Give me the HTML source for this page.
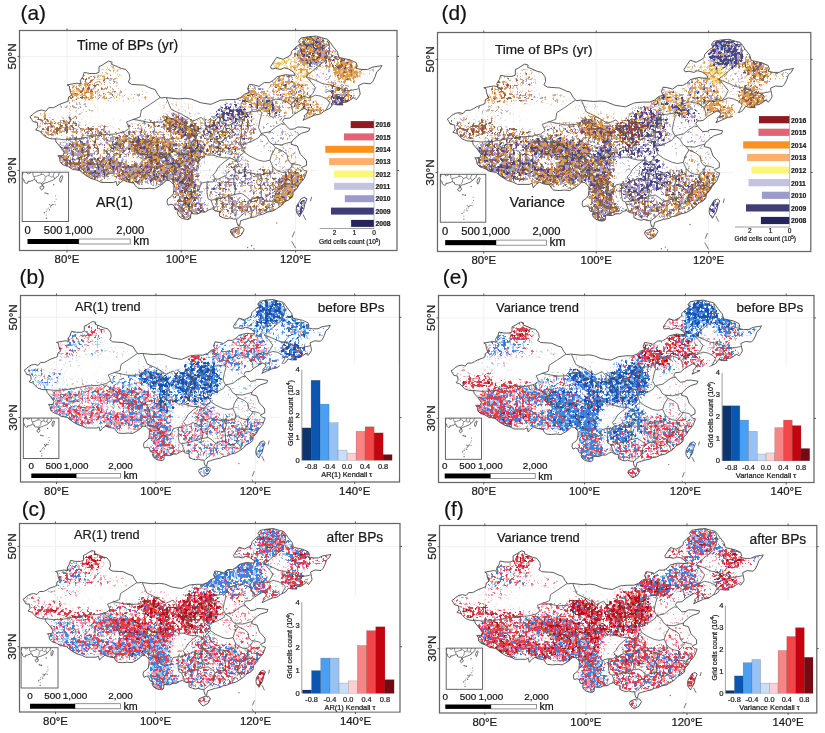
<!DOCTYPE html><html><head><meta charset="utf-8"><style>html,body{margin:0;padding:0;background:#fff;}svg{display:block} text{stroke:#1a1a1a;stroke-width:0.22px;}</style></head><body>
<svg width="825" height="733" viewBox="0 0 825 733" font-family="'Liberation Sans', Arial, sans-serif">
<rect width="825" height="733" fill="#fff"/>
<g id="panel-a">
<line x1="67.0" y1="30.5" x2="67.0" y2="250.5" stroke="#f1f1f1" stroke-width="1"/>
<line x1="181.3" y1="30.5" x2="181.3" y2="250.5" stroke="#f1f1f1" stroke-width="1"/>
<line x1="295.6" y1="30.5" x2="295.6" y2="250.5" stroke="#f1f1f1" stroke-width="1"/>
<line x1="19.5" y1="170.5" x2="397.0" y2="170.5" stroke="#f1f1f1" stroke-width="1"/>
<line x1="19.5" y1="56.4" x2="397.0" y2="56.4" stroke="#f1f1f1" stroke-width="1"/>
<clipPath id="clip-a"><path d="M29.9,116.6L32.1,115.2L34.4,112.9L37.9,110.9L41.9,110.0L45.9,111.2L48.7,107.7L53.3,107.7L56.7,106.0L59.6,104.3L65.9,102.0L68.1,100.9L68.7,96.9L71.6,95.2L69.9,90.1L69.3,86.1L67.0,84.9L76.7,83.2L81.3,83.8L80.1,80.9L83.0,76.4L84.1,72.4L89.9,73.5L95.6,73.5L99.0,72.4L99.0,66.7L102.4,65.0L105.9,62.7L108.7,61.1L112.1,62.1L111.6,64.4L116.1,66.1L121.3,68.4L125.9,69.5L129.3,74.1L129.9,78.6L128.2,82.1L131.6,84.4L140.2,84.9L144.2,85.2L151.0,88.3L155.0,89.5L157.9,94.6L160.7,98.0L165.3,97.5L178.4,98.9L185.9,98.3L191.6,99.2L200.2,102.6L207.0,103.8L211.0,104.3L220.2,100.3L228.2,99.5L235.6,99.5L240.7,97.5L244.7,94.1L249.3,92.3L247.6,88.9L249.3,84.4L253.9,84.9L259.0,86.4L264.2,82.6L269.3,82.6L273.3,80.4L276.7,76.9L280.7,75.8L285.9,74.7L289.9,75.2L295.0,75.2L293.9,72.4L288.7,69.0L284.2,67.8L280.7,69.5L275.6,68.4L271.6,69.0L270.5,66.7L273.9,61.5L276.7,57.3L283.0,59.3L287.6,57.0L291.0,54.7L291.6,51.3L295.6,47.3L300.2,43.8L298.5,41.6L300.7,38.1L308.7,36.7L316.2,36.1L323.0,38.1L327.6,39.3L330.5,42.7L332.7,46.1L337.3,51.8L339.0,57.5L344.7,58.7L349.9,59.8L356.2,62.7L357.3,66.1L356.2,68.4L361.3,69.5L367.6,69.5L372.2,67.2L379.0,66.1L381.9,65.5L379.6,69.5L376.8,71.8L375.0,76.9L372.8,81.5L370.5,83.8L363.6,83.2L358.5,85.5L359.6,90.6L360.2,94.1L358.5,96.9L356.2,99.8L353.9,97.5L350.5,99.8L347.0,102.0L341.9,102.6L343.0,104.9L337.3,104.9L333.3,103.8L329.9,108.3L324.2,111.2L320.2,114.0L314.5,115.2L308.2,118.0L303.0,120.3L304.7,117.4L304.2,115.7L307.0,113.5L308.2,110.6L304.2,108.3L300.2,110.6L294.5,114.0L289.9,118.0L284.2,118.6L282.5,121.4L285.3,124.9L289.9,129.4L294.5,128.9L297.3,127.1L302.5,127.1L309.9,128.3L308.7,131.1L301.3,133.4L297.9,135.7L292.2,140.8L291.0,144.3L297.3,146.0L300.2,154.0L303.6,157.4L306.5,160.8L306.5,165.4L301.3,167.6L304.2,170.5L307.0,171.1L304.2,178.5L301.9,181.3L299.0,184.8L296.7,188.8L293.3,192.2L292.7,196.7L289.3,199.6L284.7,201.9L281.9,205.3L276.7,208.7L272.7,211.0L267.6,212.1L262.5,214.4L258.5,215.0L255.6,216.7L249.9,217.9L244.2,219.6L240.7,220.7L239.6,225.8L237.9,225.3L236.7,221.8L236.7,219.0L233.3,219.0L229.9,217.9L227.0,218.7L223.6,217.9L219.6,216.1L219.6,211.6L215.6,211.0L212.2,208.7L208.7,209.9L205.3,212.1L201.3,212.1L197.9,213.9L193.9,213.9L191.0,213.3L190.4,218.4L188.2,219.6L184.2,219.0L181.3,217.9L178.4,215.6L177.3,212.7L178.4,210.4L175.0,209.3L173.9,205.3L171.0,204.2L168.2,205.3L167.0,202.4L167.6,199.0L171.0,196.7L173.3,193.9L173.9,189.3L173.9,184.8L171.6,182.5L169.9,180.8L166.4,180.2L163.6,183.1L159.6,185.9L154.4,188.8L149.3,188.2L143.6,188.8L137.9,188.2L135.6,185.9L133.9,183.1L127.6,181.9L123.6,180.2L119.6,183.1L117.3,185.9L116.1,181.3L113.3,182.5L107.0,182.5L101.3,182.5L96.7,180.2L91.0,178.5L85.3,175.1L79.6,170.5L74.4,169.4L72.7,169.4L68.1,166.5L63.0,164.8L60.1,161.9L59.6,157.9L57.9,155.7L63.0,155.7L64.1,152.2L61.3,148.3L59.6,146.0L56.1,142.0L55.6,139.1L49.9,138.6L45.3,136.8L41.9,133.4L39.6,131.1L35.6,130.0L37.9,127.1L37.3,122.6L32.7,121.4L31.6,119.2L29.9,116.6ZM301.3,198.5L304.7,197.3L307.0,199.0L304.7,204.7L303.6,209.9L300.7,214.4L299.6,216.7L296.7,212.7L296.2,209.9L296.7,205.9L299.6,201.3ZM230.4,232.1L233.9,236.7L236.2,237.8L241.3,235.0L244.2,229.8L241.9,227.0L238.4,227.0L234.4,228.1L231.0,229.8Z"/></clipPath>
<clipPath id="fclip-a"><rect x="19.5" y="30.5" width="377.5" height="220.0"/></clipPath>
<g clip-path="url(#fclip-a)">
<g clip-path="url(#clip-a)">
<filter id="f1" x="19.5" y="30.5" width="377.5" height="220.0" filterUnits="userSpaceOnUse" color-interpolation-filters="sRGB"><feGaussianBlur in="SourceAlpha" stdDeviation="2.5" result="b"/><feTurbulence type="fractalNoise" baseFrequency="0.32" numOctaves="2" seed="31" result="n"/><feComponentTransfer in="n" result="u"><feFuncA type="table" tableValues="0.000 0.000 0.000 0.000 0.003 0.014 0.048 0.110 0.207 0.331 0.494 0.673 0.802 0.889 0.951 0.984 0.996 0.999 1.000 1.000 1.000"/></feComponentTransfer><feColorMatrix in="u" type="matrix" values="0 0 0 0 0 0 0 0 0 0 0 0 0 0 0 0 0 0 1 0" result="ua"/><feComponentTransfer in="b" result="bm"><feFuncA type="linear" slope="25" intercept="0"/></feComponentTransfer><feComposite in="b" in2="ua" operator="arithmetic" k2="8" k3="-8" k4="0.5" result="m0"/><feComposite in="m0" in2="bm" operator="in" result="m"/><feFlood flood-color="#a3a1d1"/><feComposite in2="m" operator="in"/><feGaussianBlur stdDeviation="0.6"/></filter>
<g filter="url(#f1)">
<ellipse cx="109.9" cy="73.5" rx="11.8" ry="7.9" transform="rotate(-30 109.9 73.5)" fill-opacity="0.071"/>
<ellipse cx="107.0" cy="94.6" rx="16.4" ry="4.6" transform="rotate(0 107.0 94.6)" fill-opacity="0.058"/>
<ellipse cx="135.6" cy="96.3" rx="16.4" ry="5.9" transform="rotate(0 135.6 96.3)" fill-opacity="0.058"/>
<ellipse cx="104.1" cy="83.2" rx="16.4" ry="6.6" transform="rotate(0 104.1 83.2)" fill-opacity="0.045"/>
<ellipse cx="75.6" cy="106.6" rx="23.0" ry="4.6" transform="rotate(10 75.6 106.6)" fill-opacity="0.09"/>
<ellipse cx="87.0" cy="119.2" rx="39.4" ry="10.5" transform="rotate(0 87.0 119.2)" fill-opacity="0.014"/>
<ellipse cx="58.4" cy="127.7" rx="19.7" ry="5.9" transform="rotate(-25 58.4 127.7)" fill-opacity="0.214"/>
<ellipse cx="98.4" cy="131.7" rx="23.0" ry="3.9" transform="rotate(0 98.4 131.7)" fill-opacity="0.092"/>
<ellipse cx="41.3" cy="120.3" rx="9.9" ry="7.9" transform="rotate(0 41.3 120.3)" fill-opacity="0.071"/>
<ellipse cx="75.6" cy="156.2" rx="17.1" ry="17.7" transform="rotate(0 75.6 156.2)" fill-opacity="0.598"/>
<ellipse cx="101.3" cy="144.8" rx="23.0" ry="9.8" transform="rotate(0 101.3 144.8)" fill-opacity="0.194"/>
<ellipse cx="129.9" cy="144.8" rx="19.7" ry="9.8" transform="rotate(0 129.9 144.8)" fill-opacity="0.477"/>
<ellipse cx="101.3" cy="167.6" rx="23.0" ry="9.8" transform="rotate(-15 101.3 167.6)" fill-opacity="0.802"/>
<ellipse cx="132.7" cy="173.4" rx="16.4" ry="9.8" transform="rotate(0 132.7 173.4)" fill-opacity="0.74"/>
<ellipse cx="158.4" cy="167.6" rx="16.4" ry="16.4" transform="rotate(0 158.4 167.6)" fill-opacity="0.796"/>
<ellipse cx="147.0" cy="128.9" rx="19.7" ry="7.9" transform="rotate(0 147.0 128.9)" fill-opacity="0.078"/>
<ellipse cx="155.6" cy="147.7" rx="23.0" ry="10.5" transform="rotate(0 155.6 147.7)" fill-opacity="0.68"/>
<ellipse cx="181.3" cy="127.7" rx="19.7" ry="9.8" transform="rotate(20 181.3 127.7)" fill-opacity="0.463"/>
<ellipse cx="192.7" cy="150.5" rx="11.8" ry="11.8" transform="rotate(0 192.7 150.5)" fill-opacity="0.698"/>
<ellipse cx="184.2" cy="170.5" rx="13.1" ry="16.4" transform="rotate(0 184.2 170.5)" fill-opacity="0.796"/>
<ellipse cx="181.3" cy="110.6" rx="26.3" ry="7.9" transform="rotate(20 181.3 110.6)" fill-opacity="0.029"/>
<ellipse cx="215.6" cy="130.6" rx="13.1" ry="13.1" transform="rotate(0 215.6 130.6)" fill-opacity="0.338"/>
<ellipse cx="241.3" cy="127.7" rx="13.1" ry="16.4" transform="rotate(0 241.3 127.7)" fill-opacity="0.258"/>
<ellipse cx="232.7" cy="113.5" rx="16.4" ry="7.9" transform="rotate(0 232.7 113.5)" fill-opacity="0.534"/>
<ellipse cx="255.6" cy="99.2" rx="23.0" ry="9.8" transform="rotate(20 255.6 99.2)" fill-opacity="0.453"/>
<ellipse cx="289.9" cy="90.6" rx="19.7" ry="13.1" transform="rotate(30 289.9 90.6)" fill-opacity="0.282"/>
<ellipse cx="312.7" cy="50.7" rx="16.4" ry="14.4" transform="rotate(0 312.7 50.7)" fill-opacity="0.6"/>
<ellipse cx="338.5" cy="62.1" rx="11.8" ry="9.8" transform="rotate(0 338.5 62.1)" fill-opacity="0.17"/>
<ellipse cx="321.3" cy="79.2" rx="13.1" ry="13.1" transform="rotate(0 321.3 79.2)" fill-opacity="0.086"/>
<ellipse cx="340.2" cy="96.3" rx="15.1" ry="10.5" transform="rotate(40 340.2 96.3)" fill-opacity="0.299"/>
<ellipse cx="272.7" cy="110.6" rx="13.1" ry="6.6" transform="rotate(20 272.7 110.6)" fill-opacity="0.235"/>
<ellipse cx="272.7" cy="136.3" rx="16.4" ry="19.7" transform="rotate(0 272.7 136.3)" fill-opacity="0.069"/>
<ellipse cx="289.9" cy="134.6" rx="11.8" ry="7.2" transform="rotate(0 289.9 134.6)" fill-opacity="0.072"/>
<ellipse cx="224.2" cy="148.8" rx="19.7" ry="5.2" transform="rotate(0 224.2 148.8)" fill-opacity="0.407"/>
<ellipse cx="212.7" cy="170.5" rx="13.1" ry="13.1" transform="rotate(30 212.7 170.5)" fill-opacity="0.028"/>
<ellipse cx="238.4" cy="173.4" rx="13.1" ry="16.4" transform="rotate(0 238.4 173.4)" fill-opacity="0.261"/>
<ellipse cx="284.2" cy="159.1" rx="13.1" ry="13.1" transform="rotate(0 284.2 159.1)" fill-opacity="0.089"/>
<ellipse cx="264.2" cy="184.8" rx="16.4" ry="16.4" transform="rotate(0 264.2 184.8)" fill-opacity="0.224"/>
<ellipse cx="288.7" cy="187.6" rx="11.8" ry="19.7" transform="rotate(35 288.7 187.6)" fill-opacity="0.573"/>
<ellipse cx="220.2" cy="188.8" rx="13.1" ry="10.5" transform="rotate(0 220.2 188.8)" fill-opacity="0.275"/>
<ellipse cx="187.0" cy="190.5" rx="13.1" ry="13.1" transform="rotate(0 187.0 190.5)" fill-opacity="0.509"/>
<ellipse cx="189.9" cy="209.3" rx="16.4" ry="10.5" transform="rotate(0 189.9 209.3)" fill-opacity="0.534"/>
<ellipse cx="229.9" cy="205.9" rx="16.4" ry="9.8" transform="rotate(0 229.9 205.9)" fill-opacity="0.364"/>
<ellipse cx="258.5" cy="207.6" rx="16.4" ry="8.5" transform="rotate(0 258.5 207.6)" fill-opacity="0.353"/>
<ellipse cx="236.7" cy="232.1" rx="6.6" ry="5.2" transform="rotate(0 236.7 232.1)" fill-opacity="0.462"/>
<ellipse cx="301.3" cy="206.4" rx="3.9" ry="9.8" transform="rotate(15 301.3 206.4)" fill-opacity="0.471"/>
<ellipse cx="369.9" cy="70.7" rx="9.9" ry="5.2" transform="rotate(0 369.9 70.7)" fill-opacity="0.043"/>
<ellipse cx="78.4" cy="129.4" rx="34.3" ry="3.4" transform="rotate(5.0 78.4 129.4)" fill-opacity="0.198"/>
<ellipse cx="339.0" cy="100.3" rx="5.7" ry="4.0" transform="rotate(-30.0 339.0 100.3)" fill-opacity="0.573"/>
</g>
<filter id="f2" x="19.5" y="30.5" width="377.5" height="220.0" filterUnits="userSpaceOnUse" color-interpolation-filters="sRGB"><feGaussianBlur in="SourceAlpha" stdDeviation="2.5" result="b"/><feTurbulence type="fractalNoise" baseFrequency="0.32" numOctaves="2" seed="17" result="n"/><feComponentTransfer in="n" result="u"><feFuncA type="table" tableValues="0.000 0.000 0.000 0.000 0.003 0.014 0.048 0.110 0.207 0.331 0.494 0.673 0.802 0.889 0.951 0.984 0.996 0.999 1.000 1.000 1.000"/></feComponentTransfer><feColorMatrix in="u" type="matrix" values="0 0 0 0 0 0 0 0 0 0 0 0 0 0 0 0 0 0 1 0" result="ua"/><feComponentTransfer in="b" result="bm"><feFuncA type="linear" slope="25" intercept="0"/></feComponentTransfer><feComposite in="b" in2="ua" operator="arithmetic" k2="8" k3="-8" k4="0.5" result="m0"/><feComposite in="m0" in2="bm" operator="in" result="m"/><feFlood flood-color="#ece08a"/><feComposite in2="m" operator="in"/><feGaussianBlur stdDeviation="0.6"/></filter>
<g filter="url(#f2)">
<ellipse cx="109.9" cy="73.5" rx="11.8" ry="7.9" transform="rotate(-30 109.9 73.5)" fill-opacity="0.096"/>
<ellipse cx="284.2" cy="65.0" rx="11.8" ry="9.8" transform="rotate(0 284.2 65.0)" fill-opacity="0.381"/>
<ellipse cx="301.3" cy="70.7" rx="9.9" ry="11.8" transform="rotate(0 301.3 70.7)" fill-opacity="0.316"/>
</g>
<filter id="f3" x="19.5" y="30.5" width="377.5" height="220.0" filterUnits="userSpaceOnUse" color-interpolation-filters="sRGB"><feGaussianBlur in="SourceAlpha" stdDeviation="2.5" result="b"/><feTurbulence type="fractalNoise" baseFrequency="0.32" numOctaves="2" seed="10" result="n"/><feComponentTransfer in="n" result="u"><feFuncA type="table" tableValues="0.000 0.000 0.000 0.000 0.003 0.014 0.048 0.110 0.207 0.331 0.494 0.673 0.802 0.889 0.951 0.984 0.996 0.999 1.000 1.000 1.000"/></feComponentTransfer><feColorMatrix in="u" type="matrix" values="0 0 0 0 0 0 0 0 0 0 0 0 0 0 0 0 0 0 1 0" result="ua"/><feComponentTransfer in="b" result="bm"><feFuncA type="linear" slope="25" intercept="0"/></feComponentTransfer><feComposite in="b" in2="ua" operator="arithmetic" k2="8" k3="-8" k4="0.5" result="m0"/><feComposite in="m0" in2="bm" operator="in" result="m"/><feFlood flood-color="#f5bf88"/><feComposite in2="m" operator="in"/><feGaussianBlur stdDeviation="0.6"/></filter>
<g filter="url(#f3)">
<ellipse cx="81.3" cy="93.5" rx="16.4" ry="5.9" transform="rotate(0 81.3 93.5)" fill-opacity="0.282"/>
<ellipse cx="255.6" cy="99.2" rx="23.0" ry="9.8" transform="rotate(20 255.6 99.2)" fill-opacity="0.274"/>
<ellipse cx="289.9" cy="90.6" rx="19.7" ry="13.1" transform="rotate(30 289.9 90.6)" fill-opacity="0.22"/>
<ellipse cx="284.2" cy="65.0" rx="11.8" ry="9.8" transform="rotate(0 284.2 65.0)" fill-opacity="0.222"/>
<ellipse cx="347.0" cy="71.2" rx="12.5" ry="9.2" transform="rotate(0 347.0 71.2)" fill-opacity="0.74"/>
<ellipse cx="307.0" cy="107.7" rx="16.4" ry="8.5" transform="rotate(20 307.0 107.7)" fill-opacity="0.267"/>
<ellipse cx="301.3" cy="70.7" rx="9.9" ry="11.8" transform="rotate(0 301.3 70.7)" fill-opacity="0.174"/>
</g>
<filter id="f4" x="19.5" y="30.5" width="377.5" height="220.0" filterUnits="userSpaceOnUse" color-interpolation-filters="sRGB"><feGaussianBlur in="SourceAlpha" stdDeviation="2.5" result="b"/><feTurbulence type="fractalNoise" baseFrequency="0.32" numOctaves="2" seed="3" result="n"/><feComponentTransfer in="n" result="u"><feFuncA type="table" tableValues="0.000 0.000 0.000 0.000 0.003 0.014 0.048 0.110 0.207 0.331 0.494 0.673 0.802 0.889 0.951 0.984 0.996 0.999 1.000 1.000 1.000"/></feComponentTransfer><feColorMatrix in="u" type="matrix" values="0 0 0 0 0 0 0 0 0 0 0 0 0 0 0 0 0 0 1 0" result="ua"/><feComponentTransfer in="b" result="bm"><feFuncA type="linear" slope="25" intercept="0"/></feComponentTransfer><feComposite in="b" in2="ua" operator="arithmetic" k2="8" k3="-8" k4="0.5" result="m0"/><feComposite in="m0" in2="bm" operator="in" result="m"/><feFlood flood-color="#e09a4c"/><feComposite in2="m" operator="in"/><feGaussianBlur stdDeviation="0.6"/></filter>
<g filter="url(#f4)">
<ellipse cx="109.9" cy="73.5" rx="11.8" ry="7.9" transform="rotate(-30 109.9 73.5)" fill-opacity="0.074"/>
<ellipse cx="87.0" cy="82.1" rx="9.9" ry="6.6" transform="rotate(0 87.0 82.1)" fill-opacity="0.224"/>
<ellipse cx="81.3" cy="93.5" rx="16.4" ry="5.9" transform="rotate(0 81.3 93.5)" fill-opacity="0.413"/>
<ellipse cx="107.0" cy="94.6" rx="16.4" ry="4.6" transform="rotate(0 107.0 94.6)" fill-opacity="0.163"/>
<ellipse cx="135.6" cy="96.3" rx="16.4" ry="5.9" transform="rotate(0 135.6 96.3)" fill-opacity="0.055"/>
<ellipse cx="104.1" cy="83.2" rx="16.4" ry="6.6" transform="rotate(0 104.1 83.2)" fill-opacity="0.043"/>
<ellipse cx="75.6" cy="106.6" rx="23.0" ry="4.6" transform="rotate(10 75.6 106.6)" fill-opacity="0.043"/>
<ellipse cx="58.4" cy="127.7" rx="19.7" ry="5.9" transform="rotate(-25 58.4 127.7)" fill-opacity="0.286"/>
<ellipse cx="98.4" cy="131.7" rx="23.0" ry="3.9" transform="rotate(0 98.4 131.7)" fill-opacity="0.128"/>
<ellipse cx="41.3" cy="120.3" rx="9.9" ry="7.9" transform="rotate(0 41.3 120.3)" fill-opacity="0.124"/>
<ellipse cx="75.6" cy="156.2" rx="17.1" ry="17.7" transform="rotate(0 75.6 156.2)" fill-opacity="0.295"/>
<ellipse cx="101.3" cy="144.8" rx="23.0" ry="9.8" transform="rotate(0 101.3 144.8)" fill-opacity="0.135"/>
<ellipse cx="129.9" cy="144.8" rx="19.7" ry="9.8" transform="rotate(0 129.9 144.8)" fill-opacity="0.323"/>
<ellipse cx="101.3" cy="167.6" rx="23.0" ry="9.8" transform="rotate(-15 101.3 167.6)" fill-opacity="0.368"/>
<ellipse cx="132.7" cy="173.4" rx="16.4" ry="9.8" transform="rotate(0 132.7 173.4)" fill-opacity="0.52"/>
<ellipse cx="158.4" cy="167.6" rx="16.4" ry="16.4" transform="rotate(0 158.4 167.6)" fill-opacity="0.374"/>
<ellipse cx="147.0" cy="128.9" rx="19.7" ry="7.9" transform="rotate(0 147.0 128.9)" fill-opacity="0.135"/>
<ellipse cx="155.6" cy="147.7" rx="23.0" ry="10.5" transform="rotate(0 155.6 147.7)" fill-opacity="0.63"/>
<ellipse cx="181.3" cy="127.7" rx="19.7" ry="9.8" transform="rotate(20 181.3 127.7)" fill-opacity="0.735"/>
<ellipse cx="192.7" cy="150.5" rx="11.8" ry="11.8" transform="rotate(0 192.7 150.5)" fill-opacity="0.561"/>
<ellipse cx="184.2" cy="170.5" rx="13.1" ry="16.4" transform="rotate(0 184.2 170.5)" fill-opacity="0.374"/>
<ellipse cx="181.3" cy="110.6" rx="26.3" ry="7.9" transform="rotate(20 181.3 110.6)" fill-opacity="0.041"/>
<ellipse cx="215.6" cy="130.6" rx="13.1" ry="13.1" transform="rotate(0 215.6 130.6)" fill-opacity="0.297"/>
<ellipse cx="241.3" cy="127.7" rx="13.1" ry="16.4" transform="rotate(0 241.3 127.7)" fill-opacity="0.205"/>
<ellipse cx="232.7" cy="113.5" rx="16.4" ry="7.9" transform="rotate(0 232.7 113.5)" fill-opacity="0.118"/>
<ellipse cx="255.6" cy="99.2" rx="23.0" ry="9.8" transform="rotate(20 255.6 99.2)" fill-opacity="0.434"/>
<ellipse cx="289.9" cy="90.6" rx="19.7" ry="13.1" transform="rotate(30 289.9 90.6)" fill-opacity="0.326"/>
<ellipse cx="284.2" cy="65.0" rx="11.8" ry="9.8" transform="rotate(0 284.2 65.0)" fill-opacity="0.069"/>
<ellipse cx="312.7" cy="50.7" rx="16.4" ry="14.4" transform="rotate(0 312.7 50.7)" fill-opacity="0.692"/>
<ellipse cx="338.5" cy="62.1" rx="11.8" ry="9.8" transform="rotate(0 338.5 62.1)" fill-opacity="0.459"/>
<ellipse cx="321.3" cy="79.2" rx="13.1" ry="13.1" transform="rotate(0 321.3 79.2)" fill-opacity="0.041"/>
<ellipse cx="347.0" cy="71.2" rx="12.5" ry="9.2" transform="rotate(0 347.0 71.2)" fill-opacity="0.689"/>
<ellipse cx="340.2" cy="96.3" rx="15.1" ry="10.5" transform="rotate(40 340.2 96.3)" fill-opacity="0.35"/>
<ellipse cx="307.0" cy="107.7" rx="16.4" ry="8.5" transform="rotate(20 307.0 107.7)" fill-opacity="0.4"/>
<ellipse cx="272.7" cy="110.6" rx="13.1" ry="6.6" transform="rotate(20 272.7 110.6)" fill-opacity="0.261"/>
<ellipse cx="289.9" cy="134.6" rx="11.8" ry="7.2" transform="rotate(0 289.9 134.6)" fill-opacity="0.041"/>
<ellipse cx="224.2" cy="148.8" rx="19.7" ry="5.2" transform="rotate(0 224.2 148.8)" fill-opacity="0.379"/>
<ellipse cx="238.4" cy="173.4" rx="13.1" ry="16.4" transform="rotate(0 238.4 173.4)" fill-opacity="0.08"/>
<ellipse cx="284.2" cy="159.1" rx="13.1" ry="13.1" transform="rotate(0 284.2 159.1)" fill-opacity="0.069"/>
<ellipse cx="264.2" cy="184.8" rx="16.4" ry="16.4" transform="rotate(0 264.2 184.8)" fill-opacity="0.13"/>
<ellipse cx="288.7" cy="187.6" rx="11.8" ry="19.7" transform="rotate(35 288.7 187.6)" fill-opacity="0.632"/>
<ellipse cx="220.2" cy="188.8" rx="13.1" ry="10.5" transform="rotate(0 220.2 188.8)" fill-opacity="0.084"/>
<ellipse cx="187.0" cy="190.5" rx="13.1" ry="13.1" transform="rotate(0 187.0 190.5)" fill-opacity="0.337"/>
<ellipse cx="189.9" cy="209.3" rx="16.4" ry="10.5" transform="rotate(0 189.9 209.3)" fill-opacity="0.211"/>
<ellipse cx="229.9" cy="205.9" rx="16.4" ry="9.8" transform="rotate(0 229.9 205.9)" fill-opacity="0.139"/>
<ellipse cx="258.5" cy="207.6" rx="16.4" ry="8.5" transform="rotate(0 258.5 207.6)" fill-opacity="0.261"/>
<ellipse cx="236.7" cy="232.1" rx="6.6" ry="5.2" transform="rotate(0 236.7 232.1)" fill-opacity="0.381"/>
<ellipse cx="301.3" cy="70.7" rx="9.9" ry="11.8" transform="rotate(0 301.3 70.7)" fill-opacity="0.207"/>
<ellipse cx="78.4" cy="129.4" rx="34.3" ry="3.4" transform="rotate(5.0 78.4 129.4)" fill-opacity="0.229"/>
</g>
<filter id="f5" x="19.5" y="30.5" width="377.5" height="220.0" filterUnits="userSpaceOnUse" color-interpolation-filters="sRGB"><feGaussianBlur in="SourceAlpha" stdDeviation="2.5" result="b"/><feTurbulence type="fractalNoise" baseFrequency="0.32" numOctaves="2" seed="45" result="n"/><feComponentTransfer in="n" result="u"><feFuncA type="table" tableValues="0.000 0.000 0.000 0.000 0.003 0.014 0.048 0.110 0.207 0.331 0.494 0.673 0.802 0.889 0.951 0.984 0.996 0.999 1.000 1.000 1.000"/></feComponentTransfer><feColorMatrix in="u" type="matrix" values="0 0 0 0 0 0 0 0 0 0 0 0 0 0 0 0 0 0 1 0" result="ua"/><feComponentTransfer in="b" result="bm"><feFuncA type="linear" slope="25" intercept="0"/></feComponentTransfer><feComposite in="b" in2="ua" operator="arithmetic" k2="8" k3="-8" k4="0.5" result="m0"/><feComposite in="m0" in2="bm" operator="in" result="m"/><feFlood flood-color="#e07a85"/><feComposite in2="m" operator="in"/><feGaussianBlur stdDeviation="0.6"/></filter>
<g filter="url(#f5)">
<ellipse cx="107.0" cy="94.6" rx="16.4" ry="4.6" transform="rotate(0 107.0 94.6)" fill-opacity="0.047"/>
</g>
<filter id="f6" x="19.5" y="30.5" width="377.5" height="220.0" filterUnits="userSpaceOnUse" color-interpolation-filters="sRGB"><feGaussianBlur in="SourceAlpha" stdDeviation="2.5" result="b"/><feTurbulence type="fractalNoise" baseFrequency="0.32" numOctaves="2" seed="52" result="n"/><feComponentTransfer in="n" result="u"><feFuncA type="table" tableValues="0.000 0.000 0.000 0.000 0.003 0.014 0.048 0.110 0.207 0.331 0.494 0.673 0.802 0.889 0.951 0.984 0.996 0.999 1.000 1.000 1.000"/></feComponentTransfer><feColorMatrix in="u" type="matrix" values="0 0 0 0 0 0 0 0 0 0 0 0 0 0 0 0 0 0 1 0" result="ua"/><feComponentTransfer in="b" result="bm"><feFuncA type="linear" slope="25" intercept="0"/></feComponentTransfer><feComposite in="b" in2="ua" operator="arithmetic" k2="8" k3="-8" k4="0.5" result="m0"/><feComposite in="m0" in2="bm" operator="in" result="m"/><feFlood flood-color="#8f6450"/><feComposite in2="m" operator="in"/><feGaussianBlur stdDeviation="0.6"/></filter>
<g filter="url(#f6)">
<ellipse cx="109.9" cy="73.5" rx="11.8" ry="7.9" transform="rotate(-30 109.9 73.5)" fill-opacity="0.069"/>
<ellipse cx="87.0" cy="82.1" rx="9.9" ry="6.6" transform="rotate(0 87.0 82.1)" fill-opacity="0.219"/>
<ellipse cx="81.3" cy="93.5" rx="16.4" ry="5.9" transform="rotate(0 81.3 93.5)" fill-opacity="0.166"/>
<ellipse cx="107.0" cy="94.6" rx="16.4" ry="4.6" transform="rotate(0 107.0 94.6)" fill-opacity="0.11"/>
<ellipse cx="104.1" cy="83.2" rx="16.4" ry="6.6" transform="rotate(0 104.1 83.2)" fill-opacity="0.041"/>
<ellipse cx="75.6" cy="106.6" rx="23.0" ry="4.6" transform="rotate(10 75.6 106.6)" fill-opacity="0.041"/>
<ellipse cx="58.4" cy="127.7" rx="19.7" ry="5.9" transform="rotate(-25 58.4 127.7)" fill-opacity="0.276"/>
<ellipse cx="98.4" cy="131.7" rx="23.0" ry="3.9" transform="rotate(0 98.4 131.7)" fill-opacity="0.138"/>
<ellipse cx="41.3" cy="120.3" rx="9.9" ry="7.9" transform="rotate(0 41.3 120.3)" fill-opacity="0.11"/>
<ellipse cx="75.6" cy="156.2" rx="17.1" ry="17.7" transform="rotate(0 75.6 156.2)" fill-opacity="0.296"/>
<ellipse cx="101.3" cy="144.8" rx="23.0" ry="9.8" transform="rotate(0 101.3 144.8)" fill-opacity="0.144"/>
<ellipse cx="129.9" cy="144.8" rx="19.7" ry="9.8" transform="rotate(0 129.9 144.8)" fill-opacity="0.279"/>
<ellipse cx="101.3" cy="167.6" rx="23.0" ry="9.8" transform="rotate(-15 101.3 167.6)" fill-opacity="0.336"/>
<ellipse cx="132.7" cy="173.4" rx="16.4" ry="9.8" transform="rotate(0 132.7 173.4)" fill-opacity="0.372"/>
<ellipse cx="158.4" cy="167.6" rx="16.4" ry="16.4" transform="rotate(0 158.4 167.6)" fill-opacity="0.384"/>
<ellipse cx="147.0" cy="128.9" rx="19.7" ry="7.9" transform="rotate(0 147.0 128.9)" fill-opacity="0.144"/>
<ellipse cx="155.6" cy="147.7" rx="23.0" ry="10.5" transform="rotate(0 155.6 147.7)" fill-opacity="0.344"/>
<ellipse cx="181.3" cy="127.7" rx="19.7" ry="9.8" transform="rotate(20 181.3 127.7)" fill-opacity="0.424"/>
<ellipse cx="192.7" cy="150.5" rx="11.8" ry="11.8" transform="rotate(0 192.7 150.5)" fill-opacity="0.338"/>
<ellipse cx="184.2" cy="170.5" rx="13.1" ry="16.4" transform="rotate(0 184.2 170.5)" fill-opacity="0.384"/>
<ellipse cx="215.6" cy="130.6" rx="13.1" ry="13.1" transform="rotate(0 215.6 130.6)" fill-opacity="0.192"/>
<ellipse cx="241.3" cy="127.7" rx="13.1" ry="16.4" transform="rotate(0 241.3 127.7)" fill-opacity="0.12"/>
<ellipse cx="312.7" cy="50.7" rx="16.4" ry="14.4" transform="rotate(0 312.7 50.7)" fill-opacity="0.293"/>
<ellipse cx="338.5" cy="62.1" rx="11.8" ry="9.8" transform="rotate(0 338.5 62.1)" fill-opacity="0.155"/>
<ellipse cx="347.0" cy="71.2" rx="12.5" ry="9.2" transform="rotate(0 347.0 71.2)" fill-opacity="0.133"/>
<ellipse cx="340.2" cy="96.3" rx="15.1" ry="10.5" transform="rotate(40 340.2 96.3)" fill-opacity="0.226"/>
<ellipse cx="307.0" cy="107.7" rx="16.4" ry="8.5" transform="rotate(20 307.0 107.7)" fill-opacity="0.074"/>
<ellipse cx="272.7" cy="110.6" rx="13.1" ry="6.6" transform="rotate(20 272.7 110.6)" fill-opacity="0.08"/>
<ellipse cx="224.2" cy="148.8" rx="19.7" ry="5.2" transform="rotate(0 224.2 148.8)" fill-opacity="0.24"/>
<ellipse cx="238.4" cy="173.4" rx="13.1" ry="16.4" transform="rotate(0 238.4 173.4)" fill-opacity="0.074"/>
<ellipse cx="264.2" cy="184.8" rx="16.4" ry="16.4" transform="rotate(0 264.2 184.8)" fill-opacity="0.115"/>
<ellipse cx="288.7" cy="187.6" rx="11.8" ry="19.7" transform="rotate(35 288.7 187.6)" fill-opacity="0.296"/>
<ellipse cx="220.2" cy="188.8" rx="13.1" ry="10.5" transform="rotate(0 220.2 188.8)" fill-opacity="0.119"/>
<ellipse cx="187.0" cy="190.5" rx="13.1" ry="13.1" transform="rotate(0 187.0 190.5)" fill-opacity="0.31"/>
<ellipse cx="189.9" cy="209.3" rx="16.4" ry="10.5" transform="rotate(0 189.9 209.3)" fill-opacity="0.296"/>
<ellipse cx="229.9" cy="205.9" rx="16.4" ry="9.8" transform="rotate(0 229.9 205.9)" fill-opacity="0.207"/>
<ellipse cx="258.5" cy="207.6" rx="16.4" ry="8.5" transform="rotate(0 258.5 207.6)" fill-opacity="0.207"/>
<ellipse cx="236.7" cy="232.1" rx="6.6" ry="5.2" transform="rotate(0 236.7 232.1)" fill-opacity="0.276"/>
<ellipse cx="369.9" cy="70.7" rx="9.9" ry="5.2" transform="rotate(0 369.9 70.7)" fill-opacity="0.041"/>
<ellipse cx="78.4" cy="129.4" rx="34.3" ry="3.4" transform="rotate(5.0 78.4 129.4)" fill-opacity="0.276"/>
</g>
<filter id="f7" x="19.5" y="30.5" width="377.5" height="220.0" filterUnits="userSpaceOnUse" color-interpolation-filters="sRGB"><feGaussianBlur in="SourceAlpha" stdDeviation="2.5" result="b"/><feTurbulence type="fractalNoise" baseFrequency="0.32" numOctaves="2" seed="38" result="n"/><feComponentTransfer in="n" result="u"><feFuncA type="table" tableValues="0.000 0.000 0.000 0.000 0.003 0.014 0.048 0.110 0.207 0.331 0.494 0.673 0.802 0.889 0.951 0.984 0.996 0.999 1.000 1.000 1.000"/></feComponentTransfer><feColorMatrix in="u" type="matrix" values="0 0 0 0 0 0 0 0 0 0 0 0 0 0 0 0 0 0 1 0" result="ua"/><feComponentTransfer in="b" result="bm"><feFuncA type="linear" slope="25" intercept="0"/></feComponentTransfer><feComposite in="b" in2="ua" operator="arithmetic" k2="8" k3="-8" k4="0.5" result="m0"/><feComposite in="m0" in2="bm" operator="in" result="m"/><feFlood flood-color="#a03c3c"/><feComposite in2="m" operator="in"/><feGaussianBlur stdDeviation="0.6"/></filter>
<g filter="url(#f7)">
<ellipse cx="87.0" cy="82.1" rx="9.9" ry="6.6" transform="rotate(0 87.0 82.1)" fill-opacity="0.055"/>
</g>
<filter id="f8" x="19.5" y="30.5" width="377.5" height="220.0" filterUnits="userSpaceOnUse" color-interpolation-filters="sRGB"><feGaussianBlur in="SourceAlpha" stdDeviation="2.5" result="b"/><feTurbulence type="fractalNoise" baseFrequency="0.32" numOctaves="2" seed="24" result="n"/><feComponentTransfer in="n" result="u"><feFuncA type="table" tableValues="0.000 0.000 0.000 0.000 0.003 0.014 0.048 0.110 0.207 0.331 0.494 0.673 0.802 0.889 0.951 0.984 0.996 0.999 1.000 1.000 1.000"/></feComponentTransfer><feColorMatrix in="u" type="matrix" values="0 0 0 0 0 0 0 0 0 0 0 0 0 0 0 0 0 0 1 0" result="ua"/><feComponentTransfer in="b" result="bm"><feFuncA type="linear" slope="25" intercept="0"/></feComponentTransfer><feComposite in="b" in2="ua" operator="arithmetic" k2="8" k3="-8" k4="0.5" result="m0"/><feComposite in="m0" in2="bm" operator="in" result="m"/><feFlood flood-color="#46458e"/><feComposite in2="m" operator="in"/><feGaussianBlur stdDeviation="0.6"/></filter>
<g filter="url(#f8)">
<ellipse cx="75.6" cy="156.2" rx="17.1" ry="17.7" transform="rotate(0 75.6 156.2)" fill-opacity="0.069"/>
<ellipse cx="101.3" cy="144.8" rx="23.0" ry="9.8" transform="rotate(0 101.3 144.8)" fill-opacity="0.041"/>
<ellipse cx="129.9" cy="144.8" rx="19.7" ry="9.8" transform="rotate(0 129.9 144.8)" fill-opacity="0.11"/>
<ellipse cx="101.3" cy="167.6" rx="23.0" ry="9.8" transform="rotate(-15 101.3 167.6)" fill-opacity="0.155"/>
<ellipse cx="132.7" cy="173.4" rx="16.4" ry="9.8" transform="rotate(0 132.7 173.4)" fill-opacity="0.106"/>
<ellipse cx="158.4" cy="167.6" rx="16.4" ry="16.4" transform="rotate(0 158.4 167.6)" fill-opacity="0.109"/>
<ellipse cx="147.0" cy="128.9" rx="19.7" ry="7.9" transform="rotate(0 147.0 128.9)" fill-opacity="0.041"/>
<ellipse cx="155.6" cy="147.7" rx="23.0" ry="10.5" transform="rotate(0 155.6 147.7)" fill-opacity="0.099"/>
<ellipse cx="181.3" cy="127.7" rx="19.7" ry="9.8" transform="rotate(20 181.3 127.7)" fill-opacity="0.145"/>
<ellipse cx="192.7" cy="150.5" rx="11.8" ry="11.8" transform="rotate(0 192.7 150.5)" fill-opacity="0.202"/>
<ellipse cx="184.2" cy="170.5" rx="13.1" ry="16.4" transform="rotate(0 184.2 170.5)" fill-opacity="0.109"/>
<ellipse cx="215.6" cy="130.6" rx="13.1" ry="13.1" transform="rotate(0 215.6 130.6)" fill-opacity="0.138"/>
<ellipse cx="241.3" cy="127.7" rx="13.1" ry="16.4" transform="rotate(0 241.3 127.7)" fill-opacity="0.083"/>
<ellipse cx="232.7" cy="113.5" rx="16.4" ry="7.9" transform="rotate(0 232.7 113.5)" fill-opacity="0.414"/>
<ellipse cx="255.6" cy="99.2" rx="23.0" ry="9.8" transform="rotate(20 255.6 99.2)" fill-opacity="0.11"/>
<ellipse cx="289.9" cy="90.6" rx="19.7" ry="13.1" transform="rotate(30 289.9 90.6)" fill-opacity="0.069"/>
<ellipse cx="312.7" cy="50.7" rx="16.4" ry="14.4" transform="rotate(0 312.7 50.7)" fill-opacity="0.196"/>
<ellipse cx="338.5" cy="62.1" rx="11.8" ry="9.8" transform="rotate(0 338.5 62.1)" fill-opacity="0.11"/>
<ellipse cx="340.2" cy="96.3" rx="15.1" ry="10.5" transform="rotate(40 340.2 96.3)" fill-opacity="0.083"/>
<ellipse cx="307.0" cy="107.7" rx="16.4" ry="8.5" transform="rotate(20 307.0 107.7)" fill-opacity="0.069"/>
<ellipse cx="272.7" cy="110.6" rx="13.1" ry="6.6" transform="rotate(20 272.7 110.6)" fill-opacity="0.138"/>
<ellipse cx="224.2" cy="148.8" rx="19.7" ry="5.2" transform="rotate(0 224.2 148.8)" fill-opacity="0.138"/>
<ellipse cx="238.4" cy="173.4" rx="13.1" ry="16.4" transform="rotate(0 238.4 173.4)" fill-opacity="0.069"/>
<ellipse cx="264.2" cy="184.8" rx="16.4" ry="16.4" transform="rotate(0 264.2 184.8)" fill-opacity="0.041"/>
<ellipse cx="288.7" cy="187.6" rx="11.8" ry="19.7" transform="rotate(35 288.7 187.6)" fill-opacity="0.069"/>
<ellipse cx="220.2" cy="188.8" rx="13.1" ry="10.5" transform="rotate(0 220.2 188.8)" fill-opacity="0.069"/>
<ellipse cx="187.0" cy="190.5" rx="13.1" ry="13.1" transform="rotate(0 187.0 190.5)" fill-opacity="0.11"/>
<ellipse cx="189.9" cy="209.3" rx="16.4" ry="10.5" transform="rotate(0 189.9 209.3)" fill-opacity="0.069"/>
<ellipse cx="301.3" cy="206.4" rx="3.9" ry="9.8" transform="rotate(15 301.3 206.4)" fill-opacity="0.414"/>
<ellipse cx="339.0" cy="100.3" rx="5.7" ry="4.0" transform="rotate(-30.0 339.0 100.3)" fill-opacity="0.759"/>
</g>
</g>
<path d="M54.4,138.6L64.1,139.7L76.1,139.1L89.9,136.8L103.0,134.6L115.6,134.0L124.7,131.7L129.3,128.3L126.4,122.0L140.2,116.9L141.3,110.0L149.3,104.9L160.2,97.5M123.6,133.4L128.7,137.4L134.4,140.3L138.4,144.3L136.7,150.0L140.2,154.5L147.0,154.5L152.7,154.0L158.4,156.2L164.2,157.4L168.7,154.0M168.7,154.0L172.7,159.1L175.0,167.6L174.4,173.4L173.3,178.5L173.3,180.8M168.7,154.0L173.9,151.1L181.3,154.5L188.2,154.5L191.6,150.0L194.4,151.1M132.7,119.2L149.9,122.6L161.3,122.0L168.7,118.0L174.4,119.2L179.6,123.7L187.0,126.0L195.6,130.6L197.3,134.6L195.6,139.1L191.6,142.0L190.4,146.5L194.4,151.1M166.4,98.0L171.3,109.5L181.3,114.0L193.1,121.1L201.3,117.4L205.3,122.0L205.9,127.7M205.9,128.3L211.0,127.1L214.4,121.4L218.4,116.9L220.2,118.0L221.3,122.6L224.7,125.4L223.0,130.0L218.4,132.3L220.2,137.4L216.7,140.8L213.3,138.0L212.2,133.4L207.6,130.6L205.9,128.3M224.7,125.4L229.9,124.9L238.4,119.2L243.0,116.9L245.3,116.3L247.6,112.3L252.7,111.7L260.2,110.6L263.0,108.3L264.2,103.2L269.9,101.5L275.6,99.2L281.3,99.8L287.0,102.0L291.0,104.9L295.6,99.2L304.2,96.3L308.7,98.0L312.7,93.5L315.6,87.8L311.0,82.1L305.9,76.4L312.7,70.7L318.5,66.1L325.3,60.4L328.2,54.7L329.9,47.8L327.6,40.4M245.3,116.3L242.5,122.0L241.3,127.7L241.3,136.3L240.2,142.0L240.7,144.3M260.2,110.6L261.9,113.5L260.2,119.2L258.5,127.7L261.3,133.4L259.0,137.4L252.7,140.8L247.0,143.1L240.7,144.3M224.7,125.4L227.0,130.6L230.4,134.6L224.2,139.7L218.4,143.1L218.4,150.5L213.3,155.1M213.3,155.1L207.0,155.1L201.3,150.5L194.4,151.1M213.3,155.1L218.4,156.8L224.2,157.9L229.9,157.9L236.2,160.8L239.6,156.2L244.2,152.2L241.9,146.5L240.7,144.3M244.2,152.2L249.9,156.2L258.5,160.2L264.2,161.4L269.9,160.2L271.6,154.5L275.6,147.7L272.7,144.3L269.3,142.0L266.5,136.8L261.3,133.4M261.3,133.4L269.9,131.7L275.6,127.1L281.3,123.7L284.2,124.3M272.7,144.3L281.3,144.8L287.0,143.1L291.6,142.0M275.6,147.7L283.0,151.1L287.0,154.5L288.2,160.2L291.0,163.7L293.3,163.7L298.5,164.8L301.3,165.9M269.9,160.2L272.7,166.5L276.7,170.5L281.3,172.2L285.9,172.8L289.9,168.8L293.3,163.7M285.9,172.8L287.0,178.5L284.2,183.6L280.2,187.6L275.6,193.3L273.9,199.0L271.6,201.3M284.2,183.6L292.7,184.2L298.5,185.9M273.9,199.0L277.3,201.3L279.6,207.0M271.6,201.3L265.9,201.3L261.3,197.3L255.6,197.9L249.9,200.2M261.3,197.3L261.3,190.5L260.2,184.8L262.5,179.1L260.2,175.1L252.7,173.4L244.2,171.6L238.4,173.4L235.6,171.6M260.2,175.1L267.0,173.4L272.7,171.6L272.7,166.5M235.6,171.6L233.9,167.6L238.4,163.7L236.2,160.8M229.9,157.9L224.2,161.9L218.4,167.1L215.6,172.2L212.7,175.1L215.6,179.1L218.4,179.1L224.2,176.2L229.9,179.1L233.9,178.5L235.6,171.6M173.3,179.1L178.4,181.9L184.2,183.1L187.0,190.5L192.7,192.2L198.4,190.5L201.3,183.1L207.0,181.9L212.7,181.9L215.6,179.1M207.0,181.9L207.0,193.3L208.2,199.0L211.0,200.2L212.7,204.7L214.4,209.3M211.0,200.2L218.4,199.0L224.2,197.3L229.9,196.2L234.4,194.5L235.6,188.8L233.9,184.2L233.9,178.5M234.4,194.5L241.3,193.3L245.9,196.2L249.9,200.2L247.0,204.7L247.6,210.4L241.9,215.0L237.3,219.0M308.7,98.0L315.6,95.2L321.3,96.3L327.0,99.2L329.9,102.6L325.9,110.0M305.9,76.4L315.6,80.4L323.0,83.8L329.9,84.9L338.5,87.8L344.2,90.6L349.9,90.6L358.5,88.9M291.0,104.9L292.7,110.6L292.7,114.0" fill="none" stroke="#555" stroke-width="0.85" stroke-linejoin="round"/>
<path d="M29.9,116.6L32.1,115.2L34.4,112.9L37.9,110.9L41.9,110.0L45.9,111.2L48.7,107.7L53.3,107.7L56.7,106.0L59.6,104.3L65.9,102.0L68.1,100.9L68.7,96.9L71.6,95.2L69.9,90.1L69.3,86.1L67.0,84.9L76.7,83.2L81.3,83.8L80.1,80.9L83.0,76.4L84.1,72.4L89.9,73.5L95.6,73.5L99.0,72.4L99.0,66.7L102.4,65.0L105.9,62.7L108.7,61.1L112.1,62.1L111.6,64.4L116.1,66.1L121.3,68.4L125.9,69.5L129.3,74.1L129.9,78.6L128.2,82.1L131.6,84.4L140.2,84.9L144.2,85.2L151.0,88.3L155.0,89.5L157.9,94.6L160.7,98.0L165.3,97.5L178.4,98.9L185.9,98.3L191.6,99.2L200.2,102.6L207.0,103.8L211.0,104.3L220.2,100.3L228.2,99.5L235.6,99.5L240.7,97.5L244.7,94.1L249.3,92.3L247.6,88.9L249.3,84.4L253.9,84.9L259.0,86.4L264.2,82.6L269.3,82.6L273.3,80.4L276.7,76.9L280.7,75.8L285.9,74.7L289.9,75.2L295.0,75.2L293.9,72.4L288.7,69.0L284.2,67.8L280.7,69.5L275.6,68.4L271.6,69.0L270.5,66.7L273.9,61.5L276.7,57.3L283.0,59.3L287.6,57.0L291.0,54.7L291.6,51.3L295.6,47.3L300.2,43.8L298.5,41.6L300.7,38.1L308.7,36.7L316.2,36.1L323.0,38.1L327.6,39.3L330.5,42.7L332.7,46.1L337.3,51.8L339.0,57.5L344.7,58.7L349.9,59.8L356.2,62.7L357.3,66.1L356.2,68.4L361.3,69.5L367.6,69.5L372.2,67.2L379.0,66.1L381.9,65.5L379.6,69.5L376.8,71.8L375.0,76.9L372.8,81.5L370.5,83.8L363.6,83.2L358.5,85.5L359.6,90.6L360.2,94.1L358.5,96.9L356.2,99.8L353.9,97.5L350.5,99.8L347.0,102.0L341.9,102.6L343.0,104.9L337.3,104.9L333.3,103.8L329.9,108.3L324.2,111.2L320.2,114.0L314.5,115.2L308.2,118.0L303.0,120.3L304.7,117.4L304.2,115.7L307.0,113.5L308.2,110.6L304.2,108.3L300.2,110.6L294.5,114.0L289.9,118.0L284.2,118.6L282.5,121.4L285.3,124.9L289.9,129.4L294.5,128.9L297.3,127.1L302.5,127.1L309.9,128.3L308.7,131.1L301.3,133.4L297.9,135.7L292.2,140.8L291.0,144.3L297.3,146.0L300.2,154.0L303.6,157.4L306.5,160.8L306.5,165.4L301.3,167.6L304.2,170.5L307.0,171.1L304.2,178.5L301.9,181.3L299.0,184.8L296.7,188.8L293.3,192.2L292.7,196.7L289.3,199.6L284.7,201.9L281.9,205.3L276.7,208.7L272.7,211.0L267.6,212.1L262.5,214.4L258.5,215.0L255.6,216.7L249.9,217.9L244.2,219.6L240.7,220.7L239.6,225.8L237.9,225.3L236.7,221.8L236.7,219.0L233.3,219.0L229.9,217.9L227.0,218.7L223.6,217.9L219.6,216.1L219.6,211.6L215.6,211.0L212.2,208.7L208.7,209.9L205.3,212.1L201.3,212.1L197.9,213.9L193.9,213.9L191.0,213.3L190.4,218.4L188.2,219.6L184.2,219.0L181.3,217.9L178.4,215.6L177.3,212.7L178.4,210.4L175.0,209.3L173.9,205.3L171.0,204.2L168.2,205.3L167.0,202.4L167.6,199.0L171.0,196.7L173.3,193.9L173.9,189.3L173.9,184.8L171.6,182.5L169.9,180.8L166.4,180.2L163.6,183.1L159.6,185.9L154.4,188.8L149.3,188.2L143.6,188.8L137.9,188.2L135.6,185.9L133.9,183.1L127.6,181.9L123.6,180.2L119.6,183.1L117.3,185.9L116.1,181.3L113.3,182.5L107.0,182.5L101.3,182.5L96.7,180.2L91.0,178.5L85.3,175.1L79.6,170.5L74.4,169.4L72.7,169.4L68.1,166.5L63.0,164.8L60.1,161.9L59.6,157.9L57.9,155.7L63.0,155.7L64.1,152.2L61.3,148.3L59.6,146.0L56.1,142.0L55.6,139.1L49.9,138.6L45.3,136.8L41.9,133.4L39.6,131.1L35.6,130.0L37.9,127.1L37.3,122.6L32.7,121.4L31.6,119.2L29.9,116.6ZM301.3,198.5L304.7,197.3L307.0,199.0L304.7,204.7L303.6,209.9L300.7,214.4L299.6,216.7L296.7,212.7L296.2,209.9L296.7,205.9L299.6,201.3ZM230.4,232.1L233.9,236.7L236.2,237.8L241.3,235.0L244.2,229.8L241.9,227.0L238.4,227.0L234.4,228.1L231.0,229.8Z" fill="none" stroke="#4a4a4a" stroke-width="0.9"/>
<path d="M291.6,241.2L295.6,248.1M303.0,214.4L305.9,220.1M292.2,237.2L294.5,231.5M310.5,201.3L311.6,196.7" fill="none" stroke="#666" stroke-width="0.9"/>
<circle cx="247.6" cy="247.5" r="0.7" fill="#777"/>
<circle cx="251.6" cy="245.8" r="0.7" fill="#777"/>
<circle cx="253.9" cy="248.7" r="0.7" fill="#777"/>
<circle cx="249.3" cy="250.4" r="0.7" fill="#777"/>
<circle cx="276.7" cy="223.0" r="0.7" fill="#777"/>
</g>
<rect x="22.2" y="172.2" width="46.39999999999999" height="49.30000000000001" fill="#fff" stroke="#555" stroke-width="0.9"/>
<clipPath id="iclip-a"><rect x="22.2" y="172.2" width="46.39999999999999" height="49.30000000000001"/></clipPath>
<g clip-path="url(#iclip-a)" fill="none" stroke="#444" stroke-width="0.6">
<path d="M-20.4,147.2L-19.7,146.7L-19.0,145.9L-18.0,145.2L-16.8,144.9L-15.6,145.3L-14.7,144.1L-13.4,144.1L-12.3,143.5L-11.5,142.9L-9.6,142.1L-8.9,141.7L-8.7,140.3L-7.9,139.7L-8.4,137.9L-8.6,136.5L-9.2,136.1L-6.3,135.5L-5.0,135.7L-5.3,134.7L-4.4,133.1L-4.1,131.7L-2.4,132.1L-0.7,132.1L0.4,131.7L0.4,129.7L1.4,129.1L2.4,128.3L3.3,127.8L4.3,128.1L4.2,128.9L5.5,129.5L7.1,130.3L8.5,130.7L9.5,132.3L9.7,133.9L9.1,135.1L10.2,135.9L12.7,136.1L14.0,136.2L16.0,137.3L17.2,137.7L18.1,139.5L18.9,140.7L20.3,140.5L24.3,141.0L26.5,140.8L28.2,141.1L30.8,142.3L32.9,142.7L34.1,142.9L36.8,141.5L39.2,141.2L41.4,141.2L43.0,140.5L44.2,139.3L45.6,138.7L45.1,137.5L45.6,135.9L46.9,136.1L48.5,136.6L50.0,135.3L51.6,135.3L52.8,134.5L53.8,133.3L55.0,132.9L56.6,132.5L57.8,132.7L59.3,132.7L59.0,131.7L57.4,130.5L56.1,130.1L55.0,130.7L53.5,130.3L52.3,130.5L51.9,129.7L53.0,127.9L53.8,126.4L55.7,127.1L57.1,126.3L58.1,125.5L58.3,124.3L59.5,122.9L60.9,121.7L60.4,120.9L61.0,119.7L63.4,119.2L65.7,119.0L67.7,119.7L69.1,120.1L70.0,121.3L70.7,122.5L72.0,124.5L72.6,126.5L74.3,126.9L75.8,127.3L77.7,128.3L78.1,129.5L77.7,130.3L79.3,130.7L81.1,130.7L82.5,129.9L84.6,129.5L85.4,129.3L84.8,130.7L83.9,131.5L83.4,133.3L82.7,134.9L82.0,135.7L79.9,135.5L78.4,136.3L78.7,138.1L78.9,139.3L78.4,140.3L77.7,141.3L77.0,140.5L76.0,141.3L75.0,142.1L73.4,142.3L73.8,143.1L72.0,143.1L70.8,142.7L69.8,144.3L68.1,145.3L66.9,146.3L65.2,146.7L63.3,147.8L61.7,148.6L62.2,147.5L62.1,146.9L62.9,146.1L63.3,145.1L62.1,144.3L60.9,145.1L59.1,146.3L57.8,147.8L56.1,148.0L55.5,149.0L56.4,150.2L57.8,151.8L59.1,151.6L60.0,151.0L61.6,151.0L63.8,151.4L63.4,152.4L61.2,153.2L60.2,154.0L58.5,155.8L58.1,157.0L60.0,157.6L60.9,160.4L61.9,161.6L62.8,162.8L62.8,164.4L61.2,165.2L62.1,166.2L62.9,166.4L62.1,169.0L61.4,170.0L60.5,171.2L59.8,172.6L58.8,173.8L58.6,175.4L57.6,176.4L56.2,177.2L55.4,178.4L53.8,179.6L52.6,180.4L51.1,180.8L49.5,181.6L48.3,181.8L47.5,182.4L45.7,182.8L44.0,183.4L43.0,183.8L42.7,185.6L42.1,185.4L41.8,184.2L41.8,183.2L40.8,183.2L39.7,182.8L38.9,183.1L37.8,182.8L36.6,182.2L36.6,180.6L35.4,180.4L34.4,179.6L33.4,180.0L32.3,180.8L31.1,180.8L30.1,181.4L28.9,181.4L28.0,181.2L27.9,183.0L27.2,183.4L26.0,183.2L25.1,182.8L24.3,182.0L23.9,181.0L24.3,180.2L23.2,179.8L22.9,178.4L22.0,178.0L21.2,178.4L20.8,177.4L21.0,176.2L22.0,175.4L22.7,174.4L22.9,172.8L22.9,171.2L22.2,170.4L21.7,169.8L20.7,169.6L19.8,170.6L18.6,171.6L17.0,172.6L15.5,172.4L13.8,172.6L12.1,172.4L11.4,171.6L10.9,170.6L9.0,170.2L7.8,169.6L6.6,170.6L5.9,171.6L5.5,170.0L4.7,170.4L2.8,170.4L1.1,170.4L-0.3,169.6L-2.0,169.0L-3.7,167.8L-5.5,166.2L-7.0,165.8L-7.5,165.8L-8.9,164.8L-10.5,164.2L-11.3,163.2L-11.5,161.8L-12.0,161.0L-10.5,161.0L-10.1,159.8L-11.0,158.4L-11.5,157.6L-12.5,156.2L-12.7,155.2L-14.4,155.0L-15.8,154.4L-16.8,153.2L-17.5,152.4L-18.7,152.0L-18.0,151.0L-18.2,149.4L-19.6,149.0L-19.9,148.2L-20.4,147.2ZM61.2,176.0L62.2,175.6L62.9,176.2L62.2,178.2L61.9,180.0L61.0,181.6L60.7,182.4L59.8,181.0L59.7,180.0L59.8,178.6L60.7,177.0ZM39.9,187.8L40.9,189.4L41.6,189.8L43.2,188.8L44.0,187.0L43.3,186.0L42.3,186.0L41.1,186.4L40.1,187.0Z" stroke-width="0.8"/>
<path d="M-13.0,155.0L-10.1,155.4L-6.5,155.2L-2.4,154.4L1.6,153.6L5.4,153.4L8.1,152.6L9.5,151.4L8.6,149.2L12.7,147.3L13.1,144.9L15.5,143.1L18.8,140.5M7.8,153.2L9.3,154.6L11.0,155.6L12.2,157.0L11.7,159.0L12.7,160.6L14.8,160.6L16.5,160.4L18.2,161.2L20.0,161.6L21.3,160.4M21.3,160.4L22.5,162.2L23.2,165.2L23.1,167.2L22.7,169.0L22.7,169.8M21.3,160.4L22.9,159.4L25.1,160.6L27.2,160.6L28.2,159.0L29.1,159.4M10.5,148.2L15.7,149.4L19.1,149.2L21.3,147.8L23.1,148.2L24.6,149.8L26.8,150.6L29.4,152.2L29.9,153.6L29.4,155.2L28.2,156.2L27.9,157.8L29.1,159.4M20.7,140.7L22.1,144.7L25.1,146.3L28.7,148.8L31.1,147.5L32.3,149.2L32.5,151.2M32.5,151.4L34.1,151.0L35.1,149.0L36.3,147.3L36.8,147.8L37.2,149.4L38.2,150.4L37.7,152.0L36.3,152.8L36.8,154.6L35.8,155.8L34.7,154.8L34.4,153.2L33.0,152.2L32.5,151.4M38.2,150.4L39.7,150.2L42.3,148.2L43.7,147.3L44.4,147.1L45.1,145.7L46.6,145.5L48.8,145.1L49.7,144.3L50.0,142.5L51.8,141.9L53.5,141.1L55.2,141.3L56.9,142.1L58.1,143.1L59.5,141.1L62.1,140.1L63.4,140.7L64.6,139.1L65.5,137.1L64.1,135.1L62.6,133.1L64.6,131.1L66.4,129.5L68.4,127.5L69.3,125.5L69.8,123.1L69.1,120.5M44.4,147.1L43.5,149.2L43.2,151.2L43.2,154.2L42.8,156.2L43.0,157.0M48.8,145.1L49.4,146.1L48.8,148.2L48.3,151.2L49.2,153.2L48.5,154.6L46.6,155.8L44.9,156.6L43.0,157.0M38.2,150.4L38.9,152.2L39.9,153.6L38.0,155.4L36.3,156.6L36.3,159.2L34.7,160.8M34.7,160.8L32.9,160.8L31.1,159.2L29.1,159.4M34.7,160.8L36.3,161.4L38.0,161.8L39.7,161.8L41.6,162.8L42.7,161.2L44.0,159.8L43.3,157.8L43.0,157.0M44.0,159.8L45.7,161.2L48.3,162.6L50.0,163.0L51.8,162.6L52.3,160.6L53.5,158.2L52.6,157.0L51.6,156.2L50.7,154.4L49.2,153.2M49.2,153.2L51.8,152.6L53.5,151.0L55.2,149.8L56.1,150.0M52.6,157.0L55.2,157.2L56.9,156.6L58.3,156.2M53.5,158.2L55.7,159.4L56.9,160.6L57.3,162.6L58.1,163.8L58.8,163.8L60.4,164.2L61.2,164.6M51.8,162.6L52.6,164.8L53.8,166.2L55.2,166.8L56.6,167.0L57.8,165.6L58.8,163.8M56.6,167.0L56.9,169.0L56.1,170.8L54.9,172.2L53.5,174.2L53.0,176.2L52.3,177.0M56.1,170.8L58.6,171.0L60.4,171.6M53.0,176.2L54.0,177.0L54.7,179.0M52.3,177.0L50.6,177.0L49.2,175.6L47.5,175.8L45.7,176.6M49.2,175.6L49.2,173.2L48.8,171.2L49.5,169.2L48.8,167.8L46.6,167.2L44.0,166.6L42.3,167.2L41.4,166.6M48.8,167.8L50.9,167.2L52.6,166.6L52.6,164.8M41.4,166.6L40.9,165.2L42.3,163.8L41.6,162.8M39.7,161.8L38.0,163.2L36.3,165.0L35.4,166.8L34.6,167.8L35.4,169.2L36.3,169.2L38.0,168.2L39.7,169.2L40.9,169.0L41.4,166.6M22.7,169.2L24.3,170.2L26.0,170.6L26.8,173.2L28.6,173.8L30.3,173.2L31.1,170.6L32.9,170.2L34.6,170.2L35.4,169.2M32.9,170.2L32.9,174.2L33.2,176.2L34.1,176.6L34.6,178.2L35.1,179.8M34.1,176.6L36.3,176.2L38.0,175.6L39.7,175.2L41.1,174.6L41.4,172.6L40.9,171.0L40.9,169.0M41.1,174.6L43.2,174.2L44.5,175.2L45.7,176.6L44.9,178.2L45.1,180.2L43.3,181.8L42.0,183.2M63.4,140.7L65.5,139.7L67.2,140.1L68.9,141.1L69.8,142.3L68.6,144.9M62.6,133.1L65.5,134.5L67.7,135.7L69.8,136.1L72.4,137.1L74.1,138.1L75.8,138.1L78.4,137.5M58.1,143.1L58.6,145.1L58.6,146.3" stroke-width="0.6"/>
<circle cx="45.1" cy="193.0" r="0.7" fill="#666" stroke="none"/>
<circle cx="46.3" cy="193.4" r="0.6" fill="#666" stroke="none"/>
<circle cx="47.8" cy="193.8" r="0.8" fill="#666" stroke="none"/>
<circle cx="53.8" cy="184.8" r="0.7" fill="#666" stroke="none"/>
<circle cx="55.7" cy="195.8" r="0.5" fill="#666" stroke="none"/>
<circle cx="49.7" cy="204.7" r="0.6" fill="#666" stroke="none"/>
<circle cx="51.4" cy="205.5" r="0.8" fill="#666" stroke="none"/>
<circle cx="52.6" cy="204.3" r="0.6" fill="#666" stroke="none"/>
<circle cx="53.6" cy="204.5" r="0.5" fill="#666" stroke="none"/>
<circle cx="50.6" cy="206.9" r="0.6" fill="#666" stroke="none"/>
<circle cx="48.8" cy="207.9" r="0.5" fill="#666" stroke="none"/>
<circle cx="49.5" cy="209.7" r="0.6" fill="#666" stroke="none"/>
<circle cx="47.1" cy="209.1" r="0.5" fill="#666" stroke="none"/>
<circle cx="46.3" cy="211.1" r="0.6" fill="#666" stroke="none"/>
<circle cx="44.4" cy="212.7" r="0.7" fill="#666" stroke="none"/>
<circle cx="54.7" cy="201.7" r="0.5" fill="#666" stroke="none"/>
<circle cx="56.1" cy="199.3" r="0.5" fill="#666" stroke="none"/>
<circle cx="55.4" cy="204.7" r="0.5" fill="#666" stroke="none"/>
<circle cx="46.3" cy="218.3" r="0.7" fill="#666" stroke="none"/>
<circle cx="46.3" cy="215.1" r="0.5" fill="#666" stroke="none"/>
</g>
<rect x="78.8" y="239.0" width="51.39999999999999" height="5.0" fill="#fff" stroke="#666" stroke-width="0.7"/>
<rect x="27.5" y="239.0" width="51.3" height="5.0" fill="#000"/>
<text x="27.5" y="234.1" font-size="11.2" text-anchor="middle" fill="#111">0</text>
<text x="53.1" y="234.1" font-size="11.2" text-anchor="middle" fill="#111">500</text>
<text x="78.8" y="234.1" font-size="11.2" text-anchor="middle" fill="#111">1,000</text>
<text x="130.2" y="234.1" font-size="11.2" text-anchor="middle" fill="#111">2,000</text>
<text x="133.2" y="245.2" font-size="12.0" fill="#111">km</text>
<rect x="19.5" y="30.5" width="377.5" height="220.0" fill="none" stroke="#666" stroke-width="1.25"/>
<line x1="67.0" y1="250.5" x2="67.0" y2="252.5" stroke="#5a5a5a"/>
<line x1="67.0" y1="30.5" x2="67.0" y2="28.5" stroke="#5a5a5a"/>
<text x="67.0" y="263.1" font-size="11.4" text-anchor="middle" fill="#1a1a1a">80°E</text>
<line x1="181.3" y1="250.5" x2="181.3" y2="252.5" stroke="#5a5a5a"/>
<line x1="181.3" y1="30.5" x2="181.3" y2="28.5" stroke="#5a5a5a"/>
<text x="181.3" y="263.1" font-size="11.4" text-anchor="middle" fill="#1a1a1a">100°E</text>
<line x1="295.6" y1="250.5" x2="295.6" y2="252.5" stroke="#5a5a5a"/>
<line x1="295.6" y1="30.5" x2="295.6" y2="28.5" stroke="#5a5a5a"/>
<text x="295.6" y="263.1" font-size="11.4" text-anchor="middle" fill="#1a1a1a">120°E</text>
<line x1="19.5" y1="170.5" x2="17.5" y2="170.5" stroke="#5a5a5a"/>
<line x1="397.0" y1="170.5" x2="399.0" y2="170.5" stroke="#5a5a5a"/>
<text transform="translate(15.5,170.5) rotate(-90)" font-size="11.8" text-anchor="middle" fill="#1a1a1a">30°N</text>
<line x1="19.5" y1="56.4" x2="17.5" y2="56.4" stroke="#5a5a5a"/>
<line x1="397.0" y1="56.4" x2="399.0" y2="56.4" stroke="#5a5a5a"/>
<text transform="translate(15.5,56.4) rotate(-90)" font-size="11.8" text-anchor="middle" fill="#1a1a1a">50°N</text>
<text x="20.6" y="19.6" font-size="20.8" fill="#111">(a)</text>
<text x="77.0" y="50.0" font-size="14.1" fill="#1a1a1a">Time of BPs (yr)</text>
<text x="96.0" y="207.4" font-size="14.2" fill="#1a1a1a">AR(1)</text>
<rect x="317.6" y="118.1" width="74.4" height="129.1" fill="#fff"/>
<rect x="350.7" y="121.1" width="23.3" height="7.0" fill="#8e1a22"/>
<text x="375.5" y="127.3" font-size="6.8" font-weight="bold" fill="#222">2016</text>
<rect x="344.0" y="133.4" width="30.0" height="7.0" fill="#e06675"/>
<text x="375.5" y="139.6" font-size="6.8" font-weight="bold" fill="#222">2015</text>
<rect x="325.3" y="145.8" width="48.7" height="7.0" fill="#f9921f"/>
<text x="375.5" y="152.0" font-size="6.8" font-weight="bold" fill="#222">2014</text>
<rect x="329.1" y="158.1" width="44.9" height="7.0" fill="#fbb06e"/>
<text x="375.5" y="164.3" font-size="6.8" font-weight="bold" fill="#222">2013</text>
<rect x="334.1" y="170.5" width="39.9" height="7.0" fill="#fbf77c"/>
<text x="375.5" y="176.7" font-size="6.8" font-weight="bold" fill="#222">2012</text>
<rect x="334.1" y="182.8" width="39.9" height="7.0" fill="#c3c2df"/>
<text x="375.5" y="189.0" font-size="6.8" font-weight="bold" fill="#222">2011</text>
<rect x="344.8" y="195.2" width="29.2" height="7.0" fill="#9d9bcb"/>
<text x="375.5" y="201.4" font-size="6.8" font-weight="bold" fill="#222">2010</text>
<rect x="331.0" y="207.6" width="43.0" height="7.0" fill="#3e3d76"/>
<text x="375.5" y="213.8" font-size="6.8" font-weight="bold" fill="#222">2009</text>
<rect x="351.1" y="219.9" width="22.9" height="7.0" fill="#25245e"/>
<text x="375.5" y="226.1" font-size="6.8" font-weight="bold" fill="#222">2008</text>
<line x1="374.0" y1="119.1" x2="374.0" y2="228.5" stroke="#999" stroke-width="0.6"/>
<line x1="319.6" y1="228.5" x2="374.0" y2="228.5" stroke="#777" stroke-width="0.7"/>
<text x="334.5" y="234.8" font-size="6.5" text-anchor="middle" fill="#222">2</text>
<text x="354.3" y="234.8" font-size="6.5" text-anchor="middle" fill="#222">1</text>
<text x="374.0" y="234.8" font-size="6.5" text-anchor="middle" fill="#222">0</text>
<text x="349.8" y="244.2" font-size="6.6" text-anchor="middle" fill="#222">Grid cells count (10<tspan font-size="4.5" dy="-2.5">5</tspan><tspan dy="2.5">)</tspan></text>
</g>
<g id="panel-d">
<line x1="483.8" y1="32.5" x2="483.8" y2="251.5" stroke="#f1f1f1" stroke-width="1"/>
<line x1="596.2" y1="32.5" x2="596.2" y2="251.5" stroke="#f1f1f1" stroke-width="1"/>
<line x1="708.6" y1="32.5" x2="708.6" y2="251.5" stroke="#f1f1f1" stroke-width="1"/>
<line x1="437.5" y1="172.5" x2="810.8" y2="172.5" stroke="#f1f1f1" stroke-width="1"/>
<line x1="437.5" y1="59.4" x2="810.8" y2="59.4" stroke="#f1f1f1" stroke-width="1"/>
<clipPath id="clip-d"><path d="M447.3,119.1L449.5,117.6L451.8,115.4L455.1,113.4L459.1,112.6L463.0,113.7L465.8,110.3L470.3,110.3L473.7,108.6L476.5,106.9L482.7,104.6L484.9,103.5L485.5,99.6L488.3,97.9L486.6,92.8L486.0,88.8L483.8,87.7L493.4,86.0L497.9,86.5L496.7,83.7L499.5,79.2L500.7,75.2L506.3,76.4L511.9,76.4L515.3,75.2L515.3,69.6L518.6,67.9L522.0,65.6L524.8,64.1L528.2,65.1L527.6,67.3L532.1,69.0L537.2,71.3L541.7,72.4L545.1,76.9L545.6,81.5L543.9,84.8L547.3,87.1L555.7,87.7L559.7,88.0L566.4,91.1L570.3,92.2L573.2,97.3L576.0,100.7L580.5,100.1L593.4,101.5L600.7,101.0L606.3,101.8L614.7,105.2L621.5,106.3L625.4,106.9L634.4,102.9L642.3,102.1L649.6,102.1L654.6,100.1L658.6,96.7L663.1,95.0L661.4,91.6L663.1,87.1L667.6,87.7L672.6,89.1L677.7,85.4L682.7,85.4L686.7,83.2L690.1,79.8L694.0,78.6L699.0,77.5L703.0,78.1L708.0,78.1L706.9,75.2L701.9,71.8L697.4,70.7L694.0,72.4L688.9,71.3L685.0,71.8L683.9,69.6L687.2,64.5L690.1,60.2L696.2,62.2L700.7,60.0L704.1,57.7L704.7,54.3L708.6,50.4L713.1,47.0L711.4,44.7L713.7,41.3L721.5,39.9L728.8,39.3L735.6,41.3L740.1,42.4L742.9,45.8L745.1,49.2L749.6,54.9L751.3,60.5L756.9,61.7L762.0,62.8L768.2,65.6L769.3,69.0L768.2,71.3L773.2,72.4L779.4,72.4L783.9,70.1L790.7,69.0L793.5,68.4L791.2,72.4L788.4,74.7L786.7,79.8L784.5,84.3L782.2,86.5L775.5,86.0L770.4,88.2L771.5,93.3L772.1,96.7L770.4,99.6L768.2,102.4L765.9,100.1L762.6,102.4L759.2,104.6L754.1,105.2L755.2,107.5L749.6,107.5L745.7,106.3L742.3,110.9L736.7,113.7L732.8,116.5L727.1,117.6L721.0,120.5L715.9,122.7L717.6,119.9L717.0,118.2L719.8,115.9L721.0,113.1L717.0,110.9L713.1,113.1L707.5,116.5L703.0,120.5L697.4,121.0L695.7,123.9L698.5,127.3L703.0,131.8L707.5,131.2L710.3,129.5L715.3,129.5L722.6,130.7L721.5,133.5L714.2,135.7L710.8,138.0L705.2,143.1L704.1,146.5L710.3,148.2L713.1,156.1L716.5,159.5L719.3,162.9L719.3,167.4L714.2,169.7L717.0,172.5L719.8,173.1L717.0,180.4L714.8,183.2L712.0,186.6L709.7,190.6L706.4,194.0L705.8,198.5L702.4,201.3L697.9,203.6L695.1,207.0L690.1,210.4L686.1,212.7L681.1,213.8L676.0,216.0L672.1,216.6L669.3,218.3L663.6,219.4L658.0,221.1L654.6,222.3L653.5,227.4L651.8,226.8L650.7,223.4L650.7,220.6L647.3,220.6L644.0,219.4L641.2,220.3L637.8,219.4L633.9,217.7L633.9,213.2L629.9,212.7L626.5,210.4L623.2,211.5L619.8,213.8L615.9,213.8L612.5,215.5L608.6,215.5L605.8,214.9L605.2,220.0L602.9,221.1L599.0,220.6L596.2,219.4L593.4,217.2L592.3,214.3L593.4,212.1L590.0,211.0L588.9,207.0L586.1,205.9L583.3,207.0L582.1,204.2L582.7,200.8L586.1,198.5L588.3,195.7L588.9,191.2L588.9,186.6L586.6,184.4L585.0,182.7L581.6,182.1L578.8,184.9L574.8,187.8L569.8,190.6L564.7,190.0L559.1,190.6L553.5,190.0L551.2,187.8L549.6,184.9L543.4,183.8L539.4,182.1L535.5,184.9L533.3,187.8L532.1,183.2L529.3,184.4L523.1,184.4L517.5,184.4L513.0,182.1L507.4,180.4L501.8,177.0L496.2,172.5L491.1,171.4L489.4,171.4L484.9,168.5L479.9,166.8L477.1,164.0L476.5,160.1L474.8,157.8L479.9,157.8L481.0,154.4L478.2,150.4L476.5,148.2L473.1,144.2L472.6,141.4L466.9,140.8L462.4,139.1L459.1,135.7L456.8,133.5L452.9,132.3L455.1,129.5L454.6,125.0L450.1,123.9L449.0,121.6L447.3,119.1ZM714.2,200.2L717.6,199.1L719.8,200.8L717.6,206.4L716.5,211.5L713.7,216.0L712.5,218.3L709.7,214.3L709.2,211.5L709.7,207.6L712.5,203.0ZM644.5,233.6L647.9,238.1L650.2,239.2L655.2,236.4L658.0,231.3L655.8,228.5L652.4,228.5L648.5,229.6L645.1,231.3Z"/></clipPath>
<clipPath id="fclip-d"><rect x="437.5" y="32.5" width="373.3" height="219.0"/></clipPath>
<g clip-path="url(#fclip-d)">
<g clip-path="url(#clip-d)">
<filter id="f9" x="437.5" y="32.5" width="373.29999999999995" height="219.0" filterUnits="userSpaceOnUse" color-interpolation-filters="sRGB"><feGaussianBlur in="SourceAlpha" stdDeviation="2.5" result="b"/><feTurbulence type="fractalNoise" baseFrequency="0.32" numOctaves="2" seed="31" result="n"/><feComponentTransfer in="n" result="u"><feFuncA type="table" tableValues="0.000 0.000 0.000 0.000 0.003 0.014 0.048 0.110 0.207 0.331 0.494 0.673 0.802 0.889 0.951 0.984 0.996 0.999 1.000 1.000 1.000"/></feComponentTransfer><feColorMatrix in="u" type="matrix" values="0 0 0 0 0 0 0 0 0 0 0 0 0 0 0 0 0 0 1 0" result="ua"/><feComponentTransfer in="b" result="bm"><feFuncA type="linear" slope="25" intercept="0"/></feComponentTransfer><feComposite in="b" in2="ua" operator="arithmetic" k2="8" k3="-8" k4="0.5" result="m0"/><feComposite in="m0" in2="bm" operator="in" result="m"/><feFlood flood-color="#a3a1d1"/><feComposite in2="m" operator="in"/><feGaussianBlur stdDeviation="0.6"/></filter>
<g filter="url(#f9)">
<ellipse cx="526.0" cy="76.4" rx="11.6" ry="7.8" transform="rotate(-30 526.0 76.4)" fill-opacity="0.071"/>
<ellipse cx="523.1" cy="97.3" rx="16.2" ry="4.6" transform="rotate(0 523.1 97.3)" fill-opacity="0.057"/>
<ellipse cx="551.2" cy="99.0" rx="16.2" ry="5.9" transform="rotate(0 551.2 99.0)" fill-opacity="0.059"/>
<ellipse cx="520.3" cy="86.0" rx="16.2" ry="6.5" transform="rotate(0 520.3 86.0)" fill-opacity="0.046"/>
<ellipse cx="492.2" cy="109.2" rx="22.6" ry="4.6" transform="rotate(10 492.2 109.2)" fill-opacity="0.092"/>
<ellipse cx="503.5" cy="121.6" rx="38.8" ry="10.4" transform="rotate(0 503.5 121.6)" fill-opacity="0.014"/>
<ellipse cx="475.4" cy="130.1" rx="19.4" ry="5.9" transform="rotate(-25 475.4 130.1)" fill-opacity="0.174"/>
<ellipse cx="514.7" cy="134.0" rx="22.6" ry="3.9" transform="rotate(0 514.7 134.0)" fill-opacity="0.087"/>
<ellipse cx="458.5" cy="122.7" rx="9.7" ry="7.8" transform="rotate(0 458.5 122.7)" fill-opacity="0.07"/>
<ellipse cx="492.2" cy="158.4" rx="16.8" ry="17.6" transform="rotate(0 492.2 158.4)" fill-opacity="0.568"/>
<ellipse cx="517.5" cy="147.1" rx="22.6" ry="9.8" transform="rotate(0 517.5 147.1)" fill-opacity="0.241"/>
<ellipse cx="545.6" cy="147.1" rx="19.4" ry="9.8" transform="rotate(0 545.6 147.1)" fill-opacity="0.689"/>
<ellipse cx="517.5" cy="169.7" rx="22.6" ry="9.8" transform="rotate(-15 517.5 169.7)" fill-opacity="0.766"/>
<ellipse cx="548.4" cy="175.3" rx="16.2" ry="9.8" transform="rotate(0 548.4 175.3)" fill-opacity="0.655"/>
<ellipse cx="573.7" cy="169.7" rx="16.2" ry="16.3" transform="rotate(0 573.7 169.7)" fill-opacity="0.737"/>
<ellipse cx="562.5" cy="131.2" rx="19.4" ry="7.8" transform="rotate(0 562.5 131.2)" fill-opacity="0.078"/>
<ellipse cx="570.9" cy="149.9" rx="22.6" ry="10.4" transform="rotate(0 570.9 149.9)" fill-opacity="0.649"/>
<ellipse cx="596.2" cy="130.1" rx="19.4" ry="9.8" transform="rotate(20 596.2 130.1)" fill-opacity="0.476"/>
<ellipse cx="607.4" cy="152.7" rx="11.6" ry="11.7" transform="rotate(0 607.4 152.7)" fill-opacity="0.68"/>
<ellipse cx="599.0" cy="172.5" rx="12.9" ry="16.3" transform="rotate(0 599.0 172.5)" fill-opacity="0.746"/>
<ellipse cx="596.2" cy="113.1" rx="25.9" ry="7.8" transform="rotate(20 596.2 113.1)" fill-opacity="0.029"/>
<ellipse cx="655.2" cy="130.1" rx="12.9" ry="16.3" transform="rotate(0 655.2 130.1)" fill-opacity="0.483"/>
<ellipse cx="646.8" cy="115.9" rx="16.2" ry="7.8" transform="rotate(0 646.8 115.9)" fill-opacity="0.412"/>
<ellipse cx="669.3" cy="101.8" rx="22.6" ry="9.8" transform="rotate(20 669.3 101.8)" fill-opacity="0.467"/>
<ellipse cx="703.0" cy="93.3" rx="19.4" ry="13.0" transform="rotate(30 703.0 93.3)" fill-opacity="0.275"/>
<ellipse cx="697.4" cy="67.9" rx="11.6" ry="9.8" transform="rotate(0 697.4 67.9)" fill-opacity="0.096"/>
<ellipse cx="725.5" cy="53.7" rx="16.2" ry="14.3" transform="rotate(0 725.5 53.7)" fill-opacity="0.784"/>
<ellipse cx="733.9" cy="82.0" rx="12.9" ry="13.0" transform="rotate(0 733.9 82.0)" fill-opacity="0.073"/>
<ellipse cx="686.1" cy="113.1" rx="12.9" ry="6.5" transform="rotate(20 686.1 113.1)" fill-opacity="0.29"/>
<ellipse cx="686.1" cy="138.6" rx="16.2" ry="19.5" transform="rotate(0 686.1 138.6)" fill-opacity="0.056"/>
<ellipse cx="703.0" cy="136.9" rx="11.6" ry="7.2" transform="rotate(0 703.0 136.9)" fill-opacity="0.058"/>
<ellipse cx="638.4" cy="151.0" rx="19.4" ry="5.2" transform="rotate(0 638.4 151.0)" fill-opacity="0.52"/>
<ellipse cx="627.1" cy="172.5" rx="12.9" ry="13.0" transform="rotate(30 627.1 172.5)" fill-opacity="0.042"/>
<ellipse cx="652.4" cy="175.3" rx="12.9" ry="16.3" transform="rotate(0 652.4 175.3)" fill-opacity="0.483"/>
<ellipse cx="697.4" cy="161.2" rx="12.9" ry="13.0" transform="rotate(0 697.4 161.2)" fill-opacity="0.09"/>
<ellipse cx="677.7" cy="186.6" rx="16.2" ry="16.3" transform="rotate(0 677.7 186.6)" fill-opacity="0.38"/>
<ellipse cx="701.9" cy="189.5" rx="11.6" ry="19.5" transform="rotate(35 701.9 189.5)" fill-opacity="0.467"/>
<ellipse cx="634.4" cy="190.6" rx="12.9" ry="10.4" transform="rotate(0 634.4 190.6)" fill-opacity="0.549"/>
<ellipse cx="601.8" cy="192.3" rx="12.9" ry="13.0" transform="rotate(0 601.8 192.3)" fill-opacity="0.651"/>
<ellipse cx="604.6" cy="211.0" rx="16.2" ry="10.4" transform="rotate(0 604.6 211.0)" fill-opacity="0.568"/>
<ellipse cx="644.0" cy="207.6" rx="16.2" ry="9.8" transform="rotate(0 644.0 207.6)" fill-opacity="0.39"/>
<ellipse cx="672.1" cy="209.3" rx="16.2" ry="8.5" transform="rotate(0 672.1 209.3)" fill-opacity="0.39"/>
<ellipse cx="650.7" cy="233.6" rx="6.5" ry="5.2" transform="rotate(0 650.7 233.6)" fill-opacity="0.477"/>
<ellipse cx="714.2" cy="208.1" rx="3.9" ry="9.8" transform="rotate(15 714.2 208.1)" fill-opacity="0.483"/>
<ellipse cx="781.7" cy="73.5" rx="9.7" ry="5.2" transform="rotate(0 781.7 73.5)" fill-opacity="0.098"/>
<ellipse cx="495.0" cy="131.8" rx="33.7" ry="3.4" transform="rotate(5.0 495.0 131.8)" fill-opacity="0.16"/>
</g>
<filter id="f10" x="437.5" y="32.5" width="373.29999999999995" height="219.0" filterUnits="userSpaceOnUse" color-interpolation-filters="sRGB"><feGaussianBlur in="SourceAlpha" stdDeviation="2.5" result="b"/><feTurbulence type="fractalNoise" baseFrequency="0.32" numOctaves="2" seed="17" result="n"/><feComponentTransfer in="n" result="u"><feFuncA type="table" tableValues="0.000 0.000 0.000 0.000 0.003 0.014 0.048 0.110 0.207 0.331 0.494 0.673 0.802 0.889 0.951 0.984 0.996 0.999 1.000 1.000 1.000"/></feComponentTransfer><feColorMatrix in="u" type="matrix" values="0 0 0 0 0 0 0 0 0 0 0 0 0 0 0 0 0 0 1 0" result="ua"/><feComponentTransfer in="b" result="bm"><feFuncA type="linear" slope="25" intercept="0"/></feComponentTransfer><feComposite in="b" in2="ua" operator="arithmetic" k2="8" k3="-8" k4="0.5" result="m0"/><feComposite in="m0" in2="bm" operator="in" result="m"/><feFlood flood-color="#ece08a"/><feComposite in2="m" operator="in"/><feGaussianBlur stdDeviation="0.6"/></filter>
<g filter="url(#f10)">
<ellipse cx="526.0" cy="76.4" rx="11.6" ry="7.8" transform="rotate(-30 526.0 76.4)" fill-opacity="0.081"/>
<ellipse cx="669.3" cy="101.8" rx="22.6" ry="9.8" transform="rotate(20 669.3 101.8)" fill-opacity="0.318"/>
<ellipse cx="697.4" cy="67.9" rx="11.6" ry="9.8" transform="rotate(0 697.4 67.9)" fill-opacity="0.074"/>
<ellipse cx="714.2" cy="73.5" rx="9.7" ry="11.7" transform="rotate(0 714.2 73.5)" fill-opacity="0.603"/>
</g>
<filter id="f11" x="437.5" y="32.5" width="373.29999999999995" height="219.0" filterUnits="userSpaceOnUse" color-interpolation-filters="sRGB"><feGaussianBlur in="SourceAlpha" stdDeviation="2.5" result="b"/><feTurbulence type="fractalNoise" baseFrequency="0.32" numOctaves="2" seed="10" result="n"/><feComponentTransfer in="n" result="u"><feFuncA type="table" tableValues="0.000 0.000 0.000 0.000 0.003 0.014 0.048 0.110 0.207 0.331 0.494 0.673 0.802 0.889 0.951 0.984 0.996 0.999 1.000 1.000 1.000"/></feComponentTransfer><feColorMatrix in="u" type="matrix" values="0 0 0 0 0 0 0 0 0 0 0 0 0 0 0 0 0 0 1 0" result="ua"/><feComponentTransfer in="b" result="bm"><feFuncA type="linear" slope="25" intercept="0"/></feComponentTransfer><feComposite in="b" in2="ua" operator="arithmetic" k2="8" k3="-8" k4="0.5" result="m0"/><feComposite in="m0" in2="bm" operator="in" result="m"/><feFlood flood-color="#f5bf88"/><feComposite in2="m" operator="in"/><feGaussianBlur stdDeviation="0.6"/></filter>
<g filter="url(#f11)">
<ellipse cx="497.9" cy="96.2" rx="16.2" ry="5.9" transform="rotate(0 497.9 96.2)" fill-opacity="0.184"/>
<ellipse cx="669.3" cy="101.8" rx="22.6" ry="9.8" transform="rotate(20 669.3 101.8)" fill-opacity="0.241"/>
<ellipse cx="703.0" cy="93.3" rx="19.4" ry="13.0" transform="rotate(30 703.0 93.3)" fill-opacity="0.215"/>
<ellipse cx="750.8" cy="65.1" rx="11.6" ry="9.8" transform="rotate(0 750.8 65.1)" fill-opacity="0.189"/>
<ellipse cx="759.2" cy="74.1" rx="12.3" ry="9.1" transform="rotate(0 759.2 74.1)" fill-opacity="0.378"/>
<ellipse cx="752.4" cy="99.0" rx="14.9" ry="10.4" transform="rotate(40 752.4 99.0)" fill-opacity="0.487"/>
<ellipse cx="719.8" cy="110.3" rx="16.2" ry="8.5" transform="rotate(20 719.8 110.3)" fill-opacity="0.318"/>
<ellipse cx="714.2" cy="73.5" rx="9.7" ry="11.7" transform="rotate(0 714.2 73.5)" fill-opacity="0.194"/>
</g>
<filter id="f12" x="437.5" y="32.5" width="373.29999999999995" height="219.0" filterUnits="userSpaceOnUse" color-interpolation-filters="sRGB"><feGaussianBlur in="SourceAlpha" stdDeviation="2.5" result="b"/><feTurbulence type="fractalNoise" baseFrequency="0.32" numOctaves="2" seed="3" result="n"/><feComponentTransfer in="n" result="u"><feFuncA type="table" tableValues="0.000 0.000 0.000 0.000 0.003 0.014 0.048 0.110 0.207 0.331 0.494 0.673 0.802 0.889 0.951 0.984 0.996 0.999 1.000 1.000 1.000"/></feComponentTransfer><feColorMatrix in="u" type="matrix" values="0 0 0 0 0 0 0 0 0 0 0 0 0 0 0 0 0 0 1 0" result="ua"/><feComponentTransfer in="b" result="bm"><feFuncA type="linear" slope="25" intercept="0"/></feComponentTransfer><feComposite in="b" in2="ua" operator="arithmetic" k2="8" k3="-8" k4="0.5" result="m0"/><feComposite in="m0" in2="bm" operator="in" result="m"/><feFlood flood-color="#e09a4c"/><feComposite in2="m" operator="in"/><feGaussianBlur stdDeviation="0.6"/></filter>
<g filter="url(#f12)">
<ellipse cx="526.0" cy="76.4" rx="11.6" ry="7.8" transform="rotate(-30 526.0 76.4)" fill-opacity="0.075"/>
<ellipse cx="503.5" cy="84.8" rx="9.7" ry="6.5" transform="rotate(0 503.5 84.8)" fill-opacity="0.18"/>
<ellipse cx="497.9" cy="96.2" rx="16.2" ry="5.9" transform="rotate(0 497.9 96.2)" fill-opacity="0.293"/>
<ellipse cx="523.1" cy="97.3" rx="16.2" ry="4.6" transform="rotate(0 523.1 97.3)" fill-opacity="0.132"/>
<ellipse cx="551.2" cy="99.0" rx="16.2" ry="5.9" transform="rotate(0 551.2 99.0)" fill-opacity="0.056"/>
<ellipse cx="520.3" cy="86.0" rx="16.2" ry="6.5" transform="rotate(0 520.3 86.0)" fill-opacity="0.044"/>
<ellipse cx="492.2" cy="109.2" rx="22.6" ry="4.6" transform="rotate(10 492.2 109.2)" fill-opacity="0.044"/>
<ellipse cx="475.4" cy="130.1" rx="19.4" ry="5.9" transform="rotate(-25 475.4 130.1)" fill-opacity="0.258"/>
<ellipse cx="514.7" cy="134.0" rx="22.6" ry="3.9" transform="rotate(0 514.7 134.0)" fill-opacity="0.095"/>
<ellipse cx="458.5" cy="122.7" rx="9.7" ry="7.8" transform="rotate(0 458.5 122.7)" fill-opacity="0.095"/>
<ellipse cx="492.2" cy="158.4" rx="16.8" ry="17.6" transform="rotate(0 492.2 158.4)" fill-opacity="0.362"/>
<ellipse cx="517.5" cy="147.1" rx="22.6" ry="9.8" transform="rotate(0 517.5 147.1)" fill-opacity="0.194"/>
<ellipse cx="545.6" cy="147.1" rx="19.4" ry="9.8" transform="rotate(0 545.6 147.1)" fill-opacity="0.534"/>
<ellipse cx="517.5" cy="169.7" rx="22.6" ry="9.8" transform="rotate(-15 517.5 169.7)" fill-opacity="0.39"/>
<ellipse cx="548.4" cy="175.3" rx="16.2" ry="9.8" transform="rotate(0 548.4 175.3)" fill-opacity="0.621"/>
<ellipse cx="573.7" cy="169.7" rx="16.2" ry="16.3" transform="rotate(0 573.7 169.7)" fill-opacity="0.469"/>
<ellipse cx="562.5" cy="131.2" rx="19.4" ry="7.8" transform="rotate(0 562.5 131.2)" fill-opacity="0.135"/>
<ellipse cx="570.9" cy="149.9" rx="22.6" ry="10.4" transform="rotate(0 570.9 149.9)" fill-opacity="0.619"/>
<ellipse cx="596.2" cy="130.1" rx="19.4" ry="9.8" transform="rotate(20 596.2 130.1)" fill-opacity="0.769"/>
<ellipse cx="607.4" cy="152.7" rx="11.6" ry="11.7" transform="rotate(0 607.4 152.7)" fill-opacity="0.254"/>
<ellipse cx="599.0" cy="172.5" rx="12.9" ry="16.3" transform="rotate(0 599.0 172.5)" fill-opacity="0.427"/>
<ellipse cx="596.2" cy="113.1" rx="25.9" ry="7.8" transform="rotate(20 596.2 113.1)" fill-opacity="0.042"/>
<ellipse cx="629.9" cy="132.9" rx="12.9" ry="13.0" transform="rotate(0 629.9 132.9)" fill-opacity="0.34"/>
<ellipse cx="655.2" cy="130.1" rx="12.9" ry="16.3" transform="rotate(0 655.2 130.1)" fill-opacity="0.108"/>
<ellipse cx="646.8" cy="115.9" rx="16.2" ry="7.8" transform="rotate(0 646.8 115.9)" fill-opacity="0.215"/>
<ellipse cx="669.3" cy="101.8" rx="22.6" ry="9.8" transform="rotate(20 669.3 101.8)" fill-opacity="0.326"/>
<ellipse cx="703.0" cy="93.3" rx="19.4" ry="13.0" transform="rotate(30 703.0 93.3)" fill-opacity="0.301"/>
<ellipse cx="697.4" cy="67.9" rx="11.6" ry="9.8" transform="rotate(0 697.4 67.9)" fill-opacity="0.056"/>
<ellipse cx="725.5" cy="53.7" rx="16.2" ry="14.3" transform="rotate(0 725.5 53.7)" fill-opacity="0.239"/>
<ellipse cx="750.8" cy="65.1" rx="11.6" ry="9.8" transform="rotate(0 750.8 65.1)" fill-opacity="0.486"/>
<ellipse cx="733.9" cy="82.0" rx="12.9" ry="13.0" transform="rotate(0 733.9 82.0)" fill-opacity="0.042"/>
<ellipse cx="759.2" cy="74.1" rx="12.3" ry="9.1" transform="rotate(0 759.2 74.1)" fill-opacity="0.532"/>
<ellipse cx="752.4" cy="99.0" rx="14.9" ry="10.4" transform="rotate(40 752.4 99.0)" fill-opacity="0.773"/>
<ellipse cx="719.8" cy="110.3" rx="16.2" ry="8.5" transform="rotate(20 719.8 110.3)" fill-opacity="0.488"/>
<ellipse cx="686.1" cy="113.1" rx="12.9" ry="6.5" transform="rotate(20 686.1 113.1)" fill-opacity="0.194"/>
<ellipse cx="703.0" cy="136.9" rx="11.6" ry="7.2" transform="rotate(0 703.0 136.9)" fill-opacity="0.042"/>
<ellipse cx="697.4" cy="161.2" rx="12.9" ry="13.0" transform="rotate(0 697.4 161.2)" fill-opacity="0.07"/>
<ellipse cx="677.7" cy="186.6" rx="16.2" ry="16.3" transform="rotate(0 677.7 186.6)" fill-opacity="0.233"/>
<ellipse cx="701.9" cy="189.5" rx="11.6" ry="19.5" transform="rotate(35 701.9 189.5)" fill-opacity="0.538"/>
<ellipse cx="634.4" cy="190.6" rx="12.9" ry="10.4" transform="rotate(0 634.4 190.6)" fill-opacity="0.121"/>
<ellipse cx="601.8" cy="192.3" rx="12.9" ry="13.0" transform="rotate(0 601.8 192.3)" fill-opacity="0.494"/>
<ellipse cx="604.6" cy="211.0" rx="16.2" ry="10.4" transform="rotate(0 604.6 211.0)" fill-opacity="0.312"/>
<ellipse cx="644.0" cy="207.6" rx="16.2" ry="9.8" transform="rotate(0 644.0 207.6)" fill-opacity="0.206"/>
<ellipse cx="672.1" cy="209.3" rx="16.2" ry="8.5" transform="rotate(0 672.1 209.3)" fill-opacity="0.281"/>
<ellipse cx="650.7" cy="233.6" rx="6.5" ry="5.2" transform="rotate(0 650.7 233.6)" fill-opacity="0.389"/>
<ellipse cx="781.7" cy="73.5" rx="9.7" ry="5.2" transform="rotate(0 781.7 73.5)" fill-opacity="0.075"/>
<ellipse cx="714.2" cy="73.5" rx="9.7" ry="11.7" transform="rotate(0 714.2 73.5)" fill-opacity="0.28"/>
<ellipse cx="628.8" cy="127.8" rx="23.6" ry="4.5" transform="rotate(-8.0 628.8 127.8)" fill-opacity="0.275"/>
<ellipse cx="495.0" cy="131.8" rx="33.7" ry="3.4" transform="rotate(5.0 495.0 131.8)" fill-opacity="0.211"/>
</g>
<filter id="f13" x="437.5" y="32.5" width="373.29999999999995" height="219.0" filterUnits="userSpaceOnUse" color-interpolation-filters="sRGB"><feGaussianBlur in="SourceAlpha" stdDeviation="2.5" result="b"/><feTurbulence type="fractalNoise" baseFrequency="0.32" numOctaves="2" seed="52" result="n"/><feComponentTransfer in="n" result="u"><feFuncA type="table" tableValues="0.000 0.000 0.000 0.000 0.003 0.014 0.048 0.110 0.207 0.331 0.494 0.673 0.802 0.889 0.951 0.984 0.996 0.999 1.000 1.000 1.000"/></feComponentTransfer><feColorMatrix in="u" type="matrix" values="0 0 0 0 0 0 0 0 0 0 0 0 0 0 0 0 0 0 1 0" result="ua"/><feComponentTransfer in="b" result="bm"><feFuncA type="linear" slope="25" intercept="0"/></feComponentTransfer><feComposite in="b" in2="ua" operator="arithmetic" k2="8" k3="-8" k4="0.5" result="m0"/><feComposite in="m0" in2="bm" operator="in" result="m"/><feFlood flood-color="#8f6450"/><feComposite in2="m" operator="in"/><feGaussianBlur stdDeviation="0.6"/></filter>
<g filter="url(#f13)">
<ellipse cx="526.0" cy="76.4" rx="11.6" ry="7.8" transform="rotate(-30 526.0 76.4)" fill-opacity="0.07"/>
<ellipse cx="503.5" cy="84.8" rx="9.7" ry="6.5" transform="rotate(0 503.5 84.8)" fill-opacity="0.178"/>
<ellipse cx="497.9" cy="96.2" rx="16.2" ry="5.9" transform="rotate(0 497.9 96.2)" fill-opacity="0.14"/>
<ellipse cx="523.1" cy="97.3" rx="16.2" ry="4.6" transform="rotate(0 523.1 97.3)" fill-opacity="0.117"/>
<ellipse cx="520.3" cy="86.0" rx="16.2" ry="6.5" transform="rotate(0 520.3 86.0)" fill-opacity="0.042"/>
<ellipse cx="492.2" cy="109.2" rx="22.6" ry="4.6" transform="rotate(10 492.2 109.2)" fill-opacity="0.042"/>
<ellipse cx="475.4" cy="130.1" rx="19.4" ry="5.9" transform="rotate(-25 475.4 130.1)" fill-opacity="0.301"/>
<ellipse cx="514.7" cy="134.0" rx="22.6" ry="3.9" transform="rotate(0 514.7 134.0)" fill-opacity="0.112"/>
<ellipse cx="458.5" cy="122.7" rx="9.7" ry="7.8" transform="rotate(0 458.5 122.7)" fill-opacity="0.112"/>
<ellipse cx="492.2" cy="158.4" rx="16.8" ry="17.6" transform="rotate(0 492.2 158.4)" fill-opacity="0.326"/>
<ellipse cx="517.5" cy="147.1" rx="22.6" ry="9.8" transform="rotate(0 517.5 147.1)" fill-opacity="0.189"/>
<ellipse cx="545.6" cy="147.1" rx="19.4" ry="9.8" transform="rotate(0 545.6 147.1)" fill-opacity="0.37"/>
<ellipse cx="517.5" cy="169.7" rx="22.6" ry="9.8" transform="rotate(-15 517.5 169.7)" fill-opacity="0.342"/>
<ellipse cx="548.4" cy="175.3" rx="16.2" ry="9.8" transform="rotate(0 548.4 175.3)" fill-opacity="0.383"/>
<ellipse cx="573.7" cy="169.7" rx="16.2" ry="16.3" transform="rotate(0 573.7 169.7)" fill-opacity="0.439"/>
<ellipse cx="562.5" cy="131.2" rx="19.4" ry="7.8" transform="rotate(0 562.5 131.2)" fill-opacity="0.119"/>
<ellipse cx="570.9" cy="149.9" rx="22.6" ry="10.4" transform="rotate(0 570.9 149.9)" fill-opacity="0.382"/>
<ellipse cx="596.2" cy="130.1" rx="19.4" ry="9.8" transform="rotate(20 596.2 130.1)" fill-opacity="0.355"/>
<ellipse cx="607.4" cy="152.7" rx="11.6" ry="11.7" transform="rotate(0 607.4 152.7)" fill-opacity="0.233"/>
<ellipse cx="599.0" cy="172.5" rx="12.9" ry="16.3" transform="rotate(0 599.0 172.5)" fill-opacity="0.461"/>
<ellipse cx="629.9" cy="132.9" rx="12.9" ry="13.0" transform="rotate(0 629.9 132.9)" fill-opacity="0.338"/>
<ellipse cx="655.2" cy="130.1" rx="12.9" ry="16.3" transform="rotate(0 655.2 130.1)" fill-opacity="0.097"/>
<ellipse cx="750.8" cy="65.1" rx="11.6" ry="9.8" transform="rotate(0 750.8 65.1)" fill-opacity="0.226"/>
<ellipse cx="759.2" cy="74.1" rx="12.3" ry="9.1" transform="rotate(0 759.2 74.1)" fill-opacity="0.21"/>
<ellipse cx="752.4" cy="99.0" rx="14.9" ry="10.4" transform="rotate(40 752.4 99.0)" fill-opacity="0.356"/>
<ellipse cx="719.8" cy="110.3" rx="16.2" ry="8.5" transform="rotate(20 719.8 110.3)" fill-opacity="0.075"/>
<ellipse cx="686.1" cy="113.1" rx="12.9" ry="6.5" transform="rotate(20 686.1 113.1)" fill-opacity="0.089"/>
<ellipse cx="638.4" cy="151.0" rx="19.4" ry="5.2" transform="rotate(0 638.4 151.0)" fill-opacity="0.172"/>
<ellipse cx="652.4" cy="175.3" rx="12.9" ry="16.3" transform="rotate(0 652.4 175.3)" fill-opacity="0.108"/>
<ellipse cx="677.7" cy="186.6" rx="16.2" ry="16.3" transform="rotate(0 677.7 186.6)" fill-opacity="0.189"/>
<ellipse cx="701.9" cy="189.5" rx="11.6" ry="19.5" transform="rotate(35 701.9 189.5)" fill-opacity="0.301"/>
<ellipse cx="634.4" cy="190.6" rx="12.9" ry="10.4" transform="rotate(0 634.4 190.6)" fill-opacity="0.194"/>
<ellipse cx="601.8" cy="192.3" rx="12.9" ry="13.0" transform="rotate(0 601.8 192.3)" fill-opacity="0.452"/>
<ellipse cx="604.6" cy="211.0" rx="16.2" ry="10.4" transform="rotate(0 604.6 211.0)" fill-opacity="0.438"/>
<ellipse cx="644.0" cy="207.6" rx="16.2" ry="9.8" transform="rotate(0 644.0 207.6)" fill-opacity="0.271"/>
<ellipse cx="672.1" cy="209.3" rx="16.2" ry="8.5" transform="rotate(0 672.1 209.3)" fill-opacity="0.252"/>
<ellipse cx="650.7" cy="233.6" rx="6.5" ry="5.2" transform="rotate(0 650.7 233.6)" fill-opacity="0.28"/>
<ellipse cx="781.7" cy="73.5" rx="9.7" ry="5.2" transform="rotate(0 781.7 73.5)" fill-opacity="0.07"/>
<ellipse cx="628.8" cy="127.8" rx="23.6" ry="4.5" transform="rotate(-8.0 628.8 127.8)" fill-opacity="0.292"/>
<ellipse cx="495.0" cy="131.8" rx="33.7" ry="3.4" transform="rotate(5.0 495.0 131.8)" fill-opacity="0.297"/>
</g>
<filter id="f14" x="437.5" y="32.5" width="373.29999999999995" height="219.0" filterUnits="userSpaceOnUse" color-interpolation-filters="sRGB"><feGaussianBlur in="SourceAlpha" stdDeviation="2.5" result="b"/><feTurbulence type="fractalNoise" baseFrequency="0.32" numOctaves="2" seed="38" result="n"/><feComponentTransfer in="n" result="u"><feFuncA type="table" tableValues="0.000 0.000 0.000 0.000 0.003 0.014 0.048 0.110 0.207 0.331 0.494 0.673 0.802 0.889 0.951 0.984 0.996 0.999 1.000 1.000 1.000"/></feComponentTransfer><feColorMatrix in="u" type="matrix" values="0 0 0 0 0 0 0 0 0 0 0 0 0 0 0 0 0 0 1 0" result="ua"/><feComponentTransfer in="b" result="bm"><feFuncA type="linear" slope="25" intercept="0"/></feComponentTransfer><feComposite in="b" in2="ua" operator="arithmetic" k2="8" k3="-8" k4="0.5" result="m0"/><feComposite in="m0" in2="bm" operator="in" result="m"/><feFlood flood-color="#a03c3c"/><feComposite in2="m" operator="in"/><feGaussianBlur stdDeviation="0.6"/></filter>
<g filter="url(#f14)">
<ellipse cx="503.5" cy="84.8" rx="9.7" ry="6.5" transform="rotate(0 503.5 84.8)" fill-opacity="0.056"/>
<ellipse cx="523.1" cy="97.3" rx="16.2" ry="4.6" transform="rotate(0 523.1 97.3)" fill-opacity="0.042"/>
<ellipse cx="475.4" cy="130.1" rx="19.4" ry="5.9" transform="rotate(-25 475.4 130.1)" fill-opacity="0.07"/>
<ellipse cx="629.9" cy="132.9" rx="12.9" ry="13.0" transform="rotate(0 629.9 132.9)" fill-opacity="0.252"/>
<ellipse cx="646.8" cy="115.9" rx="16.2" ry="7.8" transform="rotate(0 646.8 115.9)" fill-opacity="0.097"/>
<ellipse cx="628.8" cy="127.8" rx="23.6" ry="4.5" transform="rotate(-8.0 628.8 127.8)" fill-opacity="0.28"/>
<ellipse cx="495.0" cy="131.8" rx="33.7" ry="3.4" transform="rotate(5.0 495.0 131.8)" fill-opacity="0.056"/>
</g>
<filter id="f15" x="437.5" y="32.5" width="373.29999999999995" height="219.0" filterUnits="userSpaceOnUse" color-interpolation-filters="sRGB"><feGaussianBlur in="SourceAlpha" stdDeviation="2.5" result="b"/><feTurbulence type="fractalNoise" baseFrequency="0.32" numOctaves="2" seed="24" result="n"/><feComponentTransfer in="n" result="u"><feFuncA type="table" tableValues="0.000 0.000 0.000 0.000 0.003 0.014 0.048 0.110 0.207 0.331 0.494 0.673 0.802 0.889 0.951 0.984 0.996 0.999 1.000 1.000 1.000"/></feComponentTransfer><feColorMatrix in="u" type="matrix" values="0 0 0 0 0 0 0 0 0 0 0 0 0 0 0 0 0 0 1 0" result="ua"/><feComponentTransfer in="b" result="bm"><feFuncA type="linear" slope="25" intercept="0"/></feComponentTransfer><feComposite in="b" in2="ua" operator="arithmetic" k2="8" k3="-8" k4="0.5" result="m0"/><feComposite in="m0" in2="bm" operator="in" result="m"/><feFlood flood-color="#46458e"/><feComposite in2="m" operator="in"/><feGaussianBlur stdDeviation="0.6"/></filter>
<g filter="url(#f15)">
<ellipse cx="492.2" cy="158.4" rx="16.8" ry="17.6" transform="rotate(0 492.2 158.4)" fill-opacity="0.14"/>
<ellipse cx="517.5" cy="147.1" rx="22.6" ry="9.8" transform="rotate(0 517.5 147.1)" fill-opacity="0.112"/>
<ellipse cx="545.6" cy="147.1" rx="19.4" ry="9.8" transform="rotate(0 545.6 147.1)" fill-opacity="0.168"/>
<ellipse cx="517.5" cy="169.7" rx="22.6" ry="9.8" transform="rotate(-15 517.5 169.7)" fill-opacity="0.255"/>
<ellipse cx="548.4" cy="175.3" rx="16.2" ry="9.8" transform="rotate(0 548.4 175.3)" fill-opacity="0.133"/>
<ellipse cx="573.7" cy="169.7" rx="16.2" ry="16.3" transform="rotate(0 573.7 169.7)" fill-opacity="0.105"/>
<ellipse cx="562.5" cy="131.2" rx="19.4" ry="7.8" transform="rotate(0 562.5 131.2)" fill-opacity="0.056"/>
<ellipse cx="570.9" cy="149.9" rx="22.6" ry="10.4" transform="rotate(0 570.9 149.9)" fill-opacity="0.155"/>
<ellipse cx="596.2" cy="130.1" rx="19.4" ry="9.8" transform="rotate(20 596.2 130.1)" fill-opacity="0.102"/>
<ellipse cx="607.4" cy="152.7" rx="11.6" ry="11.7" transform="rotate(0 607.4 152.7)" fill-opacity="0.28"/>
<ellipse cx="599.0" cy="172.5" rx="12.9" ry="16.3" transform="rotate(0 599.0 172.5)" fill-opacity="0.109"/>
<ellipse cx="629.9" cy="132.9" rx="12.9" ry="13.0" transform="rotate(0 629.9 132.9)" fill-opacity="0.168"/>
<ellipse cx="655.2" cy="130.1" rx="12.9" ry="16.3" transform="rotate(0 655.2 130.1)" fill-opacity="0.28"/>
<ellipse cx="646.8" cy="115.9" rx="16.2" ry="7.8" transform="rotate(0 646.8 115.9)" fill-opacity="0.28"/>
<ellipse cx="669.3" cy="101.8" rx="22.6" ry="9.8" transform="rotate(20 669.3 101.8)" fill-opacity="0.14"/>
<ellipse cx="703.0" cy="93.3" rx="19.4" ry="13.0" transform="rotate(30 703.0 93.3)" fill-opacity="0.07"/>
<ellipse cx="725.5" cy="53.7" rx="16.2" ry="14.3" transform="rotate(0 725.5 53.7)" fill-opacity="0.573"/>
<ellipse cx="750.8" cy="65.1" rx="11.6" ry="9.8" transform="rotate(0 750.8 65.1)" fill-opacity="0.07"/>
<ellipse cx="752.4" cy="99.0" rx="14.9" ry="10.4" transform="rotate(40 752.4 99.0)" fill-opacity="0.066"/>
<ellipse cx="719.8" cy="110.3" rx="16.2" ry="8.5" transform="rotate(20 719.8 110.3)" fill-opacity="0.07"/>
<ellipse cx="686.1" cy="113.1" rx="12.9" ry="6.5" transform="rotate(20 686.1 113.1)" fill-opacity="0.21"/>
<ellipse cx="638.4" cy="151.0" rx="19.4" ry="5.2" transform="rotate(0 638.4 151.0)" fill-opacity="0.35"/>
<ellipse cx="652.4" cy="175.3" rx="12.9" ry="16.3" transform="rotate(0 652.4 175.3)" fill-opacity="0.35"/>
<ellipse cx="677.7" cy="186.6" rx="16.2" ry="16.3" transform="rotate(0 677.7 186.6)" fill-opacity="0.112"/>
<ellipse cx="701.9" cy="189.5" rx="11.6" ry="19.5" transform="rotate(35 701.9 189.5)" fill-opacity="0.07"/>
<ellipse cx="634.4" cy="190.6" rx="12.9" ry="10.4" transform="rotate(0 634.4 190.6)" fill-opacity="0.28"/>
<ellipse cx="601.8" cy="192.3" rx="12.9" ry="13.0" transform="rotate(0 601.8 192.3)" fill-opacity="0.07"/>
<ellipse cx="604.6" cy="211.0" rx="16.2" ry="10.4" transform="rotate(0 604.6 211.0)" fill-opacity="0.042"/>
<ellipse cx="644.0" cy="207.6" rx="16.2" ry="9.8" transform="rotate(0 644.0 207.6)" fill-opacity="0.07"/>
<ellipse cx="714.2" cy="208.1" rx="3.9" ry="9.8" transform="rotate(15 714.2 208.1)" fill-opacity="0.42"/>
</g>
</g>
<path d="M471.4,140.8L481.0,142.0L492.8,141.4L506.3,139.1L519.2,136.9L531.6,136.3L540.6,134.0L545.1,130.7L542.2,124.4L555.7,119.3L556.9,112.6L564.7,107.5L575.4,100.1M539.4,135.7L544.5,139.7L550.1,142.5L554.0,146.5L552.4,152.1L555.7,156.7L562.5,156.7L568.1,156.1L573.7,158.4L579.3,159.5L583.8,156.1M583.8,156.1L587.8,161.2L590.0,169.7L589.5,175.3L588.3,180.4L588.3,182.7M583.8,156.1L588.9,153.3L596.2,156.7L602.9,156.7L606.3,152.1L609.1,153.3M548.4,121.6L565.3,125.0L576.5,124.4L583.8,120.5L589.5,121.6L594.5,126.1L601.8,128.4L610.2,132.9L611.9,136.9L610.2,141.4L606.3,144.2L605.2,148.7L609.1,153.3M581.6,100.7L586.4,112.0L596.2,116.5L607.8,123.5L615.9,119.9L619.8,124.4L620.4,130.1M620.4,130.7L625.4,129.5L628.8,123.9L632.7,119.3L634.4,120.5L635.5,125.0L638.9,127.8L637.2,132.3L632.7,134.6L634.4,139.7L631.0,143.1L627.7,140.3L626.5,135.7L622.1,132.9L620.4,130.7M638.9,127.8L644.0,127.3L652.4,121.6L656.9,119.3L659.1,118.8L661.4,114.8L666.5,114.3L673.8,113.1L676.6,110.9L677.7,105.8L683.3,104.1L688.9,101.8L694.5,102.4L700.2,104.6L704.1,107.5L708.6,101.8L717.0,99.0L721.5,100.7L725.5,96.2L728.3,90.5L723.8,84.8L718.7,79.2L725.5,73.5L731.1,69.0L737.8,63.4L740.6,57.7L742.3,50.9L740.1,43.6M659.1,118.8L656.3,124.4L655.2,130.1L655.2,138.6L654.1,144.2L654.6,146.5M673.8,113.1L675.4,115.9L673.8,121.6L672.1,130.1L674.9,135.7L672.6,139.7L666.5,143.1L660.8,145.4L654.6,146.5M638.9,127.8L641.2,132.9L644.5,136.9L638.4,142.0L632.7,145.4L632.7,152.7L627.7,157.2M627.7,157.2L621.5,157.2L615.9,152.7L609.1,153.3M627.7,157.2L632.7,158.9L638.4,160.1L644.0,160.1L650.2,162.9L653.5,158.4L658.0,154.4L655.8,148.7L654.6,146.5M658.0,154.4L663.6,158.4L672.1,162.3L677.7,163.5L683.3,162.3L685.0,156.7L688.9,149.9L686.1,146.5L682.7,144.2L679.9,139.1L674.9,135.7M674.9,135.7L683.3,134.0L688.9,129.5L694.5,126.1L697.4,126.7M686.1,146.5L694.5,147.1L700.2,145.4L704.7,144.2M688.9,149.9L696.2,153.3L700.2,156.7L701.3,162.3L704.1,165.7L706.4,165.7L711.4,166.8L714.2,168.0M683.3,162.3L686.1,168.5L690.1,172.5L694.5,174.2L699.0,174.8L703.0,170.8L706.4,165.7M699.0,174.8L700.2,180.4L697.4,185.5L693.4,189.5L688.9,195.1L687.2,200.8L685.0,203.0M697.4,185.5L705.8,186.1L711.4,187.8M687.2,200.8L690.6,203.0L692.9,208.7M685.0,203.0L679.4,203.0L674.9,199.1L669.3,199.6L663.6,201.9M674.9,199.1L674.9,192.3L673.8,186.6L676.0,181.0L673.8,177.0L666.5,175.3L658.0,173.6L652.4,175.3L649.6,173.6M673.8,177.0L680.5,175.3L686.1,173.6L686.1,168.5M649.6,173.6L647.9,169.7L652.4,165.7L650.2,162.9M644.0,160.1L638.4,164.0L632.7,169.1L629.9,174.2L627.1,177.0L629.9,181.0L632.7,181.0L638.4,178.2L644.0,181.0L647.9,180.4L649.6,173.6M588.3,181.0L593.4,183.8L599.0,184.9L601.8,192.3L607.4,194.0L613.1,192.3L615.9,184.9L621.5,183.8L627.1,183.8L629.9,181.0M621.5,183.8L621.5,195.1L622.6,200.8L625.4,201.9L627.1,206.4L628.8,211.0M625.4,201.9L632.7,200.8L638.4,199.1L644.0,197.9L648.5,196.3L649.6,190.6L647.9,186.1L647.9,180.4M648.5,196.3L655.2,195.1L659.7,197.9L663.6,201.9L660.8,206.4L661.4,212.1L655.8,216.6L651.3,220.6M721.5,100.7L728.3,97.9L733.9,99.0L739.5,101.8L742.3,105.2L738.4,112.6M718.7,79.2L728.3,83.2L735.6,86.5L742.3,87.7L750.8,90.5L756.4,93.3L762.0,93.3L770.4,91.6M704.1,107.5L705.8,113.1L705.8,116.5" fill="none" stroke="#555" stroke-width="0.85" stroke-linejoin="round"/>
<path d="M447.3,119.1L449.5,117.6L451.8,115.4L455.1,113.4L459.1,112.6L463.0,113.7L465.8,110.3L470.3,110.3L473.7,108.6L476.5,106.9L482.7,104.6L484.9,103.5L485.5,99.6L488.3,97.9L486.6,92.8L486.0,88.8L483.8,87.7L493.4,86.0L497.9,86.5L496.7,83.7L499.5,79.2L500.7,75.2L506.3,76.4L511.9,76.4L515.3,75.2L515.3,69.6L518.6,67.9L522.0,65.6L524.8,64.1L528.2,65.1L527.6,67.3L532.1,69.0L537.2,71.3L541.7,72.4L545.1,76.9L545.6,81.5L543.9,84.8L547.3,87.1L555.7,87.7L559.7,88.0L566.4,91.1L570.3,92.2L573.2,97.3L576.0,100.7L580.5,100.1L593.4,101.5L600.7,101.0L606.3,101.8L614.7,105.2L621.5,106.3L625.4,106.9L634.4,102.9L642.3,102.1L649.6,102.1L654.6,100.1L658.6,96.7L663.1,95.0L661.4,91.6L663.1,87.1L667.6,87.7L672.6,89.1L677.7,85.4L682.7,85.4L686.7,83.2L690.1,79.8L694.0,78.6L699.0,77.5L703.0,78.1L708.0,78.1L706.9,75.2L701.9,71.8L697.4,70.7L694.0,72.4L688.9,71.3L685.0,71.8L683.9,69.6L687.2,64.5L690.1,60.2L696.2,62.2L700.7,60.0L704.1,57.7L704.7,54.3L708.6,50.4L713.1,47.0L711.4,44.7L713.7,41.3L721.5,39.9L728.8,39.3L735.6,41.3L740.1,42.4L742.9,45.8L745.1,49.2L749.6,54.9L751.3,60.5L756.9,61.7L762.0,62.8L768.2,65.6L769.3,69.0L768.2,71.3L773.2,72.4L779.4,72.4L783.9,70.1L790.7,69.0L793.5,68.4L791.2,72.4L788.4,74.7L786.7,79.8L784.5,84.3L782.2,86.5L775.5,86.0L770.4,88.2L771.5,93.3L772.1,96.7L770.4,99.6L768.2,102.4L765.9,100.1L762.6,102.4L759.2,104.6L754.1,105.2L755.2,107.5L749.6,107.5L745.7,106.3L742.3,110.9L736.7,113.7L732.8,116.5L727.1,117.6L721.0,120.5L715.9,122.7L717.6,119.9L717.0,118.2L719.8,115.9L721.0,113.1L717.0,110.9L713.1,113.1L707.5,116.5L703.0,120.5L697.4,121.0L695.7,123.9L698.5,127.3L703.0,131.8L707.5,131.2L710.3,129.5L715.3,129.5L722.6,130.7L721.5,133.5L714.2,135.7L710.8,138.0L705.2,143.1L704.1,146.5L710.3,148.2L713.1,156.1L716.5,159.5L719.3,162.9L719.3,167.4L714.2,169.7L717.0,172.5L719.8,173.1L717.0,180.4L714.8,183.2L712.0,186.6L709.7,190.6L706.4,194.0L705.8,198.5L702.4,201.3L697.9,203.6L695.1,207.0L690.1,210.4L686.1,212.7L681.1,213.8L676.0,216.0L672.1,216.6L669.3,218.3L663.6,219.4L658.0,221.1L654.6,222.3L653.5,227.4L651.8,226.8L650.7,223.4L650.7,220.6L647.3,220.6L644.0,219.4L641.2,220.3L637.8,219.4L633.9,217.7L633.9,213.2L629.9,212.7L626.5,210.4L623.2,211.5L619.8,213.8L615.9,213.8L612.5,215.5L608.6,215.5L605.8,214.9L605.2,220.0L602.9,221.1L599.0,220.6L596.2,219.4L593.4,217.2L592.3,214.3L593.4,212.1L590.0,211.0L588.9,207.0L586.1,205.9L583.3,207.0L582.1,204.2L582.7,200.8L586.1,198.5L588.3,195.7L588.9,191.2L588.9,186.6L586.6,184.4L585.0,182.7L581.6,182.1L578.8,184.9L574.8,187.8L569.8,190.6L564.7,190.0L559.1,190.6L553.5,190.0L551.2,187.8L549.6,184.9L543.4,183.8L539.4,182.1L535.5,184.9L533.3,187.8L532.1,183.2L529.3,184.4L523.1,184.4L517.5,184.4L513.0,182.1L507.4,180.4L501.8,177.0L496.2,172.5L491.1,171.4L489.4,171.4L484.9,168.5L479.9,166.8L477.1,164.0L476.5,160.1L474.8,157.8L479.9,157.8L481.0,154.4L478.2,150.4L476.5,148.2L473.1,144.2L472.6,141.4L466.9,140.8L462.4,139.1L459.1,135.7L456.8,133.5L452.9,132.3L455.1,129.5L454.6,125.0L450.1,123.9L449.0,121.6L447.3,119.1ZM714.2,200.2L717.6,199.1L719.8,200.8L717.6,206.4L716.5,211.5L713.7,216.0L712.5,218.3L709.7,214.3L709.2,211.5L709.7,207.6L712.5,203.0ZM644.5,233.6L647.9,238.1L650.2,239.2L655.2,236.4L658.0,231.3L655.8,228.5L652.4,228.5L648.5,229.6L645.1,231.3Z" fill="none" stroke="#4a4a4a" stroke-width="0.9"/>
<path d="M704.7,242.6L708.6,249.4M715.9,216.0L718.7,221.7M705.2,238.7L707.5,233.0M723.2,203.0L724.3,198.5" fill="none" stroke="#666" stroke-width="0.9"/>
<circle cx="661.4" cy="248.8" r="0.7" fill="#777"/>
<circle cx="665.3" cy="247.1" r="0.7" fill="#777"/>
<circle cx="667.6" cy="250.0" r="0.7" fill="#777"/>
<circle cx="663.1" cy="251.7" r="0.7" fill="#777"/>
<circle cx="690.1" cy="224.5" r="0.7" fill="#777"/>
</g>
<rect x="440.3" y="174.3" width="45.5" height="47.89999999999998" fill="#fff" stroke="#555" stroke-width="0.9"/>
<clipPath id="iclip-d"><rect x="440.3" y="174.3" width="45.5" height="47.89999999999998"/></clipPath>
<g clip-path="url(#iclip-d)" fill="none" stroke="#444" stroke-width="0.6">
<path d="M398.5,150.1L399.2,149.6L399.9,148.8L400.9,148.1L402.0,147.8L403.2,148.2L404.1,147.0L405.4,147.0L406.4,146.5L407.3,145.9L409.1,145.1L409.8,144.7L410.0,143.3L410.8,142.8L410.3,141.0L410.1,139.6L409.5,139.3L412.3,138.7L413.7,138.9L413.3,137.9L414.2,136.3L414.5,135.0L416.2,135.4L417.9,135.4L418.9,135.0L418.9,133.0L419.9,132.4L420.9,131.7L421.8,131.1L422.8,131.5L422.6,132.2L424.0,132.8L425.5,133.6L426.8,134.0L427.8,135.6L428.0,137.1L427.5,138.3L428.5,139.1L431.0,139.3L432.2,139.3L434.2,140.4L435.4,140.8L436.3,142.6L437.1,143.7L438.4,143.5L442.3,144.0L444.5,143.8L446.2,144.1L448.7,145.3L450.7,145.7L451.9,145.9L454.6,144.5L457.0,144.2L459.2,144.2L460.7,143.5L461.9,142.4L463.2,141.8L462.7,140.6L463.2,139.1L464.6,139.3L466.1,139.7L467.6,138.5L469.1,138.5L470.3,137.7L471.3,136.5L472.5,136.1L474.0,135.7L475.2,135.9L476.7,135.9L476.4,135.0L474.8,133.8L473.5,133.4L472.5,134.0L471.0,133.6L469.8,133.8L469.5,133.0L470.5,131.3L471.3,129.8L473.2,130.5L474.5,129.7L475.5,128.9L475.7,127.8L476.9,126.4L478.2,125.2L477.7,124.5L478.4,123.3L480.7,122.8L482.9,122.6L485.0,123.3L486.3,123.7L487.1,124.8L487.8,126.0L489.2,128.0L489.7,129.9L491.4,130.3L492.9,130.7L494.7,131.7L495.1,132.8L494.7,133.6L496.2,134.0L498.1,134.0L499.5,133.2L501.5,132.8L502.3,132.6L501.6,134.0L500.8,134.8L500.3,136.5L499.6,138.1L498.9,138.9L496.9,138.7L495.4,139.4L495.7,141.2L495.9,142.4L495.4,143.3L494.7,144.3L494.1,143.5L493.0,144.3L492.0,145.1L490.5,145.3L490.9,146.1L489.2,146.1L488.0,145.7L487.0,147.2L485.3,148.2L484.1,149.2L482.4,149.6L480.6,150.5L479.1,151.3L479.6,150.4L479.4,149.8L480.2,149.0L480.6,148.0L479.4,147.2L478.2,148.0L476.5,149.2L475.2,150.5L473.5,150.7L473.0,151.7L473.8,152.9L475.2,154.4L476.5,154.2L477.4,153.7L478.9,153.7L481.1,154.0L480.7,155.0L478.6,155.8L477.5,156.6L475.9,158.3L475.5,159.5L477.4,160.1L478.2,162.8L479.2,164.0L480.1,165.1L480.1,166.7L478.6,167.5L479.4,168.5L480.2,168.7L479.4,171.2L478.7,172.2L477.9,173.3L477.2,174.7L476.2,175.9L476.0,177.4L475.0,178.4L473.7,179.2L472.8,180.3L471.3,181.5L470.1,182.3L468.6,182.7L467.1,183.5L465.9,183.6L465.1,184.2L463.4,184.6L461.7,185.2L460.7,185.6L460.4,187.3L459.8,187.2L459.5,186.0L459.5,185.0L458.5,185.0L457.5,184.6L456.6,184.9L455.6,184.6L454.5,184.0L454.5,182.5L453.3,182.3L452.3,181.5L451.3,181.9L450.2,182.7L449.1,182.7L448.1,183.3L446.9,183.3L446.0,183.1L445.9,184.8L445.2,185.2L444.0,185.0L443.2,184.6L442.3,183.8L442.0,182.9L442.3,182.1L441.3,181.7L441.0,180.3L440.1,179.9L439.3,180.3L439.0,179.4L439.1,178.2L440.1,177.4L440.8,176.4L441.0,174.9L441.0,173.3L440.3,172.5L439.8,172.0L438.8,171.8L437.9,172.7L436.8,173.7L435.2,174.7L433.7,174.5L432.0,174.7L430.4,174.5L429.7,173.7L429.2,172.7L427.3,172.4L426.1,171.8L425.0,172.7L424.3,173.7L424.0,172.2L423.1,172.5L421.3,172.5L419.6,172.5L418.2,171.8L416.5,171.2L414.9,170.0L413.2,168.5L411.7,168.1L411.1,168.1L409.8,167.1L408.3,166.5L407.4,165.5L407.3,164.2L406.8,163.4L408.3,163.4L408.6,162.2L407.8,160.9L407.3,160.1L406.3,158.7L406.1,157.7L404.4,157.6L403.1,157.0L402.0,155.8L401.4,155.0L400.2,154.6L400.9,153.7L400.7,152.1L399.4,151.7L399.0,150.9L398.5,150.1ZM478.6,178.0L479.6,177.6L480.2,178.2L479.6,180.1L479.2,181.9L478.4,183.5L478.0,184.2L477.2,182.9L477.0,181.9L477.2,180.5L478.0,179.0ZM457.7,189.5L458.7,191.0L459.3,191.4L460.9,190.5L461.7,188.7L461.0,187.7L460.0,187.7L458.8,188.1L457.8,188.7Z" stroke-width="0.8"/>
<path d="M405.8,157.6L408.6,157.9L412.2,157.7L416.2,157.0L420.1,156.2L423.8,156.0L426.5,155.2L427.8,154.0L427.0,151.9L431.0,150.2L431.4,147.8L433.7,146.1L436.9,143.5M426.1,155.8L427.7,157.2L429.3,158.1L430.5,159.5L430.0,161.4L431.0,163.0L433.1,163.0L434.7,162.8L436.4,163.6L438.1,164.0L439.5,162.8M439.5,162.8L440.6,164.6L441.3,167.5L441.1,169.4L440.8,171.2L440.8,172.0M439.5,162.8L441.0,161.8L443.2,163.0L445.2,163.0L446.2,161.4L447.0,161.8M428.8,150.9L433.9,152.1L437.3,151.9L439.5,150.5L441.1,150.9L442.7,152.5L444.9,153.3L447.4,154.8L447.9,156.2L447.4,157.7L446.2,158.7L445.9,160.3L447.0,161.8M438.8,143.7L440.2,147.6L443.2,149.2L446.6,151.6L449.1,150.4L450.2,151.9L450.4,153.9M450.4,154.0L451.9,153.7L452.9,151.7L454.1,150.2L454.6,150.5L455.0,152.1L456.0,153.1L455.5,154.6L454.1,155.4L454.6,157.2L453.6,158.3L452.6,157.4L452.3,155.8L450.9,154.8L450.4,154.0M456.0,153.1L457.5,152.9L460.0,150.9L461.4,150.2L462.0,150.0L462.7,148.6L464.2,148.4L466.4,148.0L467.3,147.2L467.6,145.5L469.3,144.9L471.0,144.1L472.7,144.3L474.3,145.1L475.5,146.1L476.9,144.1L479.4,143.1L480.7,143.7L481.9,142.2L482.8,140.2L481.4,138.3L479.9,136.3L481.9,134.4L483.6,132.8L485.6,130.9L486.5,128.9L487.0,126.6L486.3,124.1M462.0,150.0L461.2,151.9L460.9,153.9L460.9,156.8L460.5,158.7L460.7,159.5M466.4,148.0L466.9,149.0L466.4,150.9L465.9,153.9L466.8,155.8L466.1,157.2L464.2,158.3L462.5,159.1L460.7,159.5M456.0,153.1L456.6,154.8L457.7,156.2L455.8,157.9L454.1,159.1L454.1,161.6L452.6,163.2M452.6,163.2L450.7,163.2L449.1,161.6L447.0,161.8M452.6,163.2L454.1,163.8L455.8,164.2L457.5,164.2L459.3,165.1L460.4,163.6L461.7,162.2L461.0,160.3L460.7,159.5M461.7,162.2L463.4,163.6L465.9,165.0L467.6,165.3L469.3,165.0L469.8,163.0L471.0,160.7L470.1,159.5L469.1,158.7L468.3,157.0L466.8,155.8M466.8,155.8L469.3,155.2L471.0,153.7L472.7,152.5L473.5,152.7M470.1,159.5L472.7,159.7L474.3,159.1L475.7,158.7M471.0,160.7L473.2,161.8L474.3,163.0L474.7,165.0L475.5,166.1L476.2,166.1L477.7,166.5L478.6,166.9M469.3,165.0L470.1,167.1L471.3,168.5L472.7,169.0L474.0,169.2L475.2,167.9L476.2,166.1M474.0,169.2L474.3,171.2L473.5,172.9L472.3,174.3L471.0,176.2L470.5,178.2L469.8,179.0M473.5,172.9L476.0,173.1L477.7,173.7M470.5,178.2L471.5,179.0L472.2,180.9M469.8,179.0L468.1,179.0L466.8,177.6L465.1,177.8L463.4,178.6M466.8,177.6L466.8,175.3L466.4,173.3L467.1,171.4L466.4,170.0L464.2,169.4L461.7,168.8L460.0,169.4L459.2,168.8M466.4,170.0L468.4,169.4L470.1,168.8L470.1,167.1M459.2,168.8L458.7,167.5L460.0,166.1L459.3,165.1M457.5,164.2L455.8,165.5L454.1,167.3L453.3,169.0L452.4,170.0L453.3,171.4L454.1,171.4L455.8,170.4L457.5,171.4L458.7,171.2L459.2,168.8M440.8,171.4L442.3,172.4L444.0,172.7L444.9,175.3L446.5,175.9L448.2,175.3L449.1,172.7L450.7,172.4L452.4,172.4L453.3,171.4M450.7,172.4L450.7,176.2L451.1,178.2L451.9,178.6L452.4,180.1L452.9,181.7M451.9,178.6L454.1,178.2L455.8,177.6L457.5,177.2L458.8,176.6L459.2,174.7L458.7,173.1L458.7,171.2M458.8,176.6L460.9,176.2L462.2,177.2L463.4,178.6L462.5,180.1L462.7,182.1L461.0,183.6L459.7,185.0M480.7,143.7L482.8,142.8L484.5,143.1L486.1,144.1L487.0,145.3L485.8,147.8M479.9,136.3L482.8,137.7L485.0,138.9L487.0,139.3L489.5,140.2L491.2,141.2L492.9,141.2L495.4,140.6M475.5,146.1L476.0,148.0L476.0,149.2" stroke-width="0.6"/>
<circle cx="462.7" cy="194.6" r="0.7" fill="#666" stroke="none"/>
<circle cx="463.9" cy="194.9" r="0.6" fill="#666" stroke="none"/>
<circle cx="465.4" cy="195.3" r="0.8" fill="#666" stroke="none"/>
<circle cx="471.3" cy="186.6" r="0.7" fill="#666" stroke="none"/>
<circle cx="473.2" cy="197.3" r="0.5" fill="#666" stroke="none"/>
<circle cx="467.3" cy="205.8" r="0.6" fill="#666" stroke="none"/>
<circle cx="468.9" cy="206.6" r="0.8" fill="#666" stroke="none"/>
<circle cx="470.1" cy="205.5" r="0.6" fill="#666" stroke="none"/>
<circle cx="471.1" cy="205.6" r="0.5" fill="#666" stroke="none"/>
<circle cx="468.1" cy="208.0" r="0.6" fill="#666" stroke="none"/>
<circle cx="466.4" cy="209.0" r="0.5" fill="#666" stroke="none"/>
<circle cx="467.1" cy="210.7" r="0.6" fill="#666" stroke="none"/>
<circle cx="464.7" cy="210.1" r="0.5" fill="#666" stroke="none"/>
<circle cx="463.9" cy="212.1" r="0.6" fill="#666" stroke="none"/>
<circle cx="462.0" cy="213.6" r="0.7" fill="#666" stroke="none"/>
<circle cx="472.2" cy="202.9" r="0.5" fill="#666" stroke="none"/>
<circle cx="473.5" cy="200.6" r="0.5" fill="#666" stroke="none"/>
<circle cx="472.8" cy="205.8" r="0.5" fill="#666" stroke="none"/>
<circle cx="463.9" cy="219.1" r="0.7" fill="#666" stroke="none"/>
<circle cx="463.9" cy="216.0" r="0.5" fill="#666" stroke="none"/>
</g>
<rect x="496.0" y="240.1" width="50.39999999999998" height="5.099999999999994" fill="#fff" stroke="#666" stroke-width="0.7"/>
<rect x="445.2" y="240.1" width="50.80000000000001" height="5.099999999999994" fill="#000"/>
<text x="445.2" y="235.2" font-size="11.2" text-anchor="middle" fill="#111">0</text>
<text x="470.6" y="235.2" font-size="11.2" text-anchor="middle" fill="#111">500</text>
<text x="496.0" y="235.2" font-size="11.2" text-anchor="middle" fill="#111">1,000</text>
<text x="546.4" y="235.2" font-size="11.2" text-anchor="middle" fill="#111">2,000</text>
<text x="549.4" y="246.4" font-size="12.0" fill="#111">km</text>
<rect x="437.5" y="32.5" width="373.3" height="219.0" fill="none" stroke="#666" stroke-width="1.25"/>
<line x1="483.8" y1="251.5" x2="483.8" y2="253.5" stroke="#5a5a5a"/>
<line x1="483.8" y1="32.5" x2="483.8" y2="30.5" stroke="#5a5a5a"/>
<text x="483.8" y="264.1" font-size="11.4" text-anchor="middle" fill="#1a1a1a">80°E</text>
<line x1="596.2" y1="251.5" x2="596.2" y2="253.5" stroke="#5a5a5a"/>
<line x1="596.2" y1="32.5" x2="596.2" y2="30.5" stroke="#5a5a5a"/>
<text x="596.2" y="264.1" font-size="11.4" text-anchor="middle" fill="#1a1a1a">100°E</text>
<line x1="708.6" y1="251.5" x2="708.6" y2="253.5" stroke="#5a5a5a"/>
<line x1="708.6" y1="32.5" x2="708.6" y2="30.5" stroke="#5a5a5a"/>
<text x="708.6" y="264.1" font-size="11.4" text-anchor="middle" fill="#1a1a1a">120°E</text>
<line x1="437.5" y1="172.5" x2="435.5" y2="172.5" stroke="#5a5a5a"/>
<line x1="810.8" y1="172.5" x2="812.8" y2="172.5" stroke="#5a5a5a"/>
<text transform="translate(433.5,172.5) rotate(-90)" font-size="11.8" text-anchor="middle" fill="#1a1a1a">30°N</text>
<line x1="437.5" y1="59.4" x2="435.5" y2="59.4" stroke="#5a5a5a"/>
<line x1="810.8" y1="59.4" x2="812.8" y2="59.4" stroke="#5a5a5a"/>
<text transform="translate(433.5,59.4) rotate(-90)" font-size="11.8" text-anchor="middle" fill="#1a1a1a">50°N</text>
<text x="441.5" y="19.6" font-size="20.8" fill="#111">(d)</text>
<text x="494.9" y="53.8" font-size="13.6" fill="#1a1a1a">Time of BPs (yr)</text>
<text x="509.5" y="207.0" font-size="14.3" fill="#1a1a1a">Variance</text>
<rect x="733.0" y="113.1" width="74.6" height="130.9" fill="#fff"/>
<rect x="759.0" y="116.1" width="30.6" height="7.2" fill="#8e1a22"/>
<text x="791.1" y="122.5" font-size="6.8" font-weight="bold" fill="#222">2016</text>
<rect x="758.4" y="128.7" width="31.2" height="7.2" fill="#e06675"/>
<text x="791.1" y="135.1" font-size="6.8" font-weight="bold" fill="#222">2015</text>
<rect x="743.2" y="141.3" width="46.4" height="7.2" fill="#f9921f"/>
<text x="791.1" y="147.7" font-size="6.8" font-weight="bold" fill="#222">2014</text>
<rect x="747.0" y="153.9" width="42.6" height="7.2" fill="#fbb06e"/>
<text x="791.1" y="160.3" font-size="6.8" font-weight="bold" fill="#222">2013</text>
<rect x="751.4" y="166.5" width="38.2" height="7.2" fill="#fbf77c"/>
<text x="791.1" y="172.9" font-size="6.8" font-weight="bold" fill="#222">2012</text>
<rect x="748.5" y="179.1" width="41.1" height="7.2" fill="#c3c2df"/>
<text x="791.1" y="185.5" font-size="6.8" font-weight="bold" fill="#222">2011</text>
<rect x="761.9" y="191.7" width="27.7" height="7.2" fill="#9d9bcb"/>
<text x="791.1" y="198.1" font-size="6.8" font-weight="bold" fill="#222">2010</text>
<rect x="746.0" y="204.3" width="43.6" height="7.2" fill="#3e3d76"/>
<text x="791.1" y="210.7" font-size="6.8" font-weight="bold" fill="#222">2009</text>
<rect x="760.9" y="216.9" width="28.7" height="7.2" fill="#25245e"/>
<text x="791.1" y="223.3" font-size="6.8" font-weight="bold" fill="#222">2008</text>
<line x1="789.6" y1="114.1" x2="789.6" y2="227.0" stroke="#999" stroke-width="0.6"/>
<line x1="735.0" y1="227.0" x2="789.6" y2="227.0" stroke="#777" stroke-width="0.7"/>
<text x="749.8" y="233.3" font-size="6.5" text-anchor="middle" fill="#222">2</text>
<text x="770.5" y="233.3" font-size="6.5" text-anchor="middle" fill="#222">1</text>
<text x="789.6" y="233.3" font-size="6.5" text-anchor="middle" fill="#222">0</text>
<text x="765.3" y="241.0" font-size="6.6" text-anchor="middle" fill="#222">Grid cells count (10<tspan font-size="4.5" dy="-2.5">5</tspan><tspan dy="2.5">)</tspan></text>
</g>
<g id="panel-b">
<line x1="56.5" y1="295.5" x2="56.5" y2="482.0" stroke="#f1f1f1" stroke-width="1"/>
<line x1="155.9" y1="295.5" x2="155.9" y2="482.0" stroke="#f1f1f1" stroke-width="1"/>
<line x1="255.3" y1="295.5" x2="255.3" y2="482.0" stroke="#f1f1f1" stroke-width="1"/>
<line x1="354.7" y1="295.5" x2="354.7" y2="482.0" stroke="#f1f1f1" stroke-width="1"/>
<line x1="20.5" y1="417.5" x2="399.5" y2="417.5" stroke="#f1f1f1" stroke-width="1"/>
<line x1="20.5" y1="317.3" x2="399.5" y2="317.3" stroke="#f1f1f1" stroke-width="1"/>
<clipPath id="clip-b"><path d="M24.2,370.2L26.2,368.9L28.2,366.9L31.2,365.1L34.6,364.4L38.1,365.4L40.6,362.4L44.6,362.4L47.6,360.9L50.0,359.4L55.5,357.4L57.5,356.4L58.0,352.9L60.5,351.4L59.0,346.9L58.5,343.4L56.5,342.4L64.9,340.8L68.9,341.3L67.9,338.8L70.4,334.8L71.4,331.3L76.4,332.3L81.3,332.3L84.3,331.3L84.3,326.3L87.3,324.8L90.3,322.8L92.8,321.5L95.8,322.3L95.3,324.3L99.2,325.8L103.7,327.8L107.7,328.8L110.7,332.8L111.2,336.8L109.7,339.8L112.7,341.8L120.1,342.4L123.6,342.6L129.6,345.4L133.0,346.4L135.5,350.9L138.0,353.9L142.0,353.4L153.4,354.6L159.9,354.1L164.8,354.9L172.3,357.9L178.3,358.9L181.7,359.4L189.7,355.9L196.7,355.1L203.1,355.1L207.6,353.4L211.1,350.4L215.0,348.9L213.6,345.9L215.0,341.8L219.0,342.4L223.5,343.6L228.0,340.3L232.4,340.3L235.9,338.3L238.9,335.3L242.4,334.3L246.9,333.3L250.3,333.8L254.8,333.8L253.8,331.3L249.3,328.3L245.4,327.3L242.4,328.8L237.9,327.8L234.4,328.3L233.4,326.3L236.4,321.8L238.9,318.1L244.4,319.8L248.3,317.8L251.3,315.8L251.8,312.8L255.3,309.3L259.3,306.3L257.8,304.3L259.8,301.3L266.7,300.0L273.2,299.5L279.2,301.3L283.1,302.3L285.6,305.3L287.6,308.3L291.6,313.3L293.1,318.3L298.0,319.3L302.5,320.3L308.0,322.8L309.0,325.8L308.0,327.8L312.5,328.8L317.9,328.8L321.9,326.8L327.9,325.8L330.3,325.3L328.4,328.8L325.9,330.8L324.4,335.3L322.4,339.3L320.4,341.3L314.4,340.8L310.0,342.9L311.0,347.4L311.5,350.4L310.0,352.9L308.0,355.4L306.0,353.4L303.0,355.4L300.0,357.4L295.6,357.9L296.6,359.9L291.6,359.9L288.1,358.9L285.1,362.9L280.1,365.4L276.7,367.9L271.7,368.9L266.2,371.4L261.8,373.4L263.3,370.9L262.8,369.4L265.2,367.4L266.2,364.9L262.8,362.9L259.3,364.9L254.3,367.9L250.3,371.4L245.4,371.9L243.9,374.4L246.4,377.4L250.3,381.4L254.3,380.9L256.8,379.4L261.3,379.4L267.7,380.4L266.7,382.9L260.3,384.9L257.3,386.9L252.3,391.4L251.3,394.5L256.8,396.0L259.3,403.0L262.3,406.0L264.7,409.0L264.7,413.0L260.3,415.0L262.8,417.5L265.2,418.0L262.8,424.5L260.8,427.0L258.3,430.0L256.3,433.5L253.3,436.5L252.8,440.5L249.8,443.1L245.9,445.1L243.4,448.1L238.9,451.1L235.4,453.1L230.9,454.1L226.5,456.1L223.0,456.6L220.5,458.1L215.5,459.1L210.6,460.6L207.6,461.6L206.6,466.1L205.1,465.6L204.1,462.6L204.1,460.1L201.1,460.1L198.1,459.1L195.7,459.8L192.7,459.1L189.2,457.6L189.2,453.6L185.7,453.1L182.7,451.1L179.8,452.1L176.8,454.1L173.3,454.1L170.3,455.6L166.8,455.6L164.3,455.1L163.9,459.6L161.9,460.6L158.4,460.1L155.9,459.1L153.4,457.1L152.4,454.6L153.4,452.6L150.4,451.6L149.4,448.1L147.0,447.1L144.5,448.1L143.5,445.6L144.0,442.6L147.0,440.5L148.9,438.0L149.4,434.0L149.4,430.0L147.5,428.0L146.0,426.5L143.0,426.0L140.5,428.5L137.0,431.0L132.5,433.5L128.1,433.0L123.1,433.5L118.1,433.0L116.1,431.0L114.6,428.5L109.2,427.5L105.7,426.0L102.2,428.5L100.2,431.0L99.2,427.0L96.8,428.0L91.3,428.0L86.3,428.0L82.3,426.0L77.4,424.5L72.4,421.5L67.4,417.5L63.0,416.5L61.5,416.5L57.5,414.0L53.0,412.5L50.5,410.0L50.0,406.5L48.5,404.5L53.0,404.5L54.0,401.5L51.5,398.0L50.0,396.0L47.1,392.4L46.6,389.9L41.6,389.4L37.6,387.9L34.6,384.9L32.6,382.9L29.2,381.9L31.2,379.4L30.7,375.4L26.7,374.4L25.7,372.4L24.2,370.2ZM260.3,442.0L263.3,441.0L265.2,442.6L263.3,447.6L262.3,452.1L259.8,456.1L258.8,458.1L256.3,454.6L255.8,452.1L256.3,448.6L258.8,444.6ZM198.6,471.6L201.6,475.6L203.6,476.6L208.1,474.1L210.6,469.6L208.6,467.1L205.6,467.1L202.1,468.1L199.1,469.6Z"/></clipPath>
<clipPath id="fclip-b"><rect x="20.5" y="295.5" width="379.0" height="186.5"/></clipPath>
<g clip-path="url(#fclip-b)">
<g clip-path="url(#clip-b)">
<filter id="f16" x="20.5" y="295.5" width="379.0" height="186.5" filterUnits="userSpaceOnUse" color-interpolation-filters="sRGB"><feGaussianBlur in="SourceAlpha" stdDeviation="2.5" result="b"/><feTurbulence type="fractalNoise" baseFrequency="0.32" numOctaves="2" seed="80" result="n"/><feComponentTransfer in="n" result="u"><feFuncA type="table" tableValues="0.000 0.000 0.000 0.000 0.003 0.014 0.048 0.110 0.207 0.331 0.494 0.673 0.802 0.889 0.951 0.984 0.996 0.999 1.000 1.000 1.000"/></feComponentTransfer><feColorMatrix in="u" type="matrix" values="0 0 0 0 0 0 0 0 0 0 0 0 0 0 0 0 0 0 1 0" result="ua"/><feComponentTransfer in="b" result="bm"><feFuncA type="linear" slope="25" intercept="0"/></feComponentTransfer><feComposite in="b" in2="ua" operator="arithmetic" k2="8" k3="-8" k4="0.5" result="m0"/><feComposite in="m0" in2="bm" operator="in" result="m"/><feFlood flood-color="#a2c4f0"/><feComposite in2="m" operator="in"/><feGaussianBlur stdDeviation="0.6"/></filter>
<g filter="url(#f16)">
<ellipse cx="73.9" cy="339.8" rx="8.6" ry="5.8" transform="rotate(0 73.9 339.8)" fill-opacity="0.236"/>
<ellipse cx="68.9" cy="349.9" rx="14.3" ry="5.2" transform="rotate(0 68.9 349.9)" fill-opacity="0.197"/>
<ellipse cx="91.3" cy="350.9" rx="14.3" ry="4.0" transform="rotate(0 91.3 350.9)" fill-opacity="0.077"/>
<ellipse cx="116.1" cy="352.4" rx="14.3" ry="5.2" transform="rotate(0 116.1 352.4)" fill-opacity="0.041"/>
<ellipse cx="88.8" cy="340.8" rx="14.3" ry="5.8" transform="rotate(0 88.8 340.8)" fill-opacity="0.072"/>
<ellipse cx="64.0" cy="361.4" rx="20.0" ry="4.0" transform="rotate(10 64.0 361.4)" fill-opacity="0.069"/>
<ellipse cx="73.9" cy="372.4" rx="34.3" ry="9.2" transform="rotate(0 73.9 372.4)" fill-opacity="0.013"/>
<ellipse cx="49.0" cy="379.9" rx="17.1" ry="5.2" transform="rotate(-25 49.0 379.9)" fill-opacity="0.208"/>
<ellipse cx="83.8" cy="383.4" rx="20.0" ry="3.5" transform="rotate(0 83.8 383.4)" fill-opacity="0.071"/>
<ellipse cx="34.1" cy="373.4" rx="8.6" ry="6.9" transform="rotate(0 34.1 373.4)" fill-opacity="0.17"/>
<ellipse cx="64.0" cy="405.0" rx="14.9" ry="15.6" transform="rotate(0 64.0 405.0)" fill-opacity="0.39"/>
<ellipse cx="86.3" cy="395.0" rx="20.0" ry="8.6" transform="rotate(0 86.3 395.0)" fill-opacity="0.214"/>
<ellipse cx="111.2" cy="395.0" rx="17.1" ry="8.6" transform="rotate(0 111.2 395.0)" fill-opacity="0.432"/>
<ellipse cx="86.3" cy="415.0" rx="20.0" ry="8.6" transform="rotate(-15 86.3 415.0)" fill-opacity="0.404"/>
<ellipse cx="113.7" cy="420.0" rx="14.3" ry="8.6" transform="rotate(0 113.7 420.0)" fill-opacity="0.404"/>
<ellipse cx="136.0" cy="415.0" rx="14.3" ry="14.4" transform="rotate(0 136.0 415.0)" fill-opacity="0.432"/>
<ellipse cx="126.1" cy="380.9" rx="17.1" ry="6.9" transform="rotate(0 126.1 380.9)" fill-opacity="0.179"/>
<ellipse cx="133.5" cy="397.5" rx="20.0" ry="9.2" transform="rotate(0 133.5 397.5)" fill-opacity="0.404"/>
<ellipse cx="155.9" cy="379.9" rx="17.1" ry="8.6" transform="rotate(20 155.9 379.9)" fill-opacity="0.645"/>
<ellipse cx="165.8" cy="400.0" rx="10.3" ry="10.4" transform="rotate(0 165.8 400.0)" fill-opacity="0.439"/>
<ellipse cx="158.4" cy="417.5" rx="11.4" ry="14.4" transform="rotate(0 158.4 417.5)" fill-opacity="0.466"/>
<ellipse cx="155.9" cy="364.9" rx="22.9" ry="6.9" transform="rotate(20 155.9 364.9)" fill-opacity="0.04"/>
<ellipse cx="185.7" cy="382.4" rx="11.4" ry="11.5" transform="rotate(0 185.7 382.4)" fill-opacity="0.635"/>
<ellipse cx="208.1" cy="379.9" rx="11.4" ry="14.4" transform="rotate(0 208.1 379.9)" fill-opacity="0.482"/>
<ellipse cx="200.6" cy="367.4" rx="14.3" ry="6.9" transform="rotate(0 200.6 367.4)" fill-opacity="0.325"/>
<ellipse cx="220.5" cy="354.9" rx="20.0" ry="8.6" transform="rotate(20 220.5 354.9)" fill-opacity="0.302"/>
<ellipse cx="250.3" cy="347.4" rx="17.1" ry="11.5" transform="rotate(30 250.3 347.4)" fill-opacity="0.305"/>
<ellipse cx="245.4" cy="324.8" rx="10.3" ry="8.6" transform="rotate(0 245.4 324.8)" fill-opacity="0.329"/>
<ellipse cx="270.2" cy="312.3" rx="14.3" ry="12.7" transform="rotate(0 270.2 312.3)" fill-opacity="0.689"/>
<ellipse cx="292.6" cy="322.3" rx="10.3" ry="8.6" transform="rotate(0 292.6 322.3)" fill-opacity="0.274"/>
<ellipse cx="277.7" cy="337.3" rx="11.4" ry="11.5" transform="rotate(0 277.7 337.3)" fill-opacity="0.111"/>
<ellipse cx="300.0" cy="330.3" rx="10.9" ry="8.1" transform="rotate(0 300.0 330.3)" fill-opacity="0.28"/>
<ellipse cx="294.1" cy="352.4" rx="13.1" ry="9.2" transform="rotate(40 294.1 352.4)" fill-opacity="0.317"/>
<ellipse cx="265.2" cy="362.4" rx="14.3" ry="7.5" transform="rotate(20 265.2 362.4)" fill-opacity="0.197"/>
<ellipse cx="235.4" cy="364.9" rx="11.4" ry="5.8" transform="rotate(20 235.4 364.9)" fill-opacity="0.19"/>
<ellipse cx="235.4" cy="387.4" rx="14.3" ry="17.3" transform="rotate(0 235.4 387.4)" fill-opacity="0.04"/>
<ellipse cx="250.3" cy="385.9" rx="10.3" ry="6.3" transform="rotate(0 250.3 385.9)" fill-opacity="0.054"/>
<ellipse cx="193.2" cy="398.5" rx="17.1" ry="4.6" transform="rotate(0 193.2 398.5)" fill-opacity="0.482"/>
<ellipse cx="183.2" cy="417.5" rx="11.4" ry="11.5" transform="rotate(30 183.2 417.5)" fill-opacity="0.027"/>
<ellipse cx="205.6" cy="420.0" rx="11.4" ry="14.4" transform="rotate(0 205.6 420.0)" fill-opacity="0.305"/>
<ellipse cx="245.4" cy="407.5" rx="11.4" ry="11.5" transform="rotate(0 245.4 407.5)" fill-opacity="0.07"/>
<ellipse cx="228.0" cy="430.0" rx="14.3" ry="14.4" transform="rotate(0 228.0 430.0)" fill-opacity="0.219"/>
<ellipse cx="249.3" cy="432.5" rx="10.3" ry="17.3" transform="rotate(35 249.3 432.5)" fill-opacity="0.294"/>
<ellipse cx="189.7" cy="433.5" rx="11.4" ry="9.2" transform="rotate(0 189.7 433.5)" fill-opacity="0.219"/>
<ellipse cx="160.9" cy="435.0" rx="11.4" ry="11.5" transform="rotate(0 160.9 435.0)" fill-opacity="0.482"/>
<ellipse cx="163.4" cy="451.6" rx="14.3" ry="9.2" transform="rotate(0 163.4 451.6)" fill-opacity="0.404"/>
<ellipse cx="198.1" cy="448.6" rx="14.3" ry="8.6" transform="rotate(0 198.1 448.6)" fill-opacity="0.201"/>
<ellipse cx="223.0" cy="450.1" rx="14.3" ry="7.5" transform="rotate(0 223.0 450.1)" fill-opacity="0.245"/>
<ellipse cx="204.1" cy="471.6" rx="5.7" ry="4.6" transform="rotate(0 204.1 471.6)" fill-opacity="0.368"/>
<ellipse cx="260.3" cy="449.1" rx="3.4" ry="8.6" transform="rotate(15 260.3 449.1)" fill-opacity="0.559"/>
<ellipse cx="319.9" cy="329.8" rx="8.6" ry="4.6" transform="rotate(0 319.9 329.8)" fill-opacity="0.122"/>
<ellipse cx="260.3" cy="329.8" rx="8.6" ry="10.4" transform="rotate(0 260.3 329.8)" fill-opacity="0.314"/>
</g>
<filter id="f17" x="20.5" y="295.5" width="379.0" height="186.5" filterUnits="userSpaceOnUse" color-interpolation-filters="sRGB"><feGaussianBlur in="SourceAlpha" stdDeviation="2.5" result="b"/><feTurbulence type="fractalNoise" baseFrequency="0.32" numOctaves="2" seed="87" result="n"/><feComponentTransfer in="n" result="u"><feFuncA type="table" tableValues="0.000 0.000 0.000 0.000 0.003 0.014 0.048 0.110 0.207 0.331 0.494 0.673 0.802 0.889 0.951 0.984 0.996 0.999 1.000 1.000 1.000"/></feComponentTransfer><feColorMatrix in="u" type="matrix" values="0 0 0 0 0 0 0 0 0 0 0 0 0 0 0 0 0 0 1 0" result="ua"/><feComponentTransfer in="b" result="bm"><feFuncA type="linear" slope="25" intercept="0"/></feComponentTransfer><feComposite in="b" in2="ua" operator="arithmetic" k2="8" k3="-8" k4="0.5" result="m0"/><feComposite in="m0" in2="bm" operator="in" result="m"/><feFlood flood-color="#f3909a"/><feComposite in2="m" operator="in"/><feGaussianBlur stdDeviation="0.6"/></filter>
<g filter="url(#f17)">
<ellipse cx="93.8" cy="332.3" rx="10.3" ry="6.9" transform="rotate(-30 93.8 332.3)" fill-opacity="0.197"/>
<ellipse cx="68.9" cy="349.9" rx="14.3" ry="5.2" transform="rotate(0 68.9 349.9)" fill-opacity="0.136"/>
<ellipse cx="91.3" cy="350.9" rx="14.3" ry="4.0" transform="rotate(0 91.3 350.9)" fill-opacity="0.085"/>
<ellipse cx="116.1" cy="352.4" rx="14.3" ry="5.2" transform="rotate(0 116.1 352.4)" fill-opacity="0.04"/>
<ellipse cx="88.8" cy="340.8" rx="14.3" ry="5.8" transform="rotate(0 88.8 340.8)" fill-opacity="0.041"/>
<ellipse cx="64.0" cy="361.4" rx="20.0" ry="4.0" transform="rotate(10 64.0 361.4)" fill-opacity="0.04"/>
<ellipse cx="49.0" cy="379.9" rx="17.1" ry="5.2" transform="rotate(-25 49.0 379.9)" fill-opacity="0.094"/>
<ellipse cx="83.8" cy="383.4" rx="20.0" ry="3.5" transform="rotate(0 83.8 383.4)" fill-opacity="0.066"/>
<ellipse cx="34.1" cy="373.4" rx="8.6" ry="6.9" transform="rotate(0 34.1 373.4)" fill-opacity="0.078"/>
<ellipse cx="64.0" cy="405.0" rx="14.9" ry="15.6" transform="rotate(0 64.0 405.0)" fill-opacity="0.448"/>
<ellipse cx="86.3" cy="395.0" rx="20.0" ry="8.6" transform="rotate(0 86.3 395.0)" fill-opacity="0.278"/>
<ellipse cx="111.2" cy="395.0" rx="17.1" ry="8.6" transform="rotate(0 111.2 395.0)" fill-opacity="0.474"/>
<ellipse cx="86.3" cy="415.0" rx="20.0" ry="8.6" transform="rotate(-15 86.3 415.0)" fill-opacity="0.502"/>
<ellipse cx="113.7" cy="420.0" rx="14.3" ry="8.6" transform="rotate(0 113.7 420.0)" fill-opacity="0.502"/>
<ellipse cx="136.0" cy="415.0" rx="14.3" ry="14.4" transform="rotate(0 136.0 415.0)" fill-opacity="0.393"/>
<ellipse cx="126.1" cy="380.9" rx="17.1" ry="6.9" transform="rotate(0 126.1 380.9)" fill-opacity="0.082"/>
<ellipse cx="133.5" cy="397.5" rx="20.0" ry="9.2" transform="rotate(0 133.5 397.5)" fill-opacity="0.377"/>
<ellipse cx="155.9" cy="379.9" rx="17.1" ry="8.6" transform="rotate(20 155.9 379.9)" fill-opacity="0.162"/>
<ellipse cx="165.8" cy="400.0" rx="10.3" ry="10.4" transform="rotate(0 165.8 400.0)" fill-opacity="0.26"/>
<ellipse cx="158.4" cy="417.5" rx="11.4" ry="14.4" transform="rotate(0 158.4 417.5)" fill-opacity="0.411"/>
<ellipse cx="220.5" cy="354.9" rx="20.0" ry="8.6" transform="rotate(20 220.5 354.9)" fill-opacity="0.168"/>
<ellipse cx="250.3" cy="347.4" rx="17.1" ry="11.5" transform="rotate(30 250.3 347.4)" fill-opacity="0.355"/>
<ellipse cx="300.0" cy="330.3" rx="10.9" ry="8.1" transform="rotate(0 300.0 330.3)" fill-opacity="0.123"/>
<ellipse cx="265.2" cy="362.4" rx="14.3" ry="7.5" transform="rotate(20 265.2 362.4)" fill-opacity="0.09"/>
<ellipse cx="235.4" cy="364.9" rx="11.4" ry="5.8" transform="rotate(20 235.4 364.9)" fill-opacity="0.087"/>
<ellipse cx="250.3" cy="385.9" rx="10.3" ry="6.3" transform="rotate(0 250.3 385.9)" fill-opacity="0.026"/>
<ellipse cx="193.2" cy="398.5" rx="17.1" ry="4.6" transform="rotate(0 193.2 398.5)" fill-opacity="0.194"/>
<ellipse cx="183.2" cy="417.5" rx="11.4" ry="11.5" transform="rotate(30 183.2 417.5)" fill-opacity="0.026"/>
<ellipse cx="205.6" cy="420.0" rx="11.4" ry="14.4" transform="rotate(0 205.6 420.0)" fill-opacity="0.355"/>
<ellipse cx="245.4" cy="407.5" rx="11.4" ry="11.5" transform="rotate(0 245.4 407.5)" fill-opacity="0.053"/>
<ellipse cx="228.0" cy="430.0" rx="14.3" ry="14.4" transform="rotate(0 228.0 430.0)" fill-opacity="0.208"/>
<ellipse cx="249.3" cy="432.5" rx="10.3" ry="17.3" transform="rotate(35 249.3 432.5)" fill-opacity="0.197"/>
<ellipse cx="189.7" cy="433.5" rx="11.4" ry="9.2" transform="rotate(0 189.7 433.5)" fill-opacity="0.208"/>
<ellipse cx="160.9" cy="435.0" rx="11.4" ry="11.5" transform="rotate(0 160.9 435.0)" fill-opacity="0.464"/>
<ellipse cx="163.4" cy="451.6" rx="14.3" ry="9.2" transform="rotate(0 163.4 451.6)" fill-opacity="0.421"/>
<ellipse cx="198.1" cy="448.6" rx="14.3" ry="8.6" transform="rotate(0 198.1 448.6)" fill-opacity="0.194"/>
<ellipse cx="223.0" cy="450.1" rx="14.3" ry="7.5" transform="rotate(0 223.0 450.1)" fill-opacity="0.269"/>
<ellipse cx="204.1" cy="471.6" rx="5.7" ry="4.6" transform="rotate(0 204.1 471.6)" fill-opacity="0.197"/>
</g>
<filter id="f18" x="20.5" y="295.5" width="379.0" height="186.5" filterUnits="userSpaceOnUse" color-interpolation-filters="sRGB"><feGaussianBlur in="SourceAlpha" stdDeviation="2.5" result="b"/><feTurbulence type="fractalNoise" baseFrequency="0.32" numOctaves="2" seed="73" result="n"/><feComponentTransfer in="n" result="u"><feFuncA type="table" tableValues="0.000 0.000 0.000 0.000 0.003 0.014 0.048 0.110 0.207 0.331 0.494 0.673 0.802 0.889 0.951 0.984 0.996 0.999 1.000 1.000 1.000"/></feComponentTransfer><feColorMatrix in="u" type="matrix" values="0 0 0 0 0 0 0 0 0 0 0 0 0 0 0 0 0 0 1 0" result="ua"/><feComponentTransfer in="b" result="bm"><feFuncA type="linear" slope="25" intercept="0"/></feComponentTransfer><feComposite in="b" in2="ua" operator="arithmetic" k2="8" k3="-8" k4="0.5" result="m0"/><feComposite in="m0" in2="bm" operator="in" result="m"/><feFlood flood-color="#3f84de"/><feComposite in2="m" operator="in"/><feGaussianBlur stdDeviation="0.6"/></filter>
<g filter="url(#f18)">
<ellipse cx="93.8" cy="332.3" rx="10.3" ry="6.9" transform="rotate(-30 93.8 332.3)" fill-opacity="0.09"/>
<ellipse cx="73.9" cy="339.8" rx="8.6" ry="5.8" transform="rotate(0 73.9 339.8)" fill-opacity="0.283"/>
<ellipse cx="68.9" cy="349.9" rx="14.3" ry="5.2" transform="rotate(0 68.9 349.9)" fill-opacity="0.17"/>
<ellipse cx="91.3" cy="350.9" rx="14.3" ry="4.0" transform="rotate(0 91.3 350.9)" fill-opacity="0.066"/>
<ellipse cx="88.8" cy="340.8" rx="14.3" ry="5.8" transform="rotate(0 88.8 340.8)" fill-opacity="0.04"/>
<ellipse cx="49.0" cy="379.9" rx="17.1" ry="5.2" transform="rotate(-25 49.0 379.9)" fill-opacity="0.158"/>
<ellipse cx="34.1" cy="373.4" rx="8.6" ry="6.9" transform="rotate(0 34.1 373.4)" fill-opacity="0.158"/>
<ellipse cx="64.0" cy="405.0" rx="14.9" ry="15.6" transform="rotate(0 64.0 405.0)" fill-opacity="0.152"/>
<ellipse cx="86.3" cy="395.0" rx="20.0" ry="8.6" transform="rotate(0 86.3 395.0)" fill-opacity="0.072"/>
<ellipse cx="111.2" cy="395.0" rx="17.1" ry="8.6" transform="rotate(0 111.2 395.0)" fill-opacity="0.132"/>
<ellipse cx="86.3" cy="415.0" rx="20.0" ry="8.6" transform="rotate(-15 86.3 415.0)" fill-opacity="0.139"/>
<ellipse cx="113.7" cy="420.0" rx="14.3" ry="8.6" transform="rotate(0 113.7 420.0)" fill-opacity="0.139"/>
<ellipse cx="136.0" cy="415.0" rx="14.3" ry="14.4" transform="rotate(0 136.0 415.0)" fill-opacity="0.304"/>
<ellipse cx="126.1" cy="380.9" rx="17.1" ry="6.9" transform="rotate(0 126.1 380.9)" fill-opacity="0.198"/>
<ellipse cx="133.5" cy="397.5" rx="20.0" ry="9.2" transform="rotate(0 133.5 397.5)" fill-opacity="0.312"/>
<ellipse cx="155.9" cy="379.9" rx="17.1" ry="8.6" transform="rotate(20 155.9 379.9)" fill-opacity="0.575"/>
<ellipse cx="165.8" cy="400.0" rx="10.3" ry="10.4" transform="rotate(0 165.8 400.0)" fill-opacity="0.448"/>
<ellipse cx="158.4" cy="417.5" rx="11.4" ry="14.4" transform="rotate(0 158.4 417.5)" fill-opacity="0.314"/>
<ellipse cx="185.7" cy="382.4" rx="11.4" ry="11.5" transform="rotate(0 185.7 382.4)" fill-opacity="0.613"/>
<ellipse cx="208.1" cy="379.9" rx="11.4" ry="14.4" transform="rotate(0 208.1 379.9)" fill-opacity="0.546"/>
<ellipse cx="200.6" cy="367.4" rx="14.3" ry="6.9" transform="rotate(0 200.6 367.4)" fill-opacity="0.394"/>
<ellipse cx="220.5" cy="354.9" rx="20.0" ry="8.6" transform="rotate(20 220.5 354.9)" fill-opacity="0.295"/>
<ellipse cx="250.3" cy="347.4" rx="17.1" ry="11.5" transform="rotate(30 250.3 347.4)" fill-opacity="0.165"/>
<ellipse cx="245.4" cy="324.8" rx="10.3" ry="8.6" transform="rotate(0 245.4 324.8)" fill-opacity="0.198"/>
<ellipse cx="270.2" cy="312.3" rx="14.3" ry="12.7" transform="rotate(0 270.2 312.3)" fill-opacity="0.589"/>
<ellipse cx="292.6" cy="322.3" rx="10.3" ry="8.6" transform="rotate(0 292.6 322.3)" fill-opacity="0.314"/>
<ellipse cx="277.7" cy="337.3" rx="11.4" ry="11.5" transform="rotate(0 277.7 337.3)" fill-opacity="0.053"/>
<ellipse cx="300.0" cy="330.3" rx="10.9" ry="8.1" transform="rotate(0 300.0 330.3)" fill-opacity="0.38"/>
<ellipse cx="294.1" cy="352.4" rx="13.1" ry="9.2" transform="rotate(40 294.1 352.4)" fill-opacity="0.559"/>
<ellipse cx="265.2" cy="362.4" rx="14.3" ry="7.5" transform="rotate(20 265.2 362.4)" fill-opacity="0.264"/>
<ellipse cx="235.4" cy="364.9" rx="11.4" ry="5.8" transform="rotate(20 235.4 364.9)" fill-opacity="0.238"/>
<ellipse cx="193.2" cy="398.5" rx="17.1" ry="4.6" transform="rotate(0 193.2 398.5)" fill-opacity="0.493"/>
<ellipse cx="205.6" cy="420.0" rx="11.4" ry="14.4" transform="rotate(0 205.6 420.0)" fill-opacity="0.228"/>
<ellipse cx="228.0" cy="430.0" rx="14.3" ry="14.4" transform="rotate(0 228.0 430.0)" fill-opacity="0.148"/>
<ellipse cx="249.3" cy="432.5" rx="10.3" ry="17.3" transform="rotate(35 249.3 432.5)" fill-opacity="0.283"/>
<ellipse cx="189.7" cy="433.5" rx="11.4" ry="9.2" transform="rotate(0 189.7 433.5)" fill-opacity="0.148"/>
<ellipse cx="160.9" cy="435.0" rx="11.4" ry="11.5" transform="rotate(0 160.9 435.0)" fill-opacity="0.279"/>
<ellipse cx="163.4" cy="451.6" rx="14.3" ry="9.2" transform="rotate(0 163.4 451.6)" fill-opacity="0.26"/>
<ellipse cx="198.1" cy="448.6" rx="14.3" ry="8.6" transform="rotate(0 198.1 448.6)" fill-opacity="0.115"/>
<ellipse cx="223.0" cy="450.1" rx="14.3" ry="7.5" transform="rotate(0 223.0 450.1)" fill-opacity="0.177"/>
<ellipse cx="204.1" cy="471.6" rx="5.7" ry="4.6" transform="rotate(0 204.1 471.6)" fill-opacity="0.33"/>
<ellipse cx="260.3" cy="449.1" rx="3.4" ry="8.6" transform="rotate(15 260.3 449.1)" fill-opacity="0.528"/>
<ellipse cx="319.9" cy="329.8" rx="8.6" ry="4.6" transform="rotate(0 319.9 329.8)" fill-opacity="0.132"/>
<ellipse cx="260.3" cy="329.8" rx="8.6" ry="10.4" transform="rotate(0 260.3 329.8)" fill-opacity="0.295"/>
</g>
<filter id="f19" x="20.5" y="295.5" width="379.0" height="186.5" filterUnits="userSpaceOnUse" color-interpolation-filters="sRGB"><feGaussianBlur in="SourceAlpha" stdDeviation="2.5" result="b"/><feTurbulence type="fractalNoise" baseFrequency="0.32" numOctaves="2" seed="94" result="n"/><feComponentTransfer in="n" result="u"><feFuncA type="table" tableValues="0.000 0.000 0.000 0.000 0.003 0.014 0.048 0.110 0.207 0.331 0.494 0.673 0.802 0.889 0.951 0.984 0.996 0.999 1.000 1.000 1.000"/></feComponentTransfer><feColorMatrix in="u" type="matrix" values="0 0 0 0 0 0 0 0 0 0 0 0 0 0 0 0 0 0 1 0" result="ua"/><feComponentTransfer in="b" result="bm"><feFuncA type="linear" slope="25" intercept="0"/></feComponentTransfer><feComposite in="b" in2="ua" operator="arithmetic" k2="8" k3="-8" k4="0.5" result="m0"/><feComposite in="m0" in2="bm" operator="in" result="m"/><feFlood flood-color="#e03c4a"/><feComposite in2="m" operator="in"/><feGaussianBlur stdDeviation="0.6"/></filter>
<g filter="url(#f19)">
<ellipse cx="93.8" cy="332.3" rx="10.3" ry="6.9" transform="rotate(-30 93.8 332.3)" fill-opacity="0.264"/>
<ellipse cx="73.9" cy="339.8" rx="8.6" ry="5.8" transform="rotate(0 73.9 339.8)" fill-opacity="0.066"/>
<ellipse cx="68.9" cy="349.9" rx="14.3" ry="5.2" transform="rotate(0 68.9 349.9)" fill-opacity="0.066"/>
<ellipse cx="64.0" cy="405.0" rx="14.9" ry="15.6" transform="rotate(0 64.0 405.0)" fill-opacity="0.132"/>
<ellipse cx="86.3" cy="395.0" rx="20.0" ry="8.6" transform="rotate(0 86.3 395.0)" fill-opacity="0.079"/>
<ellipse cx="111.2" cy="395.0" rx="17.1" ry="8.6" transform="rotate(0 111.2 395.0)" fill-opacity="0.198"/>
<ellipse cx="86.3" cy="415.0" rx="20.0" ry="8.6" transform="rotate(-15 86.3 415.0)" fill-opacity="0.238"/>
<ellipse cx="113.7" cy="420.0" rx="14.3" ry="8.6" transform="rotate(0 113.7 420.0)" fill-opacity="0.238"/>
<ellipse cx="136.0" cy="415.0" rx="14.3" ry="14.4" transform="rotate(0 136.0 415.0)" fill-opacity="0.132"/>
<ellipse cx="133.5" cy="397.5" rx="20.0" ry="9.2" transform="rotate(0 133.5 397.5)" fill-opacity="0.238"/>
<ellipse cx="158.4" cy="417.5" rx="11.4" ry="14.4" transform="rotate(0 158.4 417.5)" fill-opacity="0.158"/>
<ellipse cx="220.5" cy="354.9" rx="20.0" ry="8.6" transform="rotate(20 220.5 354.9)" fill-opacity="0.106"/>
<ellipse cx="250.3" cy="347.4" rx="17.1" ry="11.5" transform="rotate(30 250.3 347.4)" fill-opacity="0.198"/>
<ellipse cx="294.1" cy="352.4" rx="13.1" ry="9.2" transform="rotate(40 294.1 352.4)" fill-opacity="0.123"/>
<ellipse cx="205.6" cy="420.0" rx="11.4" ry="14.4" transform="rotate(0 205.6 420.0)" fill-opacity="0.132"/>
<ellipse cx="228.0" cy="430.0" rx="14.3" ry="14.4" transform="rotate(0 228.0 430.0)" fill-opacity="0.106"/>
<ellipse cx="249.3" cy="432.5" rx="10.3" ry="17.3" transform="rotate(35 249.3 432.5)" fill-opacity="0.066"/>
<ellipse cx="189.7" cy="433.5" rx="11.4" ry="9.2" transform="rotate(0 189.7 433.5)" fill-opacity="0.106"/>
<ellipse cx="160.9" cy="435.0" rx="11.4" ry="11.5" transform="rotate(0 160.9 435.0)" fill-opacity="0.29"/>
<ellipse cx="163.4" cy="451.6" rx="14.3" ry="9.2" transform="rotate(0 163.4 451.6)" fill-opacity="0.238"/>
<ellipse cx="198.1" cy="448.6" rx="14.3" ry="8.6" transform="rotate(0 198.1 448.6)" fill-opacity="0.079"/>
<ellipse cx="223.0" cy="450.1" rx="14.3" ry="7.5" transform="rotate(0 223.0 450.1)" fill-opacity="0.106"/>
<ellipse cx="196.7" cy="359.4" rx="8.0" ry="2.5" transform="rotate(-15.0 196.7 359.4)" fill-opacity="0.897"/>
</g>
<filter id="f20" x="20.5" y="295.5" width="379.0" height="186.5" filterUnits="userSpaceOnUse" color-interpolation-filters="sRGB"><feGaussianBlur in="SourceAlpha" stdDeviation="2.5" result="b"/><feTurbulence type="fractalNoise" baseFrequency="0.32" numOctaves="2" seed="66" result="n"/><feComponentTransfer in="n" result="u"><feFuncA type="table" tableValues="0.000 0.000 0.000 0.000 0.003 0.014 0.048 0.110 0.207 0.331 0.494 0.673 0.802 0.889 0.951 0.984 0.996 0.999 1.000 1.000 1.000"/></feComponentTransfer><feColorMatrix in="u" type="matrix" values="0 0 0 0 0 0 0 0 0 0 0 0 0 0 0 0 0 0 1 0" result="ua"/><feComponentTransfer in="b" result="bm"><feFuncA type="linear" slope="25" intercept="0"/></feComponentTransfer><feComposite in="b" in2="ua" operator="arithmetic" k2="8" k3="-8" k4="0.5" result="m0"/><feComposite in="m0" in2="bm" operator="in" result="m"/><feFlood flood-color="#1a52ac"/><feComposite in2="m" operator="in"/><feGaussianBlur stdDeviation="0.6"/></filter>
<g filter="url(#f20)">
<ellipse cx="155.9" cy="379.9" rx="17.1" ry="8.6" transform="rotate(20 155.9 379.9)" fill-opacity="0.446"/>
<ellipse cx="165.8" cy="400.0" rx="10.3" ry="10.4" transform="rotate(0 165.8 400.0)" fill-opacity="0.264"/>
<ellipse cx="185.7" cy="382.4" rx="11.4" ry="11.5" transform="rotate(0 185.7 382.4)" fill-opacity="0.462"/>
<ellipse cx="208.1" cy="379.9" rx="11.4" ry="14.4" transform="rotate(0 208.1 379.9)" fill-opacity="0.396"/>
<ellipse cx="200.6" cy="367.4" rx="14.3" ry="6.9" transform="rotate(0 200.6 367.4)" fill-opacity="0.33"/>
<ellipse cx="270.2" cy="312.3" rx="14.3" ry="12.7" transform="rotate(0 270.2 312.3)" fill-opacity="0.452"/>
<ellipse cx="292.6" cy="322.3" rx="10.3" ry="8.6" transform="rotate(0 292.6 322.3)" fill-opacity="0.158"/>
<ellipse cx="300.0" cy="330.3" rx="10.9" ry="8.1" transform="rotate(0 300.0 330.3)" fill-opacity="0.132"/>
<ellipse cx="294.1" cy="352.4" rx="13.1" ry="9.2" transform="rotate(40 294.1 352.4)" fill-opacity="0.462"/>
<ellipse cx="193.2" cy="398.5" rx="17.1" ry="4.6" transform="rotate(0 193.2 398.5)" fill-opacity="0.33"/>
<ellipse cx="260.3" cy="329.8" rx="8.6" ry="10.4" transform="rotate(0 260.3 329.8)" fill-opacity="0.106"/>
</g>
<filter id="f21" x="20.5" y="295.5" width="379.0" height="186.5" filterUnits="userSpaceOnUse" color-interpolation-filters="sRGB"><feGaussianBlur in="SourceAlpha" stdDeviation="2.5" result="b"/><feTurbulence type="fractalNoise" baseFrequency="0.32" numOctaves="2" seed="101" result="n"/><feComponentTransfer in="n" result="u"><feFuncA type="table" tableValues="0.000 0.000 0.000 0.000 0.003 0.014 0.048 0.110 0.207 0.331 0.494 0.673 0.802 0.889 0.951 0.984 0.996 0.999 1.000 1.000 1.000"/></feComponentTransfer><feColorMatrix in="u" type="matrix" values="0 0 0 0 0 0 0 0 0 0 0 0 0 0 0 0 0 0 1 0" result="ua"/><feComponentTransfer in="b" result="bm"><feFuncA type="linear" slope="25" intercept="0"/></feComponentTransfer><feComposite in="b" in2="ua" operator="arithmetic" k2="8" k3="-8" k4="0.5" result="m0"/><feComposite in="m0" in2="bm" operator="in" result="m"/><feFlood flood-color="#ae1222"/><feComposite in2="m" operator="in"/><feGaussianBlur stdDeviation="0.6"/></filter>
<g filter="url(#f21)">
<ellipse cx="196.7" cy="359.4" rx="8.0" ry="2.5" transform="rotate(-15.0 196.7 359.4)" fill-opacity="0.264"/>
</g>
</g>
<path d="M45.6,389.4L54.0,390.4L64.5,389.9L76.4,387.9L87.8,385.9L98.7,385.4L106.7,383.4L110.7,380.4L108.2,374.9L120.1,370.4L121.1,364.4L128.1,359.9L137.5,353.4M105.7,384.9L110.2,388.4L115.1,390.9L118.6,394.5L117.1,399.5L120.1,403.5L126.1,403.5L131.1,403.0L136.0,405.0L141.0,406.0L145.0,403.0M145.0,403.0L148.4,407.5L150.4,415.0L149.9,420.0L148.9,424.5L148.9,426.5M145.0,403.0L149.4,400.5L155.9,403.5L161.9,403.5L164.8,399.5L167.3,400.5M113.7,372.4L128.6,375.4L138.5,374.9L145.0,371.4L149.9,372.4L154.4,376.4L160.9,378.4L168.3,382.4L169.8,385.9L168.3,389.9L164.8,392.4L163.9,396.5L167.3,400.5M143.0,353.9L147.2,363.9L155.9,367.9L166.1,374.1L173.3,370.9L176.8,374.9L177.3,379.9M177.3,380.4L181.7,379.4L184.7,374.4L188.2,370.4L189.7,371.4L190.7,375.4L193.7,377.9L192.2,381.9L188.2,383.9L189.7,388.4L186.7,391.4L183.7,388.9L182.7,384.9L178.8,382.4L177.3,380.4M193.7,377.9L198.1,377.4L205.6,372.4L209.6,370.4L211.6,369.9L213.6,366.4L218.0,365.9L224.5,364.9L227.0,362.9L228.0,358.4L232.9,356.9L237.9,354.9L242.9,355.4L247.8,357.4L251.3,359.9L255.3,354.9L262.8,352.4L266.7,353.9L270.2,349.9L272.7,344.9L268.7,339.8L264.2,334.8L270.2,329.8L275.2,325.8L281.1,320.8L283.6,315.8L285.1,309.8L283.1,303.3M211.6,369.9L209.1,374.9L208.1,379.9L208.1,387.4L207.1,392.4L207.6,394.5M224.5,364.9L226.0,367.4L224.5,372.4L223.0,379.9L225.5,384.9L223.5,388.4L218.0,391.4L213.1,393.5L207.6,394.5M193.7,377.9L195.7,382.4L198.6,385.9L193.2,390.4L188.2,393.5L188.2,400.0L183.7,404.0M183.7,404.0L178.3,404.0L173.3,400.0L167.3,400.5M183.7,404.0L188.2,405.5L193.2,406.5L198.1,406.5L203.6,409.0L206.6,405.0L210.6,401.5L208.6,396.5L207.6,394.5M210.6,401.5L215.5,405.0L223.0,408.5L228.0,409.5L232.9,408.5L234.4,403.5L237.9,397.5L235.4,394.5L232.4,392.4L230.0,387.9L225.5,384.9M225.5,384.9L232.9,383.4L237.9,379.4L242.9,376.4L245.4,376.9M235.4,394.5L242.9,395.0L247.8,393.5L251.8,392.4M237.9,397.5L244.4,400.5L247.8,403.5L248.8,408.5L251.3,411.5L253.3,411.5L257.8,412.5L260.3,413.5M232.9,408.5L235.4,414.0L238.9,417.5L242.9,419.0L246.9,419.5L250.3,416.0L253.3,411.5M246.9,419.5L247.8,424.5L245.4,429.0L241.9,432.5L237.9,437.5L236.4,442.6L234.4,444.6M245.4,429.0L252.8,429.5L257.8,431.0M236.4,442.6L239.4,444.6L241.4,449.6M234.4,444.6L229.5,444.6L225.5,441.0L220.5,441.5L215.5,443.6M225.5,441.0L225.5,435.0L224.5,430.0L226.5,425.0L224.5,421.5L218.0,420.0L210.6,418.5L205.6,420.0L203.1,418.5M224.5,421.5L230.4,420.0L235.4,418.5L235.4,414.0M203.1,418.5L201.6,415.0L205.6,411.5L203.6,409.0M198.1,406.5L193.2,410.0L188.2,414.5L185.7,419.0L183.2,421.5L185.7,425.0L188.2,425.0L193.2,422.5L198.1,425.0L201.6,424.5L203.1,418.5M148.9,425.0L153.4,427.5L158.4,428.5L160.9,435.0L165.8,436.5L170.8,435.0L173.3,428.5L178.3,427.5L183.2,427.5L185.7,425.0M178.3,427.5L178.3,437.5L179.3,442.6L181.7,443.6L183.2,447.6L184.7,451.6M181.7,443.6L188.2,442.6L193.2,441.0L198.1,440.0L202.1,438.5L203.1,433.5L201.6,429.5L201.6,424.5M202.1,438.5L208.1,437.5L212.1,440.0L215.5,443.6L213.1,447.6L213.6,452.6L208.6,456.6L204.6,460.1M266.7,353.9L272.7,351.4L277.7,352.4L282.6,354.9L285.1,357.9L281.6,364.4M264.2,334.8L272.7,338.3L279.2,341.3L285.1,342.4L292.6,344.9L297.5,347.4L302.5,347.4L310.0,345.9M251.3,359.9L252.8,364.9L252.8,367.9" fill="none" stroke="#555" stroke-width="0.85" stroke-linejoin="round"/>
<path d="M24.2,370.2L26.2,368.9L28.2,366.9L31.2,365.1L34.6,364.4L38.1,365.4L40.6,362.4L44.6,362.4L47.6,360.9L50.0,359.4L55.5,357.4L57.5,356.4L58.0,352.9L60.5,351.4L59.0,346.9L58.5,343.4L56.5,342.4L64.9,340.8L68.9,341.3L67.9,338.8L70.4,334.8L71.4,331.3L76.4,332.3L81.3,332.3L84.3,331.3L84.3,326.3L87.3,324.8L90.3,322.8L92.8,321.5L95.8,322.3L95.3,324.3L99.2,325.8L103.7,327.8L107.7,328.8L110.7,332.8L111.2,336.8L109.7,339.8L112.7,341.8L120.1,342.4L123.6,342.6L129.6,345.4L133.0,346.4L135.5,350.9L138.0,353.9L142.0,353.4L153.4,354.6L159.9,354.1L164.8,354.9L172.3,357.9L178.3,358.9L181.7,359.4L189.7,355.9L196.7,355.1L203.1,355.1L207.6,353.4L211.1,350.4L215.0,348.9L213.6,345.9L215.0,341.8L219.0,342.4L223.5,343.6L228.0,340.3L232.4,340.3L235.9,338.3L238.9,335.3L242.4,334.3L246.9,333.3L250.3,333.8L254.8,333.8L253.8,331.3L249.3,328.3L245.4,327.3L242.4,328.8L237.9,327.8L234.4,328.3L233.4,326.3L236.4,321.8L238.9,318.1L244.4,319.8L248.3,317.8L251.3,315.8L251.8,312.8L255.3,309.3L259.3,306.3L257.8,304.3L259.8,301.3L266.7,300.0L273.2,299.5L279.2,301.3L283.1,302.3L285.6,305.3L287.6,308.3L291.6,313.3L293.1,318.3L298.0,319.3L302.5,320.3L308.0,322.8L309.0,325.8L308.0,327.8L312.5,328.8L317.9,328.8L321.9,326.8L327.9,325.8L330.3,325.3L328.4,328.8L325.9,330.8L324.4,335.3L322.4,339.3L320.4,341.3L314.4,340.8L310.0,342.9L311.0,347.4L311.5,350.4L310.0,352.9L308.0,355.4L306.0,353.4L303.0,355.4L300.0,357.4L295.6,357.9L296.6,359.9L291.6,359.9L288.1,358.9L285.1,362.9L280.1,365.4L276.7,367.9L271.7,368.9L266.2,371.4L261.8,373.4L263.3,370.9L262.8,369.4L265.2,367.4L266.2,364.9L262.8,362.9L259.3,364.9L254.3,367.9L250.3,371.4L245.4,371.9L243.9,374.4L246.4,377.4L250.3,381.4L254.3,380.9L256.8,379.4L261.3,379.4L267.7,380.4L266.7,382.9L260.3,384.9L257.3,386.9L252.3,391.4L251.3,394.5L256.8,396.0L259.3,403.0L262.3,406.0L264.7,409.0L264.7,413.0L260.3,415.0L262.8,417.5L265.2,418.0L262.8,424.5L260.8,427.0L258.3,430.0L256.3,433.5L253.3,436.5L252.8,440.5L249.8,443.1L245.9,445.1L243.4,448.1L238.9,451.1L235.4,453.1L230.9,454.1L226.5,456.1L223.0,456.6L220.5,458.1L215.5,459.1L210.6,460.6L207.6,461.6L206.6,466.1L205.1,465.6L204.1,462.6L204.1,460.1L201.1,460.1L198.1,459.1L195.7,459.8L192.7,459.1L189.2,457.6L189.2,453.6L185.7,453.1L182.7,451.1L179.8,452.1L176.8,454.1L173.3,454.1L170.3,455.6L166.8,455.6L164.3,455.1L163.9,459.6L161.9,460.6L158.4,460.1L155.9,459.1L153.4,457.1L152.4,454.6L153.4,452.6L150.4,451.6L149.4,448.1L147.0,447.1L144.5,448.1L143.5,445.6L144.0,442.6L147.0,440.5L148.9,438.0L149.4,434.0L149.4,430.0L147.5,428.0L146.0,426.5L143.0,426.0L140.5,428.5L137.0,431.0L132.5,433.5L128.1,433.0L123.1,433.5L118.1,433.0L116.1,431.0L114.6,428.5L109.2,427.5L105.7,426.0L102.2,428.5L100.2,431.0L99.2,427.0L96.8,428.0L91.3,428.0L86.3,428.0L82.3,426.0L77.4,424.5L72.4,421.5L67.4,417.5L63.0,416.5L61.5,416.5L57.5,414.0L53.0,412.5L50.5,410.0L50.0,406.5L48.5,404.5L53.0,404.5L54.0,401.5L51.5,398.0L50.0,396.0L47.1,392.4L46.6,389.9L41.6,389.4L37.6,387.9L34.6,384.9L32.6,382.9L29.2,381.9L31.2,379.4L30.7,375.4L26.7,374.4L25.7,372.4L24.2,370.2ZM260.3,442.0L263.3,441.0L265.2,442.6L263.3,447.6L262.3,452.1L259.8,456.1L258.8,458.1L256.3,454.6L255.8,452.1L256.3,448.6L258.8,444.6ZM198.6,471.6L201.6,475.6L203.6,476.6L208.1,474.1L210.6,469.6L208.6,467.1L205.6,467.1L202.1,468.1L199.1,469.6Z" fill="none" stroke="#4a4a4a" stroke-width="0.9"/>
<path d="M251.8,479.6L255.3,485.6M261.8,456.1L264.2,461.1M252.3,476.1L254.3,471.1M268.2,444.6L269.2,440.5" fill="none" stroke="#666" stroke-width="0.9"/>
<circle cx="213.6" cy="485.1" r="0.7" fill="#777"/>
<circle cx="217.0" cy="483.6" r="0.7" fill="#777"/>
<circle cx="219.0" cy="486.1" r="0.7" fill="#777"/>
<circle cx="215.0" cy="487.6" r="0.7" fill="#777"/>
<circle cx="238.9" cy="463.6" r="0.7" fill="#777"/>
</g>
<rect x="23.3" y="418.1" width="35.599999999999994" height="40.39999999999998" fill="#fff" stroke="#555" stroke-width="0.9"/>
<clipPath id="iclip-b"><rect x="23.3" y="418.1" width="35.599999999999994" height="40.39999999999998"/></clipPath>
<g clip-path="url(#iclip-b)" fill="none" stroke="#444" stroke-width="0.6">
<path d="M-9.4,397.7L-8.9,397.2L-8.3,396.6L-7.6,396.0L-6.6,395.8L-5.7,396.1L-5.0,395.1L-4.0,395.1L-3.2,394.6L-2.5,394.1L-1.1,393.5L-0.6,393.1L-0.4,392.0L0.2,391.5L-0.2,390.0L-0.3,388.9L-0.8,388.5L1.4,388.0L2.5,388.2L2.2,387.4L2.9,386.1L3.1,384.9L4.4,385.3L5.8,385.3L6.6,384.9L6.6,383.3L7.3,382.8L8.1,382.1L8.8,381.7L9.6,382.0L9.5,382.6L10.5,383.1L11.7,383.8L12.8,384.1L13.5,385.4L13.7,386.7L13.3,387.7L14.1,388.4L16.0,388.5L17.0,388.6L18.6,389.5L19.5,389.9L20.1,391.3L20.8,392.3L21.8,392.2L24.9,392.6L26.6,392.4L27.9,392.6L29.9,393.6L31.5,394.0L32.4,394.1L34.5,393.0L36.4,392.7L38.1,392.7L39.3,392.2L40.2,391.2L41.2,390.7L40.8,389.7L41.2,388.4L42.3,388.5L43.5,388.9L44.7,387.9L45.8,387.9L46.8,387.2L47.6,386.2L48.5,385.9L49.7,385.6L50.6,385.7L51.8,385.7L51.5,384.9L50.3,383.9L49.3,383.6L48.5,384.1L47.3,383.8L46.4,383.9L46.1,383.3L46.9,381.8L47.6,380.6L49.0,381.1L50.1,380.5L50.9,379.8L51.0,378.8L51.9,377.7L53.0,376.7L52.6,376.1L53.1,375.1L54.9,374.7L56.7,374.5L58.2,375.1L59.3,375.4L60.0,376.4L60.5,377.4L61.5,379.0L61.9,380.7L63.3,381.0L64.4,381.3L65.9,382.1L66.2,383.1L65.9,383.8L67.1,384.1L68.5,384.1L69.6,383.4L71.2,383.1L71.8,383.0L71.3,384.1L70.6,384.8L70.2,386.2L69.7,387.6L69.2,388.2L67.6,388.0L66.4,388.7L66.7,390.2L66.8,391.2L66.4,392.0L65.9,392.8L65.4,392.2L64.6,392.8L63.8,393.5L62.6,393.6L62.9,394.3L61.5,394.3L60.6,394.0L59.8,395.3L58.5,396.1L57.6,396.9L56.3,397.2L54.8,398.1L53.6,398.7L54.0,397.9L53.9,397.4L54.5,396.8L54.8,395.9L53.9,395.3L53.0,395.9L51.6,396.9L50.6,398.1L49.3,398.2L48.9,399.0L49.5,400.0L50.6,401.3L51.6,401.2L52.3,400.7L53.5,400.7L55.2,401.0L54.9,401.8L53.2,402.5L52.4,403.2L51.1,404.6L50.9,405.6L52.3,406.1L53.0,408.4L53.8,409.4L54.4,410.4L54.4,411.7L53.2,412.4L53.9,413.2L54.5,413.3L53.9,415.5L53.4,416.3L52.7,417.3L52.2,418.4L51.4,419.4L51.3,420.7L50.5,421.5L49.4,422.2L48.7,423.2L47.6,424.2L46.6,424.8L45.5,425.2L44.3,425.8L43.3,426.0L42.7,426.5L41.4,426.8L40.0,427.3L39.3,427.6L39.0,429.1L38.6,428.9L38.3,428.0L38.3,427.1L37.5,427.1L36.7,426.8L36.1,427.1L35.3,426.8L34.4,426.3L34.4,425.0L33.5,424.8L32.7,424.2L31.9,424.5L31.1,425.2L30.2,425.2L29.4,425.7L28.4,425.7L27.8,425.5L27.7,427.0L27.1,427.3L26.2,427.1L25.5,426.8L24.9,426.1L24.6,425.3L24.9,424.7L24.1,424.3L23.8,423.2L23.2,422.9L22.5,423.2L22.2,422.4L22.4,421.4L23.2,420.7L23.7,419.9L23.8,418.6L23.8,417.3L23.3,416.6L22.9,416.1L22.1,416.0L21.5,416.8L20.5,417.6L19.3,418.4L18.2,418.3L16.8,418.4L15.5,418.3L15.0,417.6L14.6,416.8L13.1,416.5L12.2,416.0L11.3,416.8L10.8,417.6L10.5,416.3L9.9,416.6L8.4,416.6L7.1,416.6L6.0,416.0L4.7,415.5L3.4,414.5L2.1,413.2L0.9,412.8L0.5,412.8L-0.6,412.0L-1.8,411.5L-2.4,410.7L-2.5,409.6L-2.9,408.9L-1.8,408.9L-1.5,407.9L-2.1,406.8L-2.5,406.1L-3.3,405.0L-3.5,404.1L-4.8,404.0L-5.8,403.5L-6.6,402.5L-7.2,401.8L-8.1,401.5L-7.6,400.7L-7.7,399.4L-8.7,399.0L-9.0,398.4L-9.4,397.7ZM53.2,421.2L54.0,420.9L54.5,421.4L54.0,423.0L53.8,424.5L53.1,425.8L52.8,426.5L52.2,425.3L52.0,424.5L52.2,423.4L52.8,422.0ZM36.9,430.9L37.7,432.2L38.2,432.6L39.4,431.7L40.0,430.3L39.5,429.4L38.7,429.4L37.8,429.8L37.0,430.3Z" stroke-width="0.8"/>
<path d="M-3.7,404.0L-1.5,404.3L1.3,404.1L4.4,403.5L7.5,402.8L10.4,402.7L12.5,402.0L13.5,401.0L12.9,399.2L16.0,397.7L16.3,395.8L18.2,394.3L20.7,392.2M12.2,402.5L13.4,403.6L14.7,404.5L15.7,405.6L15.3,407.3L16.0,408.6L17.6,408.6L18.9,408.4L20.3,409.1L21.6,409.4L22.6,408.4M22.6,408.4L23.6,409.9L24.1,412.4L24.0,414.0L23.7,415.5L23.7,416.1M22.6,408.4L23.8,407.6L25.5,408.6L27.1,408.6L27.9,407.3L28.6,407.6M14.3,398.4L18.3,399.4L20.9,399.2L22.6,398.1L24.0,398.4L25.1,399.7L26.9,400.4L28.8,401.7L29.2,402.8L28.8,404.1L27.9,405.0L27.7,406.3L28.6,407.6M22.1,392.3L23.2,395.6L25.5,396.9L28.3,399.0L30.2,397.9L31.1,399.2L31.2,400.9M31.2,401.0L32.4,400.7L33.2,399.0L34.1,397.7L34.5,398.1L34.8,399.4L35.6,400.2L35.2,401.5L34.1,402.2L34.5,403.6L33.7,404.6L32.9,403.8L32.7,402.5L31.6,401.7L31.2,401.0M35.6,400.2L36.7,400.0L38.7,398.4L39.8,397.7L40.3,397.6L40.8,396.4L42.0,396.3L43.7,395.9L44.4,395.3L44.7,393.8L46.0,393.3L47.3,392.6L48.6,392.8L49.9,393.5L50.9,394.3L51.9,392.6L53.9,391.8L54.9,392.3L55.9,391.0L56.5,389.4L55.5,387.7L54.3,386.1L55.9,384.4L57.2,383.1L58.8,381.5L59.4,379.8L59.8,377.9L59.3,375.7M40.3,397.6L39.6,399.2L39.4,400.9L39.4,403.3L39.1,405.0L39.3,405.6M43.7,395.9L44.1,396.8L43.7,398.4L43.3,400.9L44.0,402.5L43.5,403.6L42.0,404.6L40.7,405.3L39.3,405.6M35.6,400.2L36.1,401.7L36.9,402.8L35.4,404.3L34.1,405.3L34.1,407.4L32.9,408.7M32.9,408.7L31.5,408.7L30.2,407.4L28.6,407.6M32.9,408.7L34.1,409.2L35.4,409.6L36.7,409.6L38.2,410.4L39.0,409.1L40.0,407.9L39.5,406.3L39.3,405.6M40.0,407.9L41.4,409.1L43.3,410.2L44.7,410.5L46.0,410.2L46.4,408.6L47.3,406.6L46.6,405.6L45.8,405.0L45.2,403.5L44.0,402.5M44.0,402.5L46.0,402.0L47.3,400.7L48.6,399.7L49.3,399.9M46.6,405.6L48.6,405.8L49.9,405.3L51.0,405.0M47.3,406.6L49.0,407.6L49.9,408.6L50.2,410.2L50.9,411.2L51.4,411.2L52.6,411.5L53.2,411.9M46.0,410.2L46.6,412.0L47.6,413.2L48.6,413.7L49.7,413.8L50.6,412.7L51.4,411.2M49.7,413.8L49.9,415.5L49.3,417.0L48.4,418.1L47.3,419.7L46.9,421.4L46.4,422.0M49.3,417.0L51.3,417.1L52.6,417.6M46.9,421.4L47.7,422.0L48.2,423.7M46.4,422.0L45.1,422.0L44.0,420.9L42.7,421.1L41.4,421.7M44.0,420.9L44.0,418.9L43.7,417.3L44.3,415.6L43.7,414.5L42.0,414.0L40.0,413.5L38.7,414.0L38.1,413.5M43.7,414.5L45.3,414.0L46.6,413.5L46.6,412.0M38.1,413.5L37.7,412.4L38.7,411.2L38.2,410.4M36.7,409.6L35.4,410.7L34.1,412.2L33.5,413.7L32.8,414.5L33.5,415.6L34.1,415.6L35.4,414.8L36.7,415.6L37.7,415.5L38.1,413.5M23.7,415.6L24.9,416.5L26.2,416.8L26.9,418.9L28.2,419.4L29.5,418.9L30.2,416.8L31.5,416.5L32.8,416.5L33.5,415.6M31.5,416.5L31.5,419.7L31.7,421.4L32.4,421.7L32.8,423.0L33.2,424.3M32.4,421.7L34.1,421.4L35.4,420.9L36.7,420.6L37.8,420.1L38.1,418.4L37.7,417.1L37.7,415.5M37.8,420.1L39.4,419.7L40.4,420.6L41.4,421.7L40.7,423.0L40.8,424.7L39.5,426.0L38.5,427.1M54.9,392.3L56.5,391.5L57.8,391.8L59.2,392.6L59.8,393.6L58.9,395.8M54.3,386.1L56.5,387.2L58.2,388.2L59.8,388.5L61.8,389.4L63.1,390.2L64.4,390.2L66.4,389.7M50.9,394.3L51.3,395.9L51.3,396.9" stroke-width="0.6"/>
<circle cx="40.8" cy="435.2" r="0.7" fill="#666" stroke="none"/>
<circle cx="41.8" cy="435.5" r="0.6" fill="#666" stroke="none"/>
<circle cx="42.9" cy="435.8" r="0.8" fill="#666" stroke="none"/>
<circle cx="47.6" cy="428.4" r="0.7" fill="#666" stroke="none"/>
<circle cx="49.0" cy="437.5" r="0.5" fill="#666" stroke="none"/>
<circle cx="44.4" cy="444.7" r="0.6" fill="#666" stroke="none"/>
<circle cx="45.7" cy="445.4" r="0.8" fill="#666" stroke="none"/>
<circle cx="46.6" cy="444.4" r="0.6" fill="#666" stroke="none"/>
<circle cx="47.4" cy="444.5" r="0.5" fill="#666" stroke="none"/>
<circle cx="45.1" cy="446.5" r="0.6" fill="#666" stroke="none"/>
<circle cx="43.7" cy="447.3" r="0.5" fill="#666" stroke="none"/>
<circle cx="44.3" cy="448.8" r="0.6" fill="#666" stroke="none"/>
<circle cx="42.4" cy="448.3" r="0.5" fill="#666" stroke="none"/>
<circle cx="41.8" cy="450.0" r="0.6" fill="#666" stroke="none"/>
<circle cx="40.3" cy="451.3" r="0.7" fill="#666" stroke="none"/>
<circle cx="48.2" cy="442.2" r="0.5" fill="#666" stroke="none"/>
<circle cx="49.3" cy="440.3" r="0.5" fill="#666" stroke="none"/>
<circle cx="48.7" cy="444.7" r="0.5" fill="#666" stroke="none"/>
<circle cx="41.8" cy="455.9" r="0.7" fill="#666" stroke="none"/>
<circle cx="41.8" cy="453.2" r="0.5" fill="#666" stroke="none"/>
</g>
<rect x="76.2" y="473.5" width="44.3" height="4.5" fill="#fff" stroke="#666" stroke-width="0.7"/>
<rect x="31.3" y="473.5" width="44.900000000000006" height="4.5" fill="#000"/>
<text x="31.3" y="468.6" font-size="9.9" text-anchor="middle" fill="#111">0</text>
<text x="53.8" y="468.6" font-size="9.9" text-anchor="middle" fill="#111">500</text>
<text x="76.2" y="468.6" font-size="9.9" text-anchor="middle" fill="#111">1,000</text>
<text x="120.5" y="468.6" font-size="9.9" text-anchor="middle" fill="#111">2,000</text>
<text x="123.5" y="479.2" font-size="10.7" fill="#111">km</text>
<rect x="20.5" y="295.5" width="379.0" height="186.5" fill="none" stroke="#666" stroke-width="1.25"/>
<line x1="56.5" y1="482.0" x2="56.5" y2="484.0" stroke="#5a5a5a"/>
<line x1="56.5" y1="295.5" x2="56.5" y2="293.5" stroke="#5a5a5a"/>
<text x="56.5" y="494.6" font-size="11.4" text-anchor="middle" fill="#1a1a1a">80°E</text>
<line x1="155.9" y1="482.0" x2="155.9" y2="484.0" stroke="#5a5a5a"/>
<line x1="155.9" y1="295.5" x2="155.9" y2="293.5" stroke="#5a5a5a"/>
<text x="155.9" y="494.6" font-size="11.4" text-anchor="middle" fill="#1a1a1a">100°E</text>
<line x1="255.3" y1="482.0" x2="255.3" y2="484.0" stroke="#5a5a5a"/>
<line x1="255.3" y1="295.5" x2="255.3" y2="293.5" stroke="#5a5a5a"/>
<text x="255.3" y="494.6" font-size="11.4" text-anchor="middle" fill="#1a1a1a">120°E</text>
<line x1="354.7" y1="482.0" x2="354.7" y2="484.0" stroke="#5a5a5a"/>
<line x1="354.7" y1="295.5" x2="354.7" y2="293.5" stroke="#5a5a5a"/>
<text x="354.7" y="494.6" font-size="11.4" text-anchor="middle" fill="#1a1a1a">140°E</text>
<line x1="20.5" y1="417.5" x2="18.5" y2="417.5" stroke="#5a5a5a"/>
<line x1="399.5" y1="417.5" x2="401.5" y2="417.5" stroke="#5a5a5a"/>
<text transform="translate(16.5,417.5) rotate(-90)" font-size="11.8" text-anchor="middle" fill="#1a1a1a">30°N</text>
<line x1="20.5" y1="317.3" x2="18.5" y2="317.3" stroke="#5a5a5a"/>
<line x1="399.5" y1="317.3" x2="401.5" y2="317.3" stroke="#5a5a5a"/>
<text transform="translate(16.5,317.3) rotate(-90)" font-size="11.8" text-anchor="middle" fill="#1a1a1a">50°N</text>
<text x="19.6" y="283.8" font-size="20.8" fill="#111">(b)</text>
<text x="75.0" y="311.1" font-size="12.7" fill="#1a1a1a">AR(1) trend</text>
<text x="317.8" y="311.6" font-size="13.5" fill="#1a1a1a">before BPs</text>
<rect x="279.8" y="363.7" width="118.7" height="114.6" fill="#fff"/>
<rect x="302.10" y="427.9" width="9.00" height="32.4" fill="#0b3470" stroke="#333" stroke-opacity="0.35" stroke-width="0.5"/>
<rect x="311.10" y="380.3" width="9.00" height="80.0" fill="#0b56b0" stroke="#333" stroke-opacity="0.35" stroke-width="0.5"/>
<rect x="320.10" y="404.1" width="9.00" height="56.2" fill="#4a9ff2" stroke="#333" stroke-opacity="0.35" stroke-width="0.5"/>
<rect x="329.10" y="422.7" width="9.00" height="37.6" fill="#98c2f4" stroke="#333" stroke-opacity="0.35" stroke-width="0.5"/>
<rect x="338.10" y="450.1" width="9.00" height="10.2" fill="#c8ddf6" stroke="#333" stroke-opacity="0.35" stroke-width="0.5"/>
<rect x="347.10" y="453.1" width="9.00" height="7.2" fill="#fcd0d2" stroke="#333" stroke-opacity="0.35" stroke-width="0.5"/>
<rect x="356.10" y="431.3" width="9.00" height="29.0" fill="#f98486" stroke="#333" stroke-opacity="0.35" stroke-width="0.5"/>
<rect x="365.10" y="426.8" width="9.00" height="33.5" fill="#f34648" stroke="#333" stroke-opacity="0.35" stroke-width="0.5"/>
<rect x="374.10" y="432.9" width="9.00" height="27.4" fill="#c3040f" stroke="#333" stroke-opacity="0.35" stroke-width="0.5"/>
<rect x="383.10" y="454.6" width="9.00" height="5.7" fill="#760a12" stroke="#333" stroke-opacity="0.35" stroke-width="0.5"/>
<line x1="301.8" y1="369.7" x2="301.8" y2="460.3" stroke="#777" stroke-width="0.7"/>
<text x="299.8" y="462.9" font-size="7.6" text-anchor="end" fill="#222">0</text>
<text x="299.8" y="440.3" font-size="7.6" text-anchor="end" fill="#222">1</text>
<text x="299.8" y="417.6" font-size="7.6" text-anchor="end" fill="#222">2</text>
<text x="299.8" y="395.0" font-size="7.6" text-anchor="end" fill="#222">3</text>
<text x="299.8" y="372.3" font-size="7.6" text-anchor="end" fill="#222">4</text>
<text x="311.1" y="469.1" font-size="7.4" text-anchor="middle" fill="#222">-0.8</text>
<text x="329.1" y="469.1" font-size="7.4" text-anchor="middle" fill="#222">-0.4</text>
<text x="347.1" y="469.1" font-size="7.4" text-anchor="middle" fill="#222">0.0</text>
<text x="365.1" y="469.1" font-size="7.4" text-anchor="middle" fill="#222">0.4</text>
<text x="383.1" y="469.1" font-size="7.4" text-anchor="middle" fill="#222">0.8</text>
<text x="346.8" y="477.1" font-size="7.4" text-anchor="middle" fill="#222">AR(1) Kendall τ</text>
<text transform="translate(292.9,413.0) rotate(-90)" font-size="7.05" text-anchor="middle" fill="#222">Grid cells count (10<tspan font-size="5" dy="-2.5">4</tspan><tspan dy="2.5">)</tspan></text>
</g>
<g id="panel-e">
<line x1="483.8" y1="295.5" x2="483.8" y2="482.5" stroke="#f1f1f1" stroke-width="1"/>
<line x1="584.6" y1="295.5" x2="584.6" y2="482.5" stroke="#f1f1f1" stroke-width="1"/>
<line x1="685.4" y1="295.5" x2="685.4" y2="482.5" stroke="#f1f1f1" stroke-width="1"/>
<line x1="786.2" y1="295.5" x2="786.2" y2="482.5" stroke="#f1f1f1" stroke-width="1"/>
<line x1="438.5" y1="418.4" x2="814.0" y2="418.4" stroke="#f1f1f1" stroke-width="1"/>
<line x1="438.5" y1="317.9" x2="814.0" y2="317.9" stroke="#f1f1f1" stroke-width="1"/>
<clipPath id="clip-e"><path d="M451.0,370.9L453.1,369.7L455.1,367.6L458.1,365.9L461.6,365.1L465.2,366.1L467.7,363.1L471.7,363.1L474.7,361.6L477.2,360.1L482.8,358.1L484.8,357.1L485.3,353.6L487.8,352.1L486.3,347.5L485.8,344.0L483.8,343.0L492.4,341.5L496.4,342.0L495.4,339.5L497.9,335.5L498.9,332.0L504.0,333.0L509.0,333.0L512.0,332.0L512.0,326.9L515.0,325.4L518.1,323.4L520.6,322.1L523.6,322.9L523.1,324.9L527.1,326.4L531.7,328.5L535.7,329.5L538.7,333.5L539.2,337.5L537.7,340.5L540.8,342.5L548.3,343.0L551.8,343.3L557.9,346.0L561.4,347.0L563.9,351.6L566.5,354.6L570.5,354.1L582.1,355.3L588.6,354.8L593.7,355.6L601.2,358.6L607.3,359.6L610.8,360.1L618.9,356.6L625.9,355.8L632.5,355.8L637.0,354.1L640.5,351.1L644.6,349.6L643.1,346.5L644.6,342.5L648.6,343.0L653.1,344.3L657.7,341.0L662.2,341.0L665.7,339.0L668.8,336.0L672.3,335.0L676.8,334.0L680.4,334.5L684.9,334.5L683.9,332.0L679.4,329.0L675.3,327.9L672.3,329.5L667.8,328.5L664.2,329.0L663.2,326.9L666.2,322.4L668.8,318.7L674.3,320.4L678.3,318.4L681.4,316.4L681.9,313.4L685.4,309.9L689.4,306.8L687.9,304.8L689.9,301.8L697.0,300.6L703.5,300.1L709.6,301.8L713.6,302.8L716.1,305.8L718.2,308.9L722.2,313.9L723.7,318.9L728.7,319.9L733.3,320.9L738.8,323.4L739.8,326.4L738.8,328.5L743.4,329.5L748.9,329.5L752.9,327.4L759.0,326.4L761.5,325.9L759.5,329.5L757.0,331.5L755.5,336.0L753.4,340.0L751.4,342.0L745.4,341.5L740.8,343.5L741.8,348.0L742.4,351.1L740.8,353.6L738.8,356.1L736.8,354.1L733.8,356.1L730.8,358.1L726.2,358.6L727.2,360.6L722.2,360.6L718.7,359.6L715.6,363.6L710.6,366.1L707.1,368.7L702.0,369.7L696.5,372.2L692.0,374.2L693.5,371.7L693.0,370.2L695.5,368.1L696.5,365.6L693.0,363.6L689.4,365.6L684.4,368.7L680.4,372.2L675.3,372.7L673.8,375.2L676.3,378.2L680.4,382.2L684.4,381.7L686.9,380.2L691.4,380.2L698.0,381.2L697.0,383.7L690.4,385.7L687.4,387.7L682.4,392.3L681.4,395.3L686.9,396.8L689.4,403.8L692.5,406.8L695.0,409.9L695.0,413.9L690.4,415.9L693.0,418.4L695.5,418.9L693.0,425.4L690.9,427.9L688.4,431.0L686.4,434.5L683.4,437.5L682.9,441.5L679.9,444.0L675.8,446.0L673.3,449.1L668.8,452.1L665.2,454.1L660.7,455.1L656.2,457.1L652.6,457.6L650.1,459.1L645.1,460.1L640.0,461.6L637.0,462.6L636.0,467.1L634.5,466.6L633.5,463.6L633.5,461.1L630.5,461.1L627.4,460.1L624.9,460.9L621.9,460.1L618.4,458.6L618.4,454.6L614.8,454.1L611.8,452.1L608.8,453.1L605.8,455.1L602.2,455.1L599.2,456.6L595.7,456.6L593.2,456.1L592.7,460.6L590.6,461.6L587.1,461.1L584.6,460.1L582.1,458.1L581.1,455.6L582.1,453.6L579.1,452.6L578.0,449.1L575.5,448.0L573.0,449.1L572.0,446.5L572.5,443.5L575.5,441.5L577.5,439.0L578.0,435.0L578.0,431.0L576.0,429.0L574.5,427.4L571.5,426.9L569.0,429.5L565.4,432.0L560.9,434.5L556.4,434.0L551.3,434.5L546.3,434.0L544.3,432.0L542.8,429.5L537.2,428.4L533.7,426.9L530.2,429.5L528.2,432.0L527.1,427.9L524.6,429.0L519.1,429.0L514.0,429.0L510.0,426.9L505.0,425.4L499.9,422.4L494.9,418.4L490.4,417.4L488.8,417.4L484.8,414.9L480.3,413.4L477.8,410.9L477.2,407.3L475.7,405.3L480.3,405.3L481.3,402.3L478.8,398.8L477.2,396.8L474.2,393.3L473.7,390.8L468.7,390.3L464.6,388.8L461.6,385.7L459.6,383.7L456.1,382.7L458.1,380.2L457.6,376.2L453.6,375.2L452.6,373.2L451.0,370.9ZM690.4,443.0L693.5,442.0L695.5,443.5L693.5,448.5L692.5,453.1L689.9,457.1L688.9,459.1L686.4,455.6L685.9,453.1L686.4,449.6L688.9,445.5ZM627.9,472.7L631.0,476.7L633.0,477.7L637.5,475.2L640.0,470.7L638.0,468.1L635.0,468.1L631.5,469.2L628.4,470.7Z"/></clipPath>
<clipPath id="fclip-e"><rect x="438.5" y="295.5" width="375.5" height="187.0"/></clipPath>
<g clip-path="url(#fclip-e)">
<g clip-path="url(#clip-e)">
<filter id="f22" x="438.5" y="295.5" width="375.5" height="187.0" filterUnits="userSpaceOnUse" color-interpolation-filters="sRGB"><feGaussianBlur in="SourceAlpha" stdDeviation="2.5" result="b"/><feTurbulence type="fractalNoise" baseFrequency="0.32" numOctaves="2" seed="80" result="n"/><feComponentTransfer in="n" result="u"><feFuncA type="table" tableValues="0.000 0.000 0.000 0.000 0.003 0.014 0.048 0.110 0.207 0.331 0.494 0.673 0.802 0.889 0.951 0.984 0.996 0.999 1.000 1.000 1.000"/></feComponentTransfer><feColorMatrix in="u" type="matrix" values="0 0 0 0 0 0 0 0 0 0 0 0 0 0 0 0 0 0 1 0" result="ua"/><feComponentTransfer in="b" result="bm"><feFuncA type="linear" slope="25" intercept="0"/></feComponentTransfer><feComposite in="b" in2="ua" operator="arithmetic" k2="8" k3="-8" k4="0.5" result="m0"/><feComposite in="m0" in2="bm" operator="in" result="m"/><feFlood flood-color="#a2c4f0"/><feComposite in2="m" operator="in"/><feGaussianBlur stdDeviation="0.6"/></filter>
<g filter="url(#f22)">
<ellipse cx="501.4" cy="340.5" rx="8.7" ry="5.8" transform="rotate(0 501.4 340.5)" fill-opacity="0.385"/>
<ellipse cx="496.4" cy="350.6" rx="14.5" ry="5.2" transform="rotate(0 496.4 350.6)" fill-opacity="0.279"/>
<ellipse cx="519.1" cy="351.6" rx="14.5" ry="4.0" transform="rotate(0 519.1 351.6)" fill-opacity="0.118"/>
<ellipse cx="544.3" cy="353.1" rx="14.5" ry="5.2" transform="rotate(0 544.3 353.1)" fill-opacity="0.045"/>
<ellipse cx="516.6" cy="341.5" rx="14.5" ry="5.8" transform="rotate(0 516.6 341.5)" fill-opacity="0.138"/>
<ellipse cx="491.4" cy="362.1" rx="20.3" ry="4.0" transform="rotate(10 491.4 362.1)" fill-opacity="0.076"/>
<ellipse cx="501.4" cy="373.2" rx="34.8" ry="9.2" transform="rotate(0 501.4 373.2)" fill-opacity="0.014"/>
<ellipse cx="476.2" cy="380.7" rx="17.4" ry="5.2" transform="rotate(-25 476.2 380.7)" fill-opacity="0.109"/>
<ellipse cx="461.1" cy="374.2" rx="8.7" ry="6.9" transform="rotate(0 461.1 374.2)" fill-opacity="0.092"/>
<ellipse cx="491.4" cy="405.8" rx="15.1" ry="15.6" transform="rotate(0 491.4 405.8)" fill-opacity="0.621"/>
<ellipse cx="514.0" cy="395.8" rx="20.3" ry="8.7" transform="rotate(0 514.0 395.8)" fill-opacity="0.267"/>
<ellipse cx="539.2" cy="395.8" rx="17.4" ry="8.7" transform="rotate(0 539.2 395.8)" fill-opacity="0.546"/>
<ellipse cx="541.8" cy="420.9" rx="14.5" ry="8.7" transform="rotate(0 541.8 420.9)" fill-opacity="0.501"/>
<ellipse cx="564.4" cy="415.9" rx="14.5" ry="14.4" transform="rotate(0 564.4 415.9)" fill-opacity="0.71"/>
<ellipse cx="554.4" cy="381.7" rx="17.4" ry="6.9" transform="rotate(0 554.4 381.7)" fill-opacity="0.192"/>
<ellipse cx="561.9" cy="398.3" rx="20.3" ry="9.2" transform="rotate(0 561.9 398.3)" fill-opacity="0.572"/>
<ellipse cx="584.6" cy="380.7" rx="17.4" ry="8.7" transform="rotate(20 584.6 380.7)" fill-opacity="0.655"/>
<ellipse cx="594.7" cy="400.8" rx="10.4" ry="10.4" transform="rotate(0 594.7 400.8)" fill-opacity="0.671"/>
<ellipse cx="587.1" cy="418.4" rx="11.6" ry="14.4" transform="rotate(0 587.1 418.4)" fill-opacity="0.626"/>
<ellipse cx="584.6" cy="365.6" rx="23.2" ry="6.9" transform="rotate(20 584.6 365.6)" fill-opacity="0.043"/>
<ellipse cx="614.8" cy="383.2" rx="11.6" ry="11.6" transform="rotate(0 614.8 383.2)" fill-opacity="0.671"/>
<ellipse cx="637.5" cy="380.7" rx="11.6" ry="14.4" transform="rotate(0 637.5 380.7)" fill-opacity="0.671"/>
<ellipse cx="630.0" cy="368.1" rx="14.5" ry="6.9" transform="rotate(0 630.0 368.1)" fill-opacity="0.345"/>
<ellipse cx="675.3" cy="325.4" rx="10.4" ry="8.7" transform="rotate(0 675.3 325.4)" fill-opacity="0.123"/>
<ellipse cx="700.5" cy="312.9" rx="14.5" ry="12.7" transform="rotate(0 700.5 312.9)" fill-opacity="0.639"/>
<ellipse cx="723.2" cy="322.9" rx="10.4" ry="8.7" transform="rotate(0 723.2 322.9)" fill-opacity="0.417"/>
<ellipse cx="708.1" cy="338.0" rx="11.6" ry="11.6" transform="rotate(0 708.1 338.0)" fill-opacity="0.092"/>
<ellipse cx="730.8" cy="331.0" rx="11.0" ry="8.1" transform="rotate(0 730.8 331.0)" fill-opacity="0.294"/>
<ellipse cx="724.7" cy="353.1" rx="13.3" ry="9.2" transform="rotate(40 724.7 353.1)" fill-opacity="0.209"/>
<ellipse cx="665.2" cy="365.6" rx="11.6" ry="5.8" transform="rotate(20 665.2 365.6)" fill-opacity="0.154"/>
<ellipse cx="665.2" cy="388.2" rx="14.5" ry="17.3" transform="rotate(0 665.2 388.2)" fill-opacity="0.045"/>
<ellipse cx="622.4" cy="399.3" rx="17.4" ry="4.6" transform="rotate(0 622.4 399.3)" fill-opacity="0.671"/>
<ellipse cx="612.3" cy="418.4" rx="11.6" ry="11.6" transform="rotate(30 612.3 418.4)" fill-opacity="0.029"/>
<ellipse cx="635.0" cy="420.9" rx="11.6" ry="14.4" transform="rotate(0 635.0 420.9)" fill-opacity="0.345"/>
<ellipse cx="675.3" cy="408.3" rx="11.6" ry="11.6" transform="rotate(0 675.3 408.3)" fill-opacity="0.064"/>
<ellipse cx="657.7" cy="431.0" rx="14.5" ry="14.4" transform="rotate(0 657.7 431.0)" fill-opacity="0.297"/>
<ellipse cx="679.4" cy="433.5" rx="10.4" ry="17.3" transform="rotate(35 679.4 433.5)" fill-opacity="0.193"/>
<ellipse cx="618.9" cy="434.5" rx="11.6" ry="9.2" transform="rotate(0 618.9 434.5)" fill-opacity="0.527"/>
<ellipse cx="589.6" cy="436.0" rx="11.6" ry="11.6" transform="rotate(0 589.6 436.0)" fill-opacity="0.668"/>
<ellipse cx="592.2" cy="452.6" rx="14.5" ry="9.2" transform="rotate(0 592.2 452.6)" fill-opacity="0.572"/>
<ellipse cx="627.4" cy="449.6" rx="14.5" ry="8.7" transform="rotate(0 627.4 449.6)" fill-opacity="0.267"/>
<ellipse cx="690.4" cy="450.1" rx="3.5" ry="8.7" transform="rotate(15 690.4 450.1)" fill-opacity="0.69"/>
<ellipse cx="750.9" cy="330.5" rx="8.7" ry="4.6" transform="rotate(0 750.9 330.5)" fill-opacity="0.102"/>
<ellipse cx="690.4" cy="330.5" rx="8.7" ry="10.4" transform="rotate(0 690.4 330.5)" fill-opacity="0.345"/>
</g>
<filter id="f23" x="438.5" y="295.5" width="375.5" height="187.0" filterUnits="userSpaceOnUse" color-interpolation-filters="sRGB"><feGaussianBlur in="SourceAlpha" stdDeviation="2.5" result="b"/><feTurbulence type="fractalNoise" baseFrequency="0.32" numOctaves="2" seed="87" result="n"/><feComponentTransfer in="n" result="u"><feFuncA type="table" tableValues="0.000 0.000 0.000 0.000 0.003 0.014 0.048 0.110 0.207 0.331 0.494 0.673 0.802 0.889 0.951 0.984 0.996 0.999 1.000 1.000 1.000"/></feComponentTransfer><feColorMatrix in="u" type="matrix" values="0 0 0 0 0 0 0 0 0 0 0 0 0 0 0 0 0 0 1 0" result="ua"/><feComponentTransfer in="b" result="bm"><feFuncA type="linear" slope="25" intercept="0"/></feComponentTransfer><feComposite in="b" in2="ua" operator="arithmetic" k2="8" k3="-8" k4="0.5" result="m0"/><feComposite in="m0" in2="bm" operator="in" result="m"/><feFlood flood-color="#f3909a"/><feComposite in2="m" operator="in"/><feGaussianBlur stdDeviation="0.6"/></filter>
<g filter="url(#f23)">
<ellipse cx="521.6" cy="333.0" rx="10.4" ry="6.9" transform="rotate(-30 521.6 333.0)" fill-opacity="0.527"/>
<ellipse cx="496.4" cy="350.6" rx="14.5" ry="5.2" transform="rotate(0 496.4 350.6)" fill-opacity="0.104"/>
<ellipse cx="519.1" cy="351.6" rx="14.5" ry="4.0" transform="rotate(0 519.1 351.6)" fill-opacity="0.136"/>
<ellipse cx="544.3" cy="353.1" rx="14.5" ry="5.2" transform="rotate(0 544.3 353.1)" fill-opacity="0.043"/>
<ellipse cx="516.6" cy="341.5" rx="14.5" ry="5.8" transform="rotate(0 516.6 341.5)" fill-opacity="0.049"/>
<ellipse cx="491.4" cy="362.1" rx="20.3" ry="4.0" transform="rotate(10 491.4 362.1)" fill-opacity="0.043"/>
<ellipse cx="476.2" cy="380.7" rx="17.4" ry="5.2" transform="rotate(-25 476.2 380.7)" fill-opacity="0.148"/>
<ellipse cx="511.5" cy="384.2" rx="20.3" ry="3.5" transform="rotate(0 511.5 384.2)" fill-opacity="0.085"/>
<ellipse cx="461.1" cy="374.2" rx="8.7" ry="6.9" transform="rotate(0 461.1 374.2)" fill-opacity="0.058"/>
<ellipse cx="491.4" cy="405.8" rx="15.1" ry="15.6" transform="rotate(0 491.4 405.8)" fill-opacity="0.538"/>
<ellipse cx="514.0" cy="395.8" rx="20.3" ry="8.7" transform="rotate(0 514.0 395.8)" fill-opacity="0.286"/>
<ellipse cx="539.2" cy="395.8" rx="17.4" ry="8.7" transform="rotate(0 539.2 395.8)" fill-opacity="0.313"/>
<ellipse cx="514.0" cy="415.9" rx="20.3" ry="8.7" transform="rotate(-15 514.0 415.9)" fill-opacity="0.751"/>
<ellipse cx="541.8" cy="420.9" rx="14.5" ry="8.7" transform="rotate(0 541.8 420.9)" fill-opacity="0.375"/>
<ellipse cx="650.1" cy="355.6" rx="20.3" ry="8.7" transform="rotate(20 650.1 355.6)" fill-opacity="0.527"/>
<ellipse cx="680.4" cy="348.0" rx="17.4" ry="11.6" transform="rotate(30 680.4 348.0)" fill-opacity="0.323"/>
<ellipse cx="675.3" cy="325.4" rx="10.4" ry="8.7" transform="rotate(0 675.3 325.4)" fill-opacity="0.197"/>
<ellipse cx="708.1" cy="338.0" rx="11.6" ry="11.6" transform="rotate(0 708.1 338.0)" fill-opacity="0.058"/>
<ellipse cx="730.8" cy="331.0" rx="11.0" ry="8.1" transform="rotate(0 730.8 331.0)" fill-opacity="0.128"/>
<ellipse cx="724.7" cy="353.1" rx="13.3" ry="9.2" transform="rotate(40 724.7 353.1)" fill-opacity="0.294"/>
<ellipse cx="695.5" cy="363.1" rx="14.5" ry="7.5" transform="rotate(20 695.5 363.1)" fill-opacity="0.218"/>
<ellipse cx="665.2" cy="365.6" rx="11.6" ry="5.8" transform="rotate(20 665.2 365.6)" fill-opacity="0.088"/>
<ellipse cx="665.2" cy="388.2" rx="14.5" ry="17.3" transform="rotate(0 665.2 388.2)" fill-opacity="0.029"/>
<ellipse cx="680.4" cy="386.7" rx="10.4" ry="6.4" transform="rotate(0 680.4 386.7)" fill-opacity="0.058"/>
<ellipse cx="622.4" cy="399.3" rx="17.4" ry="4.6" transform="rotate(0 622.4 399.3)" fill-opacity="0.251"/>
<ellipse cx="635.0" cy="420.9" rx="11.6" ry="14.4" transform="rotate(0 635.0 420.9)" fill-opacity="0.147"/>
<ellipse cx="675.3" cy="408.3" rx="11.6" ry="11.6" transform="rotate(0 675.3 408.3)" fill-opacity="0.087"/>
<ellipse cx="657.7" cy="431.0" rx="14.5" ry="14.4" transform="rotate(0 657.7 431.0)" fill-opacity="0.357"/>
<ellipse cx="679.4" cy="433.5" rx="10.4" ry="17.3" transform="rotate(35 679.4 433.5)" fill-opacity="0.366"/>
<ellipse cx="589.6" cy="436.0" rx="11.6" ry="11.6" transform="rotate(0 589.6 436.0)" fill-opacity="0.25"/>
<ellipse cx="592.2" cy="452.6" rx="14.5" ry="9.2" transform="rotate(0 592.2 452.6)" fill-opacity="0.276"/>
<ellipse cx="627.4" cy="449.6" rx="14.5" ry="8.7" transform="rotate(0 627.4 449.6)" fill-opacity="0.286"/>
<ellipse cx="652.6" cy="451.1" rx="14.5" ry="7.5" transform="rotate(0 652.6 451.1)" fill-opacity="0.273"/>
<ellipse cx="633.5" cy="472.7" rx="5.8" ry="4.6" transform="rotate(0 633.5 472.7)" fill-opacity="0.294"/>
</g>
<filter id="f24" x="438.5" y="295.5" width="375.5" height="187.0" filterUnits="userSpaceOnUse" color-interpolation-filters="sRGB"><feGaussianBlur in="SourceAlpha" stdDeviation="2.5" result="b"/><feTurbulence type="fractalNoise" baseFrequency="0.32" numOctaves="2" seed="73" result="n"/><feComponentTransfer in="n" result="u"><feFuncA type="table" tableValues="0.000 0.000 0.000 0.000 0.003 0.014 0.048 0.110 0.207 0.331 0.494 0.673 0.802 0.889 0.951 0.984 0.996 0.999 1.000 1.000 1.000"/></feComponentTransfer><feColorMatrix in="u" type="matrix" values="0 0 0 0 0 0 0 0 0 0 0 0 0 0 0 0 0 0 1 0" result="ua"/><feComponentTransfer in="b" result="bm"><feFuncA type="linear" slope="25" intercept="0"/></feComponentTransfer><feComposite in="b" in2="ua" operator="arithmetic" k2="8" k3="-8" k4="0.5" result="m0"/><feComposite in="m0" in2="bm" operator="in" result="m"/><feFlood flood-color="#3f84de"/><feComposite in2="m" operator="in"/><feGaussianBlur stdDeviation="0.6"/></filter>
<g filter="url(#f24)">
<ellipse cx="501.4" cy="340.5" rx="8.7" ry="5.8" transform="rotate(0 501.4 340.5)" fill-opacity="0.391"/>
<ellipse cx="496.4" cy="350.6" rx="14.5" ry="5.2" transform="rotate(0 496.4 350.6)" fill-opacity="0.273"/>
<ellipse cx="519.1" cy="351.6" rx="14.5" ry="4.0" transform="rotate(0 519.1 351.6)" fill-opacity="0.064"/>
<ellipse cx="516.6" cy="341.5" rx="14.5" ry="5.8" transform="rotate(0 516.6 341.5)" fill-opacity="0.116"/>
<ellipse cx="491.4" cy="405.8" rx="15.1" ry="15.6" transform="rotate(0 491.4 405.8)" fill-opacity="0.301"/>
<ellipse cx="514.0" cy="395.8" rx="20.3" ry="8.7" transform="rotate(0 514.0 395.8)" fill-opacity="0.222"/>
<ellipse cx="539.2" cy="395.8" rx="17.4" ry="8.7" transform="rotate(0 539.2 395.8)" fill-opacity="0.408"/>
<ellipse cx="514.0" cy="415.9" rx="20.3" ry="8.7" transform="rotate(-15 514.0 415.9)" fill-opacity="0.429"/>
<ellipse cx="541.8" cy="420.9" rx="14.5" ry="8.7" transform="rotate(0 541.8 420.9)" fill-opacity="0.408"/>
<ellipse cx="564.4" cy="415.9" rx="14.5" ry="14.4" transform="rotate(0 564.4 415.9)" fill-opacity="0.674"/>
<ellipse cx="554.4" cy="381.7" rx="17.4" ry="6.9" transform="rotate(0 554.4 381.7)" fill-opacity="0.188"/>
<ellipse cx="561.9" cy="398.3" rx="20.3" ry="9.2" transform="rotate(0 561.9 398.3)" fill-opacity="0.589"/>
<ellipse cx="584.6" cy="380.7" rx="17.4" ry="8.7" transform="rotate(20 584.6 380.7)" fill-opacity="0.621"/>
<ellipse cx="594.7" cy="400.8" rx="10.4" ry="10.4" transform="rotate(0 594.7 400.8)" fill-opacity="0.627"/>
<ellipse cx="587.1" cy="418.4" rx="11.6" ry="14.4" transform="rotate(0 587.1 418.4)" fill-opacity="0.687"/>
<ellipse cx="614.8" cy="383.2" rx="11.6" ry="11.6" transform="rotate(0 614.8 383.2)" fill-opacity="0.627"/>
<ellipse cx="637.5" cy="380.7" rx="11.6" ry="14.4" transform="rotate(0 637.5 380.7)" fill-opacity="0.627"/>
<ellipse cx="630.0" cy="368.1" rx="14.5" ry="6.9" transform="rotate(0 630.0 368.1)" fill-opacity="0.408"/>
<ellipse cx="650.1" cy="355.6" rx="20.3" ry="8.7" transform="rotate(20 650.1 355.6)" fill-opacity="0.345"/>
<ellipse cx="680.4" cy="348.0" rx="17.4" ry="11.6" transform="rotate(30 680.4 348.0)" fill-opacity="0.205"/>
<ellipse cx="700.5" cy="312.9" rx="14.5" ry="12.7" transform="rotate(0 700.5 312.9)" fill-opacity="0.615"/>
<ellipse cx="723.2" cy="322.9" rx="10.4" ry="8.7" transform="rotate(0 723.2 322.9)" fill-opacity="0.556"/>
<ellipse cx="730.8" cy="331.0" rx="11.0" ry="8.1" transform="rotate(0 730.8 331.0)" fill-opacity="0.339"/>
<ellipse cx="724.7" cy="353.1" rx="13.3" ry="9.2" transform="rotate(40 724.7 353.1)" fill-opacity="0.306"/>
<ellipse cx="695.5" cy="363.1" rx="14.5" ry="7.5" transform="rotate(20 695.5 363.1)" fill-opacity="0.148"/>
<ellipse cx="665.2" cy="365.6" rx="11.6" ry="5.8" transform="rotate(20 665.2 365.6)" fill-opacity="0.174"/>
<ellipse cx="622.4" cy="399.3" rx="17.4" ry="4.6" transform="rotate(0 622.4 399.3)" fill-opacity="0.557"/>
<ellipse cx="635.0" cy="420.9" rx="11.6" ry="14.4" transform="rotate(0 635.0 420.9)" fill-opacity="0.424"/>
<ellipse cx="657.7" cy="431.0" rx="14.5" ry="14.4" transform="rotate(0 657.7 431.0)" fill-opacity="0.222"/>
<ellipse cx="679.4" cy="433.5" rx="10.4" ry="17.3" transform="rotate(35 679.4 433.5)" fill-opacity="0.196"/>
<ellipse cx="618.9" cy="434.5" rx="11.6" ry="9.2" transform="rotate(0 618.9 434.5)" fill-opacity="0.613"/>
<ellipse cx="589.6" cy="436.0" rx="11.6" ry="11.6" transform="rotate(0 589.6 436.0)" fill-opacity="0.594"/>
<ellipse cx="592.2" cy="452.6" rx="14.5" ry="9.2" transform="rotate(0 592.2 452.6)" fill-opacity="0.509"/>
<ellipse cx="627.4" cy="449.6" rx="14.5" ry="8.7" transform="rotate(0 627.4 449.6)" fill-opacity="0.263"/>
<ellipse cx="652.6" cy="451.1" rx="14.5" ry="7.5" transform="rotate(0 652.6 451.1)" fill-opacity="0.185"/>
<ellipse cx="633.5" cy="472.7" rx="5.8" ry="4.6" transform="rotate(0 633.5 472.7)" fill-opacity="0.128"/>
<ellipse cx="690.4" cy="450.1" rx="3.5" ry="8.7" transform="rotate(15 690.4 450.1)" fill-opacity="0.58"/>
<ellipse cx="750.9" cy="330.5" rx="8.7" ry="4.6" transform="rotate(0 750.9 330.5)" fill-opacity="0.145"/>
<ellipse cx="690.4" cy="330.5" rx="8.7" ry="10.4" transform="rotate(0 690.4 330.5)" fill-opacity="0.463"/>
</g>
<filter id="f25" x="438.5" y="295.5" width="375.5" height="187.0" filterUnits="userSpaceOnUse" color-interpolation-filters="sRGB"><feGaussianBlur in="SourceAlpha" stdDeviation="2.5" result="b"/><feTurbulence type="fractalNoise" baseFrequency="0.32" numOctaves="2" seed="94" result="n"/><feComponentTransfer in="n" result="u"><feFuncA type="table" tableValues="0.000 0.000 0.000 0.000 0.003 0.014 0.048 0.110 0.207 0.331 0.494 0.673 0.802 0.889 0.951 0.984 0.996 0.999 1.000 1.000 1.000"/></feComponentTransfer><feColorMatrix in="u" type="matrix" values="0 0 0 0 0 0 0 0 0 0 0 0 0 0 0 0 0 0 1 0" result="ua"/><feComponentTransfer in="b" result="bm"><feFuncA type="linear" slope="25" intercept="0"/></feComponentTransfer><feComposite in="b" in2="ua" operator="arithmetic" k2="8" k3="-8" k4="0.5" result="m0"/><feComposite in="m0" in2="bm" operator="in" result="m"/><feFlood flood-color="#e03c4a"/><feComposite in2="m" operator="in"/><feGaussianBlur stdDeviation="0.6"/></filter>
<g filter="url(#f25)">
<ellipse cx="521.6" cy="333.0" rx="10.4" ry="6.9" transform="rotate(-30 521.6 333.0)" fill-opacity="0.649"/>
<ellipse cx="496.4" cy="350.6" rx="14.5" ry="5.2" transform="rotate(0 496.4 350.6)" fill-opacity="0.043"/>
<ellipse cx="519.1" cy="351.6" rx="14.5" ry="4.0" transform="rotate(0 519.1 351.6)" fill-opacity="0.087"/>
<ellipse cx="476.2" cy="380.7" rx="17.4" ry="5.2" transform="rotate(-25 476.2 380.7)" fill-opacity="0.217"/>
<ellipse cx="511.5" cy="384.2" rx="20.3" ry="3.5" transform="rotate(0 511.5 384.2)" fill-opacity="0.145"/>
<ellipse cx="490.9" cy="384.7" rx="32.8" ry="1.8" transform="rotate(6.0 490.9 384.7)" fill-opacity="0.834"/>
<ellipse cx="491.4" cy="405.8" rx="15.1" ry="15.6" transform="rotate(0 491.4 405.8)" fill-opacity="0.429"/>
<ellipse cx="514.0" cy="395.8" rx="20.3" ry="8.7" transform="rotate(0 514.0 395.8)" fill-opacity="0.217"/>
<ellipse cx="539.2" cy="395.8" rx="17.4" ry="8.7" transform="rotate(0 539.2 395.8)" fill-opacity="0.217"/>
<ellipse cx="514.0" cy="415.9" rx="20.3" ry="8.7" transform="rotate(-15 514.0 415.9)" fill-opacity="0.445"/>
<ellipse cx="541.8" cy="420.9" rx="14.5" ry="8.7" transform="rotate(0 541.8 420.9)" fill-opacity="0.217"/>
<ellipse cx="564.4" cy="415.9" rx="14.5" ry="14.4" transform="rotate(0 564.4 415.9)" fill-opacity="0.134"/>
<ellipse cx="554.4" cy="381.7" rx="17.4" ry="6.9" transform="rotate(0 554.4 381.7)" fill-opacity="0.072"/>
<ellipse cx="561.9" cy="398.3" rx="20.3" ry="9.2" transform="rotate(0 561.9 398.3)" fill-opacity="0.136"/>
<ellipse cx="584.6" cy="380.7" rx="17.4" ry="8.7" transform="rotate(20 584.6 380.7)" fill-opacity="0.11"/>
<ellipse cx="594.7" cy="400.8" rx="10.4" ry="10.4" transform="rotate(0 594.7 400.8)" fill-opacity="0.111"/>
<ellipse cx="587.1" cy="418.4" rx="11.6" ry="14.4" transform="rotate(0 587.1 418.4)" fill-opacity="0.105"/>
<ellipse cx="637.5" cy="380.7" rx="11.6" ry="14.4" transform="rotate(0 637.5 380.7)" fill-opacity="0.111"/>
<ellipse cx="630.0" cy="368.1" rx="14.5" ry="6.9" transform="rotate(0 630.0 368.1)" fill-opacity="0.093"/>
<ellipse cx="650.1" cy="355.6" rx="20.3" ry="8.7" transform="rotate(20 650.1 355.6)" fill-opacity="0.463"/>
<ellipse cx="680.4" cy="348.0" rx="17.4" ry="11.6" transform="rotate(30 680.4 348.0)" fill-opacity="0.339"/>
<ellipse cx="675.3" cy="325.4" rx="10.4" ry="8.7" transform="rotate(0 675.3 325.4)" fill-opacity="0.116"/>
<ellipse cx="730.8" cy="331.0" rx="11.0" ry="8.1" transform="rotate(0 730.8 331.0)" fill-opacity="0.145"/>
<ellipse cx="724.7" cy="353.1" rx="13.3" ry="9.2" transform="rotate(40 724.7 353.1)" fill-opacity="0.29"/>
<ellipse cx="695.5" cy="363.1" rx="14.5" ry="7.5" transform="rotate(20 695.5 363.1)" fill-opacity="0.217"/>
<ellipse cx="657.7" cy="431.0" rx="14.5" ry="14.4" transform="rotate(0 657.7 431.0)" fill-opacity="0.217"/>
<ellipse cx="679.4" cy="433.5" rx="10.4" ry="17.3" transform="rotate(35 679.4 433.5)" fill-opacity="0.261"/>
<ellipse cx="618.9" cy="434.5" rx="11.6" ry="9.2" transform="rotate(0 618.9 434.5)" fill-opacity="0.093"/>
<ellipse cx="589.6" cy="436.0" rx="11.6" ry="11.6" transform="rotate(0 589.6 436.0)" fill-opacity="0.145"/>
<ellipse cx="592.2" cy="452.6" rx="14.5" ry="9.2" transform="rotate(0 592.2 452.6)" fill-opacity="0.145"/>
<ellipse cx="627.4" cy="449.6" rx="14.5" ry="8.7" transform="rotate(0 627.4 449.6)" fill-opacity="0.174"/>
<ellipse cx="652.6" cy="451.1" rx="14.5" ry="7.5" transform="rotate(0 652.6 451.1)" fill-opacity="0.217"/>
<ellipse cx="633.5" cy="472.7" rx="5.8" ry="4.6" transform="rotate(0 633.5 472.7)" fill-opacity="0.435"/>
</g>
<filter id="f26" x="438.5" y="295.5" width="375.5" height="187.0" filterUnits="userSpaceOnUse" color-interpolation-filters="sRGB"><feGaussianBlur in="SourceAlpha" stdDeviation="2.5" result="b"/><feTurbulence type="fractalNoise" baseFrequency="0.32" numOctaves="2" seed="66" result="n"/><feComponentTransfer in="n" result="u"><feFuncA type="table" tableValues="0.000 0.000 0.000 0.000 0.003 0.014 0.048 0.110 0.207 0.331 0.494 0.673 0.802 0.889 0.951 0.984 0.996 0.999 1.000 1.000 1.000"/></feComponentTransfer><feColorMatrix in="u" type="matrix" values="0 0 0 0 0 0 0 0 0 0 0 0 0 0 0 0 0 0 1 0" result="ua"/><feComponentTransfer in="b" result="bm"><feFuncA type="linear" slope="25" intercept="0"/></feComponentTransfer><feComposite in="b" in2="ua" operator="arithmetic" k2="8" k3="-8" k4="0.5" result="m0"/><feComposite in="m0" in2="bm" operator="in" result="m"/><feFlood flood-color="#1a52ac"/><feComposite in2="m" operator="in"/><feGaussianBlur stdDeviation="0.6"/></filter>
<g filter="url(#f26)">
<ellipse cx="501.4" cy="340.5" rx="8.7" ry="5.8" transform="rotate(0 501.4 340.5)" fill-opacity="0.072"/>
<ellipse cx="564.4" cy="415.9" rx="14.5" ry="14.4" transform="rotate(0 564.4 415.9)" fill-opacity="0.143"/>
<ellipse cx="561.9" cy="398.3" rx="20.3" ry="9.2" transform="rotate(0 561.9 398.3)" fill-opacity="0.145"/>
<ellipse cx="584.6" cy="380.7" rx="17.4" ry="8.7" transform="rotate(20 584.6 380.7)" fill-opacity="0.399"/>
<ellipse cx="594.7" cy="400.8" rx="10.4" ry="10.4" transform="rotate(0 594.7 400.8)" fill-opacity="0.358"/>
<ellipse cx="587.1" cy="418.4" rx="11.6" ry="14.4" transform="rotate(0 587.1 418.4)" fill-opacity="0.174"/>
<ellipse cx="614.8" cy="383.2" rx="11.6" ry="11.6" transform="rotate(0 614.8 383.2)" fill-opacity="0.429"/>
<ellipse cx="637.5" cy="380.7" rx="11.6" ry="14.4" transform="rotate(0 637.5 380.7)" fill-opacity="0.358"/>
<ellipse cx="630.0" cy="368.1" rx="14.5" ry="6.9" transform="rotate(0 630.0 368.1)" fill-opacity="0.217"/>
<ellipse cx="700.5" cy="312.9" rx="14.5" ry="12.7" transform="rotate(0 700.5 312.9)" fill-opacity="0.496"/>
<ellipse cx="723.2" cy="322.9" rx="10.4" ry="8.7" transform="rotate(0 723.2 322.9)" fill-opacity="0.217"/>
<ellipse cx="622.4" cy="399.3" rx="17.4" ry="4.6" transform="rotate(0 622.4 399.3)" fill-opacity="0.358"/>
<ellipse cx="635.0" cy="420.9" rx="11.6" ry="14.4" transform="rotate(0 635.0 420.9)" fill-opacity="0.145"/>
<ellipse cx="618.9" cy="434.5" rx="11.6" ry="9.2" transform="rotate(0 618.9 434.5)" fill-opacity="0.217"/>
<ellipse cx="690.4" cy="330.5" rx="8.7" ry="10.4" transform="rotate(0 690.4 330.5)" fill-opacity="0.217"/>
</g>
<filter id="f27" x="438.5" y="295.5" width="375.5" height="187.0" filterUnits="userSpaceOnUse" color-interpolation-filters="sRGB"><feGaussianBlur in="SourceAlpha" stdDeviation="2.5" result="b"/><feTurbulence type="fractalNoise" baseFrequency="0.32" numOctaves="2" seed="101" result="n"/><feComponentTransfer in="n" result="u"><feFuncA type="table" tableValues="0.000 0.000 0.000 0.000 0.003 0.014 0.048 0.110 0.207 0.331 0.494 0.673 0.802 0.889 0.951 0.984 0.996 0.999 1.000 1.000 1.000"/></feComponentTransfer><feColorMatrix in="u" type="matrix" values="0 0 0 0 0 0 0 0 0 0 0 0 0 0 0 0 0 0 1 0" result="ua"/><feComponentTransfer in="b" result="bm"><feFuncA type="linear" slope="25" intercept="0"/></feComponentTransfer><feComposite in="b" in2="ua" operator="arithmetic" k2="8" k3="-8" k4="0.5" result="m0"/><feComposite in="m0" in2="bm" operator="in" result="m"/><feFlood flood-color="#ae1222"/><feComposite in2="m" operator="in"/><feGaussianBlur stdDeviation="0.6"/></filter>
<g filter="url(#f27)">
<ellipse cx="521.6" cy="333.0" rx="10.4" ry="6.9" transform="rotate(-30 521.6 333.0)" fill-opacity="0.217"/>
<ellipse cx="490.9" cy="384.7" rx="32.8" ry="1.8" transform="rotate(6.0 490.9 384.7)" fill-opacity="0.217"/>
<ellipse cx="514.0" cy="415.9" rx="20.3" ry="8.7" transform="rotate(-15 514.0 415.9)" fill-opacity="0.113"/>
<ellipse cx="650.1" cy="355.6" rx="20.3" ry="8.7" transform="rotate(20 650.1 355.6)" fill-opacity="0.217"/>
<ellipse cx="680.4" cy="348.0" rx="17.4" ry="11.6" transform="rotate(30 680.4 348.0)" fill-opacity="0.145"/>
</g>
</g>
<path d="M472.7,390.3L481.3,391.3L491.9,390.8L504.0,388.8L515.6,386.7L526.6,386.2L534.7,384.2L538.7,381.2L536.2,375.7L548.3,371.2L549.3,365.1L556.4,360.6L566.0,354.1M533.7,385.7L538.2,389.3L543.3,391.8L546.8,395.3L545.3,400.3L548.3,404.3L554.4,404.3L559.4,403.8L564.4,405.8L569.5,406.8L573.5,403.8M573.5,403.8L577.0,408.3L579.1,415.9L578.6,420.9L577.5,425.4L577.5,427.4M573.5,403.8L578.0,401.3L584.6,404.3L590.6,404.3L593.7,400.3L596.2,401.3M541.8,373.2L556.9,376.2L567.0,375.7L573.5,372.2L578.6,373.2L583.1,377.2L589.6,379.2L597.2,383.2L598.7,386.7L597.2,390.8L593.7,393.3L592.7,397.3L596.2,401.3M571.5,354.6L575.8,364.6L584.6,368.7L595.0,374.9L602.2,371.7L605.8,375.7L606.3,380.7M606.3,381.2L610.8,380.2L613.8,375.2L617.4,371.2L618.9,372.2L619.9,376.2L622.9,378.7L621.4,382.7L617.4,384.7L618.9,389.3L615.8,392.3L612.8,389.8L611.8,385.7L607.8,383.2L606.3,381.2M622.9,378.7L627.4,378.2L635.0,373.2L639.0,371.2L641.0,370.7L643.1,367.1L647.6,366.6L654.2,365.6L656.7,363.6L657.7,359.1L662.7,357.6L667.8,355.6L672.8,356.1L677.8,358.1L681.4,360.6L685.4,355.6L693.0,353.1L697.0,354.6L700.5,350.6L703.0,345.5L699.0,340.5L694.5,335.5L700.5,330.5L705.6,326.4L711.6,321.4L714.1,316.4L715.6,310.4L713.6,303.8M641.0,370.7L638.5,375.7L637.5,380.7L637.5,388.2L636.5,393.3L637.0,395.3M654.2,365.6L655.7,368.1L654.2,373.2L652.6,380.7L655.2,385.7L653.1,389.3L647.6,392.3L642.6,394.3L637.0,395.3M622.9,378.7L624.9,383.2L627.9,386.7L622.4,391.3L617.4,394.3L617.4,400.8L612.8,404.8M612.8,404.8L607.3,404.8L602.2,400.8L596.2,401.3M612.8,404.8L617.4,406.3L622.4,407.3L627.4,407.3L633.0,409.9L636.0,405.8L640.0,402.3L638.0,397.3L637.0,395.3M640.0,402.3L645.1,405.8L652.6,409.4L657.7,410.4L662.7,409.4L664.2,404.3L667.8,398.3L665.2,395.3L662.2,393.3L659.7,388.8L655.2,385.7M655.2,385.7L662.7,384.2L667.8,380.2L672.8,377.2L675.3,377.7M665.2,395.3L672.8,395.8L677.8,394.3L681.9,393.3M667.8,398.3L674.3,401.3L677.8,404.3L678.8,409.4L681.4,412.4L683.4,412.4L687.9,413.4L690.4,414.4M662.7,409.4L665.2,414.9L668.8,418.4L672.8,419.9L676.8,420.4L680.4,416.9L683.4,412.4M676.8,420.4L677.8,425.4L675.3,430.0L671.8,433.5L667.8,438.5L666.2,443.5L664.2,445.5M675.3,430.0L682.9,430.5L687.9,432.0M666.2,443.5L669.3,445.5L671.3,450.6M664.2,445.5L659.2,445.5L655.2,442.0L650.1,442.5L645.1,444.5M655.2,442.0L655.2,436.0L654.2,431.0L656.2,425.9L654.2,422.4L647.6,420.9L640.0,419.4L635.0,420.9L632.5,419.4M654.2,422.4L660.2,420.9L665.2,419.4L665.2,414.9M632.5,419.4L631.0,415.9L635.0,412.4L633.0,409.9M627.4,407.3L622.4,410.9L617.4,415.4L614.8,419.9L612.3,422.4L614.8,425.9L617.4,425.9L622.4,423.4L627.4,425.9L631.0,425.4L632.5,419.4M577.5,425.9L582.1,428.4L587.1,429.5L589.6,436.0L594.7,437.5L599.7,436.0L602.2,429.5L607.3,428.4L612.3,428.4L614.8,425.9M607.3,428.4L607.3,438.5L608.3,443.5L610.8,444.5L612.3,448.5L613.8,452.6M610.8,444.5L617.4,443.5L622.4,442.0L627.4,441.0L631.5,439.5L632.5,434.5L631.0,430.5L631.0,425.4M631.5,439.5L637.5,438.5L641.6,441.0L645.1,444.5L642.6,448.5L643.1,453.6L638.0,457.6L634.0,461.1M697.0,354.6L703.0,352.1L708.1,353.1L713.1,355.6L715.6,358.6L712.1,365.1M694.5,335.5L703.0,339.0L709.6,342.0L715.6,343.0L723.2,345.5L728.2,348.0L733.3,348.0L740.8,346.5M681.4,360.6L682.9,365.6L682.9,368.7" fill="none" stroke="#555" stroke-width="0.85" stroke-linejoin="round"/>
<path d="M451.0,370.9L453.1,369.7L455.1,367.6L458.1,365.9L461.6,365.1L465.2,366.1L467.7,363.1L471.7,363.1L474.7,361.6L477.2,360.1L482.8,358.1L484.8,357.1L485.3,353.6L487.8,352.1L486.3,347.5L485.8,344.0L483.8,343.0L492.4,341.5L496.4,342.0L495.4,339.5L497.9,335.5L498.9,332.0L504.0,333.0L509.0,333.0L512.0,332.0L512.0,326.9L515.0,325.4L518.1,323.4L520.6,322.1L523.6,322.9L523.1,324.9L527.1,326.4L531.7,328.5L535.7,329.5L538.7,333.5L539.2,337.5L537.7,340.5L540.8,342.5L548.3,343.0L551.8,343.3L557.9,346.0L561.4,347.0L563.9,351.6L566.5,354.6L570.5,354.1L582.1,355.3L588.6,354.8L593.7,355.6L601.2,358.6L607.3,359.6L610.8,360.1L618.9,356.6L625.9,355.8L632.5,355.8L637.0,354.1L640.5,351.1L644.6,349.6L643.1,346.5L644.6,342.5L648.6,343.0L653.1,344.3L657.7,341.0L662.2,341.0L665.7,339.0L668.8,336.0L672.3,335.0L676.8,334.0L680.4,334.5L684.9,334.5L683.9,332.0L679.4,329.0L675.3,327.9L672.3,329.5L667.8,328.5L664.2,329.0L663.2,326.9L666.2,322.4L668.8,318.7L674.3,320.4L678.3,318.4L681.4,316.4L681.9,313.4L685.4,309.9L689.4,306.8L687.9,304.8L689.9,301.8L697.0,300.6L703.5,300.1L709.6,301.8L713.6,302.8L716.1,305.8L718.2,308.9L722.2,313.9L723.7,318.9L728.7,319.9L733.3,320.9L738.8,323.4L739.8,326.4L738.8,328.5L743.4,329.5L748.9,329.5L752.9,327.4L759.0,326.4L761.5,325.9L759.5,329.5L757.0,331.5L755.5,336.0L753.4,340.0L751.4,342.0L745.4,341.5L740.8,343.5L741.8,348.0L742.4,351.1L740.8,353.6L738.8,356.1L736.8,354.1L733.8,356.1L730.8,358.1L726.2,358.6L727.2,360.6L722.2,360.6L718.7,359.6L715.6,363.6L710.6,366.1L707.1,368.7L702.0,369.7L696.5,372.2L692.0,374.2L693.5,371.7L693.0,370.2L695.5,368.1L696.5,365.6L693.0,363.6L689.4,365.6L684.4,368.7L680.4,372.2L675.3,372.7L673.8,375.2L676.3,378.2L680.4,382.2L684.4,381.7L686.9,380.2L691.4,380.2L698.0,381.2L697.0,383.7L690.4,385.7L687.4,387.7L682.4,392.3L681.4,395.3L686.9,396.8L689.4,403.8L692.5,406.8L695.0,409.9L695.0,413.9L690.4,415.9L693.0,418.4L695.5,418.9L693.0,425.4L690.9,427.9L688.4,431.0L686.4,434.5L683.4,437.5L682.9,441.5L679.9,444.0L675.8,446.0L673.3,449.1L668.8,452.1L665.2,454.1L660.7,455.1L656.2,457.1L652.6,457.6L650.1,459.1L645.1,460.1L640.0,461.6L637.0,462.6L636.0,467.1L634.5,466.6L633.5,463.6L633.5,461.1L630.5,461.1L627.4,460.1L624.9,460.9L621.9,460.1L618.4,458.6L618.4,454.6L614.8,454.1L611.8,452.1L608.8,453.1L605.8,455.1L602.2,455.1L599.2,456.6L595.7,456.6L593.2,456.1L592.7,460.6L590.6,461.6L587.1,461.1L584.6,460.1L582.1,458.1L581.1,455.6L582.1,453.6L579.1,452.6L578.0,449.1L575.5,448.0L573.0,449.1L572.0,446.5L572.5,443.5L575.5,441.5L577.5,439.0L578.0,435.0L578.0,431.0L576.0,429.0L574.5,427.4L571.5,426.9L569.0,429.5L565.4,432.0L560.9,434.5L556.4,434.0L551.3,434.5L546.3,434.0L544.3,432.0L542.8,429.5L537.2,428.4L533.7,426.9L530.2,429.5L528.2,432.0L527.1,427.9L524.6,429.0L519.1,429.0L514.0,429.0L510.0,426.9L505.0,425.4L499.9,422.4L494.9,418.4L490.4,417.4L488.8,417.4L484.8,414.9L480.3,413.4L477.8,410.9L477.2,407.3L475.7,405.3L480.3,405.3L481.3,402.3L478.8,398.8L477.2,396.8L474.2,393.3L473.7,390.8L468.7,390.3L464.6,388.8L461.6,385.7L459.6,383.7L456.1,382.7L458.1,380.2L457.6,376.2L453.6,375.2L452.6,373.2L451.0,370.9ZM690.4,443.0L693.5,442.0L695.5,443.5L693.5,448.5L692.5,453.1L689.9,457.1L688.9,459.1L686.4,455.6L685.9,453.1L686.4,449.6L688.9,445.5ZM627.9,472.7L631.0,476.7L633.0,477.7L637.5,475.2L640.0,470.7L638.0,468.1L635.0,468.1L631.5,469.2L628.4,470.7Z" fill="none" stroke="#4a4a4a" stroke-width="0.9"/>
<path d="M681.9,480.7L685.4,486.7M692.0,457.1L694.5,462.1M682.4,477.2L684.4,472.2M698.5,445.5L699.5,441.5" fill="none" stroke="#666" stroke-width="0.9"/>
<circle cx="643.1" cy="486.2" r="0.7" fill="#777"/>
<circle cx="646.6" cy="484.7" r="0.7" fill="#777"/>
<circle cx="648.6" cy="487.2" r="0.7" fill="#777"/>
<circle cx="644.6" cy="488.8" r="0.7" fill="#777"/>
<circle cx="668.8" cy="464.6" r="0.7" fill="#777"/>
</g>
<rect x="445.4" y="418.1" width="36.10000000000002" height="41.19999999999999" fill="#fff" stroke="#555" stroke-width="0.9"/>
<clipPath id="iclip-e"><rect x="445.4" y="418.1" width="36.10000000000002" height="41.19999999999999"/></clipPath>
<g clip-path="url(#iclip-e)" fill="none" stroke="#444" stroke-width="0.6">
<path d="M412.2,397.2L412.8,396.8L413.3,396.2L414.1,395.6L415.0,395.3L416.0,395.7L416.7,394.7L417.7,394.7L418.5,394.2L419.2,393.6L420.7,393.0L421.2,392.6L421.3,391.5L422.0,391.0L421.6,389.5L421.5,388.3L420.9,388.0L423.2,387.5L424.3,387.6L424.0,386.8L424.7,385.4L424.9,384.3L426.3,384.6L427.6,384.6L428.4,384.3L428.4,382.6L429.2,382.1L430.0,381.4L430.7,381.0L431.5,381.3L431.4,381.9L432.4,382.4L433.6,383.1L434.7,383.4L435.5,384.8L435.6,386.1L435.2,387.1L436.0,387.8L438.0,388.0L439.0,388.0L440.6,389.0L441.5,389.3L442.2,390.8L442.9,391.8L443.9,391.6L447.0,392.1L448.7,391.9L450.1,392.1L452.1,393.1L453.7,393.5L454.6,393.6L456.8,392.5L458.6,392.2L460.4,392.2L461.6,391.6L462.5,390.6L463.6,390.1L463.2,389.1L463.6,387.8L464.7,388.0L465.9,388.4L467.1,387.3L468.3,387.3L469.2,386.6L470.0,385.6L470.9,385.3L472.1,384.9L473.1,385.1L474.3,385.1L474.0,384.3L472.8,383.3L471.7,382.9L470.9,383.4L469.7,383.1L468.8,383.3L468.5,382.6L469.3,381.1L470.0,379.8L471.5,380.4L472.5,379.7L473.3,379.1L473.5,378.1L474.4,376.9L475.5,375.9L475.1,375.2L475.6,374.2L477.5,373.8L479.2,373.6L480.8,374.2L481.9,374.6L482.6,375.6L483.1,376.6L484.2,378.2L484.6,379.9L485.9,380.2L487.1,380.6L488.6,381.4L488.9,382.4L488.6,383.1L489.8,383.4L491.3,383.4L492.3,382.8L493.9,382.4L494.6,382.3L494.1,383.4L493.4,384.1L493.0,385.6L492.5,386.9L491.9,387.6L490.3,387.5L489.1,388.1L489.4,389.6L489.5,390.6L489.1,391.5L488.6,392.3L488.1,391.6L487.2,392.3L486.4,393.0L485.2,393.1L485.5,393.8L484.2,393.8L483.2,393.5L482.4,394.8L481.1,395.7L480.2,396.5L478.8,396.8L477.4,397.7L476.2,398.3L476.6,397.5L476.4,397.0L477.1,396.3L477.4,395.5L476.4,394.8L475.5,395.5L474.1,396.5L473.1,397.7L471.7,397.8L471.3,398.7L472.0,399.7L473.1,401.0L474.1,400.8L474.8,400.3L476.0,400.3L477.8,400.7L477.5,401.5L475.8,402.2L474.9,402.9L473.6,404.4L473.3,405.4L474.8,405.9L475.5,408.2L476.3,409.2L477.0,410.2L477.0,411.6L475.8,412.2L476.4,413.1L477.1,413.2L476.4,415.4L475.9,416.3L475.2,417.3L474.7,418.4L473.9,419.4L473.7,420.8L472.9,421.6L471.9,422.3L471.2,423.3L470.0,424.3L469.1,425.0L467.9,425.3L466.7,426.0L465.7,426.1L465.1,426.6L463.7,427.0L462.4,427.5L461.6,427.8L461.3,429.3L460.9,429.2L460.6,428.1L460.6,427.3L459.8,427.3L459.0,427.0L458.4,427.2L457.6,427.0L456.6,426.5L456.6,425.1L455.7,425.0L454.9,424.3L454.1,424.6L453.3,425.3L452.4,425.3L451.6,425.8L450.6,425.8L449.9,425.6L449.8,427.1L449.3,427.5L448.3,427.3L447.7,427.0L447.0,426.3L446.7,425.5L447.0,424.8L446.2,424.5L445.9,423.3L445.3,423.0L444.6,423.3L444.3,422.5L444.5,421.4L445.3,420.8L445.8,419.9L445.9,418.6L445.9,417.3L445.4,416.6L445.0,416.1L444.2,415.9L443.5,416.8L442.6,417.6L441.4,418.4L440.2,418.3L438.8,418.4L437.5,418.3L437.0,417.6L436.6,416.8L435.1,416.4L434.2,415.9L433.2,416.8L432.7,417.6L432.4,416.3L431.8,416.6L430.3,416.6L429.0,416.6L427.9,415.9L426.5,415.4L425.2,414.4L423.9,413.1L422.7,412.7L422.3,412.7L421.2,411.9L420.0,411.4L419.3,410.6L419.2,409.4L418.8,408.7L420.0,408.7L420.3,407.7L419.6,406.5L419.2,405.9L418.4,404.7L418.3,403.9L416.9,403.7L415.9,403.2L415.0,402.2L414.5,401.5L413.6,401.2L414.1,400.3L414.0,399.0L412.9,398.7L412.6,398.0L412.2,397.2ZM475.8,421.3L476.6,420.9L477.1,421.4L476.6,423.1L476.3,424.6L475.6,426.0L475.3,426.6L474.7,425.5L474.5,424.6L474.7,423.5L475.3,422.1ZM459.2,431.2L460.0,432.5L460.5,432.8L461.7,432.0L462.4,430.5L461.8,429.7L461.0,429.7L460.1,430.0L459.3,430.5Z" stroke-width="0.8"/>
<path d="M418.0,403.7L420.3,404.0L423.1,403.9L426.3,403.2L429.4,402.5L432.3,402.4L434.4,401.7L435.5,400.7L434.8,398.8L438.0,397.3L438.3,395.3L440.2,393.8L442.7,391.6M434.2,402.2L435.4,403.4L436.7,404.2L437.6,405.4L437.2,407.0L438.0,408.4L439.7,408.4L441.0,408.2L442.3,408.9L443.7,409.2L444.7,408.2M444.7,408.2L445.7,409.7L446.2,412.2L446.1,413.9L445.8,415.4L445.8,416.1M444.7,408.2L445.9,407.4L447.7,408.4L449.3,408.4L450.1,407.0L450.7,407.4M436.3,398.0L440.3,399.0L443.0,398.8L444.7,397.7L446.1,398.0L447.3,399.3L449.0,400.0L451.0,401.4L451.4,402.5L451.0,403.9L450.1,404.7L449.8,406.0L450.7,407.4M444.2,391.8L445.3,395.2L447.7,396.5L450.4,398.6L452.4,397.5L453.3,398.8L453.4,400.5M453.4,400.7L454.6,400.3L455.4,398.7L456.4,397.3L456.8,397.7L457.0,399.0L457.8,399.8L457.4,401.2L456.4,401.9L456.8,403.4L456.0,404.4L455.2,403.5L454.9,402.2L453.8,401.4L453.4,400.7M457.8,399.8L459.0,399.7L461.0,398.0L462.1,397.3L462.6,397.2L463.2,396.0L464.4,395.8L466.1,395.5L466.8,394.8L467.1,393.3L468.4,392.8L469.7,392.1L471.1,392.3L472.4,393.0L473.3,393.8L474.4,392.1L476.4,391.3L477.5,391.8L478.4,390.5L479.1,388.8L478.0,387.1L476.8,385.4L478.4,383.8L479.8,382.4L481.4,380.8L482.0,379.1L482.4,377.1L481.9,374.9M462.6,397.2L462.0,398.8L461.7,400.5L461.7,403.0L461.4,404.7L461.6,405.4M466.1,395.5L466.5,396.3L466.1,398.0L465.7,400.5L466.4,402.2L465.9,403.4L464.4,404.4L463.0,405.0L461.6,405.4M457.8,399.8L458.4,401.4L459.2,402.5L457.7,404.0L456.4,405.0L456.4,407.2L455.2,408.6M455.2,408.6L453.7,408.6L452.4,407.2L450.7,407.4M455.2,408.6L456.4,409.1L457.7,409.4L459.0,409.4L460.5,410.2L461.3,408.9L462.4,407.7L461.8,406.0L461.6,405.4M462.4,407.7L463.7,408.9L465.7,410.1L467.1,410.4L468.4,410.1L468.8,408.4L469.7,406.4L469.1,405.4L468.3,404.7L467.6,403.2L466.4,402.2M466.4,402.2L468.4,401.7L469.7,400.3L471.1,399.3L471.7,399.5M469.1,405.4L471.1,405.5L472.4,405.0L473.5,404.7M469.7,406.4L471.5,407.4L472.4,408.4L472.7,410.1L473.3,411.1L473.9,411.1L475.1,411.4L475.8,411.7M468.4,410.1L469.1,411.9L470.0,413.1L471.1,413.6L472.1,413.7L473.1,412.6L473.9,411.1M472.1,413.7L472.4,415.4L471.7,416.9L470.8,418.1L469.7,419.8L469.3,421.4L468.8,422.1M471.7,416.9L473.7,417.1L475.1,417.6M469.3,421.4L470.1,422.1L470.7,423.8M468.8,422.1L467.5,422.1L466.4,420.9L465.1,421.1L463.7,421.8M466.4,420.9L466.4,418.9L466.1,417.3L466.7,415.6L466.1,414.4L464.4,413.9L462.4,413.4L461.0,413.9L460.4,413.4M466.1,414.4L467.7,413.9L469.1,413.4L469.1,411.9M460.4,413.4L460.0,412.2L461.0,411.1L460.5,410.2M459.0,409.4L457.7,410.6L456.4,412.1L455.7,413.6L455.0,414.4L455.7,415.6L456.4,415.6L457.7,414.8L459.0,415.6L460.0,415.4L460.4,413.4M445.8,415.6L447.0,416.4L448.3,416.8L449.0,418.9L450.3,419.4L451.7,418.9L452.4,416.8L453.7,416.4L455.0,416.4L455.7,415.6M453.7,416.4L453.7,419.8L454.0,421.4L454.6,421.8L455.0,423.1L455.4,424.5M454.6,421.8L456.4,421.4L457.7,420.9L459.0,420.6L460.1,420.1L460.4,418.4L460.0,417.1L460.0,415.4M460.1,420.1L461.7,419.8L462.8,420.6L463.7,421.8L463.0,423.1L463.2,424.8L461.8,426.1L460.8,427.3M477.5,391.8L479.1,391.0L480.4,391.3L481.8,392.1L482.4,393.1L481.5,395.3M476.8,385.4L479.1,386.6L480.8,387.6L482.4,388.0L484.4,388.8L485.8,389.6L487.1,389.6L489.1,389.1M473.3,393.8L473.7,395.5L473.7,396.5" stroke-width="0.6"/>
<circle cx="463.2" cy="435.5" r="0.7" fill="#666" stroke="none"/>
<circle cx="464.1" cy="435.9" r="0.6" fill="#666" stroke="none"/>
<circle cx="465.3" cy="436.2" r="0.8" fill="#666" stroke="none"/>
<circle cx="470.0" cy="428.7" r="0.7" fill="#666" stroke="none"/>
<circle cx="471.5" cy="437.9" r="0.5" fill="#666" stroke="none"/>
<circle cx="466.8" cy="445.2" r="0.6" fill="#666" stroke="none"/>
<circle cx="468.1" cy="445.9" r="0.8" fill="#666" stroke="none"/>
<circle cx="469.1" cy="444.9" r="0.6" fill="#666" stroke="none"/>
<circle cx="469.9" cy="445.1" r="0.5" fill="#666" stroke="none"/>
<circle cx="467.5" cy="447.1" r="0.6" fill="#666" stroke="none"/>
<circle cx="466.1" cy="447.9" r="0.5" fill="#666" stroke="none"/>
<circle cx="466.7" cy="449.4" r="0.6" fill="#666" stroke="none"/>
<circle cx="464.8" cy="448.9" r="0.5" fill="#666" stroke="none"/>
<circle cx="464.1" cy="450.6" r="0.6" fill="#666" stroke="none"/>
<circle cx="462.6" cy="451.9" r="0.7" fill="#666" stroke="none"/>
<circle cx="470.7" cy="442.7" r="0.5" fill="#666" stroke="none"/>
<circle cx="471.7" cy="440.7" r="0.5" fill="#666" stroke="none"/>
<circle cx="471.2" cy="445.2" r="0.5" fill="#666" stroke="none"/>
<circle cx="464.1" cy="456.6" r="0.7" fill="#666" stroke="none"/>
<circle cx="464.1" cy="453.9" r="0.5" fill="#666" stroke="none"/>
</g>
<rect x="490.3" y="473.5" width="44.900000000000034" height="4.899999999999977" fill="#fff" stroke="#666" stroke-width="0.7"/>
<rect x="444.7" y="473.5" width="45.60000000000002" height="4.899999999999977" fill="#000"/>
<text x="444.7" y="468.6" font-size="9.9" text-anchor="middle" fill="#111">0</text>
<text x="467.5" y="468.6" font-size="9.9" text-anchor="middle" fill="#111">500</text>
<text x="490.3" y="468.6" font-size="9.9" text-anchor="middle" fill="#111">1,000</text>
<text x="535.2" y="468.6" font-size="9.9" text-anchor="middle" fill="#111">2,000</text>
<text x="538.2" y="479.6" font-size="10.7" fill="#111">km</text>
<rect x="438.5" y="295.5" width="375.5" height="187.0" fill="none" stroke="#666" stroke-width="1.25"/>
<line x1="483.8" y1="482.5" x2="483.8" y2="484.5" stroke="#5a5a5a"/>
<line x1="483.8" y1="295.5" x2="483.8" y2="293.5" stroke="#5a5a5a"/>
<text x="483.8" y="495.1" font-size="11.4" text-anchor="middle" fill="#1a1a1a">80°E</text>
<line x1="584.6" y1="482.5" x2="584.6" y2="484.5" stroke="#5a5a5a"/>
<line x1="584.6" y1="295.5" x2="584.6" y2="293.5" stroke="#5a5a5a"/>
<text x="584.6" y="495.1" font-size="11.4" text-anchor="middle" fill="#1a1a1a">100°E</text>
<line x1="685.4" y1="482.5" x2="685.4" y2="484.5" stroke="#5a5a5a"/>
<line x1="685.4" y1="295.5" x2="685.4" y2="293.5" stroke="#5a5a5a"/>
<text x="685.4" y="495.1" font-size="11.4" text-anchor="middle" fill="#1a1a1a">120°E</text>
<line x1="786.2" y1="482.5" x2="786.2" y2="484.5" stroke="#5a5a5a"/>
<line x1="786.2" y1="295.5" x2="786.2" y2="293.5" stroke="#5a5a5a"/>
<text x="786.2" y="495.1" font-size="11.4" text-anchor="middle" fill="#1a1a1a">140°E</text>
<line x1="438.5" y1="418.4" x2="436.5" y2="418.4" stroke="#5a5a5a"/>
<line x1="814.0" y1="418.4" x2="816.0" y2="418.4" stroke="#5a5a5a"/>
<text transform="translate(434.5,418.4) rotate(-90)" font-size="11.8" text-anchor="middle" fill="#1a1a1a">30°N</text>
<line x1="438.5" y1="317.9" x2="436.5" y2="317.9" stroke="#5a5a5a"/>
<line x1="814.0" y1="317.9" x2="816.0" y2="317.9" stroke="#5a5a5a"/>
<text transform="translate(434.5,317.9) rotate(-90)" font-size="11.8" text-anchor="middle" fill="#1a1a1a">50°N</text>
<text x="442.8" y="283.8" font-size="20.8" fill="#111">(e)</text>
<text x="496.0" y="312.0" font-size="12.9" fill="#1a1a1a">Variance trend</text>
<text x="736.5" y="311.5" font-size="13.5" fill="#1a1a1a">before BPs</text>
<rect x="700.1" y="366.8" width="112.9" height="112.0" fill="#fff"/>
<rect x="722.40" y="405.8" width="8.73" height="55.0" fill="#0b3470" stroke="#333" stroke-opacity="0.35" stroke-width="0.5"/>
<rect x="731.13" y="405.8" width="8.73" height="55.0" fill="#0b56b0" stroke="#333" stroke-opacity="0.35" stroke-width="0.5"/>
<rect x="739.86" y="420.1" width="8.73" height="40.7" fill="#4a9ff2" stroke="#333" stroke-opacity="0.35" stroke-width="0.5"/>
<rect x="748.59" y="431.3" width="8.73" height="29.5" fill="#98c2f4" stroke="#333" stroke-opacity="0.35" stroke-width="0.5"/>
<rect x="757.32" y="454.0" width="8.73" height="6.8" fill="#c8ddf6" stroke="#333" stroke-opacity="0.35" stroke-width="0.5"/>
<rect x="766.05" y="452.9" width="8.73" height="7.9" fill="#fcd0d2" stroke="#333" stroke-opacity="0.35" stroke-width="0.5"/>
<rect x="774.78" y="427.6" width="8.73" height="33.2" fill="#f98486" stroke="#333" stroke-opacity="0.35" stroke-width="0.5"/>
<rect x="783.51" y="420.1" width="8.73" height="40.7" fill="#f34648" stroke="#333" stroke-opacity="0.35" stroke-width="0.5"/>
<rect x="792.24" y="425.6" width="8.73" height="35.2" fill="#c3040f" stroke="#333" stroke-opacity="0.35" stroke-width="0.5"/>
<rect x="800.97" y="448.5" width="8.73" height="12.3" fill="#760a12" stroke="#333" stroke-opacity="0.35" stroke-width="0.5"/>
<line x1="722.1" y1="372.8" x2="722.1" y2="460.8" stroke="#777" stroke-width="0.7"/>
<text x="720.1" y="463.4" font-size="7.6" text-anchor="end" fill="#222">0</text>
<text x="720.1" y="441.4" font-size="7.6" text-anchor="end" fill="#222">1</text>
<text x="720.1" y="419.4" font-size="7.6" text-anchor="end" fill="#222">2</text>
<text x="720.1" y="397.4" font-size="7.6" text-anchor="end" fill="#222">3</text>
<text x="720.1" y="375.4" font-size="7.6" text-anchor="end" fill="#222">4</text>
<text x="731.1" y="469.6" font-size="7.4" text-anchor="middle" fill="#222">-0.8</text>
<text x="748.6" y="469.6" font-size="7.4" text-anchor="middle" fill="#222">-0.4</text>
<text x="766.0" y="469.6" font-size="7.4" text-anchor="middle" fill="#222">0.0</text>
<text x="783.5" y="469.6" font-size="7.4" text-anchor="middle" fill="#222">0.4</text>
<text x="801.0" y="469.6" font-size="7.4" text-anchor="middle" fill="#222">0.8</text>
<text x="766.0" y="477.6" font-size="7.4" text-anchor="middle" fill="#222">Variance Kendall τ</text>
<text transform="translate(713.4,414.8) rotate(-90)" font-size="7.05" text-anchor="middle" fill="#222">Grid cells count (10<tspan font-size="5" dy="-2.5">4</tspan><tspan dy="2.5">)</tspan></text>
</g>
<g id="panel-c">
<line x1="55.5" y1="523.5" x2="55.5" y2="712.0" stroke="#f1f1f1" stroke-width="1"/>
<line x1="155.5" y1="523.5" x2="155.5" y2="712.0" stroke="#f1f1f1" stroke-width="1"/>
<line x1="255.5" y1="523.5" x2="255.5" y2="712.0" stroke="#f1f1f1" stroke-width="1"/>
<line x1="355.5" y1="523.5" x2="355.5" y2="712.0" stroke="#f1f1f1" stroke-width="1"/>
<line x1="19.5" y1="646.7" x2="400.0" y2="646.7" stroke="#f1f1f1" stroke-width="1"/>
<line x1="19.5" y1="546.4" x2="400.0" y2="546.4" stroke="#f1f1f1" stroke-width="1"/>
<clipPath id="clip-c"><path d="M23.0,599.3L25.0,598.1L27.0,596.0L30.0,594.3L33.5,593.5L37.0,594.5L39.5,591.5L43.5,591.5L46.5,590.0L49.0,588.5L54.5,586.5L56.5,585.5L57.0,582.0L59.5,580.5L58.0,576.0L57.5,572.5L55.5,571.5L64.0,570.0L68.0,570.5L67.0,568.0L69.5,564.0L70.5,560.4L75.5,561.4L80.5,561.4L83.5,560.4L83.5,555.4L86.5,553.9L89.5,551.9L92.0,550.6L95.0,551.4L94.5,553.4L98.5,554.9L103.0,556.9L107.0,557.9L110.0,561.9L110.5,566.0L109.0,569.0L112.0,571.0L119.5,571.5L123.0,571.7L129.0,574.5L132.5,575.5L135.0,580.0L137.5,583.0L141.5,582.5L153.0,583.8L159.5,583.3L164.5,584.0L172.0,587.0L178.0,588.0L181.5,588.5L189.5,585.0L196.5,584.3L203.0,584.3L207.5,582.5L211.0,579.5L215.0,578.0L213.5,575.0L215.0,571.0L219.0,571.5L223.5,572.7L228.0,569.5L232.5,569.5L236.0,567.5L239.0,564.5L242.5,563.5L247.0,562.4L250.5,562.9L255.0,562.9L254.0,560.4L249.5,557.4L245.5,556.4L242.5,557.9L238.0,556.9L234.5,557.4L233.5,555.4L236.5,550.9L239.0,547.2L244.5,548.9L248.5,546.9L251.5,544.9L252.0,541.9L255.5,538.4L259.5,535.4L258.0,533.4L260.0,530.4L267.0,529.1L273.5,528.6L279.5,530.4L283.5,531.4L286.0,534.4L288.0,537.4L292.0,542.4L293.5,547.4L298.5,548.4L303.0,549.4L308.5,551.9L309.5,554.9L308.5,556.9L313.0,557.9L318.5,557.9L322.5,555.9L328.5,554.9L331.0,554.4L329.0,557.9L326.5,559.9L325.0,564.5L323.0,568.5L321.0,570.5L315.0,570.0L310.5,572.0L311.5,576.5L312.0,579.5L310.5,582.0L308.5,584.5L306.5,582.5L303.5,584.5L300.5,586.5L296.0,587.0L297.0,589.0L292.0,589.0L288.5,588.0L285.5,592.0L280.5,594.5L277.0,597.1L272.0,598.1L266.5,600.6L262.0,602.6L263.5,600.1L263.0,598.6L265.5,596.6L266.5,594.0L263.0,592.0L259.5,594.0L254.5,597.1L250.5,600.6L245.5,601.1L244.0,603.6L246.5,606.6L250.5,610.6L254.5,610.1L257.0,608.6L261.5,608.6L268.0,609.6L267.0,612.1L260.5,614.1L257.5,616.1L252.5,620.6L251.5,623.6L257.0,625.1L259.5,632.2L262.5,635.2L265.0,638.2L265.0,642.2L260.5,644.2L263.0,646.7L265.5,647.2L263.0,653.7L261.0,656.2L258.5,659.2L256.5,662.7L253.5,665.8L253.0,669.8L250.0,672.3L246.0,674.3L243.5,677.3L239.0,680.3L235.5,682.3L231.0,683.3L226.5,685.3L223.0,685.8L220.5,687.3L215.5,688.3L210.5,689.8L207.5,690.8L206.5,695.3L205.0,694.8L204.0,691.8L204.0,689.3L201.0,689.3L198.0,688.3L195.5,689.1L192.5,688.3L189.0,686.8L189.0,682.8L185.5,682.3L182.5,680.3L179.5,681.3L176.5,683.3L173.0,683.3L170.0,684.8L166.5,684.8L164.0,684.3L163.5,688.8L161.5,689.8L158.0,689.3L155.5,688.3L153.0,686.3L152.0,683.8L153.0,681.8L150.0,680.8L149.0,677.3L146.5,676.3L144.0,677.3L143.0,674.8L143.5,671.8L146.5,669.8L148.5,667.3L149.0,663.2L149.0,659.2L147.0,657.2L145.5,655.7L142.5,655.2L140.0,657.7L136.5,660.2L132.0,662.7L127.5,662.2L122.5,662.7L117.5,662.2L115.5,660.2L114.0,657.7L108.5,656.7L105.0,655.2L101.5,657.7L99.5,660.2L98.5,656.2L96.0,657.2L90.5,657.2L85.5,657.2L81.5,655.2L76.5,653.7L71.5,650.7L66.5,646.7L62.0,645.7L60.5,645.7L56.5,643.2L52.0,641.7L49.5,639.2L49.0,635.7L47.5,633.7L52.0,633.7L53.0,630.7L50.5,627.1L49.0,625.1L46.0,621.6L45.5,619.1L40.5,618.6L36.5,617.1L33.5,614.1L31.5,612.1L28.0,611.1L30.0,608.6L29.5,604.6L25.5,603.6L24.5,601.6L23.0,599.3ZM260.5,671.3L263.5,670.3L265.5,671.8L263.5,676.8L262.5,681.3L260.0,685.3L259.0,687.3L256.5,683.8L256.0,681.3L256.5,677.8L259.0,673.8ZM198.5,700.9L201.5,704.9L203.5,705.9L208.0,703.4L210.5,698.9L208.5,696.3L205.5,696.3L202.0,697.4L199.0,698.9Z"/></clipPath>
<clipPath id="fclip-c"><rect x="19.5" y="523.5" width="380.5" height="188.5"/></clipPath>
<g clip-path="url(#fclip-c)">
<g clip-path="url(#clip-c)">
<filter id="f28" x="19.5" y="523.5" width="380.5" height="188.5" filterUnits="userSpaceOnUse" color-interpolation-filters="sRGB"><feGaussianBlur in="SourceAlpha" stdDeviation="2.5" result="b"/><feTurbulence type="fractalNoise" baseFrequency="0.32" numOctaves="2" seed="80" result="n"/><feComponentTransfer in="n" result="u"><feFuncA type="table" tableValues="0.000 0.000 0.000 0.000 0.003 0.014 0.048 0.110 0.207 0.331 0.494 0.673 0.802 0.889 0.951 0.984 0.996 0.999 1.000 1.000 1.000"/></feComponentTransfer><feColorMatrix in="u" type="matrix" values="0 0 0 0 0 0 0 0 0 0 0 0 0 0 0 0 0 0 1 0" result="ua"/><feComponentTransfer in="b" result="bm"><feFuncA type="linear" slope="25" intercept="0"/></feComponentTransfer><feComposite in="b" in2="ua" operator="arithmetic" k2="8" k3="-8" k4="0.5" result="m0"/><feComposite in="m0" in2="bm" operator="in" result="m"/><feFlood flood-color="#a2c4f0"/><feComposite in2="m" operator="in"/><feGaussianBlur stdDeviation="0.6"/></filter>
<g filter="url(#f28)">
<ellipse cx="73.0" cy="569.0" rx="8.6" ry="5.8" transform="rotate(0 73.0 569.0)" fill-opacity="0.141"/>
<ellipse cx="68.0" cy="579.0" rx="14.4" ry="5.2" transform="rotate(0 68.0 579.0)" fill-opacity="0.141"/>
<ellipse cx="88.0" cy="570.0" rx="14.4" ry="5.8" transform="rotate(0 88.0 570.0)" fill-opacity="0.063"/>
<ellipse cx="63.0" cy="590.5" rx="20.1" ry="4.0" transform="rotate(10 63.0 590.5)" fill-opacity="0.049"/>
<ellipse cx="48.0" cy="609.1" rx="17.2" ry="5.2" transform="rotate(-25 48.0 609.1)" fill-opacity="0.079"/>
<ellipse cx="33.0" cy="602.6" rx="8.6" ry="6.9" transform="rotate(0 33.0 602.6)" fill-opacity="0.087"/>
<ellipse cx="63.0" cy="634.2" rx="14.9" ry="15.6" transform="rotate(0 63.0 634.2)" fill-opacity="0.283"/>
<ellipse cx="85.5" cy="624.1" rx="20.1" ry="8.7" transform="rotate(0 85.5 624.1)" fill-opacity="0.124"/>
<ellipse cx="110.5" cy="624.1" rx="17.2" ry="8.7" transform="rotate(0 110.5 624.1)" fill-opacity="0.617"/>
<ellipse cx="85.5" cy="644.2" rx="20.1" ry="8.7" transform="rotate(-15 85.5 644.2)" fill-opacity="0.512"/>
<ellipse cx="113.0" cy="649.2" rx="14.4" ry="8.7" transform="rotate(0 113.0 649.2)" fill-opacity="0.648"/>
<ellipse cx="135.5" cy="644.2" rx="14.4" ry="14.4" transform="rotate(0 135.5 644.2)" fill-opacity="0.649"/>
<ellipse cx="158.0" cy="646.7" rx="11.5" ry="14.4" transform="rotate(0 158.0 646.7)" fill-opacity="0.651"/>
<ellipse cx="220.5" cy="584.0" rx="20.1" ry="8.7" transform="rotate(20 220.5 584.0)" fill-opacity="0.493"/>
<ellipse cx="250.5" cy="576.5" rx="17.2" ry="11.5" transform="rotate(30 250.5 576.5)" fill-opacity="0.408"/>
<ellipse cx="245.5" cy="553.9" rx="10.3" ry="8.7" transform="rotate(0 245.5 553.9)" fill-opacity="0.176"/>
<ellipse cx="270.5" cy="541.4" rx="14.4" ry="12.7" transform="rotate(0 270.5 541.4)" fill-opacity="0.61"/>
<ellipse cx="293.0" cy="551.4" rx="10.3" ry="8.7" transform="rotate(0 293.0 551.4)" fill-opacity="0.299"/>
<ellipse cx="278.0" cy="566.5" rx="11.5" ry="11.5" transform="rotate(0 278.0 566.5)" fill-opacity="0.062"/>
<ellipse cx="205.5" cy="649.2" rx="11.5" ry="14.4" transform="rotate(0 205.5 649.2)" fill-opacity="0.213"/>
<ellipse cx="228.0" cy="659.2" rx="14.4" ry="14.4" transform="rotate(0 228.0 659.2)" fill-opacity="0.213"/>
<ellipse cx="249.5" cy="661.7" rx="10.3" ry="17.3" transform="rotate(35 249.5 661.7)" fill-opacity="0.189"/>
<ellipse cx="189.5" cy="662.7" rx="11.5" ry="9.2" transform="rotate(0 189.5 662.7)" fill-opacity="0.233"/>
<ellipse cx="160.5" cy="664.3" rx="11.5" ry="11.5" transform="rotate(0 160.5 664.3)" fill-opacity="0.734"/>
<ellipse cx="163.0" cy="680.8" rx="14.4" ry="9.2" transform="rotate(0 163.0 680.8)" fill-opacity="0.64"/>
<ellipse cx="198.0" cy="677.8" rx="14.4" ry="8.7" transform="rotate(0 198.0 677.8)" fill-opacity="0.197"/>
<ellipse cx="227.0" cy="574.0" rx="37.5" ry="5.0" transform="rotate(-20.0 227.0 574.0)" fill-opacity="0.493"/>
</g>
<filter id="f29" x="19.5" y="523.5" width="380.5" height="188.5" filterUnits="userSpaceOnUse" color-interpolation-filters="sRGB"><feGaussianBlur in="SourceAlpha" stdDeviation="2.5" result="b"/><feTurbulence type="fractalNoise" baseFrequency="0.32" numOctaves="2" seed="87" result="n"/><feComponentTransfer in="n" result="u"><feFuncA type="table" tableValues="0.000 0.000 0.000 0.000 0.003 0.014 0.048 0.110 0.207 0.331 0.494 0.673 0.802 0.889 0.951 0.984 0.996 0.999 1.000 1.000 1.000"/></feComponentTransfer><feColorMatrix in="u" type="matrix" values="0 0 0 0 0 0 0 0 0 0 0 0 0 0 0 0 0 0 1 0" result="ua"/><feComponentTransfer in="b" result="bm"><feFuncA type="linear" slope="25" intercept="0"/></feComponentTransfer><feComposite in="b" in2="ua" operator="arithmetic" k2="8" k3="-8" k4="0.5" result="m0"/><feComposite in="m0" in2="bm" operator="in" result="m"/><feFlood flood-color="#f3909a"/><feComposite in2="m" operator="in"/><feGaussianBlur stdDeviation="0.6"/></filter>
<g filter="url(#f29)">
<ellipse cx="93.0" cy="561.4" rx="10.3" ry="6.9" transform="rotate(-30 93.0 561.4)" fill-opacity="0.164"/>
<ellipse cx="73.0" cy="569.0" rx="8.6" ry="5.8" transform="rotate(0 73.0 569.0)" fill-opacity="0.184"/>
<ellipse cx="68.0" cy="579.0" rx="14.4" ry="5.2" transform="rotate(0 68.0 579.0)" fill-opacity="0.184"/>
<ellipse cx="90.5" cy="580.0" rx="14.4" ry="4.0" transform="rotate(0 90.5 580.0)" fill-opacity="0.144"/>
<ellipse cx="115.5" cy="581.5" rx="14.4" ry="5.2" transform="rotate(0 115.5 581.5)" fill-opacity="0.059"/>
<ellipse cx="88.0" cy="570.0" rx="14.4" ry="5.8" transform="rotate(0 88.0 570.0)" fill-opacity="0.059"/>
<ellipse cx="63.0" cy="590.5" rx="20.1" ry="4.0" transform="rotate(10 63.0 590.5)" fill-opacity="0.075"/>
<ellipse cx="73.0" cy="601.6" rx="34.5" ry="9.2" transform="rotate(0 73.0 601.6)" fill-opacity="0.014"/>
<ellipse cx="48.0" cy="609.1" rx="17.2" ry="5.2" transform="rotate(-25 48.0 609.1)" fill-opacity="0.137"/>
<ellipse cx="83.0" cy="612.6" rx="20.1" ry="3.5" transform="rotate(0 83.0 612.6)" fill-opacity="0.08"/>
<ellipse cx="33.0" cy="602.6" rx="8.6" ry="6.9" transform="rotate(0 33.0 602.6)" fill-opacity="0.122"/>
<ellipse cx="63.0" cy="634.2" rx="14.9" ry="15.6" transform="rotate(0 63.0 634.2)" fill-opacity="0.191"/>
<ellipse cx="85.5" cy="624.1" rx="20.1" ry="8.7" transform="rotate(0 85.5 624.1)" fill-opacity="0.171"/>
<ellipse cx="110.5" cy="624.1" rx="17.2" ry="8.7" transform="rotate(0 110.5 624.1)" fill-opacity="0.536"/>
<ellipse cx="85.5" cy="644.2" rx="20.1" ry="8.7" transform="rotate(-15 85.5 644.2)" fill-opacity="0.339"/>
<ellipse cx="113.0" cy="649.2" rx="14.4" ry="8.7" transform="rotate(0 113.0 649.2)" fill-opacity="0.493"/>
<ellipse cx="135.5" cy="644.2" rx="14.4" ry="14.4" transform="rotate(0 135.5 644.2)" fill-opacity="0.438"/>
<ellipse cx="125.5" cy="610.1" rx="17.2" ry="6.9" transform="rotate(0 125.5 610.1)" fill-opacity="0.198"/>
<ellipse cx="133.0" cy="626.6" rx="20.1" ry="9.2" transform="rotate(0 133.0 626.6)" fill-opacity="0.748"/>
<ellipse cx="155.5" cy="609.1" rx="17.2" ry="8.7" transform="rotate(20 155.5 609.1)" fill-opacity="0.655"/>
<ellipse cx="165.5" cy="629.1" rx="10.3" ry="10.4" transform="rotate(0 165.5 629.1)" fill-opacity="0.648"/>
<ellipse cx="158.0" cy="646.7" rx="11.5" ry="14.4" transform="rotate(0 158.0 646.7)" fill-opacity="0.394"/>
<ellipse cx="155.5" cy="594.0" rx="23.0" ry="6.9" transform="rotate(20 155.5 594.0)" fill-opacity="0.043"/>
<ellipse cx="185.5" cy="611.6" rx="11.5" ry="11.5" transform="rotate(0 185.5 611.6)" fill-opacity="0.655"/>
<ellipse cx="208.0" cy="609.1" rx="11.5" ry="14.4" transform="rotate(0 208.0 609.1)" fill-opacity="0.648"/>
<ellipse cx="200.5" cy="596.6" rx="14.4" ry="6.9" transform="rotate(0 200.5 596.6)" fill-opacity="0.352"/>
<ellipse cx="245.5" cy="553.9" rx="10.3" ry="8.7" transform="rotate(0 245.5 553.9)" fill-opacity="0.248"/>
<ellipse cx="270.5" cy="541.4" rx="14.4" ry="12.7" transform="rotate(0 270.5 541.4)" fill-opacity="0.433"/>
<ellipse cx="278.0" cy="566.5" rx="11.5" ry="11.5" transform="rotate(0 278.0 566.5)" fill-opacity="0.085"/>
<ellipse cx="300.5" cy="559.4" rx="10.9" ry="8.1" transform="rotate(0 300.5 559.4)" fill-opacity="0.393"/>
<ellipse cx="294.5" cy="581.5" rx="13.2" ry="9.2" transform="rotate(40 294.5 581.5)" fill-opacity="0.49"/>
<ellipse cx="265.5" cy="591.5" rx="14.4" ry="7.5" transform="rotate(20 265.5 591.5)" fill-opacity="0.283"/>
<ellipse cx="235.5" cy="594.0" rx="11.5" ry="5.8" transform="rotate(20 235.5 594.0)" fill-opacity="0.211"/>
<ellipse cx="235.5" cy="616.6" rx="14.4" ry="17.3" transform="rotate(0 235.5 616.6)" fill-opacity="0.089"/>
<ellipse cx="250.5" cy="615.1" rx="10.3" ry="6.3" transform="rotate(0 250.5 615.1)" fill-opacity="0.071"/>
<ellipse cx="193.0" cy="627.6" rx="17.2" ry="4.6" transform="rotate(0 193.0 627.6)" fill-opacity="0.49"/>
<ellipse cx="183.0" cy="646.7" rx="11.5" ry="11.5" transform="rotate(30 183.0 646.7)" fill-opacity="0.057"/>
<ellipse cx="205.5" cy="649.2" rx="11.5" ry="14.4" transform="rotate(0 205.5 649.2)" fill-opacity="0.39"/>
<ellipse cx="245.5" cy="636.7" rx="11.5" ry="11.5" transform="rotate(0 245.5 636.7)" fill-opacity="0.12"/>
<ellipse cx="228.0" cy="659.2" rx="14.4" ry="14.4" transform="rotate(0 228.0 659.2)" fill-opacity="0.39"/>
<ellipse cx="249.5" cy="661.7" rx="10.3" ry="17.3" transform="rotate(35 249.5 661.7)" fill-opacity="0.312"/>
<ellipse cx="189.5" cy="662.7" rx="11.5" ry="9.2" transform="rotate(0 189.5 662.7)" fill-opacity="0.412"/>
<ellipse cx="160.5" cy="664.3" rx="11.5" ry="11.5" transform="rotate(0 160.5 664.3)" fill-opacity="0.329"/>
<ellipse cx="163.0" cy="680.8" rx="14.4" ry="9.2" transform="rotate(0 163.0 680.8)" fill-opacity="0.339"/>
<ellipse cx="198.0" cy="677.8" rx="14.4" ry="8.7" transform="rotate(0 198.0 677.8)" fill-opacity="0.371"/>
<ellipse cx="223.0" cy="679.3" rx="14.4" ry="7.5" transform="rotate(0 223.0 679.3)" fill-opacity="0.345"/>
<ellipse cx="204.0" cy="700.9" rx="5.8" ry="4.6" transform="rotate(0 204.0 700.9)" fill-opacity="0.264"/>
<ellipse cx="260.5" cy="678.3" rx="3.4" ry="8.7" transform="rotate(15 260.5 678.3)" fill-opacity="0.648"/>
<ellipse cx="260.5" cy="558.9" rx="8.6" ry="10.4" transform="rotate(0 260.5 558.9)" fill-opacity="0.176"/>
</g>
<filter id="f30" x="19.5" y="523.5" width="380.5" height="188.5" filterUnits="userSpaceOnUse" color-interpolation-filters="sRGB"><feGaussianBlur in="SourceAlpha" stdDeviation="2.5" result="b"/><feTurbulence type="fractalNoise" baseFrequency="0.32" numOctaves="2" seed="73" result="n"/><feComponentTransfer in="n" result="u"><feFuncA type="table" tableValues="0.000 0.000 0.000 0.000 0.003 0.014 0.048 0.110 0.207 0.331 0.494 0.673 0.802 0.889 0.951 0.984 0.996 0.999 1.000 1.000 1.000"/></feComponentTransfer><feColorMatrix in="u" type="matrix" values="0 0 0 0 0 0 0 0 0 0 0 0 0 0 0 0 0 0 1 0" result="ua"/><feComponentTransfer in="b" result="bm"><feFuncA type="linear" slope="25" intercept="0"/></feComponentTransfer><feComposite in="b" in2="ua" operator="arithmetic" k2="8" k3="-8" k4="0.5" result="m0"/><feComposite in="m0" in2="bm" operator="in" result="m"/><feFlood flood-color="#3f84de"/><feComposite in2="m" operator="in"/><feGaussianBlur stdDeviation="0.6"/></filter>
<g filter="url(#f30)">
<ellipse cx="73.0" cy="569.0" rx="8.6" ry="5.8" transform="rotate(0 73.0 569.0)" fill-opacity="0.257"/>
<ellipse cx="68.0" cy="579.0" rx="14.4" ry="5.2" transform="rotate(0 68.0 579.0)" fill-opacity="0.257"/>
<ellipse cx="90.5" cy="580.0" rx="14.4" ry="4.0" transform="rotate(0 90.5 580.0)" fill-opacity="0.083"/>
<ellipse cx="63.0" cy="634.2" rx="14.9" ry="15.6" transform="rotate(0 63.0 634.2)" fill-opacity="0.186"/>
<ellipse cx="85.5" cy="624.1" rx="20.1" ry="8.7" transform="rotate(0 85.5 624.1)" fill-opacity="0.064"/>
<ellipse cx="110.5" cy="624.1" rx="17.2" ry="8.7" transform="rotate(0 110.5 624.1)" fill-opacity="0.392"/>
<ellipse cx="85.5" cy="644.2" rx="20.1" ry="8.7" transform="rotate(-15 85.5 644.2)" fill-opacity="0.361"/>
<ellipse cx="113.0" cy="649.2" rx="14.4" ry="8.7" transform="rotate(0 113.0 649.2)" fill-opacity="0.33"/>
<ellipse cx="135.5" cy="644.2" rx="14.4" ry="14.4" transform="rotate(0 135.5 644.2)" fill-opacity="0.422"/>
<ellipse cx="125.5" cy="610.1" rx="17.2" ry="6.9" transform="rotate(0 125.5 610.1)" fill-opacity="0.09"/>
<ellipse cx="133.0" cy="626.6" rx="20.1" ry="9.2" transform="rotate(0 133.0 626.6)" fill-opacity="0.374"/>
<ellipse cx="155.5" cy="609.1" rx="17.2" ry="8.7" transform="rotate(20 155.5 609.1)" fill-opacity="0.247"/>
<ellipse cx="165.5" cy="629.1" rx="10.3" ry="10.4" transform="rotate(0 165.5 629.1)" fill-opacity="0.393"/>
<ellipse cx="158.0" cy="646.7" rx="11.5" ry="14.4" transform="rotate(0 158.0 646.7)" fill-opacity="0.397"/>
<ellipse cx="208.0" cy="609.1" rx="11.5" ry="14.4" transform="rotate(0 208.0 609.1)" fill-opacity="0.245"/>
<ellipse cx="200.5" cy="596.6" rx="14.4" ry="6.9" transform="rotate(0 200.5 596.6)" fill-opacity="0.15"/>
<ellipse cx="220.5" cy="584.0" rx="20.1" ry="8.7" transform="rotate(20 220.5 584.0)" fill-opacity="0.535"/>
<ellipse cx="250.5" cy="576.5" rx="17.2" ry="11.5" transform="rotate(30 250.5 576.5)" fill-opacity="0.543"/>
<ellipse cx="270.5" cy="541.4" rx="14.4" ry="12.7" transform="rotate(0 270.5 541.4)" fill-opacity="0.464"/>
<ellipse cx="293.0" cy="551.4" rx="10.3" ry="8.7" transform="rotate(0 293.0 551.4)" fill-opacity="0.428"/>
<ellipse cx="300.5" cy="559.4" rx="10.9" ry="8.1" transform="rotate(0 300.5 559.4)" fill-opacity="0.282"/>
<ellipse cx="294.5" cy="581.5" rx="13.2" ry="9.2" transform="rotate(40 294.5 581.5)" fill-opacity="0.329"/>
<ellipse cx="265.5" cy="591.5" rx="14.4" ry="7.5" transform="rotate(20 265.5 591.5)" fill-opacity="0.159"/>
<ellipse cx="235.5" cy="594.0" rx="11.5" ry="5.8" transform="rotate(20 235.5 594.0)" fill-opacity="0.144"/>
<ellipse cx="193.0" cy="627.6" rx="17.2" ry="4.6" transform="rotate(0 193.0 627.6)" fill-opacity="0.197"/>
<ellipse cx="205.5" cy="649.2" rx="11.5" ry="14.4" transform="rotate(0 205.5 649.2)" fill-opacity="0.238"/>
<ellipse cx="228.0" cy="659.2" rx="14.4" ry="14.4" transform="rotate(0 228.0 659.2)" fill-opacity="0.238"/>
<ellipse cx="249.5" cy="661.7" rx="10.3" ry="17.3" transform="rotate(35 249.5 661.7)" fill-opacity="0.238"/>
<ellipse cx="189.5" cy="662.7" rx="11.5" ry="9.2" transform="rotate(0 189.5 662.7)" fill-opacity="0.248"/>
<ellipse cx="160.5" cy="664.3" rx="11.5" ry="11.5" transform="rotate(0 160.5 664.3)" fill-opacity="0.451"/>
<ellipse cx="163.0" cy="680.8" rx="14.4" ry="9.2" transform="rotate(0 163.0 680.8)" fill-opacity="0.361"/>
<ellipse cx="198.0" cy="677.8" rx="14.4" ry="8.7" transform="rotate(0 198.0 677.8)" fill-opacity="0.229"/>
<ellipse cx="223.0" cy="679.3" rx="14.4" ry="7.5" transform="rotate(0 223.0 679.3)" fill-opacity="0.217"/>
<ellipse cx="204.0" cy="700.9" rx="5.8" ry="4.6" transform="rotate(0 204.0 700.9)" fill-opacity="0.099"/>
<ellipse cx="320.5" cy="558.9" rx="8.6" ry="4.6" transform="rotate(0 320.5 558.9)" fill-opacity="0.132"/>
<ellipse cx="260.5" cy="558.9" rx="8.6" ry="10.4" transform="rotate(0 260.5 558.9)" fill-opacity="0.18"/>
<ellipse cx="227.0" cy="574.0" rx="37.5" ry="5.0" transform="rotate(-20.0 227.0 574.0)" fill-opacity="0.535"/>
</g>
<filter id="f31" x="19.5" y="523.5" width="380.5" height="188.5" filterUnits="userSpaceOnUse" color-interpolation-filters="sRGB"><feGaussianBlur in="SourceAlpha" stdDeviation="2.5" result="b"/><feTurbulence type="fractalNoise" baseFrequency="0.32" numOctaves="2" seed="94" result="n"/><feComponentTransfer in="n" result="u"><feFuncA type="table" tableValues="0.000 0.000 0.000 0.000 0.003 0.014 0.048 0.110 0.207 0.331 0.494 0.673 0.802 0.889 0.951 0.984 0.996 0.999 1.000 1.000 1.000"/></feComponentTransfer><feColorMatrix in="u" type="matrix" values="0 0 0 0 0 0 0 0 0 0 0 0 0 0 0 0 0 0 1 0" result="ua"/><feComponentTransfer in="b" result="bm"><feFuncA type="linear" slope="25" intercept="0"/></feComponentTransfer><feComposite in="b" in2="ua" operator="arithmetic" k2="8" k3="-8" k4="0.5" result="m0"/><feComposite in="m0" in2="bm" operator="in" result="m"/><feFlood flood-color="#e03c4a"/><feComposite in2="m" operator="in"/><feGaussianBlur stdDeviation="0.6"/></filter>
<g filter="url(#f31)">
<ellipse cx="93.0" cy="561.4" rx="10.3" ry="6.9" transform="rotate(-30 93.0 561.4)" fill-opacity="0.397"/>
<ellipse cx="73.0" cy="569.0" rx="8.6" ry="5.8" transform="rotate(0 73.0 569.0)" fill-opacity="0.17"/>
<ellipse cx="68.0" cy="579.0" rx="14.4" ry="5.2" transform="rotate(0 68.0 579.0)" fill-opacity="0.17"/>
<ellipse cx="90.5" cy="580.0" rx="14.4" ry="4.0" transform="rotate(0 90.5 580.0)" fill-opacity="0.142"/>
<ellipse cx="115.5" cy="581.5" rx="14.4" ry="5.2" transform="rotate(0 115.5 581.5)" fill-opacity="0.043"/>
<ellipse cx="88.0" cy="570.0" rx="14.4" ry="5.8" transform="rotate(0 88.0 570.0)" fill-opacity="0.043"/>
<ellipse cx="63.0" cy="590.5" rx="20.1" ry="4.0" transform="rotate(10 63.0 590.5)" fill-opacity="0.057"/>
<ellipse cx="48.0" cy="609.1" rx="17.2" ry="5.2" transform="rotate(-25 48.0 609.1)" fill-opacity="0.17"/>
<ellipse cx="83.0" cy="612.6" rx="20.1" ry="3.5" transform="rotate(0 83.0 612.6)" fill-opacity="0.114"/>
<ellipse cx="33.0" cy="602.6" rx="8.6" ry="6.9" transform="rotate(0 33.0 602.6)" fill-opacity="0.071"/>
<ellipse cx="62.5" cy="613.1" rx="32.5" ry="1.8" transform="rotate(6.0 62.5 613.1)" fill-opacity="0.812"/>
<ellipse cx="63.0" cy="634.2" rx="14.9" ry="15.6" transform="rotate(0 63.0 634.2)" fill-opacity="0.085"/>
<ellipse cx="85.5" cy="624.1" rx="20.1" ry="8.7" transform="rotate(0 85.5 624.1)" fill-opacity="0.114"/>
<ellipse cx="110.5" cy="624.1" rx="17.2" ry="8.7" transform="rotate(0 110.5 624.1)" fill-opacity="0.352"/>
<ellipse cx="85.5" cy="644.2" rx="20.1" ry="8.7" transform="rotate(-15 85.5 644.2)" fill-opacity="0.213"/>
<ellipse cx="113.0" cy="649.2" rx="14.4" ry="8.7" transform="rotate(0 113.0 649.2)" fill-opacity="0.355"/>
<ellipse cx="135.5" cy="644.2" rx="14.4" ry="14.4" transform="rotate(0 135.5 644.2)" fill-opacity="0.345"/>
<ellipse cx="125.5" cy="610.1" rx="17.2" ry="6.9" transform="rotate(0 125.5 610.1)" fill-opacity="0.213"/>
<ellipse cx="133.0" cy="626.6" rx="20.1" ry="9.2" transform="rotate(0 133.0 626.6)" fill-opacity="0.484"/>
<ellipse cx="155.5" cy="609.1" rx="17.2" ry="8.7" transform="rotate(20 155.5 609.1)" fill-opacity="0.597"/>
<ellipse cx="165.5" cy="629.1" rx="10.3" ry="10.4" transform="rotate(0 165.5 629.1)" fill-opacity="0.541"/>
<ellipse cx="158.0" cy="646.7" rx="11.5" ry="14.4" transform="rotate(0 158.0 646.7)" fill-opacity="0.284"/>
<ellipse cx="185.5" cy="611.6" rx="11.5" ry="11.5" transform="rotate(0 185.5 611.6)" fill-opacity="0.663"/>
<ellipse cx="208.0" cy="609.1" rx="11.5" ry="14.4" transform="rotate(0 208.0 609.1)" fill-opacity="0.595"/>
<ellipse cx="200.5" cy="596.6" rx="14.4" ry="6.9" transform="rotate(0 200.5 596.6)" fill-opacity="0.428"/>
<ellipse cx="220.5" cy="584.0" rx="20.1" ry="8.7" transform="rotate(20 220.5 584.0)" fill-opacity="0.071"/>
<ellipse cx="250.5" cy="576.5" rx="17.2" ry="11.5" transform="rotate(30 250.5 576.5)" fill-opacity="0.085"/>
<ellipse cx="245.5" cy="553.9" rx="10.3" ry="8.7" transform="rotate(0 245.5 553.9)" fill-opacity="0.142"/>
<ellipse cx="270.5" cy="541.4" rx="14.4" ry="12.7" transform="rotate(0 270.5 541.4)" fill-opacity="0.367"/>
<ellipse cx="293.0" cy="551.4" rx="10.3" ry="8.7" transform="rotate(0 293.0 551.4)" fill-opacity="0.17"/>
<ellipse cx="300.5" cy="559.4" rx="10.9" ry="8.1" transform="rotate(0 300.5 559.4)" fill-opacity="0.414"/>
<ellipse cx="294.5" cy="581.5" rx="13.2" ry="9.2" transform="rotate(40 294.5 581.5)" fill-opacity="0.497"/>
<ellipse cx="265.5" cy="591.5" rx="14.4" ry="7.5" transform="rotate(20 265.5 591.5)" fill-opacity="0.284"/>
<ellipse cx="235.5" cy="594.0" rx="11.5" ry="5.8" transform="rotate(20 235.5 594.0)" fill-opacity="0.213"/>
<ellipse cx="235.5" cy="616.6" rx="14.4" ry="17.3" transform="rotate(0 235.5 616.6)" fill-opacity="0.043"/>
<ellipse cx="193.0" cy="627.6" rx="17.2" ry="4.6" transform="rotate(0 193.0 627.6)" fill-opacity="0.541"/>
<ellipse cx="205.5" cy="649.2" rx="11.5" ry="14.4" transform="rotate(0 205.5 649.2)" fill-opacity="0.284"/>
<ellipse cx="245.5" cy="636.7" rx="11.5" ry="11.5" transform="rotate(0 245.5 636.7)" fill-opacity="0.057"/>
<ellipse cx="228.0" cy="659.2" rx="14.4" ry="14.4" transform="rotate(0 228.0 659.2)" fill-opacity="0.284"/>
<ellipse cx="249.5" cy="661.7" rx="10.3" ry="17.3" transform="rotate(35 249.5 661.7)" fill-opacity="0.284"/>
<ellipse cx="189.5" cy="662.7" rx="11.5" ry="9.2" transform="rotate(0 189.5 662.7)" fill-opacity="0.312"/>
<ellipse cx="160.5" cy="664.3" rx="11.5" ry="11.5" transform="rotate(0 160.5 664.3)" fill-opacity="0.213"/>
<ellipse cx="163.0" cy="680.8" rx="14.4" ry="9.2" transform="rotate(0 163.0 680.8)" fill-opacity="0.213"/>
<ellipse cx="198.0" cy="677.8" rx="14.4" ry="8.7" transform="rotate(0 198.0 677.8)" fill-opacity="0.256"/>
<ellipse cx="223.0" cy="679.3" rx="14.4" ry="7.5" transform="rotate(0 223.0 679.3)" fill-opacity="0.213"/>
<ellipse cx="204.0" cy="700.9" rx="5.8" ry="4.6" transform="rotate(0 204.0 700.9)" fill-opacity="0.284"/>
<ellipse cx="260.5" cy="678.3" rx="3.4" ry="8.7" transform="rotate(15 260.5 678.3)" fill-opacity="0.694"/>
<ellipse cx="320.5" cy="558.9" rx="8.6" ry="4.6" transform="rotate(0 320.5 558.9)" fill-opacity="0.142"/>
<ellipse cx="260.5" cy="558.9" rx="8.6" ry="10.4" transform="rotate(0 260.5 558.9)" fill-opacity="0.213"/>
</g>
<filter id="f32" x="19.5" y="523.5" width="380.5" height="188.5" filterUnits="userSpaceOnUse" color-interpolation-filters="sRGB"><feGaussianBlur in="SourceAlpha" stdDeviation="2.5" result="b"/><feTurbulence type="fractalNoise" baseFrequency="0.32" numOctaves="2" seed="66" result="n"/><feComponentTransfer in="n" result="u"><feFuncA type="table" tableValues="0.000 0.000 0.000 0.000 0.003 0.014 0.048 0.110 0.207 0.331 0.494 0.673 0.802 0.889 0.951 0.984 0.996 0.999 1.000 1.000 1.000"/></feComponentTransfer><feColorMatrix in="u" type="matrix" values="0 0 0 0 0 0 0 0 0 0 0 0 0 0 0 0 0 0 1 0" result="ua"/><feComponentTransfer in="b" result="bm"><feFuncA type="linear" slope="25" intercept="0"/></feComponentTransfer><feComposite in="b" in2="ua" operator="arithmetic" k2="8" k3="-8" k4="0.5" result="m0"/><feComposite in="m0" in2="bm" operator="in" result="m"/><feFlood flood-color="#1a52ac"/><feComposite in2="m" operator="in"/><feGaussianBlur stdDeviation="0.6"/></filter>
<g filter="url(#f32)">
<ellipse cx="227.0" cy="574.0" rx="37.5" ry="5.0" transform="rotate(-20.0 227.0 574.0)" fill-opacity="0.071"/>
</g>
<filter id="f33" x="19.5" y="523.5" width="380.5" height="188.5" filterUnits="userSpaceOnUse" color-interpolation-filters="sRGB"><feGaussianBlur in="SourceAlpha" stdDeviation="2.5" result="b"/><feTurbulence type="fractalNoise" baseFrequency="0.32" numOctaves="2" seed="101" result="n"/><feComponentTransfer in="n" result="u"><feFuncA type="table" tableValues="0.000 0.000 0.000 0.000 0.003 0.014 0.048 0.110 0.207 0.331 0.494 0.673 0.802 0.889 0.951 0.984 0.996 0.999 1.000 1.000 1.000"/></feComponentTransfer><feColorMatrix in="u" type="matrix" values="0 0 0 0 0 0 0 0 0 0 0 0 0 0 0 0 0 0 1 0" result="ua"/><feComponentTransfer in="b" result="bm"><feFuncA type="linear" slope="25" intercept="0"/></feComponentTransfer><feComposite in="b" in2="ua" operator="arithmetic" k2="8" k3="-8" k4="0.5" result="m0"/><feComposite in="m0" in2="bm" operator="in" result="m"/><feFlood flood-color="#ae1222"/><feComposite in2="m" operator="in"/><feGaussianBlur stdDeviation="0.6"/></filter>
<g filter="url(#f33)">
<ellipse cx="93.0" cy="561.4" rx="10.3" ry="6.9" transform="rotate(-30 93.0 561.4)" fill-opacity="0.284"/>
<ellipse cx="62.5" cy="613.1" rx="32.5" ry="1.8" transform="rotate(6.0 62.5 613.1)" fill-opacity="0.213"/>
<ellipse cx="135.5" cy="644.2" rx="14.4" ry="14.4" transform="rotate(0 135.5 644.2)" fill-opacity="0.065"/>
<ellipse cx="133.0" cy="626.6" rx="20.1" ry="9.2" transform="rotate(0 133.0 626.6)" fill-opacity="0.139"/>
<ellipse cx="155.5" cy="609.1" rx="17.2" ry="8.7" transform="rotate(20 155.5 609.1)" fill-opacity="0.332"/>
<ellipse cx="165.5" cy="629.1" rx="10.3" ry="10.4" transform="rotate(0 165.5 629.1)" fill-opacity="0.213"/>
<ellipse cx="185.5" cy="611.6" rx="11.5" ry="11.5" transform="rotate(0 185.5 611.6)" fill-opacity="0.399"/>
<ellipse cx="208.0" cy="609.1" rx="11.5" ry="14.4" transform="rotate(0 208.0 609.1)" fill-opacity="0.284"/>
<ellipse cx="200.5" cy="596.6" rx="14.4" ry="6.9" transform="rotate(0 200.5 596.6)" fill-opacity="0.17"/>
<ellipse cx="270.5" cy="541.4" rx="14.4" ry="12.7" transform="rotate(0 270.5 541.4)" fill-opacity="0.068"/>
<ellipse cx="300.5" cy="559.4" rx="10.9" ry="8.1" transform="rotate(0 300.5 559.4)" fill-opacity="0.142"/>
<ellipse cx="294.5" cy="581.5" rx="13.2" ry="9.2" transform="rotate(40 294.5 581.5)" fill-opacity="0.142"/>
<ellipse cx="193.0" cy="627.6" rx="17.2" ry="4.6" transform="rotate(0 193.0 627.6)" fill-opacity="0.213"/>
<ellipse cx="260.5" cy="678.3" rx="3.4" ry="8.7" transform="rotate(15 260.5 678.3)" fill-opacity="0.284"/>
</g>
</g>
<path d="M44.5,618.6L53.0,619.6L63.5,619.1L75.5,617.1L87.0,615.1L98.0,614.6L106.0,612.6L110.0,609.6L107.5,604.1L119.5,599.6L120.5,593.5L127.5,589.0L137.0,582.5M105.0,614.1L109.5,617.6L114.5,620.1L118.0,623.6L116.5,628.6L119.5,632.7L125.5,632.7L130.5,632.2L135.5,634.2L140.5,635.2L144.5,632.2M144.5,632.2L148.0,636.7L150.0,644.2L149.5,649.2L148.5,653.7L148.5,655.7M144.5,632.2L149.0,629.6L155.5,632.7L161.5,632.7L164.5,628.6L167.0,629.6M113.0,601.6L128.0,604.6L138.0,604.1L144.5,600.6L149.5,601.6L154.0,605.6L160.5,607.6L168.0,611.6L169.5,615.1L168.0,619.1L164.5,621.6L163.5,625.6L167.0,629.6M142.5,583.0L146.8,593.0L155.5,597.1L165.8,603.3L173.0,600.1L176.5,604.1L177.0,609.1M177.0,609.6L181.5,608.6L184.5,603.6L188.0,599.6L189.5,600.6L190.5,604.6L193.5,607.1L192.0,611.1L188.0,613.1L189.5,617.6L186.5,620.6L183.5,618.1L182.5,614.1L178.5,611.6L177.0,609.6M193.5,607.1L198.0,606.6L205.5,601.6L209.5,599.6L211.5,599.1L213.5,595.5L218.0,595.0L224.5,594.0L227.0,592.0L228.0,587.5L233.0,586.0L238.0,584.0L243.0,584.5L248.0,586.5L251.5,589.0L255.5,584.0L263.0,581.5L267.0,583.0L270.5,579.0L273.0,574.0L269.0,569.0L264.5,564.0L270.5,558.9L275.5,554.9L281.5,549.9L284.0,544.9L285.5,538.9L283.5,532.4M211.5,599.1L209.0,604.1L208.0,609.1L208.0,616.6L207.0,621.6L207.5,623.6M224.5,594.0L226.0,596.6L224.5,601.6L223.0,609.1L225.5,614.1L223.5,617.6L218.0,620.6L213.0,622.6L207.5,623.6M193.5,607.1L195.5,611.6L198.5,615.1L193.0,619.6L188.0,622.6L188.0,629.1L183.5,633.2M183.5,633.2L178.0,633.2L173.0,629.1L167.0,629.6M183.5,633.2L188.0,634.7L193.0,635.7L198.0,635.7L203.5,638.2L206.5,634.2L210.5,630.7L208.5,625.6L207.5,623.6M210.5,630.7L215.5,634.2L223.0,637.7L228.0,638.7L233.0,637.7L234.5,632.7L238.0,626.6L235.5,623.6L232.5,621.6L230.0,617.1L225.5,614.1M225.5,614.1L233.0,612.6L238.0,608.6L243.0,605.6L245.5,606.1M235.5,623.6L243.0,624.1L248.0,622.6L252.0,621.6M238.0,626.6L244.5,629.6L248.0,632.7L249.0,637.7L251.5,640.7L253.5,640.7L258.0,641.7L260.5,642.7M233.0,637.7L235.5,643.2L239.0,646.7L243.0,648.2L247.0,648.7L250.5,645.2L253.5,640.7M247.0,648.7L248.0,653.7L245.5,658.2L242.0,661.7L238.0,666.8L236.5,671.8L234.5,673.8M245.5,658.2L253.0,658.7L258.0,660.2M236.5,671.8L239.5,673.8L241.5,678.8M234.5,673.8L229.5,673.8L225.5,670.3L220.5,670.8L215.5,672.8M225.5,670.3L225.5,664.3L224.5,659.2L226.5,654.2L224.5,650.7L218.0,649.2L210.5,647.7L205.5,649.2L203.0,647.7M224.5,650.7L230.5,649.2L235.5,647.7L235.5,643.2M203.0,647.7L201.5,644.2L205.5,640.7L203.5,638.2M198.0,635.7L193.0,639.2L188.0,643.7L185.5,648.2L183.0,650.7L185.5,654.2L188.0,654.2L193.0,651.7L198.0,654.2L201.5,653.7L203.0,647.7M148.5,654.2L153.0,656.7L158.0,657.7L160.5,664.3L165.5,665.8L170.5,664.3L173.0,657.7L178.0,656.7L183.0,656.7L185.5,654.2M178.0,656.7L178.0,666.8L179.0,671.8L181.5,672.8L183.0,676.8L184.5,680.8M181.5,672.8L188.0,671.8L193.0,670.3L198.0,669.3L202.0,667.8L203.0,662.7L201.5,658.7L201.5,653.7M202.0,667.8L208.0,666.8L212.0,669.3L215.5,672.8L213.0,676.8L213.5,681.8L208.5,685.8L204.5,689.3M267.0,583.0L273.0,580.5L278.0,581.5L283.0,584.0L285.5,587.0L282.0,593.5M264.5,564.0L273.0,567.5L279.5,570.5L285.5,571.5L293.0,574.0L298.0,576.5L303.0,576.5L310.5,575.0M251.5,589.0L253.0,594.0L253.0,597.1" fill="none" stroke="#555" stroke-width="0.85" stroke-linejoin="round"/>
<path d="M23.0,599.3L25.0,598.1L27.0,596.0L30.0,594.3L33.5,593.5L37.0,594.5L39.5,591.5L43.5,591.5L46.5,590.0L49.0,588.5L54.5,586.5L56.5,585.5L57.0,582.0L59.5,580.5L58.0,576.0L57.5,572.5L55.5,571.5L64.0,570.0L68.0,570.5L67.0,568.0L69.5,564.0L70.5,560.4L75.5,561.4L80.5,561.4L83.5,560.4L83.5,555.4L86.5,553.9L89.5,551.9L92.0,550.6L95.0,551.4L94.5,553.4L98.5,554.9L103.0,556.9L107.0,557.9L110.0,561.9L110.5,566.0L109.0,569.0L112.0,571.0L119.5,571.5L123.0,571.7L129.0,574.5L132.5,575.5L135.0,580.0L137.5,583.0L141.5,582.5L153.0,583.8L159.5,583.3L164.5,584.0L172.0,587.0L178.0,588.0L181.5,588.5L189.5,585.0L196.5,584.3L203.0,584.3L207.5,582.5L211.0,579.5L215.0,578.0L213.5,575.0L215.0,571.0L219.0,571.5L223.5,572.7L228.0,569.5L232.5,569.5L236.0,567.5L239.0,564.5L242.5,563.5L247.0,562.4L250.5,562.9L255.0,562.9L254.0,560.4L249.5,557.4L245.5,556.4L242.5,557.9L238.0,556.9L234.5,557.4L233.5,555.4L236.5,550.9L239.0,547.2L244.5,548.9L248.5,546.9L251.5,544.9L252.0,541.9L255.5,538.4L259.5,535.4L258.0,533.4L260.0,530.4L267.0,529.1L273.5,528.6L279.5,530.4L283.5,531.4L286.0,534.4L288.0,537.4L292.0,542.4L293.5,547.4L298.5,548.4L303.0,549.4L308.5,551.9L309.5,554.9L308.5,556.9L313.0,557.9L318.5,557.9L322.5,555.9L328.5,554.9L331.0,554.4L329.0,557.9L326.5,559.9L325.0,564.5L323.0,568.5L321.0,570.5L315.0,570.0L310.5,572.0L311.5,576.5L312.0,579.5L310.5,582.0L308.5,584.5L306.5,582.5L303.5,584.5L300.5,586.5L296.0,587.0L297.0,589.0L292.0,589.0L288.5,588.0L285.5,592.0L280.5,594.5L277.0,597.1L272.0,598.1L266.5,600.6L262.0,602.6L263.5,600.1L263.0,598.6L265.5,596.6L266.5,594.0L263.0,592.0L259.5,594.0L254.5,597.1L250.5,600.6L245.5,601.1L244.0,603.6L246.5,606.6L250.5,610.6L254.5,610.1L257.0,608.6L261.5,608.6L268.0,609.6L267.0,612.1L260.5,614.1L257.5,616.1L252.5,620.6L251.5,623.6L257.0,625.1L259.5,632.2L262.5,635.2L265.0,638.2L265.0,642.2L260.5,644.2L263.0,646.7L265.5,647.2L263.0,653.7L261.0,656.2L258.5,659.2L256.5,662.7L253.5,665.8L253.0,669.8L250.0,672.3L246.0,674.3L243.5,677.3L239.0,680.3L235.5,682.3L231.0,683.3L226.5,685.3L223.0,685.8L220.5,687.3L215.5,688.3L210.5,689.8L207.5,690.8L206.5,695.3L205.0,694.8L204.0,691.8L204.0,689.3L201.0,689.3L198.0,688.3L195.5,689.1L192.5,688.3L189.0,686.8L189.0,682.8L185.5,682.3L182.5,680.3L179.5,681.3L176.5,683.3L173.0,683.3L170.0,684.8L166.5,684.8L164.0,684.3L163.5,688.8L161.5,689.8L158.0,689.3L155.5,688.3L153.0,686.3L152.0,683.8L153.0,681.8L150.0,680.8L149.0,677.3L146.5,676.3L144.0,677.3L143.0,674.8L143.5,671.8L146.5,669.8L148.5,667.3L149.0,663.2L149.0,659.2L147.0,657.2L145.5,655.7L142.5,655.2L140.0,657.7L136.5,660.2L132.0,662.7L127.5,662.2L122.5,662.7L117.5,662.2L115.5,660.2L114.0,657.7L108.5,656.7L105.0,655.2L101.5,657.7L99.5,660.2L98.5,656.2L96.0,657.2L90.5,657.2L85.5,657.2L81.5,655.2L76.5,653.7L71.5,650.7L66.5,646.7L62.0,645.7L60.5,645.7L56.5,643.2L52.0,641.7L49.5,639.2L49.0,635.7L47.5,633.7L52.0,633.7L53.0,630.7L50.5,627.1L49.0,625.1L46.0,621.6L45.5,619.1L40.5,618.6L36.5,617.1L33.5,614.1L31.5,612.1L28.0,611.1L30.0,608.6L29.5,604.6L25.5,603.6L24.5,601.6L23.0,599.3ZM260.5,671.3L263.5,670.3L265.5,671.8L263.5,676.8L262.5,681.3L260.0,685.3L259.0,687.3L256.5,683.8L256.0,681.3L256.5,677.8L259.0,673.8ZM198.5,700.9L201.5,704.9L203.5,705.9L208.0,703.4L210.5,698.9L208.5,696.3L205.5,696.3L202.0,697.4L199.0,698.9Z" fill="none" stroke="#4a4a4a" stroke-width="0.9"/>
<path d="M252.0,708.9L255.5,714.9M262.0,685.3L264.5,690.3M252.5,705.4L254.5,700.4M268.5,673.8L269.5,669.8" fill="none" stroke="#666" stroke-width="0.9"/>
<circle cx="213.5" cy="714.4" r="0.7" fill="#777"/>
<circle cx="217.0" cy="712.9" r="0.7" fill="#777"/>
<circle cx="219.0" cy="715.4" r="0.7" fill="#777"/>
<circle cx="215.0" cy="716.9" r="0.7" fill="#777"/>
<circle cx="239.0" cy="692.8" r="0.7" fill="#777"/>
</g>
<rect x="21.1" y="647.7" width="36.9" height="40.299999999999955" fill="#fff" stroke="#555" stroke-width="0.9"/>
<clipPath id="iclip-c"><rect x="21.1" y="647.7" width="36.9" height="40.299999999999955"/></clipPath>
<g clip-path="url(#iclip-c)" fill="none" stroke="#444" stroke-width="0.6">
<path d="M-12.8,627.3L-12.2,626.9L-11.7,626.2L-10.9,625.7L-9.9,625.4L-9.0,625.7L-8.3,624.8L-7.2,624.8L-6.4,624.3L-5.7,623.8L-4.2,623.1L-3.6,622.8L-3.5,621.7L-2.8,621.2L-3.2,619.7L-3.4,618.5L-3.9,618.2L-1.6,617.7L-0.5,617.9L-0.8,617.1L-0.1,615.8L0.2,614.6L1.6,614.9L2.9,614.9L3.7,614.6L3.7,613.0L4.6,612.5L5.4,611.8L6.1,611.4L6.9,611.7L6.8,612.3L7.8,612.8L9.1,613.5L10.2,613.8L11.0,615.1L11.1,616.4L10.7,617.4L11.5,618.0L13.6,618.2L14.5,618.3L16.2,619.2L17.1,619.5L17.8,621.0L18.5,622.0L19.6,621.8L22.7,622.2L24.5,622.1L25.9,622.3L27.9,623.3L29.6,623.6L30.5,623.8L32.7,622.6L34.6,622.4L36.4,622.4L37.6,621.8L38.6,620.8L39.7,620.3L39.3,619.4L39.7,618.0L40.8,618.2L42.0,618.6L43.2,617.6L44.5,617.6L45.4,616.9L46.2,615.9L47.2,615.6L48.4,615.3L49.4,615.4L50.6,615.4L50.3,614.6L49.1,613.6L48.0,613.3L47.2,613.8L46.0,613.5L45.0,613.6L44.7,613.0L45.6,611.5L46.2,610.3L47.8,610.8L48.8,610.2L49.7,609.5L49.8,608.5L50.8,607.4L51.9,606.4L51.4,605.8L52.0,604.8L53.9,604.4L55.7,604.2L57.3,604.8L58.4,605.1L59.1,606.1L59.6,607.1L60.7,608.7L61.1,610.3L62.5,610.7L63.7,611.0L65.2,611.8L65.5,612.8L65.2,613.5L66.5,613.8L68.0,613.8L69.1,613.1L70.7,612.8L71.4,612.6L70.8,613.8L70.2,614.4L69.8,615.9L69.2,617.2L68.7,617.9L67.0,617.7L65.8,618.4L66.1,619.9L66.2,620.8L65.8,621.7L65.2,622.5L64.7,621.8L63.9,622.5L63.1,623.1L61.8,623.3L62.1,623.9L60.7,623.9L59.8,623.6L59.0,624.9L57.6,625.7L56.6,626.6L55.3,626.9L53.8,627.7L52.5,628.4L52.9,627.6L52.8,627.1L53.5,626.4L53.8,625.6L52.8,624.9L51.9,625.6L50.5,626.6L49.4,627.7L48.0,627.9L47.6,628.7L48.3,629.7L49.4,631.0L50.5,630.8L51.2,630.3L52.4,630.3L54.2,630.7L53.9,631.5L52.1,632.1L51.3,632.8L49.9,634.3L49.7,635.2L51.2,635.7L51.9,638.0L52.7,639.0L53.4,640.0L53.4,641.3L52.1,642.0L52.8,642.8L53.5,642.9L52.8,645.1L52.3,645.9L51.6,646.9L51.0,648.0L50.2,649.0L50.1,650.3L49.3,651.1L48.2,651.8L47.5,652.8L46.2,653.8L45.3,654.4L44.1,654.7L42.8,655.4L41.9,655.6L41.2,656.1L39.8,656.4L38.5,656.9L37.6,657.2L37.4,658.7L37.0,658.5L36.7,657.5L36.7,656.7L35.9,656.7L35.0,656.4L34.4,656.6L33.5,656.4L32.6,655.9L32.6,654.6L31.6,654.4L30.8,653.8L30.0,654.1L29.2,654.7L28.2,654.7L27.4,655.2L26.4,655.2L25.7,655.1L25.6,656.5L25.1,656.9L24.1,656.7L23.4,656.4L22.7,655.7L22.5,654.9L22.7,654.3L21.9,653.9L21.6,652.8L21.0,652.5L20.3,652.8L20.0,652.0L20.1,651.0L21.0,650.3L21.5,649.5L21.6,648.2L21.6,646.9L21.1,646.2L20.7,645.7L19.9,645.6L19.2,646.4L18.2,647.2L17.0,648.0L15.8,647.9L14.4,648.0L13.0,647.9L12.5,647.2L12.1,646.4L10.6,646.1L9.6,645.6L8.7,646.4L8.1,647.2L7.8,645.9L7.2,646.2L5.7,646.2L4.3,646.2L3.2,645.6L1.8,645.1L0.5,644.1L-0.9,642.8L-2.1,642.5L-2.5,642.5L-3.6,641.6L-4.9,641.1L-5.6,640.3L-5.7,639.2L-6.1,638.5L-4.9,638.5L-4.6,637.5L-5.3,636.4L-5.7,635.7L-6.5,634.6L-6.6,633.8L-8.0,633.6L-9.1,633.1L-9.9,632.1L-10.5,631.5L-11.4,631.2L-10.9,630.3L-11.0,629.0L-12.1,628.7L-12.4,628.0L-12.8,627.3ZM52.1,650.8L52.9,650.5L53.5,651.0L52.9,652.6L52.7,654.1L52.0,655.4L51.7,656.1L51.0,654.9L50.9,654.1L51.0,652.9L51.7,651.6ZM35.2,660.5L36.0,661.8L36.5,662.1L37.8,661.3L38.5,659.8L37.9,659.0L37.1,659.0L36.1,659.3L35.3,659.8Z" stroke-width="0.8"/>
<path d="M-6.9,633.6L-4.6,633.9L-1.7,633.8L1.6,633.1L4.7,632.5L7.7,632.3L9.9,631.6L11.0,630.7L10.3,628.9L13.6,627.4L13.9,625.4L15.8,623.9L18.4,621.8M9.6,632.1L10.9,633.3L12.2,634.1L13.2,635.2L12.8,636.9L13.6,638.2L15.2,638.2L16.6,638.0L18.0,638.7L19.3,639.0L20.4,638.0M20.4,638.0L21.4,639.5L21.9,642.0L21.8,643.6L21.5,645.1L21.5,645.7M20.4,638.0L21.6,637.2L23.4,638.2L25.1,638.2L25.9,636.9L26.6,637.2M11.8,628.0L15.9,629.0L18.6,628.9L20.4,627.7L21.8,628.0L23.0,629.4L24.8,630.0L26.8,631.3L27.2,632.5L26.8,633.8L25.9,634.6L25.6,635.9L26.6,637.2M19.9,622.0L21.0,625.3L23.4,626.6L26.2,628.6L28.2,627.6L29.2,628.9L29.3,630.5M29.3,630.7L30.5,630.3L31.4,628.7L32.3,627.4L32.7,627.7L33.0,629.0L33.8,629.8L33.4,631.2L32.3,631.8L32.7,633.3L31.9,634.3L31.1,633.4L30.8,632.1L29.7,631.3L29.3,630.7M33.8,629.8L35.0,629.7L37.1,628.0L38.2,627.4L38.7,627.2L39.3,626.1L40.5,625.9L42.3,625.6L43.0,624.9L43.2,623.5L44.6,623.0L46.0,622.3L47.3,622.5L48.7,623.1L49.7,623.9L50.8,622.3L52.8,621.5L53.9,622.0L54.9,620.7L55.5,619.0L54.4,617.4L53.2,615.8L54.9,614.1L56.2,612.8L57.9,611.2L58.5,609.5L59.0,607.6L58.4,605.4M38.7,627.2L38.0,628.9L37.8,630.5L37.8,633.0L37.5,634.6L37.6,635.2M42.3,625.6L42.7,626.4L42.3,628.0L41.9,630.5L42.6,632.1L42.0,633.3L40.5,634.3L39.1,634.9L37.6,635.2M33.8,629.8L34.4,631.3L35.2,632.5L33.7,633.9L32.3,634.9L32.3,637.1L31.1,638.4M31.1,638.4L29.6,638.4L28.2,637.1L26.6,637.2M31.1,638.4L32.3,638.9L33.7,639.2L35.0,639.2L36.5,640.0L37.4,638.7L38.5,637.5L37.9,635.9L37.6,635.2M38.5,637.5L39.8,638.7L41.9,639.8L43.2,640.2L44.6,639.8L45.0,638.2L46.0,636.2L45.3,635.2L44.5,634.6L43.8,633.1L42.6,632.1M42.6,632.1L44.6,631.6L46.0,630.3L47.3,629.4L48.0,629.5M45.3,635.2L47.3,635.4L48.7,634.9L49.8,634.6M46.0,636.2L47.8,637.2L48.7,638.2L49.0,639.8L49.7,640.8L50.2,640.8L51.4,641.1L52.1,641.5M44.6,639.8L45.3,641.6L46.2,642.8L47.3,643.3L48.4,643.4L49.4,642.3L50.2,640.8M48.4,643.4L48.7,645.1L48.0,646.6L47.1,647.7L46.0,649.3L45.6,651.0L45.0,651.6M48.0,646.6L50.1,646.7L51.4,647.2M45.6,651.0L46.4,651.6L46.9,653.3M45.0,651.6L43.7,651.6L42.6,650.5L41.2,650.6L39.8,651.3M42.6,650.5L42.6,648.5L42.3,646.9L42.8,645.2L42.3,644.1L40.5,643.6L38.5,643.1L37.1,643.6L36.4,643.1M42.3,644.1L43.9,643.6L45.3,643.1L45.3,641.6M36.4,643.1L36.0,642.0L37.1,640.8L36.5,640.0M35.0,639.2L33.7,640.3L32.3,641.8L31.6,643.3L30.9,644.1L31.6,645.2L32.3,645.2L33.7,644.4L35.0,645.2L36.0,645.1L36.4,643.1M21.5,645.2L22.7,646.1L24.1,646.4L24.8,648.5L26.2,649.0L27.5,648.5L28.2,646.4L29.6,646.1L30.9,646.1L31.6,645.2M29.6,646.1L29.6,649.3L29.8,651.0L30.5,651.3L30.9,652.6L31.4,653.9M30.5,651.3L32.3,651.0L33.7,650.5L35.0,650.2L36.1,649.7L36.4,648.0L36.0,646.7L36.0,645.1M36.1,649.7L37.8,649.3L38.9,650.2L39.8,651.3L39.1,652.6L39.3,654.3L37.9,655.6L36.8,656.7M53.9,622.0L55.5,621.2L56.9,621.5L58.3,622.3L59.0,623.3L58.0,625.4M53.2,615.8L55.5,616.9L57.3,617.9L59.0,618.2L61.0,619.0L62.4,619.9L63.7,619.9L65.8,619.4M49.7,623.9L50.1,625.6L50.1,626.6" stroke-width="0.6"/>
<circle cx="39.3" cy="664.7" r="0.7" fill="#666" stroke="none"/>
<circle cx="40.2" cy="665.1" r="0.6" fill="#666" stroke="none"/>
<circle cx="41.5" cy="665.4" r="0.8" fill="#666" stroke="none"/>
<circle cx="46.2" cy="658.0" r="0.7" fill="#666" stroke="none"/>
<circle cx="47.8" cy="667.0" r="0.5" fill="#666" stroke="none"/>
<circle cx="43.0" cy="674.2" r="0.6" fill="#666" stroke="none"/>
<circle cx="44.3" cy="674.9" r="0.8" fill="#666" stroke="none"/>
<circle cx="45.3" cy="673.9" r="0.6" fill="#666" stroke="none"/>
<circle cx="46.1" cy="674.1" r="0.5" fill="#666" stroke="none"/>
<circle cx="43.7" cy="676.0" r="0.6" fill="#666" stroke="none"/>
<circle cx="42.3" cy="676.9" r="0.5" fill="#666" stroke="none"/>
<circle cx="42.8" cy="678.3" r="0.6" fill="#666" stroke="none"/>
<circle cx="40.9" cy="677.8" r="0.5" fill="#666" stroke="none"/>
<circle cx="40.2" cy="679.5" r="0.6" fill="#666" stroke="none"/>
<circle cx="38.7" cy="680.8" r="0.7" fill="#666" stroke="none"/>
<circle cx="46.9" cy="671.8" r="0.5" fill="#666" stroke="none"/>
<circle cx="48.0" cy="669.8" r="0.5" fill="#666" stroke="none"/>
<circle cx="47.5" cy="674.2" r="0.5" fill="#666" stroke="none"/>
<circle cx="40.2" cy="685.4" r="0.7" fill="#666" stroke="none"/>
<circle cx="40.2" cy="682.8" r="0.5" fill="#666" stroke="none"/>
</g>
<rect x="75.0" y="703.75" width="45.5" height="5.0" fill="#fff" stroke="#666" stroke-width="0.7"/>
<rect x="30.0" y="703.75" width="45.0" height="5.0" fill="#000"/>
<text x="30.0" y="698.9" font-size="9.9" text-anchor="middle" fill="#111">0</text>
<text x="52.5" y="698.9" font-size="9.9" text-anchor="middle" fill="#111">500</text>
<text x="75.0" y="698.9" font-size="9.9" text-anchor="middle" fill="#111">1,000</text>
<text x="120.5" y="698.9" font-size="9.9" text-anchor="middle" fill="#111">2,000</text>
<text x="123.5" y="710.0" font-size="10.7" fill="#111">km</text>
<rect x="19.5" y="523.5" width="380.5" height="188.5" fill="none" stroke="#666" stroke-width="1.25"/>
<line x1="55.5" y1="712.0" x2="55.5" y2="714.0" stroke="#5a5a5a"/>
<line x1="55.5" y1="523.5" x2="55.5" y2="521.5" stroke="#5a5a5a"/>
<text x="55.5" y="724.6" font-size="11.4" text-anchor="middle" fill="#1a1a1a">80°E</text>
<line x1="155.5" y1="712.0" x2="155.5" y2="714.0" stroke="#5a5a5a"/>
<line x1="155.5" y1="523.5" x2="155.5" y2="521.5" stroke="#5a5a5a"/>
<text x="155.5" y="724.6" font-size="11.4" text-anchor="middle" fill="#1a1a1a">100°E</text>
<line x1="255.5" y1="712.0" x2="255.5" y2="714.0" stroke="#5a5a5a"/>
<line x1="255.5" y1="523.5" x2="255.5" y2="521.5" stroke="#5a5a5a"/>
<text x="255.5" y="724.6" font-size="11.4" text-anchor="middle" fill="#1a1a1a">120°E</text>
<line x1="355.5" y1="712.0" x2="355.5" y2="714.0" stroke="#5a5a5a"/>
<line x1="355.5" y1="523.5" x2="355.5" y2="521.5" stroke="#5a5a5a"/>
<text x="355.5" y="724.6" font-size="11.4" text-anchor="middle" fill="#1a1a1a">140°E</text>
<line x1="19.5" y1="646.7" x2="17.5" y2="646.7" stroke="#5a5a5a"/>
<line x1="400.0" y1="646.7" x2="402.0" y2="646.7" stroke="#5a5a5a"/>
<text transform="translate(15.5,646.7) rotate(-90)" font-size="11.8" text-anchor="middle" fill="#1a1a1a">30°N</text>
<line x1="19.5" y1="546.4" x2="17.5" y2="546.4" stroke="#5a5a5a"/>
<line x1="400.0" y1="546.4" x2="402.0" y2="546.4" stroke="#5a5a5a"/>
<text transform="translate(15.5,546.4) rotate(-90)" font-size="11.8" text-anchor="middle" fill="#1a1a1a">50°N</text>
<text x="21.7" y="515.6" font-size="20.8" fill="#111">(c)</text>
<text x="74.1" y="539.0" font-size="12.7" fill="#1a1a1a">AR(1) trend</text>
<text x="326.5" y="542.0" font-size="13.8" fill="#1a1a1a">after BPs</text>
<rect x="279.8" y="596.2" width="119.2" height="115.2" fill="#fff"/>
<rect x="302.40" y="690.0" width="9.17" height="3.4" fill="#0b3470" stroke="#333" stroke-opacity="0.35" stroke-width="0.5"/>
<rect x="311.57" y="670.6" width="9.17" height="22.8" fill="#0b56b0" stroke="#333" stroke-opacity="0.35" stroke-width="0.5"/>
<rect x="320.74" y="658.1" width="9.17" height="35.3" fill="#4a9ff2" stroke="#333" stroke-opacity="0.35" stroke-width="0.5"/>
<rect x="329.91" y="658.1" width="9.17" height="35.3" fill="#98c2f4" stroke="#333" stroke-opacity="0.35" stroke-width="0.5"/>
<rect x="339.08" y="683.1" width="9.17" height="10.3" fill="#c8ddf6" stroke="#333" stroke-opacity="0.35" stroke-width="0.5"/>
<rect x="348.25" y="680.9" width="9.17" height="12.5" fill="#fcd0d2" stroke="#333" stroke-opacity="0.35" stroke-width="0.5"/>
<rect x="357.42" y="645.5" width="9.17" height="47.9" fill="#f98486" stroke="#333" stroke-opacity="0.35" stroke-width="0.5"/>
<rect x="366.59" y="630.7" width="9.17" height="62.7" fill="#f34648" stroke="#333" stroke-opacity="0.35" stroke-width="0.5"/>
<rect x="375.76" y="626.8" width="9.17" height="66.6" fill="#c3040f" stroke="#333" stroke-opacity="0.35" stroke-width="0.5"/>
<rect x="384.93" y="679.7" width="9.17" height="13.7" fill="#760a12" stroke="#333" stroke-opacity="0.35" stroke-width="0.5"/>
<line x1="301.8" y1="602.2" x2="301.8" y2="693.4" stroke="#777" stroke-width="0.7"/>
<text x="299.8" y="696.0" font-size="7.6" text-anchor="end" fill="#222">0</text>
<text x="299.8" y="673.2" font-size="7.6" text-anchor="end" fill="#222">1</text>
<text x="299.8" y="650.4" font-size="7.6" text-anchor="end" fill="#222">2</text>
<text x="299.8" y="627.6" font-size="7.6" text-anchor="end" fill="#222">3</text>
<text x="299.8" y="604.8" font-size="7.6" text-anchor="end" fill="#222">4</text>
<text x="311.6" y="702.2" font-size="7.4" text-anchor="middle" fill="#222">-0.8</text>
<text x="329.9" y="702.2" font-size="7.4" text-anchor="middle" fill="#222">-0.4</text>
<text x="348.2" y="702.2" font-size="7.4" text-anchor="middle" fill="#222">0.0</text>
<text x="366.6" y="702.2" font-size="7.4" text-anchor="middle" fill="#222">0.4</text>
<text x="384.9" y="702.2" font-size="7.4" text-anchor="middle" fill="#222">0.8</text>
<text x="350.0" y="710.2" font-size="7.4" text-anchor="middle" fill="#222">AR(1) Kendall τ</text>
<text transform="translate(292.1,645.8) rotate(-90)" font-size="7.05" text-anchor="middle" fill="#222">Grid cells count (10<tspan font-size="5" dy="-2.5">4</tspan><tspan dy="2.5">)</tspan></text>
</g>
<g id="panel-f">
<line x1="484.8" y1="525.5" x2="484.8" y2="713.0" stroke="#f1f1f1" stroke-width="1"/>
<line x1="585.9" y1="525.5" x2="585.9" y2="713.0" stroke="#f1f1f1" stroke-width="1"/>
<line x1="687.0" y1="525.5" x2="687.0" y2="713.0" stroke="#f1f1f1" stroke-width="1"/>
<line x1="788.1" y1="525.5" x2="788.1" y2="713.0" stroke="#f1f1f1" stroke-width="1"/>
<line x1="439.5" y1="648.6" x2="816.8" y2="648.6" stroke="#f1f1f1" stroke-width="1"/>
<line x1="439.5" y1="546.7" x2="816.8" y2="546.7" stroke="#f1f1f1" stroke-width="1"/>
<clipPath id="clip-f"><path d="M451.9,600.5L454.0,599.2L456.0,597.1L459.0,595.4L462.6,594.6L466.1,595.6L468.6,592.6L472.7,592.6L475.7,591.0L478.2,589.5L483.8,587.5L485.8,586.4L486.3,582.9L488.8,581.3L487.3,576.8L486.8,573.2L484.8,572.2L493.4,570.6L497.4,571.2L496.4,568.6L499.0,564.5L500.0,561.0L505.0,562.0L510.1,562.0L513.1,561.0L513.1,555.9L516.1,554.3L519.2,552.3L521.7,550.9L524.7,551.8L524.2,553.8L528.3,555.4L532.8,557.4L536.9,558.4L539.9,562.5L540.4,566.6L538.9,569.6L541.9,571.7L549.5,572.2L553.0,572.4L559.1,575.2L562.6,576.3L565.2,580.8L567.7,583.9L571.7,583.4L583.4,584.7L589.9,584.1L595.0,584.9L602.6,588.0L608.6,589.0L612.2,589.5L620.3,585.9L627.4,585.2L633.9,585.2L638.5,583.4L642.0,580.3L646.1,578.8L644.5,575.7L646.1,571.7L650.1,572.2L654.6,573.4L659.2,570.1L663.7,570.1L667.3,568.1L670.3,565.0L673.9,564.0L678.4,563.0L681.9,563.5L686.5,563.5L685.5,561.0L680.9,557.9L676.9,556.9L673.9,558.4L669.3,557.4L665.8,557.9L664.8,555.9L667.8,551.3L670.3,547.5L675.9,549.2L679.9,547.2L683.0,545.2L683.5,542.1L687.0,538.5L691.0,535.5L689.5,533.5L691.5,530.4L698.6,529.1L705.2,528.6L711.3,530.4L715.3,531.4L717.8,534.5L719.9,537.5L723.9,542.6L725.4,547.7L730.5,548.7L735.0,549.8L740.6,552.3L741.6,555.4L740.6,557.4L745.1,558.4L750.7,558.4L754.7,556.4L760.8,555.4L763.3,554.9L761.3,558.4L758.8,560.5L757.3,565.0L755.2,569.1L753.2,571.2L747.2,570.6L742.6,572.7L743.6,577.3L744.1,580.3L742.6,582.9L740.6,585.4L738.6,583.4L735.5,585.4L732.5,587.5L727.9,588.0L729.0,590.0L723.9,590.0L720.4,589.0L717.3,593.1L712.3,595.6L708.7,598.2L703.7,599.2L698.1,601.7L693.6,603.8L695.1,601.2L694.6,599.7L697.1,597.6L698.1,595.1L694.6,593.1L691.0,595.1L686.0,598.2L681.9,601.7L676.9,602.2L675.4,604.8L677.9,607.8L681.9,611.9L686.0,611.4L688.5,609.9L693.1,609.9L699.6,610.9L698.6,613.4L692.1,615.5L689.0,617.5L684.0,622.1L683.0,625.2L688.5,626.7L691.0,633.8L694.1,636.9L696.6,639.9L696.6,644.0L692.1,646.1L694.6,648.6L697.1,649.1L694.6,655.7L692.6,658.3L690.0,661.3L688.0,664.9L685.0,668.0L684.5,672.0L681.4,674.6L677.4,676.6L674.9,679.7L670.3,682.7L666.8,684.8L662.2,685.8L657.7,687.8L654.1,688.3L651.6,689.9L646.6,690.9L641.5,692.4L638.5,693.4L637.5,698.0L635.9,697.5L634.9,694.5L634.9,691.9L631.9,691.9L628.9,690.9L626.3,691.7L623.3,690.9L619.8,689.4L619.8,685.3L616.2,684.8L613.2,682.7L610.2,683.8L607.1,685.8L603.6,685.8L600.6,687.3L597.0,687.3L594.5,686.8L594.0,691.4L592.0,692.4L588.4,691.9L585.9,690.9L583.4,688.9L582.4,686.3L583.4,684.3L580.3,683.2L579.3,679.7L576.8,678.7L574.3,679.7L573.3,677.1L573.8,674.1L576.8,672.0L578.8,669.5L579.3,665.4L579.3,661.3L577.3,659.3L575.8,657.8L572.8,657.3L570.2,659.8L566.7,662.4L562.1,664.9L557.6,664.4L552.5,664.9L547.5,664.4L545.5,662.4L543.9,659.8L538.4,658.8L534.8,657.3L531.3,659.8L529.3,662.4L528.3,658.3L525.7,659.3L520.2,659.3L515.1,659.3L511.1,657.3L506.0,655.7L501.0,652.7L495.9,648.6L491.4,647.6L489.9,647.6L485.8,645.0L481.3,643.5L478.7,641.0L478.2,637.4L476.7,635.4L481.3,635.4L482.3,632.3L479.7,628.7L478.2,626.7L475.2,623.1L474.7,620.6L469.6,620.1L465.6,618.5L462.6,615.5L460.5,613.4L457.0,612.4L459.0,609.9L458.5,605.8L454.5,604.8L453.5,602.7L451.9,600.5ZM692.1,673.6L695.1,672.5L697.1,674.1L695.1,679.2L694.1,683.8L691.5,687.8L690.5,689.9L688.0,686.3L687.5,683.8L688.0,680.2L690.5,676.1ZM629.4,703.6L632.4,707.7L634.4,708.7L639.0,706.2L641.5,701.6L639.5,699.0L636.5,699.0L632.9,700.1L629.9,701.6Z"/></clipPath>
<clipPath id="fclip-f"><rect x="439.5" y="525.5" width="377.3" height="187.5"/></clipPath>
<g clip-path="url(#fclip-f)">
<g clip-path="url(#clip-f)">
<filter id="f34" x="439.5" y="525.5" width="377.29999999999995" height="187.5" filterUnits="userSpaceOnUse" color-interpolation-filters="sRGB"><feGaussianBlur in="SourceAlpha" stdDeviation="2.5" result="b"/><feTurbulence type="fractalNoise" baseFrequency="0.32" numOctaves="2" seed="80" result="n"/><feComponentTransfer in="n" result="u"><feFuncA type="table" tableValues="0.000 0.000 0.000 0.000 0.003 0.014 0.048 0.110 0.207 0.331 0.494 0.673 0.802 0.889 0.951 0.984 0.996 0.999 1.000 1.000 1.000"/></feComponentTransfer><feColorMatrix in="u" type="matrix" values="0 0 0 0 0 0 0 0 0 0 0 0 0 0 0 0 0 0 1 0" result="ua"/><feComponentTransfer in="b" result="bm"><feFuncA type="linear" slope="25" intercept="0"/></feComponentTransfer><feComposite in="b" in2="ua" operator="arithmetic" k2="8" k3="-8" k4="0.5" result="m0"/><feComposite in="m0" in2="bm" operator="in" result="m"/><feFlood flood-color="#a2c4f0"/><feComposite in2="m" operator="in"/><feGaussianBlur stdDeviation="0.6"/></filter>
<g filter="url(#f34)">
<ellipse cx="497.4" cy="579.8" rx="14.5" ry="5.3" transform="rotate(0 497.4 579.8)" fill-opacity="0.103"/>
<ellipse cx="517.7" cy="570.6" rx="14.5" ry="5.9" transform="rotate(0 517.7 570.6)" fill-opacity="0.049"/>
<ellipse cx="492.4" cy="591.5" rx="20.3" ry="4.1" transform="rotate(10 492.4 591.5)" fill-opacity="0.05"/>
<ellipse cx="462.1" cy="603.8" rx="8.7" ry="7.0" transform="rotate(0 462.1 603.8)" fill-opacity="0.071"/>
<ellipse cx="515.1" cy="625.7" rx="20.3" ry="8.8" transform="rotate(0 515.1 625.7)" fill-opacity="0.147"/>
<ellipse cx="540.4" cy="625.7" rx="17.4" ry="8.8" transform="rotate(0 540.4 625.7)" fill-opacity="0.61"/>
<ellipse cx="565.7" cy="646.1" rx="14.5" ry="14.6" transform="rotate(0 565.7 646.1)" fill-opacity="0.498"/>
<ellipse cx="588.4" cy="648.6" rx="11.6" ry="14.6" transform="rotate(0 588.4 648.6)" fill-opacity="0.621"/>
<ellipse cx="681.9" cy="577.3" rx="17.4" ry="11.7" transform="rotate(30 681.9 577.3)" fill-opacity="0.385"/>
<ellipse cx="676.9" cy="554.3" rx="10.5" ry="8.8" transform="rotate(0 676.9 554.3)" fill-opacity="0.114"/>
<ellipse cx="702.2" cy="541.6" rx="14.5" ry="12.9" transform="rotate(0 702.2 541.6)" fill-opacity="0.621"/>
<ellipse cx="709.7" cy="567.1" rx="11.6" ry="11.7" transform="rotate(0 709.7 567.1)" fill-opacity="0.048"/>
<ellipse cx="659.2" cy="661.3" rx="14.5" ry="14.6" transform="rotate(0 659.2 661.3)" fill-opacity="0.228"/>
<ellipse cx="591.0" cy="666.4" rx="11.6" ry="11.7" transform="rotate(0 591.0 666.4)" fill-opacity="0.633"/>
<ellipse cx="593.5" cy="683.2" rx="14.5" ry="9.4" transform="rotate(0 593.5 683.2)" fill-opacity="0.572"/>
<ellipse cx="659.2" cy="582.4" rx="15.2" ry="4.6" transform="rotate(-15.0 659.2 582.4)" fill-opacity="0.294"/>
</g>
<filter id="f35" x="439.5" y="525.5" width="377.29999999999995" height="187.5" filterUnits="userSpaceOnUse" color-interpolation-filters="sRGB"><feGaussianBlur in="SourceAlpha" stdDeviation="2.5" result="b"/><feTurbulence type="fractalNoise" baseFrequency="0.32" numOctaves="2" seed="87" result="n"/><feComponentTransfer in="n" result="u"><feFuncA type="table" tableValues="0.000 0.000 0.000 0.000 0.003 0.014 0.048 0.110 0.207 0.331 0.494 0.673 0.802 0.889 0.951 0.984 0.996 0.999 1.000 1.000 1.000"/></feComponentTransfer><feColorMatrix in="u" type="matrix" values="0 0 0 0 0 0 0 0 0 0 0 0 0 0 0 0 0 0 1 0" result="ua"/><feComponentTransfer in="b" result="bm"><feFuncA type="linear" slope="25" intercept="0"/></feComponentTransfer><feComposite in="b" in2="ua" operator="arithmetic" k2="8" k3="-8" k4="0.5" result="m0"/><feComposite in="m0" in2="bm" operator="in" result="m"/><feFlood flood-color="#f3909a"/><feComposite in2="m" operator="in"/><feGaussianBlur stdDeviation="0.6"/></filter>
<g filter="url(#f35)">
<ellipse cx="522.7" cy="562.0" rx="10.5" ry="7.0" transform="rotate(-30 522.7 562.0)" fill-opacity="0.297"/>
<ellipse cx="502.5" cy="569.6" rx="8.7" ry="5.9" transform="rotate(0 502.5 569.6)" fill-opacity="0.17"/>
<ellipse cx="497.4" cy="579.8" rx="14.5" ry="5.3" transform="rotate(0 497.4 579.8)" fill-opacity="0.17"/>
<ellipse cx="520.2" cy="580.8" rx="14.5" ry="4.1" transform="rotate(0 520.2 580.8)" fill-opacity="0.146"/>
<ellipse cx="545.5" cy="582.4" rx="14.5" ry="5.3" transform="rotate(0 545.5 582.4)" fill-opacity="0.061"/>
<ellipse cx="517.7" cy="570.6" rx="14.5" ry="5.9" transform="rotate(0 517.7 570.6)" fill-opacity="0.076"/>
<ellipse cx="492.4" cy="591.5" rx="20.3" ry="4.1" transform="rotate(10 492.4 591.5)" fill-opacity="0.077"/>
<ellipse cx="502.5" cy="602.7" rx="34.9" ry="9.4" transform="rotate(0 502.5 602.7)" fill-opacity="0.014"/>
<ellipse cx="477.2" cy="610.4" rx="17.4" ry="5.3" transform="rotate(-25 477.2 610.4)" fill-opacity="0.163"/>
<ellipse cx="512.6" cy="614.0" rx="20.3" ry="3.5" transform="rotate(0 512.6 614.0)" fill-opacity="0.085"/>
<ellipse cx="462.1" cy="603.8" rx="8.7" ry="7.0" transform="rotate(0 462.1 603.8)" fill-opacity="0.125"/>
<ellipse cx="492.4" cy="635.9" rx="15.1" ry="15.8" transform="rotate(0 492.4 635.9)" fill-opacity="0.715"/>
<ellipse cx="515.1" cy="625.7" rx="20.3" ry="8.8" transform="rotate(0 515.1 625.7)" fill-opacity="0.261"/>
<ellipse cx="540.4" cy="625.7" rx="17.4" ry="8.8" transform="rotate(0 540.4 625.7)" fill-opacity="0.478"/>
<ellipse cx="515.1" cy="646.1" rx="20.3" ry="8.8" transform="rotate(-15 515.1 646.1)" fill-opacity="0.754"/>
<ellipse cx="542.9" cy="651.1" rx="14.5" ry="8.8" transform="rotate(0 542.9 651.1)" fill-opacity="0.633"/>
<ellipse cx="565.7" cy="646.1" rx="14.5" ry="14.6" transform="rotate(0 565.7 646.1)" fill-opacity="0.544"/>
<ellipse cx="555.6" cy="611.4" rx="17.4" ry="7.0" transform="rotate(0 555.6 611.4)" fill-opacity="0.204"/>
<ellipse cx="563.2" cy="628.2" rx="20.3" ry="9.4" transform="rotate(0 563.2 628.2)" fill-opacity="0.71"/>
<ellipse cx="585.9" cy="610.4" rx="17.4" ry="8.8" transform="rotate(20 585.9 610.4)" fill-opacity="0.583"/>
<ellipse cx="596.0" cy="630.8" rx="10.5" ry="10.5" transform="rotate(0 596.0 630.8)" fill-opacity="0.655"/>
<ellipse cx="588.4" cy="648.6" rx="11.6" ry="14.6" transform="rotate(0 588.4 648.6)" fill-opacity="0.482"/>
<ellipse cx="585.9" cy="595.1" rx="23.3" ry="7.0" transform="rotate(20 585.9 595.1)" fill-opacity="0.043"/>
<ellipse cx="616.2" cy="612.9" rx="11.6" ry="11.7" transform="rotate(0 616.2 612.9)" fill-opacity="0.593"/>
<ellipse cx="639.0" cy="610.4" rx="11.6" ry="14.6" transform="rotate(0 639.0 610.4)" fill-opacity="0.655"/>
<ellipse cx="631.4" cy="597.6" rx="14.5" ry="7.0" transform="rotate(0 631.4 597.6)" fill-opacity="0.417"/>
<ellipse cx="651.6" cy="584.9" rx="20.3" ry="8.8" transform="rotate(20 651.6 584.9)" fill-opacity="0.472"/>
<ellipse cx="681.9" cy="577.3" rx="17.4" ry="11.7" transform="rotate(30 681.9 577.3)" fill-opacity="0.236"/>
<ellipse cx="676.9" cy="554.3" rx="10.5" ry="8.8" transform="rotate(0 676.9 554.3)" fill-opacity="0.185"/>
<ellipse cx="702.2" cy="541.6" rx="14.5" ry="12.9" transform="rotate(0 702.2 541.6)" fill-opacity="0.437"/>
<ellipse cx="724.9" cy="551.8" rx="10.5" ry="8.8" transform="rotate(0 724.9 551.8)" fill-opacity="0.222"/>
<ellipse cx="709.7" cy="567.1" rx="11.6" ry="11.7" transform="rotate(0 709.7 567.1)" fill-opacity="0.087"/>
<ellipse cx="732.5" cy="559.9" rx="11.0" ry="8.2" transform="rotate(0 732.5 559.9)" fill-opacity="0.371"/>
<ellipse cx="726.4" cy="582.4" rx="13.4" ry="9.4" transform="rotate(40 726.4 582.4)" fill-opacity="0.417"/>
<ellipse cx="697.1" cy="592.6" rx="14.5" ry="7.6" transform="rotate(20 697.1 592.6)" fill-opacity="0.273"/>
<ellipse cx="666.8" cy="595.1" rx="11.6" ry="5.9" transform="rotate(20 666.8 595.1)" fill-opacity="0.204"/>
<ellipse cx="666.8" cy="618.0" rx="14.5" ry="17.6" transform="rotate(0 666.8 618.0)" fill-opacity="0.072"/>
<ellipse cx="681.9" cy="616.5" rx="10.5" ry="6.4" transform="rotate(0 681.9 616.5)" fill-opacity="0.072"/>
<ellipse cx="623.8" cy="629.2" rx="17.4" ry="4.7" transform="rotate(0 623.8 629.2)" fill-opacity="0.655"/>
<ellipse cx="613.7" cy="648.6" rx="11.6" ry="11.7" transform="rotate(30 613.7 648.6)" fill-opacity="0.058"/>
<ellipse cx="636.5" cy="651.1" rx="11.6" ry="14.6" transform="rotate(0 636.5 651.1)" fill-opacity="0.484"/>
<ellipse cx="676.9" cy="638.4" rx="11.6" ry="11.7" transform="rotate(0 676.9 638.4)" fill-opacity="0.123"/>
<ellipse cx="659.2" cy="661.3" rx="14.5" ry="14.6" transform="rotate(0 659.2 661.3)" fill-opacity="0.406"/>
<ellipse cx="680.9" cy="663.9" rx="10.5" ry="17.6" transform="rotate(35 680.9 663.9)" fill-opacity="0.406"/>
<ellipse cx="620.3" cy="664.9" rx="11.6" ry="9.4" transform="rotate(0 620.3 664.9)" fill-opacity="0.445"/>
<ellipse cx="591.0" cy="666.4" rx="11.6" ry="11.7" transform="rotate(0 591.0 666.4)" fill-opacity="0.345"/>
<ellipse cx="593.5" cy="683.2" rx="14.5" ry="9.4" transform="rotate(0 593.5 683.2)" fill-opacity="0.323"/>
<ellipse cx="628.9" cy="680.2" rx="14.5" ry="8.8" transform="rotate(0 628.9 680.2)" fill-opacity="0.406"/>
<ellipse cx="654.1" cy="681.7" rx="14.5" ry="7.6" transform="rotate(0 654.1 681.7)" fill-opacity="0.366"/>
<ellipse cx="634.9" cy="703.6" rx="5.8" ry="4.7" transform="rotate(0 634.9 703.6)" fill-opacity="0.308"/>
<ellipse cx="692.1" cy="680.7" rx="3.5" ry="8.8" transform="rotate(15 692.1 680.7)" fill-opacity="0.671"/>
<ellipse cx="692.1" cy="559.4" rx="8.7" ry="10.5" transform="rotate(0 692.1 559.4)" fill-opacity="0.205"/>
</g>
<filter id="f36" x="439.5" y="525.5" width="377.29999999999995" height="187.5" filterUnits="userSpaceOnUse" color-interpolation-filters="sRGB"><feGaussianBlur in="SourceAlpha" stdDeviation="2.5" result="b"/><feTurbulence type="fractalNoise" baseFrequency="0.32" numOctaves="2" seed="73" result="n"/><feComponentTransfer in="n" result="u"><feFuncA type="table" tableValues="0.000 0.000 0.000 0.000 0.003 0.014 0.048 0.110 0.207 0.331 0.494 0.673 0.802 0.889 0.951 0.984 0.996 0.999 1.000 1.000 1.000"/></feComponentTransfer><feColorMatrix in="u" type="matrix" values="0 0 0 0 0 0 0 0 0 0 0 0 0 0 0 0 0 0 1 0" result="ua"/><feComponentTransfer in="b" result="bm"><feFuncA type="linear" slope="25" intercept="0"/></feComponentTransfer><feComposite in="b" in2="ua" operator="arithmetic" k2="8" k3="-8" k4="0.5" result="m0"/><feComposite in="m0" in2="bm" operator="in" result="m"/><feFlood flood-color="#3f84de"/><feComposite in2="m" operator="in"/><feGaussianBlur stdDeviation="0.6"/></filter>
<g filter="url(#f36)">
<ellipse cx="502.5" cy="569.6" rx="8.7" ry="5.9" transform="rotate(0 502.5 569.6)" fill-opacity="0.176"/>
<ellipse cx="497.4" cy="579.8" rx="14.5" ry="5.3" transform="rotate(0 497.4 579.8)" fill-opacity="0.176"/>
<ellipse cx="520.2" cy="580.8" rx="14.5" ry="4.1" transform="rotate(0 520.2 580.8)" fill-opacity="0.068"/>
<ellipse cx="492.4" cy="635.9" rx="15.1" ry="15.8" transform="rotate(0 492.4 635.9)" fill-opacity="0.323"/>
<ellipse cx="515.1" cy="625.7" rx="20.3" ry="8.8" transform="rotate(0 515.1 625.7)" fill-opacity="0.148"/>
<ellipse cx="540.4" cy="625.7" rx="17.4" ry="8.8" transform="rotate(0 540.4 625.7)" fill-opacity="0.417"/>
<ellipse cx="515.1" cy="646.1" rx="20.3" ry="8.8" transform="rotate(-15 515.1 646.1)" fill-opacity="0.376"/>
<ellipse cx="542.9" cy="651.1" rx="14.5" ry="8.8" transform="rotate(0 542.9 651.1)" fill-opacity="0.388"/>
<ellipse cx="565.7" cy="646.1" rx="14.5" ry="14.6" transform="rotate(0 565.7 646.1)" fill-opacity="0.405"/>
<ellipse cx="555.6" cy="611.4" rx="17.4" ry="7.0" transform="rotate(0 555.6 611.4)" fill-opacity="0.093"/>
<ellipse cx="563.2" cy="628.2" rx="20.3" ry="9.4" transform="rotate(0 563.2 628.2)" fill-opacity="0.321"/>
<ellipse cx="585.9" cy="610.4" rx="17.4" ry="8.8" transform="rotate(20 585.9 610.4)" fill-opacity="0.179"/>
<ellipse cx="596.0" cy="630.8" rx="10.5" ry="10.5" transform="rotate(0 596.0 630.8)" fill-opacity="0.247"/>
<ellipse cx="588.4" cy="648.6" rx="11.6" ry="14.6" transform="rotate(0 588.4 648.6)" fill-opacity="0.376"/>
<ellipse cx="639.0" cy="610.4" rx="11.6" ry="14.6" transform="rotate(0 639.0 610.4)" fill-opacity="0.247"/>
<ellipse cx="631.4" cy="597.6" rx="14.5" ry="7.0" transform="rotate(0 631.4 597.6)" fill-opacity="0.173"/>
<ellipse cx="651.6" cy="584.9" rx="20.3" ry="8.8" transform="rotate(20 651.6 584.9)" fill-opacity="0.469"/>
<ellipse cx="681.9" cy="577.3" rx="17.4" ry="11.7" transform="rotate(30 681.9 577.3)" fill-opacity="0.371"/>
<ellipse cx="702.2" cy="541.6" rx="14.5" ry="12.9" transform="rotate(0 702.2 541.6)" fill-opacity="0.49"/>
<ellipse cx="724.9" cy="551.8" rx="10.5" ry="8.8" transform="rotate(0 724.9 551.8)" fill-opacity="0.294"/>
<ellipse cx="732.5" cy="559.9" rx="11.0" ry="8.2" transform="rotate(0 732.5 559.9)" fill-opacity="0.156"/>
<ellipse cx="726.4" cy="582.4" rx="13.4" ry="9.4" transform="rotate(40 726.4 582.4)" fill-opacity="0.25"/>
<ellipse cx="697.1" cy="592.6" rx="14.5" ry="7.6" transform="rotate(20 697.1 592.6)" fill-opacity="0.102"/>
<ellipse cx="666.8" cy="595.1" rx="11.6" ry="5.9" transform="rotate(20 666.8 595.1)" fill-opacity="0.093"/>
<ellipse cx="623.8" cy="629.2" rx="17.4" ry="4.7" transform="rotate(0 623.8 629.2)" fill-opacity="0.247"/>
<ellipse cx="636.5" cy="651.1" rx="11.6" ry="14.6" transform="rotate(0 636.5 651.1)" fill-opacity="0.205"/>
<ellipse cx="659.2" cy="661.3" rx="14.5" ry="14.6" transform="rotate(0 659.2 661.3)" fill-opacity="0.213"/>
<ellipse cx="680.9" cy="663.9" rx="10.5" ry="17.6" transform="rotate(35 680.9 663.9)" fill-opacity="0.213"/>
<ellipse cx="620.3" cy="664.9" rx="11.6" ry="9.4" transform="rotate(0 620.3 664.9)" fill-opacity="0.308"/>
<ellipse cx="591.0" cy="666.4" rx="11.6" ry="11.7" transform="rotate(0 591.0 666.4)" fill-opacity="0.408"/>
<ellipse cx="593.5" cy="683.2" rx="14.5" ry="9.4" transform="rotate(0 593.5 683.2)" fill-opacity="0.392"/>
<ellipse cx="628.9" cy="680.2" rx="14.5" ry="8.8" transform="rotate(0 628.9 680.2)" fill-opacity="0.213"/>
<ellipse cx="654.1" cy="681.7" rx="14.5" ry="7.6" transform="rotate(0 654.1 681.7)" fill-opacity="0.163"/>
<ellipse cx="634.9" cy="703.6" rx="5.8" ry="4.7" transform="rotate(0 634.9 703.6)" fill-opacity="0.114"/>
<ellipse cx="752.7" cy="559.4" rx="8.7" ry="4.7" transform="rotate(0 752.7 559.4)" fill-opacity="0.102"/>
<ellipse cx="692.1" cy="559.4" rx="8.7" ry="10.5" transform="rotate(0 692.1 559.4)" fill-opacity="0.278"/>
<ellipse cx="659.2" cy="582.4" rx="15.2" ry="4.6" transform="rotate(-15.0 659.2 582.4)" fill-opacity="0.507"/>
</g>
<filter id="f37" x="439.5" y="525.5" width="377.29999999999995" height="187.5" filterUnits="userSpaceOnUse" color-interpolation-filters="sRGB"><feGaussianBlur in="SourceAlpha" stdDeviation="2.5" result="b"/><feTurbulence type="fractalNoise" baseFrequency="0.32" numOctaves="2" seed="94" result="n"/><feComponentTransfer in="n" result="u"><feFuncA type="table" tableValues="0.000 0.000 0.000 0.000 0.003 0.014 0.048 0.110 0.207 0.331 0.494 0.673 0.802 0.889 0.951 0.984 0.996 0.999 1.000 1.000 1.000"/></feComponentTransfer><feColorMatrix in="u" type="matrix" values="0 0 0 0 0 0 0 0 0 0 0 0 0 0 0 0 0 0 1 0" result="ua"/><feComponentTransfer in="b" result="bm"><feFuncA type="linear" slope="25" intercept="0"/></feComponentTransfer><feComposite in="b" in2="ua" operator="arithmetic" k2="8" k3="-8" k4="0.5" result="m0"/><feComposite in="m0" in2="bm" operator="in" result="m"/><feFlood flood-color="#e03c4a"/><feComposite in2="m" operator="in"/><feGaussianBlur stdDeviation="0.6"/></filter>
<g filter="url(#f37)">
<ellipse cx="522.7" cy="562.0" rx="10.5" ry="7.0" transform="rotate(-30 522.7 562.0)" fill-opacity="0.527"/>
<ellipse cx="502.5" cy="569.6" rx="8.7" ry="5.9" transform="rotate(0 502.5 569.6)" fill-opacity="0.174"/>
<ellipse cx="497.4" cy="579.8" rx="14.5" ry="5.3" transform="rotate(0 497.4 579.8)" fill-opacity="0.174"/>
<ellipse cx="520.2" cy="580.8" rx="14.5" ry="4.1" transform="rotate(0 520.2 580.8)" fill-opacity="0.145"/>
<ellipse cx="545.5" cy="582.4" rx="14.5" ry="5.3" transform="rotate(0 545.5 582.4)" fill-opacity="0.043"/>
<ellipse cx="517.7" cy="570.6" rx="14.5" ry="5.9" transform="rotate(0 517.7 570.6)" fill-opacity="0.043"/>
<ellipse cx="492.4" cy="591.5" rx="20.3" ry="4.1" transform="rotate(10 492.4 591.5)" fill-opacity="0.058"/>
<ellipse cx="477.2" cy="610.4" rx="17.4" ry="5.3" transform="rotate(-25 477.2 610.4)" fill-opacity="0.235"/>
<ellipse cx="512.6" cy="614.0" rx="20.3" ry="3.5" transform="rotate(0 512.6 614.0)" fill-opacity="0.145"/>
<ellipse cx="462.1" cy="603.8" rx="8.7" ry="7.0" transform="rotate(0 462.1 603.8)" fill-opacity="0.072"/>
<ellipse cx="491.9" cy="614.5" rx="32.9" ry="1.8" transform="rotate(6.0 491.9 614.5)" fill-opacity="0.834"/>
<ellipse cx="492.4" cy="635.9" rx="15.1" ry="15.8" transform="rotate(0 492.4 635.9)" fill-opacity="0.492"/>
<ellipse cx="515.1" cy="625.7" rx="20.3" ry="8.8" transform="rotate(0 515.1 625.7)" fill-opacity="0.217"/>
<ellipse cx="540.4" cy="625.7" rx="17.4" ry="8.8" transform="rotate(0 540.4 625.7)" fill-opacity="0.367"/>
<ellipse cx="515.1" cy="646.1" rx="20.3" ry="8.8" transform="rotate(-15 515.1 646.1)" fill-opacity="0.468"/>
<ellipse cx="542.9" cy="651.1" rx="14.5" ry="8.8" transform="rotate(0 542.9 651.1)" fill-opacity="0.475"/>
<ellipse cx="565.7" cy="646.1" rx="14.5" ry="14.6" transform="rotate(0 565.7 646.1)" fill-opacity="0.403"/>
<ellipse cx="555.6" cy="611.4" rx="17.4" ry="7.0" transform="rotate(0 555.6 611.4)" fill-opacity="0.217"/>
<ellipse cx="563.2" cy="628.2" rx="20.3" ry="9.4" transform="rotate(0 563.2 628.2)" fill-opacity="0.547"/>
<ellipse cx="585.9" cy="610.4" rx="17.4" ry="8.8" transform="rotate(20 585.9 610.4)" fill-opacity="0.642"/>
<ellipse cx="596.0" cy="630.8" rx="10.5" ry="10.5" transform="rotate(0 596.0 630.8)" fill-opacity="0.597"/>
<ellipse cx="588.4" cy="648.6" rx="11.6" ry="14.6" transform="rotate(0 588.4 648.6)" fill-opacity="0.355"/>
<ellipse cx="616.2" cy="612.9" rx="11.6" ry="11.7" transform="rotate(0 616.2 612.9)" fill-opacity="0.69"/>
<ellipse cx="639.0" cy="610.4" rx="11.6" ry="14.6" transform="rotate(0 639.0 610.4)" fill-opacity="0.597"/>
<ellipse cx="631.4" cy="597.6" rx="14.5" ry="7.0" transform="rotate(0 631.4 597.6)" fill-opacity="0.463"/>
<ellipse cx="651.6" cy="584.9" rx="20.3" ry="8.8" transform="rotate(20 651.6 584.9)" fill-opacity="0.439"/>
<ellipse cx="681.9" cy="577.3" rx="17.4" ry="11.7" transform="rotate(30 681.9 577.3)" fill-opacity="0.217"/>
<ellipse cx="676.9" cy="554.3" rx="10.5" ry="8.8" transform="rotate(0 676.9 554.3)" fill-opacity="0.217"/>
<ellipse cx="702.2" cy="541.6" rx="14.5" ry="12.9" transform="rotate(0 702.2 541.6)" fill-opacity="0.308"/>
<ellipse cx="724.9" cy="551.8" rx="10.5" ry="8.8" transform="rotate(0 724.9 551.8)" fill-opacity="0.261"/>
<ellipse cx="732.5" cy="559.9" rx="11.0" ry="8.2" transform="rotate(0 732.5 559.9)" fill-opacity="0.439"/>
<ellipse cx="726.4" cy="582.4" rx="13.4" ry="9.4" transform="rotate(40 726.4 582.4)" fill-opacity="0.439"/>
<ellipse cx="697.1" cy="592.6" rx="14.5" ry="7.6" transform="rotate(20 697.1 592.6)" fill-opacity="0.29"/>
<ellipse cx="666.8" cy="595.1" rx="11.6" ry="5.9" transform="rotate(20 666.8 595.1)" fill-opacity="0.217"/>
<ellipse cx="623.8" cy="629.2" rx="17.4" ry="4.7" transform="rotate(0 623.8 629.2)" fill-opacity="0.597"/>
<ellipse cx="636.5" cy="651.1" rx="11.6" ry="14.6" transform="rotate(0 636.5 651.1)" fill-opacity="0.391"/>
<ellipse cx="676.9" cy="638.4" rx="11.6" ry="11.7" transform="rotate(0 676.9 638.4)" fill-opacity="0.058"/>
<ellipse cx="659.2" cy="661.3" rx="14.5" ry="14.6" transform="rotate(0 659.2 661.3)" fill-opacity="0.319"/>
<ellipse cx="680.9" cy="663.9" rx="10.5" ry="17.6" transform="rotate(35 680.9 663.9)" fill-opacity="0.319"/>
<ellipse cx="620.3" cy="664.9" rx="11.6" ry="9.4" transform="rotate(0 620.3 664.9)" fill-opacity="0.391"/>
<ellipse cx="591.0" cy="666.4" rx="11.6" ry="11.7" transform="rotate(0 591.0 666.4)" fill-opacity="0.29"/>
<ellipse cx="593.5" cy="683.2" rx="14.5" ry="9.4" transform="rotate(0 593.5 683.2)" fill-opacity="0.261"/>
<ellipse cx="628.9" cy="680.2" rx="14.5" ry="8.8" transform="rotate(0 628.9 680.2)" fill-opacity="0.319"/>
<ellipse cx="654.1" cy="681.7" rx="14.5" ry="7.6" transform="rotate(0 654.1 681.7)" fill-opacity="0.29"/>
<ellipse cx="634.9" cy="703.6" rx="5.8" ry="4.7" transform="rotate(0 634.9 703.6)" fill-opacity="0.362"/>
<ellipse cx="692.1" cy="680.7" rx="3.5" ry="8.8" transform="rotate(15 692.1 680.7)" fill-opacity="0.702"/>
<ellipse cx="752.7" cy="559.4" rx="8.7" ry="4.7" transform="rotate(0 752.7 559.4)" fill-opacity="0.145"/>
<ellipse cx="692.1" cy="559.4" rx="8.7" ry="10.5" transform="rotate(0 692.1 559.4)" fill-opacity="0.217"/>
</g>
<filter id="f38" x="439.5" y="525.5" width="377.29999999999995" height="187.5" filterUnits="userSpaceOnUse" color-interpolation-filters="sRGB"><feGaussianBlur in="SourceAlpha" stdDeviation="2.5" result="b"/><feTurbulence type="fractalNoise" baseFrequency="0.32" numOctaves="2" seed="101" result="n"/><feComponentTransfer in="n" result="u"><feFuncA type="table" tableValues="0.000 0.000 0.000 0.000 0.003 0.014 0.048 0.110 0.207 0.331 0.494 0.673 0.802 0.889 0.951 0.984 0.996 0.999 1.000 1.000 1.000"/></feComponentTransfer><feColorMatrix in="u" type="matrix" values="0 0 0 0 0 0 0 0 0 0 0 0 0 0 0 0 0 0 1 0" result="ua"/><feComponentTransfer in="b" result="bm"><feFuncA type="linear" slope="25" intercept="0"/></feComponentTransfer><feComposite in="b" in2="ua" operator="arithmetic" k2="8" k3="-8" k4="0.5" result="m0"/><feComposite in="m0" in2="bm" operator="in" result="m"/><feFlood flood-color="#ae1222"/><feComposite in2="m" operator="in"/><feGaussianBlur stdDeviation="0.6"/></filter>
<g filter="url(#f38)">
<ellipse cx="522.7" cy="562.0" rx="10.5" ry="7.0" transform="rotate(-30 522.7 562.0)" fill-opacity="0.174"/>
<ellipse cx="477.2" cy="610.4" rx="17.4" ry="5.3" transform="rotate(-25 477.2 610.4)" fill-opacity="0.072"/>
<ellipse cx="491.9" cy="614.5" rx="32.9" ry="1.8" transform="rotate(6.0 491.9 614.5)" fill-opacity="0.217"/>
<ellipse cx="492.4" cy="635.9" rx="15.1" ry="15.8" transform="rotate(0 492.4 635.9)" fill-opacity="0.116"/>
<ellipse cx="540.4" cy="625.7" rx="17.4" ry="8.8" transform="rotate(0 540.4 625.7)" fill-opacity="0.068"/>
<ellipse cx="515.1" cy="646.1" rx="20.3" ry="8.8" transform="rotate(-15 515.1 646.1)" fill-opacity="0.143"/>
<ellipse cx="542.9" cy="651.1" rx="14.5" ry="8.8" transform="rotate(0 542.9 651.1)" fill-opacity="0.145"/>
<ellipse cx="565.7" cy="646.1" rx="14.5" ry="14.6" transform="rotate(0 565.7 646.1)" fill-opacity="0.139"/>
<ellipse cx="563.2" cy="628.2" rx="20.3" ry="9.4" transform="rotate(0 563.2 628.2)" fill-opacity="0.215"/>
<ellipse cx="585.9" cy="610.4" rx="17.4" ry="8.8" transform="rotate(20 585.9 610.4)" fill-opacity="0.428"/>
<ellipse cx="596.0" cy="630.8" rx="10.5" ry="10.5" transform="rotate(0 596.0 630.8)" fill-opacity="0.332"/>
<ellipse cx="588.4" cy="648.6" rx="11.6" ry="14.6" transform="rotate(0 588.4 648.6)" fill-opacity="0.114"/>
<ellipse cx="616.2" cy="612.9" rx="11.6" ry="11.7" transform="rotate(0 616.2 612.9)" fill-opacity="0.446"/>
<ellipse cx="639.0" cy="610.4" rx="11.6" ry="14.6" transform="rotate(0 639.0 610.4)" fill-opacity="0.332"/>
<ellipse cx="631.4" cy="597.6" rx="14.5" ry="7.0" transform="rotate(0 631.4 597.6)" fill-opacity="0.217"/>
<ellipse cx="651.6" cy="584.9" rx="20.3" ry="8.8" transform="rotate(20 651.6 584.9)" fill-opacity="0.174"/>
<ellipse cx="702.2" cy="541.6" rx="14.5" ry="12.9" transform="rotate(0 702.2 541.6)" fill-opacity="0.072"/>
<ellipse cx="732.5" cy="559.9" rx="11.0" ry="8.2" transform="rotate(0 732.5 559.9)" fill-opacity="0.174"/>
<ellipse cx="726.4" cy="582.4" rx="13.4" ry="9.4" transform="rotate(40 726.4 582.4)" fill-opacity="0.174"/>
<ellipse cx="623.8" cy="629.2" rx="17.4" ry="4.7" transform="rotate(0 623.8 629.2)" fill-opacity="0.332"/>
<ellipse cx="636.5" cy="651.1" rx="11.6" ry="14.6" transform="rotate(0 636.5 651.1)" fill-opacity="0.072"/>
<ellipse cx="620.3" cy="664.9" rx="11.6" ry="9.4" transform="rotate(0 620.3 664.9)" fill-opacity="0.072"/>
<ellipse cx="692.1" cy="680.7" rx="3.5" ry="8.8" transform="rotate(15 692.1 680.7)" fill-opacity="0.286"/>
</g>
</g>
<path d="M473.7,620.1L482.3,621.1L492.9,620.6L505.0,618.5L516.6,616.5L527.8,616.0L535.9,614.0L539.9,610.9L537.4,605.3L549.5,600.7L550.5,594.6L557.6,590.0L567.2,583.4M534.8,615.5L539.4,619.0L544.4,621.6L548.0,625.2L546.5,630.3L549.5,634.3L555.6,634.3L560.6,633.8L565.7,635.9L570.7,636.9L574.8,633.8M574.8,633.8L578.3,638.4L580.3,646.1L579.8,651.1L578.8,655.7L578.8,657.8M574.8,633.8L579.3,631.3L585.9,634.3L592.0,634.3L595.0,630.3L597.5,631.3M542.9,602.7L558.1,605.8L568.2,605.3L574.8,601.7L579.8,602.7L584.4,606.8L591.0,608.9L598.5,612.9L600.1,616.5L598.5,620.6L595.0,623.1L594.0,627.2L597.5,631.3M572.8,583.9L577.1,594.1L585.9,598.2L596.3,604.5L603.6,601.2L607.1,605.3L607.6,610.4M607.6,610.9L612.2,609.9L615.2,604.8L618.8,600.7L620.3,601.7L621.3,605.8L624.3,608.3L622.8,612.4L618.8,614.5L620.3,619.0L617.2,622.1L614.2,619.6L613.2,615.5L609.2,612.9L607.6,610.9M624.3,608.3L628.9,607.8L636.5,602.7L640.5,600.7L642.5,600.2L644.5,596.6L649.1,596.1L655.7,595.1L658.2,593.1L659.2,588.5L664.3,587.0L669.3,584.9L674.4,585.4L679.4,587.5L683.0,590.0L687.0,584.9L694.6,582.4L698.6,583.9L702.2,579.8L704.7,574.7L700.6,569.6L696.1,564.5L702.2,559.4L707.2,555.4L713.3,550.3L715.8,545.2L717.3,539.1L715.3,532.4M642.5,600.2L640.0,605.3L639.0,610.4L639.0,618.0L638.0,623.1L638.5,625.2M655.7,595.1L657.2,597.6L655.7,602.7L654.1,610.4L656.7,615.5L654.6,619.0L649.1,622.1L644.0,624.1L638.5,625.2M624.3,608.3L626.3,612.9L629.4,616.5L623.8,621.1L618.8,624.1L618.8,630.8L614.2,634.8M614.2,634.8L608.6,634.8L603.6,630.8L597.5,631.3M614.2,634.8L618.8,636.4L623.8,637.4L628.9,637.4L634.4,639.9L637.5,635.9L641.5,632.3L639.5,627.2L638.5,625.2M641.5,632.3L646.6,635.9L654.1,639.4L659.2,640.4L664.3,639.4L665.8,634.3L669.3,628.2L666.8,625.2L663.7,623.1L661.2,618.5L656.7,615.5M656.7,615.5L664.3,614.0L669.3,609.9L674.4,606.8L676.9,607.3M666.8,625.2L674.4,625.7L679.4,624.1L683.5,623.1M669.3,628.2L675.9,631.3L679.4,634.3L680.4,639.4L683.0,642.5L685.0,642.5L689.5,643.5L692.1,644.5M664.3,639.4L666.8,645.0L670.3,648.6L674.4,650.1L678.4,650.6L681.9,647.1L685.0,642.5M678.4,650.6L679.4,655.7L676.9,660.3L673.4,663.9L669.3,669.0L667.8,674.1L665.8,676.1M676.9,660.3L684.5,660.8L689.5,662.4M667.8,674.1L670.8,676.1L672.8,681.2M665.8,676.1L660.7,676.1L656.7,672.5L651.6,673.1L646.6,675.1M656.7,672.5L656.7,666.4L655.7,661.3L657.7,656.2L655.7,652.7L649.1,651.1L641.5,649.6L636.5,651.1L633.9,649.6M655.7,652.7L661.7,651.1L666.8,649.6L666.8,645.0M633.9,649.6L632.4,646.1L636.5,642.5L634.4,639.9M628.9,637.4L623.8,641.0L618.8,645.5L616.2,650.1L613.7,652.7L616.2,656.2L618.8,656.2L623.8,653.7L628.9,656.2L632.4,655.7L633.9,649.6M578.8,656.2L583.4,658.8L588.4,659.8L591.0,666.4L596.0,668.0L601.1,666.4L603.6,659.8L608.6,658.8L613.7,658.8L616.2,656.2M608.6,658.8L608.6,669.0L609.7,674.1L612.2,675.1L613.7,679.2L615.2,683.2M612.2,675.1L618.8,674.1L623.8,672.5L628.9,671.5L632.9,670.0L633.9,664.9L632.4,660.8L632.4,655.7M632.9,670.0L639.0,669.0L643.0,671.5L646.6,675.1L644.0,679.2L644.5,684.3L639.5,688.3L635.4,691.9M698.6,583.9L704.7,581.3L709.7,582.4L714.8,584.9L717.3,588.0L713.8,594.6M696.1,564.5L704.7,568.1L711.3,571.2L717.3,572.2L724.9,574.7L730.0,577.3L735.0,577.3L742.6,575.7M683.0,590.0L684.5,595.1L684.5,598.2" fill="none" stroke="#555" stroke-width="0.85" stroke-linejoin="round"/>
<path d="M451.9,600.5L454.0,599.2L456.0,597.1L459.0,595.4L462.6,594.6L466.1,595.6L468.6,592.6L472.7,592.6L475.7,591.0L478.2,589.5L483.8,587.5L485.8,586.4L486.3,582.9L488.8,581.3L487.3,576.8L486.8,573.2L484.8,572.2L493.4,570.6L497.4,571.2L496.4,568.6L499.0,564.5L500.0,561.0L505.0,562.0L510.1,562.0L513.1,561.0L513.1,555.9L516.1,554.3L519.2,552.3L521.7,550.9L524.7,551.8L524.2,553.8L528.3,555.4L532.8,557.4L536.9,558.4L539.9,562.5L540.4,566.6L538.9,569.6L541.9,571.7L549.5,572.2L553.0,572.4L559.1,575.2L562.6,576.3L565.2,580.8L567.7,583.9L571.7,583.4L583.4,584.7L589.9,584.1L595.0,584.9L602.6,588.0L608.6,589.0L612.2,589.5L620.3,585.9L627.4,585.2L633.9,585.2L638.5,583.4L642.0,580.3L646.1,578.8L644.5,575.7L646.1,571.7L650.1,572.2L654.6,573.4L659.2,570.1L663.7,570.1L667.3,568.1L670.3,565.0L673.9,564.0L678.4,563.0L681.9,563.5L686.5,563.5L685.5,561.0L680.9,557.9L676.9,556.9L673.9,558.4L669.3,557.4L665.8,557.9L664.8,555.9L667.8,551.3L670.3,547.5L675.9,549.2L679.9,547.2L683.0,545.2L683.5,542.1L687.0,538.5L691.0,535.5L689.5,533.5L691.5,530.4L698.6,529.1L705.2,528.6L711.3,530.4L715.3,531.4L717.8,534.5L719.9,537.5L723.9,542.6L725.4,547.7L730.5,548.7L735.0,549.8L740.6,552.3L741.6,555.4L740.6,557.4L745.1,558.4L750.7,558.4L754.7,556.4L760.8,555.4L763.3,554.9L761.3,558.4L758.8,560.5L757.3,565.0L755.2,569.1L753.2,571.2L747.2,570.6L742.6,572.7L743.6,577.3L744.1,580.3L742.6,582.9L740.6,585.4L738.6,583.4L735.5,585.4L732.5,587.5L727.9,588.0L729.0,590.0L723.9,590.0L720.4,589.0L717.3,593.1L712.3,595.6L708.7,598.2L703.7,599.2L698.1,601.7L693.6,603.8L695.1,601.2L694.6,599.7L697.1,597.6L698.1,595.1L694.6,593.1L691.0,595.1L686.0,598.2L681.9,601.7L676.9,602.2L675.4,604.8L677.9,607.8L681.9,611.9L686.0,611.4L688.5,609.9L693.1,609.9L699.6,610.9L698.6,613.4L692.1,615.5L689.0,617.5L684.0,622.1L683.0,625.2L688.5,626.7L691.0,633.8L694.1,636.9L696.6,639.9L696.6,644.0L692.1,646.1L694.6,648.6L697.1,649.1L694.6,655.7L692.6,658.3L690.0,661.3L688.0,664.9L685.0,668.0L684.5,672.0L681.4,674.6L677.4,676.6L674.9,679.7L670.3,682.7L666.8,684.8L662.2,685.8L657.7,687.8L654.1,688.3L651.6,689.9L646.6,690.9L641.5,692.4L638.5,693.4L637.5,698.0L635.9,697.5L634.9,694.5L634.9,691.9L631.9,691.9L628.9,690.9L626.3,691.7L623.3,690.9L619.8,689.4L619.8,685.3L616.2,684.8L613.2,682.7L610.2,683.8L607.1,685.8L603.6,685.8L600.6,687.3L597.0,687.3L594.5,686.8L594.0,691.4L592.0,692.4L588.4,691.9L585.9,690.9L583.4,688.9L582.4,686.3L583.4,684.3L580.3,683.2L579.3,679.7L576.8,678.7L574.3,679.7L573.3,677.1L573.8,674.1L576.8,672.0L578.8,669.5L579.3,665.4L579.3,661.3L577.3,659.3L575.8,657.8L572.8,657.3L570.2,659.8L566.7,662.4L562.1,664.9L557.6,664.4L552.5,664.9L547.5,664.4L545.5,662.4L543.9,659.8L538.4,658.8L534.8,657.3L531.3,659.8L529.3,662.4L528.3,658.3L525.7,659.3L520.2,659.3L515.1,659.3L511.1,657.3L506.0,655.7L501.0,652.7L495.9,648.6L491.4,647.6L489.9,647.6L485.8,645.0L481.3,643.5L478.7,641.0L478.2,637.4L476.7,635.4L481.3,635.4L482.3,632.3L479.7,628.7L478.2,626.7L475.2,623.1L474.7,620.6L469.6,620.1L465.6,618.5L462.6,615.5L460.5,613.4L457.0,612.4L459.0,609.9L458.5,605.8L454.5,604.8L453.5,602.7L451.9,600.5ZM692.1,673.6L695.1,672.5L697.1,674.1L695.1,679.2L694.1,683.8L691.5,687.8L690.5,689.9L688.0,686.3L687.5,683.8L688.0,680.2L690.5,676.1ZM629.4,703.6L632.4,707.7L634.4,708.7L639.0,706.2L641.5,701.6L639.5,699.0L636.5,699.0L632.9,700.1L629.9,701.6Z" fill="none" stroke="#4a4a4a" stroke-width="0.9"/>
<path d="M683.5,711.8L687.0,717.9M693.6,687.8L696.1,692.9M684.0,708.2L686.0,703.1M700.1,676.1L701.2,672.0" fill="none" stroke="#666" stroke-width="0.9"/>
<circle cx="644.5" cy="717.4" r="0.7" fill="#777"/>
<circle cx="648.1" cy="715.9" r="0.7" fill="#777"/>
<circle cx="650.1" cy="718.4" r="0.7" fill="#777"/>
<circle cx="646.1" cy="719.9" r="0.7" fill="#777"/>
<circle cx="670.3" cy="695.5" r="0.7" fill="#777"/>
</g>
<rect x="446.2" y="648.1" width="36.400000000000034" height="41.19999999999993" fill="#fff" stroke="#555" stroke-width="0.9"/>
<clipPath id="iclip-f"><rect x="446.2" y="648.1" width="36.400000000000034" height="41.19999999999993"/></clipPath>
<g clip-path="url(#iclip-f)" fill="none" stroke="#444" stroke-width="0.6">
<path d="M412.8,627.2L413.3,626.8L413.8,626.2L414.7,625.6L415.6,625.3L416.5,625.7L417.2,624.7L418.3,624.7L419.1,624.2L419.8,623.6L421.3,623.0L421.8,622.6L421.9,621.5L422.6,621.0L422.2,619.5L422.1,618.3L421.5,618.0L423.8,617.5L424.9,617.6L424.6,616.8L425.3,615.4L425.6,614.3L426.9,614.6L428.3,614.6L429.1,614.3L429.1,612.6L429.9,612.1L430.7,611.4L431.4,611.0L432.2,611.3L432.0,611.9L433.1,612.4L434.3,613.1L435.4,613.4L436.2,614.8L436.4,616.1L436.0,617.1L436.8,617.8L438.8,618.0L439.7,618.0L441.3,619.0L442.3,619.3L443.0,620.8L443.6,621.8L444.7,621.6L447.8,622.1L449.6,621.9L450.9,622.1L452.9,623.1L454.6,623.5L455.5,623.6L457.7,622.5L459.5,622.2L461.3,622.2L462.5,621.6L463.5,620.6L464.5,620.1L464.1,619.1L464.5,617.8L465.6,618.0L466.8,618.4L468.0,617.3L469.3,617.3L470.2,616.6L471.0,615.6L471.9,615.3L473.2,614.9L474.1,615.1L475.3,615.1L475.1,614.3L473.8,613.3L472.8,612.9L471.9,613.4L470.7,613.1L469.8,613.3L469.5,612.6L470.3,611.1L471.0,609.8L472.5,610.4L473.6,609.7L474.4,609.1L474.5,608.1L475.5,606.9L476.5,605.9L476.1,605.2L476.7,604.2L478.6,603.8L480.3,603.6L481.9,604.2L483.0,604.6L483.7,605.6L484.2,606.6L485.3,608.2L485.7,609.9L487.0,610.2L488.3,610.6L489.7,611.4L490.0,612.4L489.7,613.1L491.0,613.4L492.4,613.4L493.5,612.8L495.1,612.4L495.8,612.3L495.3,613.4L494.6,614.1L494.2,615.6L493.7,616.9L493.1,617.6L491.5,617.5L490.3,618.1L490.6,619.6L490.7,620.6L490.3,621.5L489.7,622.3L489.2,621.6L488.4,622.3L487.6,623.0L486.4,623.1L486.6,623.8L485.3,623.8L484.4,623.5L483.5,624.8L482.2,625.7L481.3,626.5L479.9,626.8L478.4,627.7L477.2,628.3L477.6,627.5L477.5,627.0L478.2,626.3L478.4,625.5L477.5,624.8L476.5,625.5L475.2,626.5L474.1,627.7L472.8,627.8L472.4,628.7L473.0,629.7L474.1,631.0L475.2,630.8L475.9,630.3L477.1,630.3L478.8,630.7L478.6,631.5L476.8,632.2L476.0,632.9L474.6,634.4L474.4,635.4L475.9,635.9L476.5,638.2L477.3,639.2L478.0,640.2L478.0,641.6L476.8,642.2L477.5,643.1L478.2,643.2L477.5,645.4L476.9,646.3L476.3,647.3L475.7,648.4L474.9,649.4L474.8,650.8L474.0,651.6L472.9,652.3L472.2,653.3L471.0,654.3L470.1,655.0L468.8,655.3L467.6,656.0L466.7,656.1L466.0,656.6L464.7,657.0L463.3,657.5L462.5,657.8L462.2,659.3L461.8,659.2L461.6,658.1L461.6,657.3L460.8,657.3L460.0,657.0L459.3,657.2L458.5,657.0L457.5,656.5L457.5,655.1L456.6,655.0L455.8,654.3L455.0,654.6L454.2,655.3L453.2,655.3L452.4,655.8L451.5,655.8L450.8,655.6L450.6,657.1L450.1,657.5L449.2,657.3L448.5,657.0L447.8,656.3L447.5,655.5L447.8,654.8L447.0,654.5L446.7,653.3L446.1,653.0L445.4,653.3L445.1,652.5L445.3,651.4L446.1,650.8L446.6,649.9L446.7,648.6L446.7,647.3L446.2,646.6L445.8,646.1L445.0,645.9L444.3,646.8L443.4,647.6L442.2,648.4L440.9,648.3L439.6,648.4L438.2,648.3L437.7,647.6L437.3,646.8L435.8,646.4L434.9,645.9L433.9,646.8L433.4,647.6L433.1,646.3L432.4,646.6L431.0,646.6L429.6,646.6L428.5,645.9L427.2,645.4L425.8,644.4L424.5,643.1L423.3,642.7L422.9,642.7L421.8,641.9L420.6,641.4L419.9,640.6L419.8,639.4L419.4,638.7L420.6,638.7L420.9,637.7L420.2,636.5L419.8,635.9L419.0,634.7L418.8,633.9L417.5,633.7L416.4,633.2L415.6,632.2L415.1,631.5L414.1,631.2L414.7,630.3L414.5,629.0L413.4,628.7L413.2,628.0L412.8,627.2ZM476.8,651.3L477.6,650.9L478.2,651.4L477.6,653.1L477.3,654.6L476.7,656.0L476.4,656.6L475.7,655.5L475.6,654.6L475.7,653.5L476.4,652.1ZM460.1,661.2L460.9,662.5L461.4,662.8L462.6,662.0L463.3,660.5L462.8,659.7L462.0,659.7L461.0,660.0L460.2,660.5Z" stroke-width="0.8"/>
<path d="M418.6,633.7L420.9,634.0L423.7,633.9L426.9,633.2L430.0,632.5L433.0,632.4L435.1,631.7L436.2,630.7L435.5,628.8L438.8,627.3L439.1,625.3L440.9,623.8L443.5,621.6M434.9,632.2L436.1,633.4L437.4,634.2L438.4,635.4L438.0,637.0L438.8,638.4L440.4,638.4L441.8,638.2L443.1,638.9L444.4,639.2L445.5,638.2M445.5,638.2L446.5,639.7L447.0,642.2L446.9,643.9L446.6,645.4L446.6,646.1M445.5,638.2L446.7,637.4L448.5,638.4L450.1,638.4L450.9,637.0L451.6,637.4M437.0,628.0L441.1,629.0L443.8,628.8L445.5,627.7L446.9,628.0L448.1,629.3L449.8,630.0L451.9,631.4L452.3,632.5L451.9,633.9L450.9,634.7L450.6,636.0L451.6,637.4M445.0,621.8L446.1,625.2L448.5,626.5L451.3,628.6L453.2,627.5L454.2,628.8L454.3,630.5M454.3,630.7L455.5,630.3L456.3,628.7L457.3,627.3L457.7,627.7L457.9,629.0L458.7,629.8L458.3,631.2L457.3,631.9L457.7,633.4L456.9,634.4L456.0,633.5L455.8,632.2L454.7,631.4L454.3,630.7M458.7,629.8L460.0,629.7L462.0,628.0L463.1,627.3L463.6,627.2L464.1,626.0L465.3,625.8L467.1,625.5L467.8,624.8L468.0,623.3L469.4,622.8L470.7,622.1L472.1,622.3L473.4,623.0L474.4,623.8L475.5,622.1L477.5,621.3L478.6,621.8L479.5,620.5L480.2,618.8L479.1,617.1L477.9,615.4L479.5,613.8L480.8,612.4L482.5,610.8L483.1,609.1L483.5,607.1L483.0,604.9M463.6,627.2L462.9,628.8L462.6,630.5L462.6,633.0L462.4,634.7L462.5,635.4M467.1,625.5L467.5,626.3L467.1,628.0L466.7,630.5L467.4,632.2L466.8,633.4L465.3,634.4L464.0,635.0L462.5,635.4M458.7,629.8L459.3,631.4L460.1,632.5L458.6,634.0L457.3,635.0L457.3,637.2L456.0,638.6M456.0,638.6L454.6,638.6L453.2,637.2L451.6,637.4M456.0,638.6L457.3,639.1L458.6,639.4L460.0,639.4L461.4,640.2L462.2,638.9L463.3,637.7L462.8,636.0L462.5,635.4M463.3,637.7L464.7,638.9L466.7,640.1L468.0,640.4L469.4,640.1L469.8,638.4L470.7,636.4L470.1,635.4L469.3,634.7L468.6,633.2L467.4,632.2M467.4,632.2L469.4,631.7L470.7,630.3L472.1,629.3L472.8,629.5M470.1,635.4L472.1,635.5L473.4,635.0L474.5,634.7M470.7,636.4L472.5,637.4L473.4,638.4L473.7,640.1L474.4,641.1L474.9,641.1L476.1,641.4L476.8,641.7M469.4,640.1L470.1,641.9L471.0,643.1L472.1,643.6L473.2,643.7L474.1,642.6L474.9,641.1M473.2,643.7L473.4,645.4L472.8,646.9L471.8,648.1L470.7,649.8L470.3,651.4L469.8,652.1M472.8,646.9L474.8,647.1L476.1,647.6M470.3,651.4L471.1,652.1L471.7,653.8M469.8,652.1L468.4,652.1L467.4,650.9L466.0,651.1L464.7,651.8M467.4,650.9L467.4,648.9L467.1,647.3L467.6,645.6L467.1,644.4L465.3,643.9L463.3,643.4L462.0,643.9L461.3,643.4M467.1,644.4L468.7,643.9L470.1,643.4L470.1,641.9M461.3,643.4L460.9,642.2L462.0,641.1L461.4,640.2M460.0,639.4L458.6,640.6L457.3,642.1L456.6,643.6L455.9,644.4L456.6,645.6L457.3,645.6L458.6,644.8L460.0,645.6L460.9,645.4L461.3,643.4M446.6,645.6L447.8,646.4L449.2,646.8L449.8,648.9L451.2,649.4L452.5,648.9L453.2,646.8L454.6,646.4L455.9,646.4L456.6,645.6M454.6,646.4L454.6,649.8L454.8,651.4L455.5,651.8L455.9,653.1L456.3,654.5M455.5,651.8L457.3,651.4L458.6,650.9L460.0,650.6L461.0,650.1L461.3,648.4L460.9,647.1L460.9,645.4M461.0,650.1L462.6,649.8L463.7,650.6L464.7,651.8L464.0,653.1L464.1,654.8L462.8,656.1L461.7,657.3M478.6,621.8L480.2,621.0L481.5,621.3L482.9,622.1L483.5,623.1L482.6,625.3M477.9,615.4L480.2,616.6L481.9,617.6L483.5,618.0L485.6,618.8L486.9,619.6L488.3,619.6L490.3,619.1M474.4,623.8L474.8,625.5L474.8,626.5" stroke-width="0.6"/>
<circle cx="464.1" cy="665.5" r="0.7" fill="#666" stroke="none"/>
<circle cx="465.1" cy="665.9" r="0.6" fill="#666" stroke="none"/>
<circle cx="466.3" cy="666.2" r="0.8" fill="#666" stroke="none"/>
<circle cx="471.0" cy="658.7" r="0.7" fill="#666" stroke="none"/>
<circle cx="472.5" cy="667.9" r="0.5" fill="#666" stroke="none"/>
<circle cx="467.8" cy="675.2" r="0.6" fill="#666" stroke="none"/>
<circle cx="469.1" cy="675.9" r="0.8" fill="#666" stroke="none"/>
<circle cx="470.1" cy="674.9" r="0.6" fill="#666" stroke="none"/>
<circle cx="470.9" cy="675.1" r="0.5" fill="#666" stroke="none"/>
<circle cx="468.4" cy="677.1" r="0.6" fill="#666" stroke="none"/>
<circle cx="467.1" cy="677.9" r="0.5" fill="#666" stroke="none"/>
<circle cx="467.6" cy="679.4" r="0.6" fill="#666" stroke="none"/>
<circle cx="465.7" cy="678.9" r="0.5" fill="#666" stroke="none"/>
<circle cx="465.1" cy="680.6" r="0.6" fill="#666" stroke="none"/>
<circle cx="463.6" cy="681.9" r="0.7" fill="#666" stroke="none"/>
<circle cx="471.7" cy="672.7" r="0.5" fill="#666" stroke="none"/>
<circle cx="472.8" cy="670.7" r="0.5" fill="#666" stroke="none"/>
<circle cx="472.2" cy="675.2" r="0.5" fill="#666" stroke="none"/>
<circle cx="465.1" cy="686.6" r="0.7" fill="#666" stroke="none"/>
<circle cx="465.1" cy="683.9" r="0.5" fill="#666" stroke="none"/>
</g>
<rect x="490.9" y="704.5" width="45.60000000000002" height="4.399999999999977" fill="#fff" stroke="#666" stroke-width="0.7"/>
<rect x="445.3" y="704.5" width="45.599999999999966" height="4.399999999999977" fill="#000"/>
<text x="445.3" y="699.6" font-size="9.9" text-anchor="middle" fill="#111">0</text>
<text x="468.1" y="699.6" font-size="9.9" text-anchor="middle" fill="#111">500</text>
<text x="490.9" y="699.6" font-size="9.9" text-anchor="middle" fill="#111">1,000</text>
<text x="536.5" y="699.6" font-size="9.9" text-anchor="middle" fill="#111">2,000</text>
<text x="539.5" y="710.1" font-size="10.7" fill="#111">km</text>
<rect x="439.5" y="525.5" width="377.3" height="187.5" fill="none" stroke="#666" stroke-width="1.25"/>
<line x1="484.8" y1="713.0" x2="484.8" y2="715.0" stroke="#5a5a5a"/>
<line x1="484.8" y1="525.5" x2="484.8" y2="523.5" stroke="#5a5a5a"/>
<text x="484.8" y="725.6" font-size="11.4" text-anchor="middle" fill="#1a1a1a">80°E</text>
<line x1="585.9" y1="713.0" x2="585.9" y2="715.0" stroke="#5a5a5a"/>
<line x1="585.9" y1="525.5" x2="585.9" y2="523.5" stroke="#5a5a5a"/>
<text x="585.9" y="725.6" font-size="11.4" text-anchor="middle" fill="#1a1a1a">100°E</text>
<line x1="687.0" y1="713.0" x2="687.0" y2="715.0" stroke="#5a5a5a"/>
<line x1="687.0" y1="525.5" x2="687.0" y2="523.5" stroke="#5a5a5a"/>
<text x="687.0" y="725.6" font-size="11.4" text-anchor="middle" fill="#1a1a1a">120°E</text>
<line x1="788.1" y1="713.0" x2="788.1" y2="715.0" stroke="#5a5a5a"/>
<line x1="788.1" y1="525.5" x2="788.1" y2="523.5" stroke="#5a5a5a"/>
<text x="788.1" y="725.6" font-size="11.4" text-anchor="middle" fill="#1a1a1a">140°E</text>
<line x1="439.5" y1="648.6" x2="437.5" y2="648.6" stroke="#5a5a5a"/>
<line x1="816.8" y1="648.6" x2="818.8" y2="648.6" stroke="#5a5a5a"/>
<text transform="translate(435.5,648.6) rotate(-90)" font-size="11.8" text-anchor="middle" fill="#1a1a1a">30°N</text>
<line x1="439.5" y1="546.7" x2="437.5" y2="546.7" stroke="#5a5a5a"/>
<line x1="816.8" y1="546.7" x2="818.8" y2="546.7" stroke="#5a5a5a"/>
<text transform="translate(435.5,546.7) rotate(-90)" font-size="11.8" text-anchor="middle" fill="#1a1a1a">50°N</text>
<text x="444.0" y="515.6" font-size="20.8" fill="#111">(f)</text>
<text x="496.9" y="541.6" font-size="12.9" fill="#1a1a1a">Variance trend</text>
<text x="749.5" y="543.8" font-size="13.8" fill="#1a1a1a">after BPs</text>
<rect x="703.4" y="599.8" width="112.4" height="111.6" fill="#fff"/>
<rect x="725.70" y="690.6" width="8.73" height="2.8" fill="#0b3470" stroke="#333" stroke-opacity="0.35" stroke-width="0.5"/>
<rect x="734.43" y="675.9" width="8.73" height="17.5" fill="#0b56b0" stroke="#333" stroke-opacity="0.35" stroke-width="0.5"/>
<rect x="743.16" y="662.7" width="8.73" height="30.7" fill="#4a9ff2" stroke="#333" stroke-opacity="0.35" stroke-width="0.5"/>
<rect x="751.89" y="659.5" width="8.73" height="33.9" fill="#98c2f4" stroke="#333" stroke-opacity="0.35" stroke-width="0.5"/>
<rect x="760.62" y="683.1" width="8.73" height="10.3" fill="#c8ddf6" stroke="#333" stroke-opacity="0.35" stroke-width="0.5"/>
<rect x="769.35" y="683.1" width="8.73" height="10.3" fill="#fcd0d2" stroke="#333" stroke-opacity="0.35" stroke-width="0.5"/>
<rect x="778.08" y="650.5" width="8.73" height="42.9" fill="#f98486" stroke="#333" stroke-opacity="0.35" stroke-width="0.5"/>
<rect x="786.81" y="636.5" width="8.73" height="56.9" fill="#f34648" stroke="#333" stroke-opacity="0.35" stroke-width="0.5"/>
<rect x="795.54" y="627.7" width="8.73" height="65.7" fill="#c3040f" stroke="#333" stroke-opacity="0.35" stroke-width="0.5"/>
<rect x="804.27" y="657.3" width="8.73" height="36.1" fill="#760a12" stroke="#333" stroke-opacity="0.35" stroke-width="0.5"/>
<line x1="725.4" y1="605.8" x2="725.4" y2="693.4" stroke="#777" stroke-width="0.7"/>
<text x="723.4" y="696.0" font-size="7.6" text-anchor="end" fill="#222">0</text>
<text x="723.4" y="674.1" font-size="7.6" text-anchor="end" fill="#222">1</text>
<text x="723.4" y="652.2" font-size="7.6" text-anchor="end" fill="#222">2</text>
<text x="723.4" y="630.3" font-size="7.6" text-anchor="end" fill="#222">3</text>
<text x="723.4" y="608.4" font-size="7.6" text-anchor="end" fill="#222">4</text>
<text x="734.4" y="702.2" font-size="7.4" text-anchor="middle" fill="#222">-0.8</text>
<text x="751.9" y="702.2" font-size="7.4" text-anchor="middle" fill="#222">-0.4</text>
<text x="769.4" y="702.2" font-size="7.4" text-anchor="middle" fill="#222">0.0</text>
<text x="786.8" y="702.2" font-size="7.4" text-anchor="middle" fill="#222">0.4</text>
<text x="804.3" y="702.2" font-size="7.4" text-anchor="middle" fill="#222">0.8</text>
<text x="769.5" y="710.2" font-size="7.4" text-anchor="middle" fill="#222">Variance Kendall τ</text>
<text transform="translate(716.7,647.6) rotate(-90)" font-size="7.05" text-anchor="middle" fill="#222">Grid cells count (10<tspan font-size="5" dy="-2.5">4</tspan><tspan dy="2.5">)</tspan></text>
</g>
</svg></body></html>
